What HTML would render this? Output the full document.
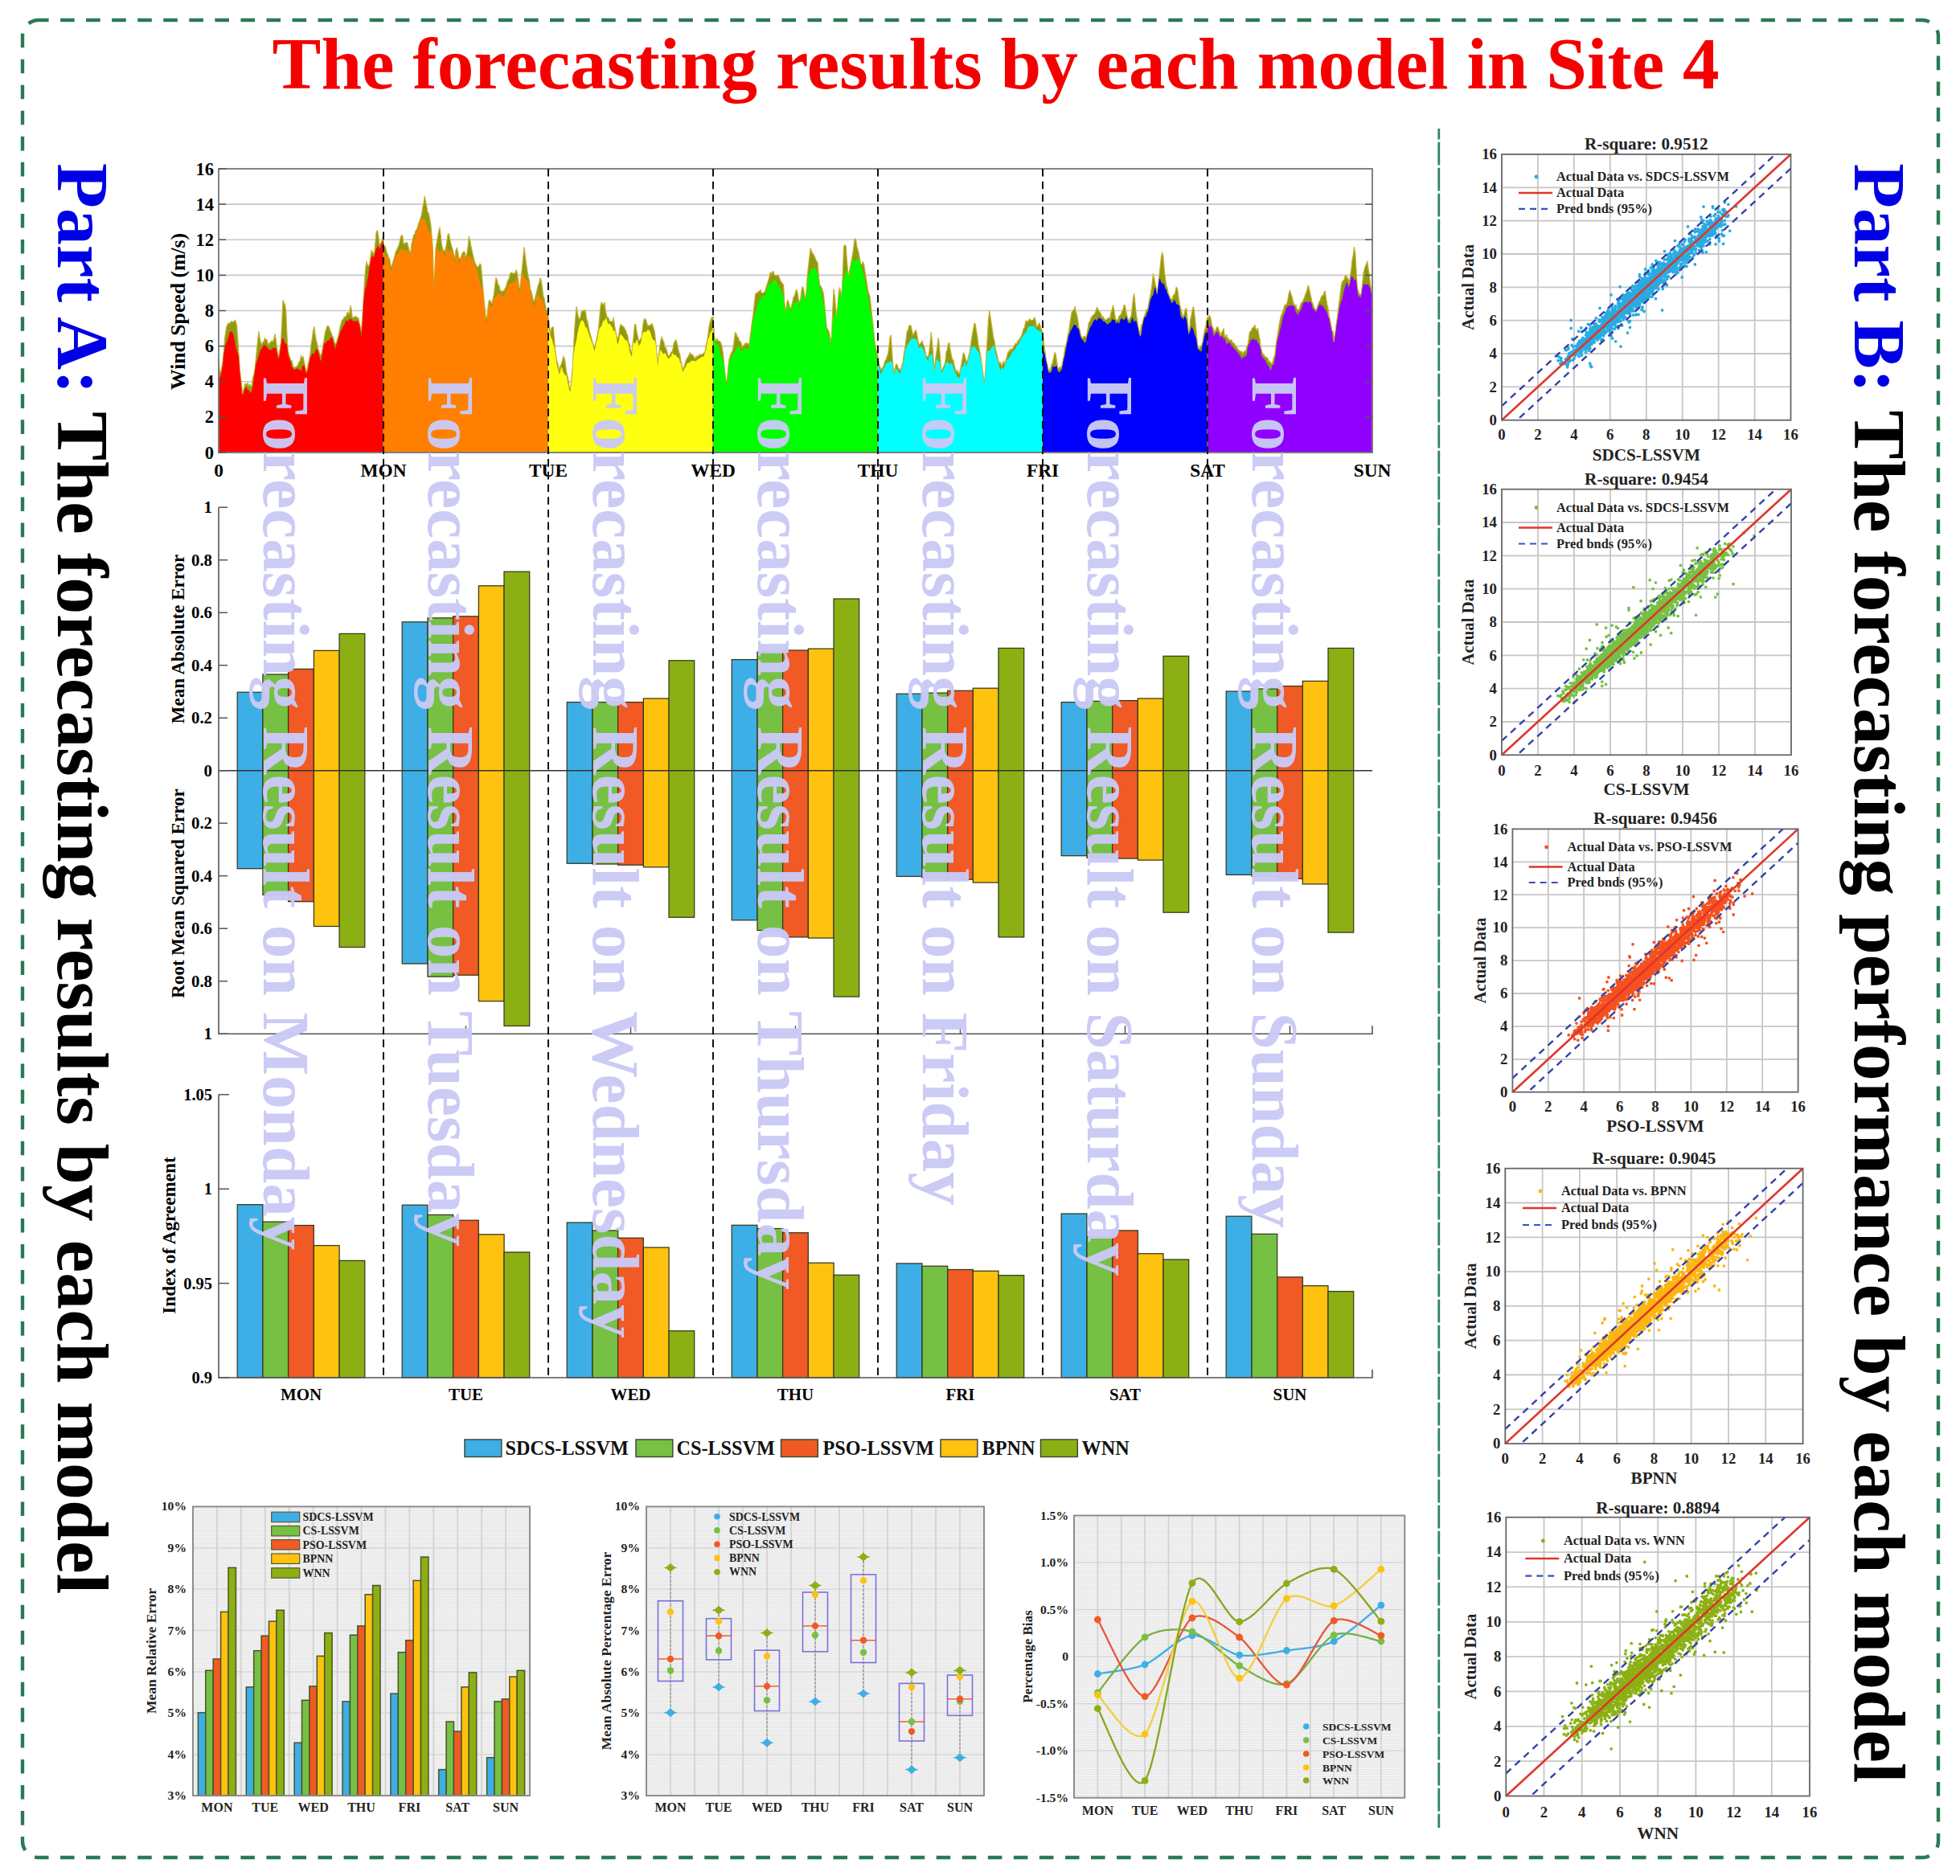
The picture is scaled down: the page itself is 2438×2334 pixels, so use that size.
<!DOCTYPE html>
<html><head><meta charset="utf-8"><title>The forecasting results by each model in Site 4</title>
<style>html,body{margin:0;padding:0;background:#fff}svg{display:block}text{font-family:"Liberation Serif",serif}</style></head>
<body><svg width="2438" height="2334" viewBox="0 0 2438 2334">
<rect width="2438" height="2334" fill="#fff"/>
<rect x="28" y="25" width="2383" height="2286" rx="20" ry="20" fill="none" stroke="#297b55" stroke-width="4.4" stroke-dasharray="17.6 14.45" stroke-dashoffset="5"/>
<line x1="1789.8" y1="160" x2="1789.8" y2="2274" stroke="#2f8560" stroke-width="2.8" stroke-dasharray="28.8 3.2" stroke-dashoffset="15.2"/>
<text x="1238.6" y="110.0" font-size="91.2" font-weight="bold" text-anchor="middle" fill="#f50000" >The forecasting results by each model in Site 4</text>
<text transform="translate(71.5,203) rotate(90)" font-size="91.7" font-weight="bold"><tspan fill="#0000e6">Part A:</tspan><tspan fill="#000"> The forecasting results by each model</tspan></text>
<text transform="translate(2307,203.3) rotate(90)" font-size="91.2" font-weight="bold"><tspan fill="#0000e6">Part B:</tspan><tspan fill="#000"> The forecasting performance by each model</tspan></text>
<rect x="272.0" y="210.0" width="1435.0" height="353.0" fill="#fff"/>
<line x1="272.0" y1="518.9" x2="1707.0" y2="518.9" stroke="#c8c8c8" stroke-width="1.6"/>
<line x1="272.0" y1="474.8" x2="1707.0" y2="474.8" stroke="#c8c8c8" stroke-width="1.6"/>
<line x1="272.0" y1="430.6" x2="1707.0" y2="430.6" stroke="#c8c8c8" stroke-width="1.6"/>
<line x1="272.0" y1="386.5" x2="1707.0" y2="386.5" stroke="#c8c8c8" stroke-width="1.6"/>
<line x1="272.0" y1="342.4" x2="1707.0" y2="342.4" stroke="#c8c8c8" stroke-width="1.6"/>
<line x1="272.0" y1="298.2" x2="1707.0" y2="298.2" stroke="#c8c8c8" stroke-width="1.6"/>
<line x1="272.0" y1="254.1" x2="1707.0" y2="254.1" stroke="#c8c8c8" stroke-width="1.6"/>
<path d="M272.0,563.0L272.0,446.7L273.2,463.3L274.5,462.5L275.8,456.6L277.0,451.4L278.2,438.3L279.5,421.5L280.8,412.3L282.0,405.9L283.2,403.4L284.5,401.5L285.8,402.9L287.0,400.7L288.2,399.6L289.5,400.7L290.8,400.3L292.0,398.1L293.2,400.1L294.5,404.2L295.8,422.2L297.0,440.7L298.2,458.3L299.5,471.4L300.8,481.1L302.0,489.8L303.2,484.5L304.5,478.3L305.8,477.1L307.0,478.9L308.2,476.2L309.5,480.7L310.8,478.3L312.0,481.2L313.2,479.7L314.5,469.8L315.8,465.4L317.0,458.9L318.2,447.5L319.5,434.6L320.8,422.0L322.0,412.4L323.2,420.8L324.5,426.7L325.8,428.6L327.0,425.3L328.2,424.8L329.5,420.7L330.8,422.2L332.0,423.0L333.2,427.2L334.5,428.9L335.8,425.8L337.0,425.6L338.2,423.9L339.5,425.6L340.8,421.3L342.0,415.6L343.2,422.7L344.5,432.5L345.8,441.1L347.0,442.8L348.2,433.4L349.5,425.1L350.8,400.1L352.0,373.7L353.2,376.9L354.5,378.6L355.8,388.5L357.0,417.9L358.2,435.6L359.5,440.8L360.8,445.4L362.0,448.4L363.2,448.9L364.5,455.2L365.8,457.6L367.0,456.9L368.2,456.4L369.5,455.8L370.8,453.5L372.0,450.1L373.2,449.6L374.5,442.0L375.8,445.5L377.0,443.4L378.2,449.2L379.5,455.8L380.8,462.2L382.0,460.3L383.2,452.7L384.5,447.6L385.8,441.4L387.0,428.6L388.2,422.3L389.5,411.9L390.8,406.4L392.0,416.0L393.2,422.7L394.5,427.7L395.8,434.3L397.0,437.5L398.2,441.3L399.5,442.2L400.8,436.5L402.0,427.7L403.2,421.6L404.5,413.3L405.8,409.6L407.0,405.5L408.2,405.7L409.5,407.2L410.8,411.7L412.0,414.0L413.2,417.5L414.5,419.5L415.8,424.9L417.0,427.7L418.2,427.0L419.5,422.5L420.8,418.1L422.0,412.1L423.2,406.2L424.5,401.3L425.8,397.5L427.0,397.5L428.2,394.2L429.5,394.5L430.8,392.7L432.0,388.8L433.2,388.8L434.5,391.7L435.8,380.5L437.0,384.1L438.2,394.7L439.5,395.6L440.8,394.6L442.0,393.4L443.2,393.8L444.5,396.0L445.8,395.2L447.0,401.0L448.2,407.3L449.5,411.2L450.8,395.9L452.0,375.1L453.2,353.2L454.5,336.6L455.8,325.3L457.0,329.3L458.2,331.4L459.5,328.9L460.8,320.0L462.0,311.7L463.2,312.9L464.5,316.0L465.8,313.4L467.0,301.3L468.2,287.7L469.5,286.7L470.8,294.7L472.0,304.8L473.2,303.1L474.5,301.1L475.8,296.7L477.0,292.9L477.0,563.0Z" fill="#8e9a12" stroke="#c9b030" stroke-width="1.2" stroke-linejoin="round"/>
<path d="M272.0,563.0L272.0,449.1L273.2,470.0L274.5,468.1L275.8,462.3L277.0,454.4L278.2,441.3L279.5,434.0L280.8,428.2L282.0,424.9L283.2,421.7L284.5,418.3L285.8,413.1L287.0,412.1L288.2,412.8L289.5,414.1L290.8,418.1L292.0,424.7L293.2,430.7L294.5,436.3L295.8,439.2L297.0,444.2L298.2,461.5L299.5,473.6L300.8,488.2L302.0,492.1L303.2,487.4L304.5,483.2L305.8,482.3L307.0,482.4L308.2,485.8L309.5,484.7L310.8,488.6L312.0,488.6L313.2,485.9L314.5,480.2L315.8,470.4L317.0,462.2L318.2,453.3L319.5,449.7L320.8,445.8L322.0,442.6L323.2,437.6L324.5,435.2L325.8,432.9L327.0,431.5L328.2,428.7L329.5,429.5L330.8,430.1L332.0,432.1L333.2,433.3L334.5,434.6L335.8,435.8L337.0,434.8L338.2,435.2L339.5,432.6L340.8,433.1L342.0,433.3L343.2,432.2L344.5,438.6L345.8,445.9L347.0,445.4L348.2,437.9L349.5,429.5L350.8,421.1L352.0,421.2L353.2,423.2L354.5,426.7L355.8,428.5L357.0,428.1L358.2,441.2L359.5,444.6L360.8,448.5L362.0,452.1L363.2,457.1L364.5,458.0L365.8,460.4L367.0,459.8L368.2,459.1L369.5,458.5L370.8,458.8L372.0,459.9L373.2,459.5L374.5,462.2L375.8,456.0L377.0,455.0L378.2,453.8L379.5,458.6L380.8,464.7L382.0,463.6L383.2,458.4L384.5,451.3L385.8,444.8L387.0,442.7L388.2,439.7L389.5,439.6L390.8,440.6L392.0,436.6L393.2,434.6L394.5,434.1L395.8,437.4L397.0,442.6L398.2,447.4L399.5,449.2L400.8,440.4L402.0,433.9L403.2,426.7L404.5,427.5L405.8,425.4L407.0,423.6L408.2,423.9L409.5,423.3L410.8,420.7L412.0,419.9L413.2,419.7L414.5,425.8L415.8,429.4L417.0,434.9L418.2,429.7L419.5,425.4L420.8,421.1L422.0,417.1L423.2,413.1L424.5,410.6L425.8,409.0L427.0,405.1L428.2,404.2L429.5,400.4L430.8,398.5L432.0,399.0L433.2,400.0L434.5,396.0L435.8,397.5L437.0,396.9L438.2,398.5L439.5,399.8L440.8,399.2L442.0,400.1L443.2,399.6L444.5,399.1L445.8,400.7L447.0,403.2L448.2,410.1L449.5,418.8L450.8,400.5L452.0,378.1L453.2,365.4L454.5,359.3L455.8,354.7L457.0,348.5L458.2,342.4L459.5,332.7L460.8,325.9L462.0,320.6L463.2,318.0L464.5,320.0L465.8,318.9L467.0,311.3L468.2,308.9L469.5,307.0L470.8,306.0L472.0,310.0L473.2,307.9L474.5,303.4L475.8,300.6L477.0,299.0L477.0,563.0Z" fill="#ff0000"/>
<path d="M477.0,563.0L477.0,305.3L478.2,306.7L479.5,306.8L480.8,313.2L482.0,316.0L483.2,320.3L484.5,322.2L485.8,329.2L487.0,332.6L488.2,328.2L489.5,323.1L490.8,319.0L492.0,313.9L493.2,311.8L494.5,308.7L495.8,306.1L497.0,301.6L498.2,295.8L499.5,292.4L500.8,293.6L502.0,304.5L503.2,302.7L504.5,302.4L505.8,301.3L507.0,303.4L508.2,307.8L509.5,312.7L510.8,315.2L512.0,303.6L513.2,298.9L514.5,292.8L515.8,291.6L517.0,287.1L518.2,285.9L519.5,282.2L520.8,277.8L522.0,274.6L523.2,271.5L524.5,266.4L525.8,258.0L527.0,252.6L528.2,244.1L529.5,250.5L530.8,257.0L532.0,263.8L533.2,265.2L534.5,271.9L535.8,279.4L537.0,292.8L538.2,307.2L539.5,356.2L540.8,337.6L542.0,309.2L543.2,302.2L544.5,294.3L545.8,287.4L547.0,282.9L548.2,292.6L549.5,305.0L550.8,309.4L552.0,312.5L553.2,312.3L554.5,308.5L555.8,300.7L557.0,292.2L558.2,290.6L559.5,296.6L560.8,302.7L562.0,307.0L563.2,310.6L564.5,317.1L565.8,321.9L567.0,311.8L568.2,308.1L569.5,313.3L570.8,321.3L572.0,322.2L573.2,320.0L574.5,316.6L575.8,314.0L577.0,313.0L578.2,314.0L579.5,321.5L580.8,315.5L582.0,307.4L583.2,294.2L584.5,298.4L585.8,305.7L587.0,311.2L588.2,316.9L589.5,322.1L590.8,327.0L592.0,329.6L593.2,331.8L594.5,332.6L595.8,330.6L597.0,328.1L598.2,329.7L599.5,343.1L600.8,358.9L602.0,373.4L603.2,384.4L604.5,396.9L605.8,394.0L607.0,382.4L608.2,374.2L609.5,373.5L610.8,375.8L612.0,378.1L613.2,371.7L614.5,365.7L615.8,353.5L617.0,345.4L618.2,348.2L619.5,353.7L620.8,355.2L622.0,361.2L623.2,361.2L624.5,363.5L625.8,361.7L627.0,361.9L628.2,358.9L629.5,356.9L630.8,351.4L632.0,348.4L633.2,346.8L634.5,340.8L635.8,338.9L637.0,339.6L638.2,340.6L639.5,339.7L640.8,340.5L642.0,335.7L643.2,339.1L644.5,347.4L645.8,358.7L647.0,357.4L648.2,345.0L649.5,333.2L650.8,320.1L652.0,307.5L653.2,317.3L654.5,327.6L655.8,336.3L657.0,343.9L658.2,348.1L659.5,359.2L660.8,362.4L662.0,367.5L663.2,373.5L664.5,374.9L665.8,369.6L667.0,365.2L668.2,359.6L669.5,354.6L670.8,351.4L672.0,345.6L673.2,348.9L674.5,357.7L675.8,368.3L677.0,371.3L678.2,379.4L679.5,385.2L680.8,386.8L682.0,393.7L682.0,563.0Z" fill="#8e9a12" stroke="#c9b030" stroke-width="1.2" stroke-linejoin="round"/>
<path d="M477.0,563.0L477.0,313.6L478.2,316.4L479.5,319.8L480.8,318.7L482.0,320.8L483.2,324.2L484.5,329.3L485.8,332.4L487.0,337.8L488.2,332.4L489.5,327.4L490.8,321.8L492.0,318.8L493.2,316.7L494.5,316.0L495.8,314.5L497.0,312.0L498.2,310.4L499.5,309.0L500.8,312.0L502.0,308.2L503.2,312.9L504.5,312.1L505.8,311.8L507.0,309.2L508.2,312.2L509.5,315.9L510.8,317.4L512.0,312.9L513.2,303.3L514.5,299.0L515.8,295.1L517.0,293.1L518.2,288.1L519.5,285.6L520.8,282.4L522.0,278.2L523.2,274.2L524.5,272.7L525.8,272.9L527.0,271.7L528.2,273.9L529.5,274.2L530.8,279.6L532.0,283.5L533.2,287.6L534.5,287.6L535.8,290.4L537.0,297.6L538.2,311.6L539.5,362.2L540.8,347.3L542.0,315.8L543.2,307.6L544.5,310.4L545.8,311.5L547.0,315.1L548.2,313.9L549.5,308.0L550.8,312.9L552.0,316.5L553.2,321.2L554.5,312.0L555.8,308.3L557.0,311.8L558.2,313.0L559.5,312.0L560.8,311.1L562.0,311.8L563.2,317.8L564.5,324.6L565.8,326.8L567.0,315.4L568.2,316.6L569.5,319.9L570.8,327.1L572.0,326.2L573.2,322.1L574.5,318.8L575.8,317.9L577.0,315.8L578.2,317.0L579.5,324.5L580.8,324.8L582.0,317.0L583.2,318.8L584.5,319.2L585.8,320.1L587.0,322.1L588.2,323.2L589.5,328.5L590.8,332.1L592.0,333.4L593.2,335.0L594.5,339.9L595.8,346.2L597.0,351.6L598.2,354.8L599.5,359.4L600.8,363.0L602.0,376.5L603.2,390.0L604.5,402.6L605.8,396.8L607.0,388.0L608.2,377.9L609.5,380.6L610.8,381.1L612.0,381.6L613.2,379.7L614.5,370.0L615.8,370.1L617.0,367.9L618.2,367.1L619.5,365.2L620.8,366.0L622.0,364.6L623.2,366.8L624.5,367.2L625.8,370.7L627.0,367.4L628.2,364.3L629.5,360.3L630.8,358.8L632.0,355.9L633.2,352.8L634.5,352.7L635.8,352.0L637.0,351.8L638.2,351.4L639.5,351.7L640.8,348.1L642.0,347.7L643.2,343.0L644.5,354.3L645.8,364.8L647.0,362.5L648.2,349.1L649.5,340.6L650.8,341.9L652.0,344.1L653.2,346.3L654.5,347.7L655.8,349.2L657.0,350.1L658.2,357.3L659.5,362.3L660.8,369.7L662.0,374.5L663.2,378.8L664.5,383.3L665.8,376.3L667.0,368.7L668.2,365.8L669.5,367.5L670.8,368.7L672.0,371.7L673.2,371.3L674.5,373.0L675.8,373.8L677.0,382.2L678.2,384.5L679.5,388.4L680.8,395.4L682.0,398.5L682.0,563.0Z" fill="#ff8000"/>
<path d="M682.0,563.0L682.0,395.2L683.2,404.0L684.5,415.5L685.8,408.3L687.0,407.1L688.2,406.7L689.5,422.4L690.8,437.2L692.0,446.4L693.2,450.9L694.5,455.5L695.8,461.3L697.0,455.8L698.2,453.2L699.5,449.1L700.8,443.3L702.0,445.5L703.2,451.8L704.5,462.3L705.8,467.8L707.0,473.2L708.2,482.3L709.5,483.7L710.8,473.1L712.0,460.0L713.2,440.3L714.5,411.3L715.8,395.8L717.0,381.3L718.2,388.5L719.5,394.8L720.8,397.2L722.0,394.1L723.2,388.5L724.5,386.9L725.8,386.0L727.0,387.2L728.2,385.7L729.5,396.0L730.8,399.9L732.0,405.8L733.2,412.5L734.5,417.0L735.8,421.3L737.0,425.9L738.2,429.3L739.5,431.3L740.8,428.2L742.0,422.5L743.2,416.7L744.5,408.8L745.8,394.5L747.0,381.2L748.2,376.1L749.5,377.8L750.8,379.8L752.0,376.3L753.2,386.2L754.5,392.5L755.8,395.5L757.0,395.5L758.2,399.6L759.5,399.6L760.8,400.2L762.0,400.3L763.2,395.1L764.5,405.1L765.8,412.3L767.0,418.3L768.2,421.2L769.5,418.8L770.8,408.0L772.0,403.7L773.2,404.2L774.5,406.1L775.8,406.4L777.0,408.8L778.2,410.7L779.5,414.7L780.8,417.7L782.0,426.5L783.2,427.8L784.5,437.0L785.8,438.3L787.0,429.1L788.2,417.0L789.5,403.2L790.8,403.8L792.0,412.4L793.2,417.8L794.5,423.8L795.8,423.5L797.0,421.4L798.2,419.1L799.5,406.9L800.8,398.2L802.0,396.5L803.2,397.5L804.5,401.4L805.8,405.9L807.0,404.8L808.2,405.0L809.5,404.2L810.8,402.4L812.0,405.3L813.2,408.9L814.5,414.2L815.8,426.8L817.0,439.5L818.2,451.6L819.5,442.5L820.8,430.0L822.0,423.3L823.2,418.8L824.5,423.2L825.8,425.6L827.0,432.1L828.2,432.2L829.5,436.1L830.8,441.8L832.0,443.0L833.2,441.9L834.5,438.2L835.8,438.3L837.0,433.9L838.2,427.0L839.5,424.6L840.8,422.7L842.0,427.0L843.2,432.0L844.5,438.1L845.8,441.2L847.0,449.8L848.2,454.5L849.5,459.3L850.8,456.9L852.0,452.7L853.2,448.4L854.5,446.1L855.8,444.1L857.0,441.7L858.2,438.7L859.5,440.9L860.8,441.7L862.0,441.3L863.2,444.5L864.5,446.6L865.8,443.1L867.0,444.9L868.2,442.1L869.5,443.1L870.8,440.4L872.0,441.5L873.2,441.0L874.5,439.3L875.8,440.4L877.0,437.4L878.2,429.8L879.5,424.9L880.8,416.3L882.0,406.3L883.2,401.0L884.5,397.2L885.8,394.1L887.0,394.0L887.0,563.0Z" fill="#8e9a12" stroke="#c9b030" stroke-width="1.2" stroke-linejoin="round"/>
<path d="M682.0,563.0L682.0,407.0L683.2,411.4L684.5,417.5L685.8,420.6L687.0,422.9L688.2,428.7L689.5,432.0L690.8,442.1L692.0,450.7L693.2,456.1L694.5,461.4L695.8,465.5L697.0,461.7L698.2,455.9L699.5,459.3L700.8,463.3L702.0,465.1L703.2,467.3L704.5,466.4L705.8,473.8L707.0,480.7L708.2,484.9L709.5,487.4L710.8,476.4L712.0,467.2L713.2,445.9L714.5,434.3L715.8,428.1L717.0,423.5L718.2,415.8L719.5,409.2L720.8,404.7L722.0,400.2L723.2,399.4L724.5,397.9L725.8,399.9L727.0,402.8L728.2,407.5L729.5,406.8L730.8,410.8L732.0,414.1L733.2,418.3L734.5,421.6L735.8,424.9L737.0,428.0L738.2,432.1L739.5,437.0L740.8,430.7L742.0,426.2L743.2,421.8L744.5,413.7L745.8,408.3L747.0,407.0L748.2,405.7L749.5,401.8L750.8,398.1L752.0,399.4L753.2,395.8L754.5,396.6L755.8,401.8L757.0,403.5L758.2,402.3L759.5,404.0L760.8,406.4L762.0,407.7L763.2,412.5L764.5,410.4L765.8,414.9L767.0,420.9L768.2,429.2L769.5,425.2L770.8,418.6L772.0,415.1L773.2,417.0L774.5,418.3L775.8,420.6L777.0,421.9L778.2,423.5L779.5,423.2L780.8,426.1L782.0,428.7L783.2,437.4L784.5,440.5L785.8,444.0L787.0,431.3L788.2,425.6L789.5,427.6L790.8,425.9L792.0,422.8L793.2,423.3L794.5,430.8L795.8,428.2L797.0,426.9L798.2,421.3L799.5,414.4L800.8,413.3L802.0,412.6L803.2,413.4L804.5,411.9L805.8,410.2L807.0,410.8L808.2,411.7L809.5,414.7L810.8,419.6L812.0,422.2L813.2,423.4L814.5,423.1L815.8,429.7L817.0,444.9L818.2,454.9L819.5,445.4L820.8,438.3L822.0,434.4L823.2,438.1L824.5,439.3L825.8,440.9L827.0,438.6L828.2,440.6L829.5,443.6L830.8,445.2L832.0,446.8L833.2,444.3L834.5,443.8L835.8,440.5L837.0,438.8L838.2,441.7L839.5,441.3L840.8,442.0L842.0,443.9L843.2,445.1L844.5,445.5L845.8,450.4L847.0,452.8L848.2,458.1L849.5,463.2L850.8,459.8L852.0,457.7L853.2,455.7L854.5,452.2L855.8,451.8L857.0,451.4L858.2,451.0L859.5,448.9L860.8,448.5L862.0,449.1L863.2,449.0L864.5,448.7L865.8,449.9L867.0,447.1L868.2,447.7L869.5,445.5L870.8,446.1L872.0,444.3L873.2,443.8L874.5,444.2L875.8,442.5L877.0,439.8L878.2,435.3L879.5,428.8L880.8,421.7L882.0,419.8L883.2,414.8L884.5,412.9L885.8,410.5L887.0,406.1L887.0,563.0Z" fill="#ffff10"/>
<path d="M887.0,563.0L887.0,396.4L888.2,412.9L889.5,423.9L890.8,423.9L892.0,421.0L893.2,423.9L894.5,424.6L895.8,424.6L897.0,427.8L898.2,431.4L899.5,440.5L900.8,453.8L902.0,465.2L903.2,475.7L904.5,471.5L905.8,457.1L907.0,446.9L908.2,443.4L909.5,439.2L910.8,437.6L912.0,432.4L913.2,423.9L914.5,413.5L915.8,415.2L917.0,419.0L918.2,419.5L919.5,424.4L920.8,424.4L922.0,427.1L923.2,432.3L924.5,430.0L925.8,428.9L927.0,427.3L928.2,426.6L929.5,428.0L930.8,427.0L932.0,429.3L933.2,418.8L934.5,408.8L935.8,398.6L937.0,390.1L938.2,378.9L939.5,366.6L940.8,364.3L942.0,364.6L943.2,362.6L944.5,362.8L945.8,360.2L947.0,363.7L948.2,364.8L949.5,364.4L950.8,363.7L952.0,360.7L953.2,356.7L954.5,353.0L955.8,348.6L957.0,344.3L958.2,338.7L959.5,340.9L960.8,338.6L962.0,337.4L963.2,342.2L964.5,342.7L965.8,342.5L967.0,342.7L968.2,342.5L969.5,345.8L970.8,349.7L972.0,350.4L973.2,353.1L974.5,354.0L975.8,376.0L977.0,387.1L978.2,382.1L979.5,373.0L980.8,375.3L982.0,380.4L983.2,384.5L984.5,381.1L985.8,375.5L987.0,370.0L988.2,368.2L989.5,363.4L990.8,360.0L992.0,364.2L993.2,371.6L994.5,376.8L995.8,371.8L997.0,361.4L998.2,356.3L999.5,359.0L1000.8,367.9L1002.0,371.2L1003.2,360.5L1004.5,340.4L1005.8,328.8L1007.0,318.4L1008.2,308.9L1009.5,312.8L1010.8,315.1L1012.0,316.7L1013.2,319.0L1014.5,322.5L1015.8,325.0L1017.0,326.6L1018.2,341.3L1019.5,354.4L1020.8,355.8L1022.0,358.3L1023.2,361.1L1024.5,366.4L1025.8,379.8L1027.0,394.2L1028.2,406.4L1029.5,409.7L1030.8,411.9L1032.0,415.8L1033.2,425.9L1034.5,417.9L1035.8,384.3L1037.0,359.8L1038.2,367.3L1039.5,382.4L1040.8,394.7L1042.0,380.8L1043.2,364.5L1044.5,357.8L1045.8,363.7L1047.0,368.7L1048.2,344.4L1049.5,306.7L1050.8,304.9L1052.0,305.0L1053.2,320.7L1054.5,336.6L1055.8,343.2L1057.0,335.3L1058.2,329.5L1059.5,321.6L1060.8,315.2L1062.0,305.8L1063.2,296.9L1064.5,297.8L1065.8,306.7L1067.0,310.5L1068.2,315.0L1069.5,322.4L1070.8,329.0L1072.0,329.0L1073.2,325.6L1074.5,328.2L1075.8,336.2L1077.0,344.7L1078.2,351.2L1079.5,360.3L1080.8,365.4L1082.0,368.6L1083.2,378.9L1084.5,391.6L1085.8,403.3L1087.0,414.0L1088.2,426.2L1089.5,433.4L1090.8,439.2L1092.0,442.8L1092.0,563.0Z" fill="#8e9a12" stroke="#c9b030" stroke-width="1.2" stroke-linejoin="round"/>
<path d="M887.0,563.0L887.0,412.5L888.2,416.4L889.5,427.0L890.8,427.0L892.0,429.0L893.2,428.1L894.5,433.9L895.8,440.2L897.0,443.4L898.2,445.4L899.5,448.3L900.8,457.6L902.0,468.4L903.2,479.7L904.5,475.0L905.8,463.9L907.0,449.7L908.2,446.3L909.5,445.5L910.8,442.4L912.0,440.3L913.2,438.0L914.5,437.4L915.8,433.8L917.0,431.7L918.2,432.3L919.5,430.2L920.8,433.4L922.0,436.9L923.2,435.5L924.5,435.0L925.8,433.7L927.0,432.7L928.2,433.6L929.5,433.6L930.8,435.5L932.0,431.4L933.2,423.1L934.5,414.6L935.8,404.8L937.0,396.7L938.2,392.9L939.5,389.8L940.8,385.4L942.0,379.7L943.2,376.5L944.5,373.4L945.8,372.5L947.0,369.5L948.2,368.4L949.5,367.6L950.8,367.1L952.0,367.8L953.2,362.1L954.5,356.2L955.8,354.4L957.0,353.6L958.2,355.1L959.5,351.1L960.8,350.5L962.0,351.1L963.2,348.0L964.5,348.6L965.8,349.9L967.0,352.3L968.2,356.0L969.5,357.5L970.8,358.8L972.0,362.5L973.2,364.8L974.5,369.8L975.8,380.6L977.0,392.2L978.2,384.3L979.5,379.4L980.8,378.2L982.0,383.1L983.2,388.8L984.5,384.3L985.8,379.8L987.0,378.1L988.2,375.9L989.5,376.0L990.8,375.4L992.0,373.6L993.2,375.0L994.5,382.8L995.8,374.0L997.0,367.2L998.2,363.4L999.5,368.4L1000.8,370.6L1002.0,376.8L1003.2,365.7L1004.5,345.8L1005.8,341.6L1007.0,338.8L1008.2,337.2L1009.5,334.8L1010.8,334.0L1012.0,333.6L1013.2,333.5L1014.5,334.1L1015.8,336.7L1017.0,341.4L1018.2,346.9L1019.5,357.7L1020.8,359.6L1022.0,365.2L1023.2,372.4L1024.5,380.1L1025.8,385.0L1027.0,396.5L1028.2,412.1L1029.5,412.9L1030.8,414.2L1032.0,419.0L1033.2,431.1L1034.5,422.0L1035.8,398.9L1037.0,393.5L1038.2,390.4L1039.5,386.5L1040.8,398.9L1042.0,383.2L1043.2,369.1L1044.5,362.2L1045.8,366.6L1047.0,371.6L1048.2,350.5L1049.5,348.1L1050.8,342.5L1052.0,339.4L1053.2,335.0L1054.5,339.9L1055.8,345.2L1057.0,340.2L1058.2,333.6L1059.5,328.6L1060.8,321.3L1062.0,322.9L1063.2,324.6L1064.5,326.1L1065.8,321.4L1067.0,321.4L1068.2,323.0L1069.5,324.7L1070.8,331.5L1072.0,331.9L1073.2,338.4L1074.5,342.1L1075.8,347.8L1077.0,353.9L1078.2,361.8L1079.5,367.2L1080.8,375.1L1082.0,384.6L1083.2,389.6L1084.5,397.2L1085.8,407.1L1087.0,420.9L1088.2,429.7L1089.5,435.9L1090.8,443.2L1092.0,452.0L1092.0,563.0Z" fill="#00ff00"/>
<path d="M1092.0,563.0L1092.0,445.3L1093.2,450.9L1094.5,456.1L1095.8,459.5L1097.0,458.7L1098.2,456.8L1099.5,454.7L1100.8,448.8L1102.0,448.0L1103.2,443.7L1104.5,440.9L1105.8,431.5L1107.0,420.3L1108.2,416.9L1109.5,437.3L1110.8,455.3L1112.0,464.3L1113.2,458.2L1114.5,454.0L1115.8,452.8L1117.0,457.7L1118.2,458.7L1119.5,460.5L1120.8,457.9L1122.0,454.1L1123.2,450.0L1124.5,439.0L1125.8,431.9L1127.0,422.2L1128.2,412.3L1129.5,410.9L1130.8,405.2L1132.0,404.7L1133.2,405.4L1134.5,412.2L1135.8,417.2L1137.0,414.6L1138.2,411.9L1139.5,410.6L1140.8,417.3L1142.0,424.6L1143.2,429.5L1144.5,427.6L1145.8,426.5L1147.0,423.9L1148.2,428.0L1149.5,430.7L1150.8,436.9L1152.0,442.8L1153.2,443.8L1154.5,444.3L1155.8,437.6L1157.0,426.6L1158.2,413.3L1159.5,426.6L1160.8,441.6L1162.0,463.2L1163.2,450.9L1164.5,440.4L1165.8,431.9L1167.0,420.6L1168.2,427.6L1169.5,444.4L1170.8,461.3L1172.0,459.9L1173.2,457.0L1174.5,454.8L1175.8,450.1L1177.0,437.9L1178.2,435.2L1179.5,427.1L1180.8,426.6L1182.0,434.5L1183.2,441.0L1184.5,446.9L1185.8,447.9L1187.0,454.0L1188.2,458.7L1189.5,463.1L1190.8,460.2L1192.0,464.2L1193.2,464.7L1194.5,459.8L1195.8,454.0L1197.0,446.3L1198.2,438.8L1199.5,440.2L1200.8,445.3L1202.0,450.1L1203.2,449.1L1204.5,444.6L1205.8,438.9L1207.0,432.7L1208.2,424.0L1209.5,415.6L1210.8,408.9L1212.0,401.9L1213.2,403.3L1214.5,411.9L1215.8,419.4L1217.0,429.3L1218.2,434.5L1219.5,441.1L1220.8,450.6L1222.0,458.6L1223.2,467.8L1224.5,476.6L1225.8,460.4L1227.0,438.5L1228.2,420.3L1229.5,397.2L1230.8,386.6L1232.0,394.8L1233.2,402.8L1234.5,411.4L1235.8,420.6L1237.0,424.1L1238.2,434.5L1239.5,438.1L1240.8,444.2L1242.0,449.1L1243.2,451.8L1244.5,450.7L1245.8,455.1L1247.0,453.3L1248.2,449.2L1249.5,453.0L1250.8,448.7L1252.0,445.6L1253.2,440.3L1254.5,436.5L1255.8,438.0L1257.0,433.6L1258.2,434.9L1259.5,434.2L1260.8,431.0L1262.0,429.6L1263.2,427.0L1264.5,428.3L1265.8,424.8L1267.0,423.5L1268.2,421.6L1269.5,419.5L1270.8,417.3L1272.0,413.0L1273.2,409.0L1274.5,407.1L1275.8,400.1L1277.0,398.9L1278.2,400.9L1279.5,398.7L1280.8,396.8L1282.0,398.2L1283.2,398.5L1284.5,398.4L1285.8,397.0L1287.0,394.8L1288.2,399.2L1289.5,407.0L1290.8,405.1L1292.0,402.8L1293.2,401.9L1294.5,407.7L1295.8,410.3L1297.0,415.4L1297.0,563.0Z" fill="#8e9a12" stroke="#c9b030" stroke-width="1.2" stroke-linejoin="round"/>
<path d="M1092.0,563.0L1092.0,454.7L1093.2,455.4L1094.5,461.0L1095.8,466.5L1097.0,462.8L1098.2,459.8L1099.5,457.1L1100.8,457.0L1102.0,452.4L1103.2,451.4L1104.5,451.1L1105.8,450.0L1107.0,450.0L1108.2,449.6L1109.5,449.8L1110.8,461.6L1112.0,466.6L1113.2,462.5L1114.5,456.9L1115.8,459.9L1117.0,460.7L1118.2,464.3L1119.5,464.7L1120.8,460.1L1122.0,456.3L1123.2,452.8L1124.5,447.3L1125.8,436.3L1127.0,433.4L1128.2,430.8L1129.5,427.3L1130.8,427.0L1132.0,423.6L1133.2,422.6L1134.5,420.4L1135.8,422.1L1137.0,421.5L1138.2,421.5L1139.5,421.9L1140.8,424.1L1142.0,430.1L1143.2,433.2L1144.5,431.4L1145.8,431.1L1147.0,433.1L1148.2,433.6L1149.5,437.5L1150.8,441.6L1152.0,444.8L1153.2,447.0L1154.5,449.5L1155.8,444.1L1157.0,441.1L1158.2,440.7L1159.5,440.9L1160.8,453.5L1162.0,466.1L1163.2,457.7L1164.5,448.2L1165.8,446.3L1167.0,448.8L1168.2,450.3L1169.5,450.2L1170.8,463.9L1172.0,462.6L1173.2,460.4L1174.5,457.7L1175.8,453.8L1177.0,451.4L1178.2,449.7L1179.5,451.1L1180.8,453.4L1182.0,452.0L1183.2,451.9L1184.5,452.3L1185.8,457.0L1187.0,460.1L1188.2,464.3L1189.5,465.6L1190.8,469.9L1192.0,469.1L1193.2,470.9L1194.5,463.5L1195.8,456.7L1197.0,456.4L1198.2,455.4L1199.5,451.5L1200.8,449.6L1202.0,456.2L1203.2,452.2L1204.5,446.8L1205.8,442.4L1207.0,437.2L1208.2,432.6L1209.5,432.6L1210.8,431.4L1212.0,430.5L1213.2,432.7L1214.5,433.9L1215.8,436.8L1217.0,437.3L1218.2,439.9L1219.5,446.6L1220.8,452.7L1222.0,462.0L1223.2,470.4L1224.5,479.1L1225.8,464.7L1227.0,446.1L1228.2,435.4L1229.5,437.1L1230.8,436.5L1232.0,435.0L1233.2,433.3L1234.5,431.0L1235.8,429.4L1237.0,433.9L1238.2,439.1L1239.5,444.2L1240.8,447.6L1242.0,451.7L1243.2,457.6L1244.5,461.2L1245.8,457.2L1247.0,457.6L1248.2,459.8L1249.5,455.7L1250.8,452.3L1252.0,448.1L1253.2,447.4L1254.5,446.6L1255.8,442.9L1257.0,443.3L1258.2,439.4L1259.5,437.0L1260.8,437.0L1262.0,435.1L1263.2,434.2L1264.5,430.3L1265.8,430.0L1267.0,428.1L1268.2,425.5L1269.5,422.8L1270.8,420.1L1272.0,418.7L1273.2,416.5L1274.5,413.7L1275.8,414.9L1277.0,412.1L1278.2,407.6L1279.5,406.7L1280.8,406.0L1282.0,405.5L1283.2,406.1L1284.5,406.1L1285.8,404.6L1287.0,406.8L1288.2,408.2L1289.5,409.9L1290.8,411.3L1292.0,411.3L1293.2,412.0L1294.5,411.4L1295.8,415.0L1297.0,417.6L1297.0,563.0Z" fill="#00ffff"/>
<path d="M1297.0,563.0L1297.0,415.2L1298.2,424.2L1299.5,434.5L1300.8,443.6L1302.0,450.2L1303.2,454.8L1304.5,461.3L1305.8,460.9L1307.0,457.1L1308.2,453.4L1309.5,450.5L1310.8,444.2L1312.0,438.4L1313.2,440.7L1314.5,449.7L1315.8,457.4L1317.0,459.1L1318.2,456.6L1319.5,457.8L1320.8,454.9L1322.0,449.2L1323.2,443.9L1324.5,433.8L1325.8,430.0L1327.0,424.4L1328.2,416.7L1329.5,412.0L1330.8,402.8L1332.0,395.2L1333.2,388.4L1334.5,386.6L1335.8,385.6L1337.0,381.3L1338.2,387.7L1339.5,391.5L1340.8,398.4L1342.0,407.4L1343.2,410.9L1344.5,417.0L1345.8,420.1L1347.0,420.4L1348.2,418.3L1349.5,418.1L1350.8,420.1L1352.0,415.1L1353.2,408.3L1354.5,400.9L1355.8,399.8L1357.0,395.7L1358.2,393.7L1359.5,392.1L1360.8,391.3L1362.0,389.5L1363.2,386.8L1364.5,382.0L1365.8,384.9L1367.0,386.8L1368.2,388.5L1369.5,390.5L1370.8,394.2L1372.0,393.9L1373.2,395.9L1374.5,397.9L1375.8,398.1L1377.0,397.1L1378.2,395.3L1379.5,396.1L1380.8,395.3L1382.0,387.9L1383.2,385.3L1384.5,379.9L1385.8,385.3L1387.0,394.0L1388.2,397.8L1389.5,398.8L1390.8,397.1L1392.0,393.0L1393.2,392.6L1394.5,390.3L1395.8,387.6L1397.0,384.6L1398.2,379.1L1399.5,380.5L1400.8,388.0L1402.0,392.8L1403.2,397.7L1404.5,398.5L1405.8,395.2L1407.0,393.3L1408.2,383.7L1409.5,371.2L1410.8,365.4L1412.0,378.8L1413.2,389.5L1414.5,398.4L1415.8,406.7L1417.0,411.6L1418.2,416.8L1419.5,404.4L1420.8,403.0L1422.0,397.3L1423.2,393.7L1424.5,390.6L1425.8,385.4L1427.0,385.8L1428.2,382.0L1429.5,373.5L1430.8,368.5L1432.0,360.9L1433.2,352.5L1434.5,340.6L1435.8,346.3L1437.0,353.4L1438.2,358.7L1439.5,365.0L1440.8,352.8L1442.0,341.6L1443.2,331.3L1444.5,318.8L1445.8,313.8L1447.0,320.6L1448.2,335.5L1449.5,346.5L1450.8,355.4L1452.0,358.2L1453.2,364.4L1454.5,367.4L1455.8,371.0L1457.0,372.9L1458.2,371.8L1459.5,367.0L1460.8,366.7L1462.0,362.9L1463.2,357.0L1464.5,359.4L1465.8,368.0L1467.0,376.8L1468.2,381.3L1469.5,386.3L1470.8,392.7L1472.0,394.0L1473.2,389.4L1474.5,384.2L1475.8,383.6L1477.0,395.9L1478.2,411.9L1479.5,411.5L1480.8,396.8L1482.0,392.4L1483.2,385.1L1484.5,381.4L1485.8,390.3L1487.0,401.3L1488.2,414.2L1489.5,429.2L1490.8,433.3L1492.0,433.1L1493.2,431.4L1494.5,429.9L1495.8,426.1L1497.0,417.6L1498.2,411.5L1499.5,407.3L1500.8,399.0L1502.0,394.4L1502.0,563.0Z" fill="#8e9a12" stroke="#c9b030" stroke-width="1.2" stroke-linejoin="round"/>
<path d="M1297.0,563.0L1297.0,433.0L1298.2,437.0L1299.5,440.0L1300.8,447.9L1302.0,452.8L1303.2,459.2L1304.5,464.1L1305.8,463.5L1307.0,463.4L1308.2,462.0L1309.5,455.4L1310.8,456.3L1312.0,456.4L1313.2,456.0L1314.5,455.0L1315.8,462.5L1317.0,462.5L1318.2,463.2L1319.5,461.3L1320.8,459.6L1322.0,453.0L1323.2,446.0L1324.5,442.6L1325.8,434.6L1327.0,427.8L1328.2,422.7L1329.5,416.9L1330.8,414.0L1332.0,410.9L1333.2,409.2L1334.5,406.6L1335.8,404.1L1337.0,404.6L1338.2,404.1L1339.5,407.3L1340.8,408.6L1342.0,409.8L1343.2,415.8L1344.5,420.0L1345.8,422.4L1347.0,423.0L1348.2,425.4L1349.5,426.4L1350.8,425.6L1352.0,419.5L1353.2,414.7L1354.5,411.8L1355.8,407.4L1357.0,406.3L1358.2,403.7L1359.5,400.9L1360.8,398.4L1362.0,397.4L1363.2,397.5L1364.5,399.5L1365.8,396.4L1367.0,395.3L1368.2,396.1L1369.5,396.9L1370.8,397.5L1372.0,399.8L1373.2,400.1L1374.5,400.4L1375.8,401.9L1377.0,403.4L1378.2,403.6L1379.5,402.0L1380.8,401.4L1382.0,400.4L1383.2,397.5L1384.5,397.2L1385.8,398.3L1387.0,398.2L1388.2,402.9L1389.5,401.0L1390.8,401.2L1392.0,403.1L1393.2,399.1L1394.5,396.1L1395.8,396.8L1397.0,397.0L1398.2,398.6L1399.5,396.9L1400.8,393.4L1402.0,396.7L1403.2,401.8L1404.5,401.6L1405.8,402.5L1407.0,400.1L1408.2,394.4L1409.5,397.2L1410.8,401.1L1412.0,399.4L1413.2,398.8L1414.5,403.9L1415.8,409.1L1417.0,415.6L1418.2,418.9L1419.5,417.1L1420.8,407.4L1422.0,400.7L1423.2,396.1L1424.5,394.0L1425.8,393.5L1427.0,388.9L1428.2,386.8L1429.5,380.0L1430.8,373.8L1432.0,370.9L1433.2,368.1L1434.5,367.3L1435.8,360.1L1437.0,356.7L1438.2,363.7L1439.5,367.3L1440.8,356.0L1442.0,346.7L1443.2,347.4L1444.5,352.3L1445.8,351.7L1447.0,353.5L1448.2,353.9L1449.5,359.2L1450.8,359.9L1452.0,365.1L1453.2,367.2L1454.5,370.4L1455.8,373.2L1457.0,377.2L1458.2,376.4L1459.5,375.6L1460.8,372.8L1462.0,374.9L1463.2,378.5L1464.5,378.5L1465.8,379.6L1467.0,380.3L1468.2,391.9L1469.5,395.4L1470.8,395.1L1472.0,397.9L1473.2,393.0L1474.5,394.9L1475.8,397.2L1477.0,404.7L1478.2,416.1L1479.5,414.7L1480.8,410.8L1482.0,406.3L1483.2,408.3L1484.5,410.5L1485.8,415.9L1487.0,418.4L1488.2,422.1L1489.5,431.8L1490.8,435.6L1492.0,435.8L1493.2,437.0L1494.5,437.2L1495.8,429.1L1497.0,424.4L1498.2,418.1L1499.5,414.2L1500.8,413.0L1502.0,409.3L1502.0,563.0Z" fill="#0000ff"/>
<path d="M1502.0,563.0L1502.0,394.6L1503.2,394.8L1504.5,392.6L1505.8,395.2L1507.0,402.3L1508.2,406.9L1509.5,409.0L1510.8,413.3L1512.0,410.9L1513.2,407.7L1514.5,406.5L1515.8,409.7L1517.0,412.3L1518.2,416.9L1519.5,413.9L1520.8,411.4L1522.0,408.8L1523.2,417.0L1524.5,419.7L1525.8,416.1L1527.0,422.0L1528.2,421.0L1529.5,423.8L1530.8,423.3L1532.0,422.9L1533.2,426.3L1534.5,426.8L1535.8,427.9L1537.0,430.8L1538.2,431.2L1539.5,433.9L1540.8,435.5L1542.0,436.7L1543.2,437.9L1544.5,436.8L1545.8,441.2L1547.0,438.1L1548.2,436.6L1549.5,437.4L1550.8,430.8L1552.0,429.7L1553.2,421.8L1554.5,412.5L1555.8,412.5L1557.0,409.6L1558.2,407.4L1559.5,407.6L1560.8,404.2L1562.0,408.4L1563.2,411.1L1564.5,408.4L1565.8,416.2L1567.0,421.9L1568.2,431.9L1569.5,436.7L1570.8,440.5L1572.0,441.0L1573.2,443.6L1574.5,443.9L1575.8,444.7L1577.0,445.8L1578.2,450.2L1579.5,449.2L1580.8,451.7L1582.0,452.6L1583.2,450.0L1584.5,444.2L1585.8,442.1L1587.0,429.5L1588.2,421.7L1589.5,414.6L1590.8,405.6L1592.0,399.3L1593.2,393.7L1594.5,390.8L1595.8,387.5L1597.0,382.8L1598.2,379.3L1599.5,379.4L1600.8,377.3L1602.0,372.5L1603.2,364.9L1604.5,361.1L1605.8,365.6L1607.0,369.0L1608.2,374.2L1609.5,378.5L1610.8,380.5L1612.0,378.8L1613.2,384.9L1614.5,385.1L1615.8,385.3L1617.0,381.6L1618.2,377.4L1619.5,376.3L1620.8,374.0L1622.0,371.6L1623.2,367.9L1624.5,364.3L1625.8,361.2L1627.0,355.0L1628.2,357.8L1629.5,364.4L1630.8,369.6L1632.0,375.9L1633.2,378.1L1634.5,382.2L1635.8,384.3L1637.0,386.1L1638.2,382.9L1639.5,379.3L1640.8,375.6L1642.0,373.9L1643.2,369.9L1644.5,367.7L1645.8,367.8L1647.0,363.6L1648.2,362.0L1649.5,370.9L1650.8,378.9L1652.0,383.5L1653.2,393.3L1654.5,397.9L1655.8,405.0L1657.0,412.3L1658.2,411.9L1659.5,423.6L1660.8,415.0L1662.0,404.0L1663.2,397.3L1664.5,385.0L1665.8,375.7L1667.0,367.1L1668.2,356.2L1669.5,350.5L1670.8,349.2L1672.0,347.8L1673.2,343.4L1674.5,342.3L1675.8,346.4L1677.0,346.1L1678.2,353.5L1679.5,343.3L1680.8,334.9L1682.0,323.6L1683.2,317.5L1684.5,307.4L1685.8,315.7L1687.0,335.6L1688.2,357.8L1689.5,361.6L1690.8,365.7L1692.0,365.8L1693.2,366.6L1694.5,354.7L1695.8,340.7L1697.0,335.7L1698.2,331.8L1699.5,328.5L1700.8,324.9L1702.0,334.4L1703.2,341.0L1704.5,353.6L1705.8,359.3L1707.0,368.2L1707.0,563.0Z" fill="#8e9a12" stroke="#c9b030" stroke-width="1.2" stroke-linejoin="round"/>
<path d="M1502.0,563.0L1502.0,402.0L1503.2,403.5L1504.5,406.6L1505.8,406.3L1507.0,405.8L1508.2,410.9L1509.5,418.1L1510.8,416.9L1512.0,414.4L1513.2,412.7L1514.5,413.1L1515.8,415.0L1517.0,418.2L1518.2,419.4L1519.5,418.0L1520.8,418.7L1522.0,422.2L1523.2,420.3L1524.5,424.9L1525.8,429.4L1527.0,425.8L1528.2,427.2L1529.5,425.9L1530.8,428.1L1532.0,430.7L1533.2,430.8L1534.5,433.0L1535.8,434.7L1537.0,435.0L1538.2,437.3L1539.5,438.2L1540.8,439.9L1542.0,441.9L1543.2,443.9L1544.5,447.6L1545.8,444.2L1547.0,444.8L1548.2,444.1L1549.5,441.8L1550.8,443.0L1552.0,431.9L1553.2,427.6L1554.5,427.4L1555.8,422.9L1557.0,422.5L1558.2,422.2L1559.5,420.7L1560.8,424.1L1562.0,422.5L1563.2,422.7L1564.5,427.2L1565.8,426.9L1567.0,430.7L1568.2,434.3L1569.5,443.7L1570.8,444.4L1572.0,446.6L1573.2,447.3L1574.5,449.7L1575.8,452.1L1577.0,454.7L1578.2,454.9L1579.5,459.2L1580.8,460.8L1582.0,456.3L1583.2,453.9L1584.5,453.8L1585.8,446.5L1587.0,438.4L1588.2,426.9L1589.5,420.9L1590.8,417.0L1592.0,411.1L1593.2,407.1L1594.5,401.1L1595.8,395.3L1597.0,391.8L1598.2,389.1L1599.5,384.5L1600.8,382.2L1602.0,380.8L1603.2,381.2L1604.5,379.9L1605.8,379.8L1607.0,380.5L1608.2,380.0L1609.5,380.7L1610.8,383.5L1612.0,389.1L1613.2,388.9L1614.5,393.1L1615.8,388.7L1617.0,387.0L1618.2,385.8L1619.5,381.8L1620.8,378.1L1622.0,375.8L1623.2,375.7L1624.5,375.5L1625.8,375.2L1627.0,377.5L1628.2,375.1L1629.5,375.1L1630.8,376.2L1632.0,380.2L1633.2,384.7L1634.5,385.0L1635.8,386.7L1637.0,388.3L1638.2,385.3L1639.5,382.5L1640.8,379.7L1642.0,378.2L1643.2,379.9L1644.5,380.8L1645.8,380.3L1647.0,383.1L1648.2,385.1L1649.5,386.7L1650.8,389.4L1652.0,394.3L1653.2,396.0L1654.5,403.5L1655.8,409.1L1657.0,414.6L1658.2,425.7L1659.5,426.0L1660.8,417.2L1662.0,410.0L1663.2,399.8L1664.5,392.6L1665.8,384.6L1667.0,379.3L1668.2,375.4L1669.5,372.2L1670.8,366.4L1672.0,360.5L1673.2,356.7L1674.5,352.5L1675.8,351.3L1677.0,356.9L1678.2,356.9L1679.5,350.2L1680.8,342.7L1682.0,344.5L1683.2,345.6L1684.5,349.6L1685.8,347.6L1687.0,347.9L1688.2,360.5L1689.5,369.1L1690.8,368.3L1692.0,370.4L1693.2,369.1L1694.5,359.1L1695.8,353.7L1697.0,353.4L1698.2,354.2L1699.5,354.1L1700.8,354.2L1702.0,353.6L1703.2,356.8L1704.5,359.5L1705.8,366.2L1707.0,370.5L1707.0,563.0Z" fill="#9000ff"/>
<rect x="272.0" y="210.0" width="1435.0" height="353.0" fill="none" stroke="#777" stroke-width="1.8"/>
<line x1="272.0" y1="563.0" x2="281.0" y2="563.0" stroke="#555" stroke-width="1.5"/>
<text x="266.0" y="570.5" font-size="22.5" font-weight="bold" text-anchor="end" fill="#000" >0</text>
<line x1="272.0" y1="518.9" x2="281.0" y2="518.9" stroke="#555" stroke-width="1.5"/>
<line x1="1707.0" y1="518.9" x2="1698.0" y2="518.9" stroke="#555" stroke-width="1.5"/>
<text x="266.0" y="526.4" font-size="22.5" font-weight="bold" text-anchor="end" fill="#000" >2</text>
<line x1="272.0" y1="474.8" x2="281.0" y2="474.8" stroke="#555" stroke-width="1.5"/>
<line x1="1707.0" y1="474.8" x2="1698.0" y2="474.8" stroke="#555" stroke-width="1.5"/>
<text x="266.0" y="482.2" font-size="22.5" font-weight="bold" text-anchor="end" fill="#000" >4</text>
<line x1="272.0" y1="430.6" x2="281.0" y2="430.6" stroke="#555" stroke-width="1.5"/>
<line x1="1707.0" y1="430.6" x2="1698.0" y2="430.6" stroke="#555" stroke-width="1.5"/>
<text x="266.0" y="438.1" font-size="22.5" font-weight="bold" text-anchor="end" fill="#000" >6</text>
<line x1="272.0" y1="386.5" x2="281.0" y2="386.5" stroke="#555" stroke-width="1.5"/>
<line x1="1707.0" y1="386.5" x2="1698.0" y2="386.5" stroke="#555" stroke-width="1.5"/>
<text x="266.0" y="394.0" font-size="22.5" font-weight="bold" text-anchor="end" fill="#000" >8</text>
<line x1="272.0" y1="342.4" x2="281.0" y2="342.4" stroke="#555" stroke-width="1.5"/>
<line x1="1707.0" y1="342.4" x2="1698.0" y2="342.4" stroke="#555" stroke-width="1.5"/>
<text x="266.0" y="349.9" font-size="22.5" font-weight="bold" text-anchor="end" fill="#000" >10</text>
<line x1="272.0" y1="298.2" x2="281.0" y2="298.2" stroke="#555" stroke-width="1.5"/>
<line x1="1707.0" y1="298.2" x2="1698.0" y2="298.2" stroke="#555" stroke-width="1.5"/>
<text x="266.0" y="305.8" font-size="22.5" font-weight="bold" text-anchor="end" fill="#000" >12</text>
<line x1="272.0" y1="254.1" x2="281.0" y2="254.1" stroke="#555" stroke-width="1.5"/>
<line x1="1707.0" y1="254.1" x2="1698.0" y2="254.1" stroke="#555" stroke-width="1.5"/>
<text x="266.0" y="261.6" font-size="22.5" font-weight="bold" text-anchor="end" fill="#000" >14</text>
<line x1="272.0" y1="210.0" x2="281.0" y2="210.0" stroke="#555" stroke-width="1.5"/>
<text x="266.0" y="217.5" font-size="22.5" font-weight="bold" text-anchor="end" fill="#000" >16</text>
<text x="0" y="0" transform="translate(229.5,387.5) rotate(-90)" font-size="25.7" font-weight="bold" text-anchor="middle" fill="#000" >Wind Speed (m/s)</text>
<text x="272.0" y="592.5" font-size="23.3" font-weight="bold" text-anchor="middle" fill="#000" >0</text>
<text x="477.0" y="592.5" font-size="23.3" font-weight="bold" text-anchor="middle" fill="#000" >MON</text>
<text x="682.0" y="592.5" font-size="23.3" font-weight="bold" text-anchor="middle" fill="#000" >TUE</text>
<text x="887.0" y="592.5" font-size="23.3" font-weight="bold" text-anchor="middle" fill="#000" >WED</text>
<text x="1092.0" y="592.5" font-size="23.3" font-weight="bold" text-anchor="middle" fill="#000" >THU</text>
<text x="1297.0" y="592.5" font-size="23.3" font-weight="bold" text-anchor="middle" fill="#000" >FRI</text>
<text x="1502.0" y="592.5" font-size="23.3" font-weight="bold" text-anchor="middle" fill="#000" >SAT</text>
<text x="1707.0" y="592.5" font-size="23.3" font-weight="bold" text-anchor="middle" fill="#000" >SUN</text>
<rect x="295.2" y="861.2" width="31.7" height="219.5" fill="#3daee6" stroke="#33381c" stroke-width="1.25"/>
<rect x="326.9" y="839.0" width="31.7" height="274.3" fill="#76c043" stroke="#33381c" stroke-width="1.25"/>
<rect x="358.6" y="832.4" width="31.7" height="289.3" fill="#f15a24" stroke="#33381c" stroke-width="1.25"/>
<rect x="390.4" y="809.4" width="31.7" height="343.1" fill="#ffc20e" stroke="#33381c" stroke-width="1.25"/>
<rect x="422.1" y="788.4" width="31.7" height="390.1" fill="#8cb014" stroke="#33381c" stroke-width="1.25"/>
<rect x="500.2" y="773.8" width="31.7" height="425.2" fill="#3daee6" stroke="#33381c" stroke-width="1.25"/>
<rect x="532.0" y="768.8" width="31.7" height="446.3" fill="#76c043" stroke="#33381c" stroke-width="1.25"/>
<rect x="563.6" y="766.8" width="31.7" height="446.4" fill="#f15a24" stroke="#33381c" stroke-width="1.25"/>
<rect x="595.4" y="728.8" width="31.7" height="516.8" fill="#ffc20e" stroke="#33381c" stroke-width="1.25"/>
<rect x="627.0" y="711.2" width="31.7" height="565.2" fill="#8cb014" stroke="#33381c" stroke-width="1.25"/>
<rect x="705.2" y="873.6" width="31.7" height="200.7" fill="#3daee6" stroke="#33381c" stroke-width="1.25"/>
<rect x="737.0" y="873.6" width="31.7" height="201.4" fill="#76c043" stroke="#33381c" stroke-width="1.25"/>
<rect x="768.6" y="873.6" width="31.7" height="202.6" fill="#f15a24" stroke="#33381c" stroke-width="1.25"/>
<rect x="800.4" y="869.0" width="31.7" height="209.8" fill="#ffc20e" stroke="#33381c" stroke-width="1.25"/>
<rect x="832.0" y="821.8" width="31.7" height="319.5" fill="#8cb014" stroke="#33381c" stroke-width="1.25"/>
<rect x="910.2" y="820.6" width="31.7" height="324.2" fill="#3daee6" stroke="#33381c" stroke-width="1.25"/>
<rect x="942.0" y="811.3" width="31.7" height="346.2" fill="#76c043" stroke="#33381c" stroke-width="1.25"/>
<rect x="973.6" y="809.0" width="31.7" height="356.9" fill="#f15a24" stroke="#33381c" stroke-width="1.25"/>
<rect x="1005.4" y="807.1" width="31.7" height="359.9" fill="#ffc20e" stroke="#33381c" stroke-width="1.25"/>
<rect x="1037.0" y="745.0" width="31.7" height="495.0" fill="#8cb014" stroke="#33381c" stroke-width="1.25"/>
<rect x="1115.2" y="863.2" width="31.7" height="227.2" fill="#3daee6" stroke="#33381c" stroke-width="1.25"/>
<rect x="1147.0" y="862.1" width="31.7" height="230.1" fill="#76c043" stroke="#33381c" stroke-width="1.25"/>
<rect x="1178.7" y="859.3" width="31.7" height="234.9" fill="#f15a24" stroke="#33381c" stroke-width="1.25"/>
<rect x="1210.3" y="856.2" width="31.7" height="241.8" fill="#ffc20e" stroke="#33381c" stroke-width="1.25"/>
<rect x="1242.0" y="806.4" width="31.7" height="359.5" fill="#8cb014" stroke="#33381c" stroke-width="1.25"/>
<rect x="1320.2" y="873.6" width="31.7" height="191.1" fill="#3daee6" stroke="#33381c" stroke-width="1.25"/>
<rect x="1352.0" y="872.4" width="31.7" height="194.9" fill="#76c043" stroke="#33381c" stroke-width="1.25"/>
<rect x="1383.7" y="871.6" width="31.7" height="196.5" fill="#f15a24" stroke="#33381c" stroke-width="1.25"/>
<rect x="1415.3" y="869.0" width="31.7" height="201.1" fill="#ffc20e" stroke="#33381c" stroke-width="1.25"/>
<rect x="1447.0" y="816.3" width="31.7" height="318.9" fill="#8cb014" stroke="#33381c" stroke-width="1.25"/>
<rect x="1525.2" y="860.1" width="31.7" height="228.3" fill="#3daee6" stroke="#33381c" stroke-width="1.25"/>
<rect x="1557.0" y="857.0" width="31.7" height="233.3" fill="#76c043" stroke="#33381c" stroke-width="1.25"/>
<rect x="1588.7" y="853.6" width="31.7" height="239.7" fill="#f15a24" stroke="#33381c" stroke-width="1.25"/>
<rect x="1620.3" y="847.4" width="31.7" height="252.5" fill="#ffc20e" stroke="#33381c" stroke-width="1.25"/>
<rect x="1652.0" y="806.4" width="31.7" height="353.7" fill="#8cb014" stroke="#33381c" stroke-width="1.25"/>
<line x1="272.0" y1="958.7" x2="1707.0" y2="958.7" stroke="#333" stroke-width="1.4"/>
<path d="M272.0,631.2V1286.2H1707.0v-10" fill="none" stroke="#555" stroke-width="1.6"/>
<line x1="272.0" y1="631.2" x2="283.0" y2="631.2" stroke="#555" stroke-width="1.5"/>
<text x="264.0" y="638.2" font-size="20.8" font-weight="bold" text-anchor="end" fill="#000" >1</text>
<line x1="272.0" y1="696.7" x2="283.0" y2="696.7" stroke="#555" stroke-width="1.5"/>
<text x="264.0" y="703.7" font-size="20.8" font-weight="bold" text-anchor="end" fill="#000" >0.8</text>
<line x1="272.0" y1="762.2" x2="283.0" y2="762.2" stroke="#555" stroke-width="1.5"/>
<text x="264.0" y="769.2" font-size="20.8" font-weight="bold" text-anchor="end" fill="#000" >0.6</text>
<line x1="272.0" y1="827.7" x2="283.0" y2="827.7" stroke="#555" stroke-width="1.5"/>
<text x="264.0" y="834.7" font-size="20.8" font-weight="bold" text-anchor="end" fill="#000" >0.4</text>
<line x1="272.0" y1="893.2" x2="283.0" y2="893.2" stroke="#555" stroke-width="1.5"/>
<text x="264.0" y="900.2" font-size="20.8" font-weight="bold" text-anchor="end" fill="#000" >0.2</text>
<line x1="272.0" y1="958.7" x2="283.0" y2="958.7" stroke="#555" stroke-width="1.5"/>
<text x="264.0" y="965.7" font-size="20.8" font-weight="bold" text-anchor="end" fill="#000" >0</text>
<line x1="272.0" y1="1024.2" x2="283.0" y2="1024.2" stroke="#555" stroke-width="1.5"/>
<text x="264.0" y="1031.2" font-size="20.8" font-weight="bold" text-anchor="end" fill="#000" >0.2</text>
<line x1="272.0" y1="1089.7" x2="283.0" y2="1089.7" stroke="#555" stroke-width="1.5"/>
<text x="264.0" y="1096.7" font-size="20.8" font-weight="bold" text-anchor="end" fill="#000" >0.4</text>
<line x1="272.0" y1="1155.2" x2="283.0" y2="1155.2" stroke="#555" stroke-width="1.5"/>
<text x="264.0" y="1162.2" font-size="20.8" font-weight="bold" text-anchor="end" fill="#000" >0.6</text>
<line x1="272.0" y1="1220.7" x2="283.0" y2="1220.7" stroke="#555" stroke-width="1.5"/>
<text x="264.0" y="1227.7" font-size="20.8" font-weight="bold" text-anchor="end" fill="#000" >0.8</text>
<line x1="272.0" y1="1286.2" x2="283.0" y2="1286.2" stroke="#555" stroke-width="1.5"/>
<text x="264.0" y="1293.2" font-size="20.8" font-weight="bold" text-anchor="end" fill="#000" >1</text>
<line x1="374.5" y1="1286.2" x2="374.5" y2="1276.2" stroke="#555" stroke-width="1.5"/>
<line x1="579.5" y1="1286.2" x2="579.5" y2="1276.2" stroke="#555" stroke-width="1.5"/>
<line x1="784.5" y1="1286.2" x2="784.5" y2="1276.2" stroke="#555" stroke-width="1.5"/>
<line x1="989.5" y1="1286.2" x2="989.5" y2="1276.2" stroke="#555" stroke-width="1.5"/>
<line x1="1194.5" y1="1286.2" x2="1194.5" y2="1276.2" stroke="#555" stroke-width="1.5"/>
<line x1="1399.5" y1="1286.2" x2="1399.5" y2="1276.2" stroke="#555" stroke-width="1.5"/>
<line x1="1604.5" y1="1286.2" x2="1604.5" y2="1276.2" stroke="#555" stroke-width="1.5"/>
<text x="0" y="0" transform="translate(228.5,795.0) rotate(-90)" font-size="23" font-weight="bold" text-anchor="middle" fill="#000" >Mean Absolute Error</text>
<text x="0" y="0" transform="translate(228.5,1111.5) rotate(-90)" font-size="23" font-weight="bold" text-anchor="middle" fill="#000" >Root Mean Squared Error</text>
<rect x="295.2" y="1498.7" width="31.7" height="215.3" fill="#3daee6" stroke="#33381c" stroke-width="1.25"/>
<rect x="326.9" y="1520.1" width="31.7" height="193.9" fill="#76c043" stroke="#33381c" stroke-width="1.25"/>
<rect x="358.6" y="1524.5" width="31.7" height="189.5" fill="#f15a24" stroke="#33381c" stroke-width="1.25"/>
<rect x="390.4" y="1549.6" width="31.7" height="164.4" fill="#ffc20e" stroke="#33381c" stroke-width="1.25"/>
<rect x="422.1" y="1568.4" width="31.7" height="145.6" fill="#8cb014" stroke="#33381c" stroke-width="1.25"/>
<rect x="500.2" y="1499.2" width="31.7" height="214.8" fill="#3daee6" stroke="#33381c" stroke-width="1.25"/>
<rect x="532.0" y="1511.4" width="31.7" height="202.6" fill="#76c043" stroke="#33381c" stroke-width="1.25"/>
<rect x="563.6" y="1518.2" width="31.7" height="195.8" fill="#f15a24" stroke="#33381c" stroke-width="1.25"/>
<rect x="595.4" y="1535.8" width="31.7" height="178.2" fill="#ffc20e" stroke="#33381c" stroke-width="1.25"/>
<rect x="627.0" y="1557.9" width="31.7" height="156.1" fill="#8cb014" stroke="#33381c" stroke-width="1.25"/>
<rect x="705.2" y="1521.0" width="31.7" height="193.0" fill="#3daee6" stroke="#33381c" stroke-width="1.25"/>
<rect x="737.0" y="1530.9" width="31.7" height="183.1" fill="#76c043" stroke="#33381c" stroke-width="1.25"/>
<rect x="768.6" y="1540.2" width="31.7" height="173.8" fill="#f15a24" stroke="#33381c" stroke-width="1.25"/>
<rect x="800.4" y="1552.0" width="31.7" height="162.0" fill="#ffc20e" stroke="#33381c" stroke-width="1.25"/>
<rect x="832.0" y="1655.8" width="31.7" height="58.2" fill="#8cb014" stroke="#33381c" stroke-width="1.25"/>
<rect x="910.2" y="1524.3" width="31.7" height="189.7" fill="#3daee6" stroke="#33381c" stroke-width="1.25"/>
<rect x="942.0" y="1528.5" width="31.7" height="185.5" fill="#76c043" stroke="#33381c" stroke-width="1.25"/>
<rect x="973.6" y="1533.7" width="31.7" height="180.3" fill="#f15a24" stroke="#33381c" stroke-width="1.25"/>
<rect x="1005.4" y="1571.2" width="31.7" height="142.8" fill="#ffc20e" stroke="#33381c" stroke-width="1.25"/>
<rect x="1037.0" y="1586.3" width="31.7" height="127.7" fill="#8cb014" stroke="#33381c" stroke-width="1.25"/>
<rect x="1115.2" y="1571.9" width="31.7" height="142.1" fill="#3daee6" stroke="#33381c" stroke-width="1.25"/>
<rect x="1147.0" y="1575.2" width="31.7" height="138.8" fill="#76c043" stroke="#33381c" stroke-width="1.25"/>
<rect x="1178.7" y="1579.5" width="31.7" height="134.5" fill="#f15a24" stroke="#33381c" stroke-width="1.25"/>
<rect x="1210.3" y="1581.3" width="31.7" height="132.7" fill="#ffc20e" stroke="#33381c" stroke-width="1.25"/>
<rect x="1242.0" y="1586.7" width="31.7" height="127.3" fill="#8cb014" stroke="#33381c" stroke-width="1.25"/>
<rect x="1320.2" y="1510.0" width="31.7" height="204.0" fill="#3daee6" stroke="#33381c" stroke-width="1.25"/>
<rect x="1352.0" y="1538.6" width="31.7" height="175.4" fill="#76c043" stroke="#33381c" stroke-width="1.25"/>
<rect x="1383.7" y="1530.9" width="31.7" height="183.1" fill="#f15a24" stroke="#33381c" stroke-width="1.25"/>
<rect x="1415.3" y="1559.7" width="31.7" height="154.3" fill="#ffc20e" stroke="#33381c" stroke-width="1.25"/>
<rect x="1447.0" y="1567.0" width="31.7" height="147.0" fill="#8cb014" stroke="#33381c" stroke-width="1.25"/>
<rect x="1525.2" y="1513.2" width="31.7" height="200.8" fill="#3daee6" stroke="#33381c" stroke-width="1.25"/>
<rect x="1557.0" y="1535.3" width="31.7" height="178.7" fill="#76c043" stroke="#33381c" stroke-width="1.25"/>
<rect x="1588.7" y="1588.9" width="31.7" height="125.1" fill="#f15a24" stroke="#33381c" stroke-width="1.25"/>
<rect x="1620.3" y="1599.7" width="31.7" height="114.3" fill="#ffc20e" stroke="#33381c" stroke-width="1.25"/>
<rect x="1652.0" y="1606.7" width="31.7" height="107.3" fill="#8cb014" stroke="#33381c" stroke-width="1.25"/>
<path d="M272.0,1361.8V1714.0H1707.0v-10" fill="none" stroke="#555" stroke-width="1.6"/>
<line x1="272.0" y1="1714.0" x2="285.0" y2="1714.0" stroke="#555" stroke-width="1.5"/>
<text x="264.0" y="1721.0" font-size="20.5" font-weight="bold" text-anchor="end" fill="#000" >0.9</text>
<line x1="272.0" y1="1596.6" x2="285.0" y2="1596.6" stroke="#555" stroke-width="1.5"/>
<text x="264.0" y="1603.6" font-size="20.5" font-weight="bold" text-anchor="end" fill="#000" >0.95</text>
<line x1="272.0" y1="1479.2" x2="285.0" y2="1479.2" stroke="#555" stroke-width="1.5"/>
<text x="264.0" y="1486.2" font-size="20.5" font-weight="bold" text-anchor="end" fill="#000" >1</text>
<line x1="272.0" y1="1361.8" x2="285.0" y2="1361.8" stroke="#555" stroke-width="1.5"/>
<text x="264.0" y="1368.8" font-size="20.5" font-weight="bold" text-anchor="end" fill="#000" >1.05</text>
<text x="374.5" y="1741.5" font-size="20.9" font-weight="bold" text-anchor="middle" fill="#000" >MON</text>
<text x="579.5" y="1741.5" font-size="20.9" font-weight="bold" text-anchor="middle" fill="#000" >TUE</text>
<text x="784.5" y="1741.5" font-size="20.9" font-weight="bold" text-anchor="middle" fill="#000" >WED</text>
<text x="989.5" y="1741.5" font-size="20.9" font-weight="bold" text-anchor="middle" fill="#000" >THU</text>
<text x="1194.5" y="1741.5" font-size="20.9" font-weight="bold" text-anchor="middle" fill="#000" >FRI</text>
<text x="1399.5" y="1741.5" font-size="20.9" font-weight="bold" text-anchor="middle" fill="#000" >SAT</text>
<text x="1604.5" y="1741.5" font-size="20.9" font-weight="bold" text-anchor="middle" fill="#000" >SUN</text>
<text x="0" y="0" transform="translate(218.4,1537.0) rotate(-90)" font-size="23.2" font-weight="bold" text-anchor="middle" fill="#000" >Index of Agreement</text>
<line x1="477.0" y1="210.0" x2="477.0" y2="1714.0" stroke="#111" stroke-width="2" stroke-dasharray="9.6 6.1"/>
<line x1="682.0" y1="210.0" x2="682.0" y2="1714.0" stroke="#111" stroke-width="2" stroke-dasharray="9.6 6.1"/>
<line x1="887.0" y1="210.0" x2="887.0" y2="1714.0" stroke="#111" stroke-width="2" stroke-dasharray="9.6 6.1"/>
<line x1="1092.0" y1="210.0" x2="1092.0" y2="1714.0" stroke="#111" stroke-width="2" stroke-dasharray="9.6 6.1"/>
<line x1="1297.0" y1="210.0" x2="1297.0" y2="1714.0" stroke="#111" stroke-width="2" stroke-dasharray="9.6 6.1"/>
<line x1="1502.0" y1="210.0" x2="1502.0" y2="1714.0" stroke="#111" stroke-width="2" stroke-dasharray="9.6 6.1"/>
<rect x="578" y="1791" width="45.8" height="21.5" fill="#3daee6" stroke="#3c4a3c" stroke-width="1.5"/>
<text x="628.5" y="1809.8" font-size="24.2" font-weight="bold" text-anchor="start" fill="#111" >SDCS-LSSVM</text>
<rect x="791" y="1791" width="45.8" height="21.5" fill="#76c043" stroke="#3c4a3c" stroke-width="1.5"/>
<text x="841.5" y="1809.8" font-size="24.2" font-weight="bold" text-anchor="start" fill="#111" >CS-LSSVM</text>
<rect x="971.5" y="1791" width="45.8" height="21.5" fill="#f15a24" stroke="#3c4a3c" stroke-width="1.5"/>
<text x="1023.5" y="1809.8" font-size="24.2" font-weight="bold" text-anchor="start" fill="#111" >PSO-LSSVM</text>
<rect x="1170" y="1791" width="45.8" height="21.5" fill="#ffc20e" stroke="#3c4a3c" stroke-width="1.5"/>
<text x="1221.5" y="1809.8" font-size="24.2" font-weight="bold" text-anchor="start" fill="#111" >BPNN</text>
<rect x="1294.5" y="1791" width="45.8" height="21.5" fill="#8cb014" stroke="#3c4a3c" stroke-width="1.5"/>
<text x="1345.5" y="1809.8" font-size="24.2" font-weight="bold" text-anchor="start" fill="#111" >WNN</text>
<text transform="translate(328.4,468.5) rotate(90)" font-size="83.2" font-weight="bold" fill="#cacaf6" opacity="0.97">Forecasting Result on Monday</text>
<text transform="translate(533.4,468.5) rotate(90)" font-size="83.2" font-weight="bold" fill="#cacaf6" opacity="0.97">Forecasting Result on Tuesday</text>
<text transform="translate(738.4,468.5) rotate(90)" font-size="83.2" font-weight="bold" fill="#cacaf6" opacity="0.97">Forecasting Result on Wednesday</text>
<text transform="translate(943.4,468.5) rotate(90)" font-size="83.2" font-weight="bold" fill="#cacaf6" opacity="0.97">Forecasting Result on Thursday</text>
<text transform="translate(1148.4,468.5) rotate(90)" font-size="83.2" font-weight="bold" fill="#cacaf6" opacity="0.97">Forecasting Result on Friday</text>
<text transform="translate(1353.4,468.5) rotate(90)" font-size="83.2" font-weight="bold" fill="#cacaf6" opacity="0.97">Forecasting Result on Saturday</text>
<text transform="translate(1558.4,468.5) rotate(90)" font-size="83.2" font-weight="bold" fill="#cacaf6" opacity="0.97">Forecasting Result on Sunday</text>
<rect x="240.0" y="1874.4" width="419.0" height="359.6" fill="#f3f3f3"/>
<path d="M240.0,1876.97H659.0M240.0,1879.54H659.0M240.0,1882.11H659.0M240.0,1884.67H659.0M240.0,1887.24H659.0M240.0,1889.81H659.0M240.0,1892.38H659.0M240.0,1894.95H659.0M240.0,1897.52H659.0M240.0,1900.09H659.0M240.0,1902.65H659.0M240.0,1905.22H659.0M240.0,1907.79H659.0M240.0,1910.36H659.0M240.0,1912.93H659.0M240.0,1915.50H659.0M240.0,1918.07H659.0M240.0,1920.63H659.0M240.0,1923.20H659.0M240.0,1925.77H659.0M240.0,1928.34H659.0M240.0,1930.91H659.0M240.0,1933.48H659.0M240.0,1936.05H659.0M240.0,1938.61H659.0M240.0,1941.18H659.0M240.0,1943.75H659.0M240.0,1946.32H659.0M240.0,1948.89H659.0M240.0,1951.46H659.0M240.0,1954.03H659.0M240.0,1956.59H659.0M240.0,1959.16H659.0M240.0,1961.73H659.0M240.0,1964.30H659.0M240.0,1966.87H659.0M240.0,1969.44H659.0M240.0,1972.01H659.0M240.0,1974.57H659.0M240.0,1977.14H659.0M240.0,1979.71H659.0M240.0,1982.28H659.0M240.0,1984.85H659.0M240.0,1987.42H659.0M240.0,1989.99H659.0M240.0,1992.55H659.0M240.0,1995.12H659.0M240.0,1997.69H659.0M240.0,2000.26H659.0M240.0,2002.83H659.0M240.0,2005.40H659.0M240.0,2007.97H659.0M240.0,2010.53H659.0M240.0,2013.10H659.0M240.0,2015.67H659.0M240.0,2018.24H659.0M240.0,2020.81H659.0M240.0,2023.38H659.0M240.0,2025.95H659.0M240.0,2028.51H659.0M240.0,2031.08H659.0M240.0,2033.65H659.0M240.0,2036.22H659.0M240.0,2038.79H659.0M240.0,2041.36H659.0M240.0,2043.93H659.0M240.0,2046.49H659.0M240.0,2049.06H659.0M240.0,2051.63H659.0M240.0,2054.20H659.0M240.0,2056.77H659.0M240.0,2059.34H659.0M240.0,2061.91H659.0M240.0,2064.47H659.0M240.0,2067.04H659.0M240.0,2069.61H659.0M240.0,2072.18H659.0M240.0,2074.75H659.0M240.0,2077.32H659.0M240.0,2079.89H659.0M240.0,2082.45H659.0M240.0,2085.02H659.0M240.0,2087.59H659.0M240.0,2090.16H659.0M240.0,2092.73H659.0M240.0,2095.30H659.0M240.0,2097.87H659.0M240.0,2100.43H659.0M240.0,2103.00H659.0M240.0,2105.57H659.0M240.0,2108.14H659.0M240.0,2110.71H659.0M240.0,2113.28H659.0M240.0,2115.85H659.0M240.0,2118.41H659.0M240.0,2120.98H659.0M240.0,2123.55H659.0M240.0,2126.12H659.0M240.0,2128.69H659.0M240.0,2131.26H659.0M240.0,2133.83H659.0M240.0,2136.39H659.0M240.0,2138.96H659.0M240.0,2141.53H659.0M240.0,2144.10H659.0M240.0,2146.67H659.0M240.0,2149.24H659.0M240.0,2151.81H659.0M240.0,2154.37H659.0M240.0,2156.94H659.0M240.0,2159.51H659.0M240.0,2162.08H659.0M240.0,2164.65H659.0M240.0,2167.22H659.0M240.0,2169.79H659.0M240.0,2172.35H659.0M240.0,2174.92H659.0M240.0,2177.49H659.0M240.0,2180.06H659.0M240.0,2182.63H659.0M240.0,2185.20H659.0M240.0,2187.77H659.0M240.0,2190.33H659.0M240.0,2192.90H659.0M240.0,2195.47H659.0M240.0,2198.04H659.0M240.0,2200.61H659.0M240.0,2203.18H659.0M240.0,2205.75H659.0M240.0,2208.31H659.0M240.0,2210.88H659.0M240.0,2213.45H659.0M240.0,2216.02H659.0M240.0,2218.59H659.0M240.0,2221.16H659.0M240.0,2223.73H659.0M240.0,2226.29H659.0M240.0,2228.86H659.0M240.0,2231.43H659.0" stroke="#e7e7e7" stroke-width="1.3"/>
<path d="M254.96,1874.4V2234.0M269.93,1874.4V2234.0M284.89,1874.4V2234.0M299.86,1874.4V2234.0M314.82,1874.4V2234.0M329.79,1874.4V2234.0M344.75,1874.4V2234.0M359.71,1874.4V2234.0M374.68,1874.4V2234.0M389.64,1874.4V2234.0M404.61,1874.4V2234.0M419.57,1874.4V2234.0M434.54,1874.4V2234.0M449.50,1874.4V2234.0M464.46,1874.4V2234.0M479.43,1874.4V2234.0M494.39,1874.4V2234.0M509.36,1874.4V2234.0M524.32,1874.4V2234.0M539.29,1874.4V2234.0M554.25,1874.4V2234.0M569.21,1874.4V2234.0M584.18,1874.4V2234.0M599.14,1874.4V2234.0M614.11,1874.4V2234.0M629.07,1874.4V2234.0M644.04,1874.4V2234.0" stroke="#ececec" stroke-width="1"/>
<path d="M240.0,1925.77H659.0M240.0,1977.14H659.0M240.0,2028.51H659.0M240.0,2079.89H659.0M240.0,2131.26H659.0M240.0,2182.63H659.0" stroke="#d6d6d6" stroke-width="1.5"/>
<path d="M269.93,1874.4V2234.0M299.86,1874.4V2234.0M329.79,1874.4V2234.0M359.71,1874.4V2234.0M389.64,1874.4V2234.0M419.57,1874.4V2234.0M449.50,1874.4V2234.0M479.43,1874.4V2234.0M509.36,1874.4V2234.0M539.29,1874.4V2234.0M569.21,1874.4V2234.0M599.14,1874.4V2234.0M629.07,1874.4V2234.0" stroke="#d0d0d0" stroke-width="1.6"/>
<rect x="246.4" y="2130.7" width="9.4" height="103.3" fill="#3daee6" stroke="#4a5428" stroke-width="1.5"/>
<rect x="255.8" y="2078.3" width="9.4" height="155.7" fill="#76c043" stroke="#4a5428" stroke-width="1.5"/>
<rect x="265.2" y="2064.0" width="9.4" height="170.0" fill="#f15a24" stroke="#4a5428" stroke-width="1.5"/>
<rect x="274.6" y="2005.4" width="9.4" height="228.6" fill="#ffc20e" stroke="#4a5428" stroke-width="1.5"/>
<rect x="284.0" y="1950.4" width="9.4" height="283.6" fill="#8cb014" stroke="#4a5428" stroke-width="1.5"/>
<text x="269.9" y="2254.0" font-size="16" font-weight="bold" text-anchor="middle" fill="#222" >MON</text>
<rect x="306.3" y="2098.9" width="9.4" height="135.1" fill="#3daee6" stroke="#4a5428" stroke-width="1.5"/>
<rect x="315.7" y="2053.7" width="9.4" height="180.3" fill="#76c043" stroke="#4a5428" stroke-width="1.5"/>
<rect x="325.1" y="2035.2" width="9.4" height="198.8" fill="#f15a24" stroke="#4a5428" stroke-width="1.5"/>
<rect x="334.5" y="2017.2" width="9.4" height="216.8" fill="#ffc20e" stroke="#4a5428" stroke-width="1.5"/>
<rect x="343.9" y="2003.3" width="9.4" height="230.7" fill="#8cb014" stroke="#4a5428" stroke-width="1.5"/>
<text x="329.8" y="2254.0" font-size="16" font-weight="bold" text-anchor="middle" fill="#222" >TUE</text>
<rect x="366.1" y="2168.2" width="9.4" height="65.8" fill="#3daee6" stroke="#4a5428" stroke-width="1.5"/>
<rect x="375.5" y="2115.3" width="9.4" height="118.7" fill="#76c043" stroke="#4a5428" stroke-width="1.5"/>
<rect x="384.9" y="2097.9" width="9.4" height="136.1" fill="#f15a24" stroke="#4a5428" stroke-width="1.5"/>
<rect x="394.3" y="2060.4" width="9.4" height="173.6" fill="#ffc20e" stroke="#4a5428" stroke-width="1.5"/>
<rect x="403.7" y="2031.6" width="9.4" height="202.4" fill="#8cb014" stroke="#4a5428" stroke-width="1.5"/>
<text x="389.6" y="2254.0" font-size="16" font-weight="bold" text-anchor="middle" fill="#222" >WED</text>
<rect x="426.0" y="2116.9" width="9.4" height="117.1" fill="#3daee6" stroke="#4a5428" stroke-width="1.5"/>
<rect x="435.4" y="2034.2" width="9.4" height="199.8" fill="#76c043" stroke="#4a5428" stroke-width="1.5"/>
<rect x="444.8" y="2022.9" width="9.4" height="211.1" fill="#f15a24" stroke="#4a5428" stroke-width="1.5"/>
<rect x="454.2" y="1983.8" width="9.4" height="250.2" fill="#ffc20e" stroke="#4a5428" stroke-width="1.5"/>
<rect x="463.6" y="1972.5" width="9.4" height="261.5" fill="#8cb014" stroke="#4a5428" stroke-width="1.5"/>
<text x="449.5" y="2254.0" font-size="16" font-weight="bold" text-anchor="middle" fill="#222" >THU</text>
<rect x="485.9" y="2107.1" width="9.4" height="126.9" fill="#3daee6" stroke="#4a5428" stroke-width="1.5"/>
<rect x="495.3" y="2055.7" width="9.4" height="178.3" fill="#76c043" stroke="#4a5428" stroke-width="1.5"/>
<rect x="504.7" y="2040.8" width="9.4" height="193.2" fill="#f15a24" stroke="#4a5428" stroke-width="1.5"/>
<rect x="514.1" y="1966.4" width="9.4" height="267.6" fill="#ffc20e" stroke="#4a5428" stroke-width="1.5"/>
<rect x="523.5" y="1937.1" width="9.4" height="296.9" fill="#8cb014" stroke="#4a5428" stroke-width="1.5"/>
<text x="509.4" y="2254.0" font-size="16" font-weight="bold" text-anchor="middle" fill="#222" >FRI</text>
<rect x="545.7" y="2201.6" width="9.4" height="32.4" fill="#3daee6" stroke="#4a5428" stroke-width="1.5"/>
<rect x="555.1" y="2142.0" width="9.4" height="92.0" fill="#76c043" stroke="#4a5428" stroke-width="1.5"/>
<rect x="564.5" y="2154.1" width="9.4" height="79.9" fill="#f15a24" stroke="#4a5428" stroke-width="1.5"/>
<rect x="573.9" y="2098.9" width="9.4" height="135.1" fill="#ffc20e" stroke="#4a5428" stroke-width="1.5"/>
<rect x="583.3" y="2080.9" width="9.4" height="153.1" fill="#8cb014" stroke="#4a5428" stroke-width="1.5"/>
<text x="569.2" y="2254.0" font-size="16" font-weight="bold" text-anchor="middle" fill="#222" >SAT</text>
<rect x="605.6" y="2186.7" width="9.4" height="47.3" fill="#3daee6" stroke="#4a5428" stroke-width="1.5"/>
<rect x="615.0" y="2116.9" width="9.4" height="117.1" fill="#76c043" stroke="#4a5428" stroke-width="1.5"/>
<rect x="624.4" y="2113.8" width="9.4" height="120.2" fill="#f15a24" stroke="#4a5428" stroke-width="1.5"/>
<rect x="633.8" y="2086.1" width="9.4" height="147.9" fill="#ffc20e" stroke="#4a5428" stroke-width="1.5"/>
<rect x="643.2" y="2078.3" width="9.4" height="155.7" fill="#8cb014" stroke="#4a5428" stroke-width="1.5"/>
<text x="629.1" y="2254.0" font-size="16" font-weight="bold" text-anchor="middle" fill="#222" >SUN</text>
<rect x="240.0" y="1874.4" width="419.0" height="359.6" fill="none" stroke="#888" stroke-width="1.9"/>
<text x="232.0" y="2239.0" font-size="15.6" font-weight="bold" text-anchor="end" fill="#222" >3%</text>
<text x="232.0" y="2187.6" font-size="15.6" font-weight="bold" text-anchor="end" fill="#222" >4%</text>
<text x="232.0" y="2136.3" font-size="15.6" font-weight="bold" text-anchor="end" fill="#222" >5%</text>
<text x="232.0" y="2084.9" font-size="15.6" font-weight="bold" text-anchor="end" fill="#222" >6%</text>
<text x="232.0" y="2033.5" font-size="15.6" font-weight="bold" text-anchor="end" fill="#222" >7%</text>
<text x="232.0" y="1982.1" font-size="15.6" font-weight="bold" text-anchor="end" fill="#222" >8%</text>
<text x="232.0" y="1930.8" font-size="15.6" font-weight="bold" text-anchor="end" fill="#222" >9%</text>
<text x="232.0" y="1879.4" font-size="15.6" font-weight="bold" text-anchor="end" fill="#222" >10%</text>
<text x="0" y="0" transform="translate(194.0,2054.0) rotate(-90)" font-size="17.5" font-weight="bold" text-anchor="middle" fill="#222" >Mean Relative Error</text>
<rect x="337.7" y="1881.2" width="35" height="12.4" fill="#3daee6" stroke="#5a5a30" stroke-width="1.2"/>
<text x="376.5" y="1892.1" font-size="13.9" font-weight="bold" text-anchor="start" fill="#222" >SDCS-LSSVM</text>
<rect x="337.7" y="1898.5" width="35" height="12.4" fill="#76c043" stroke="#5a5a30" stroke-width="1.2"/>
<text x="376.5" y="1909.4" font-size="13.9" font-weight="bold" text-anchor="start" fill="#222" >CS-LSSVM</text>
<rect x="337.7" y="1915.6" width="35" height="12.4" fill="#f15a24" stroke="#5a5a30" stroke-width="1.2"/>
<text x="376.5" y="1926.5" font-size="13.9" font-weight="bold" text-anchor="start" fill="#222" >PSO-LSSVM</text>
<rect x="337.7" y="1933.0" width="35" height="12.4" fill="#ffc20e" stroke="#5a5a30" stroke-width="1.2"/>
<text x="376.5" y="1943.9" font-size="13.9" font-weight="bold" text-anchor="start" fill="#222" >BPNN</text>
<rect x="337.7" y="1950.8" width="35" height="12.4" fill="#8cb014" stroke="#5a5a30" stroke-width="1.2"/>
<text x="376.5" y="1961.7" font-size="13.9" font-weight="bold" text-anchor="start" fill="#222" >WNN</text>
<rect x="804.0" y="1874.4" width="420.0" height="359.6" fill="#f3f3f3"/>
<path d="M804.0,1876.97H1224.0M804.0,1879.54H1224.0M804.0,1882.11H1224.0M804.0,1884.67H1224.0M804.0,1887.24H1224.0M804.0,1889.81H1224.0M804.0,1892.38H1224.0M804.0,1894.95H1224.0M804.0,1897.52H1224.0M804.0,1900.09H1224.0M804.0,1902.65H1224.0M804.0,1905.22H1224.0M804.0,1907.79H1224.0M804.0,1910.36H1224.0M804.0,1912.93H1224.0M804.0,1915.50H1224.0M804.0,1918.07H1224.0M804.0,1920.63H1224.0M804.0,1923.20H1224.0M804.0,1925.77H1224.0M804.0,1928.34H1224.0M804.0,1930.91H1224.0M804.0,1933.48H1224.0M804.0,1936.05H1224.0M804.0,1938.61H1224.0M804.0,1941.18H1224.0M804.0,1943.75H1224.0M804.0,1946.32H1224.0M804.0,1948.89H1224.0M804.0,1951.46H1224.0M804.0,1954.03H1224.0M804.0,1956.59H1224.0M804.0,1959.16H1224.0M804.0,1961.73H1224.0M804.0,1964.30H1224.0M804.0,1966.87H1224.0M804.0,1969.44H1224.0M804.0,1972.01H1224.0M804.0,1974.57H1224.0M804.0,1977.14H1224.0M804.0,1979.71H1224.0M804.0,1982.28H1224.0M804.0,1984.85H1224.0M804.0,1987.42H1224.0M804.0,1989.99H1224.0M804.0,1992.55H1224.0M804.0,1995.12H1224.0M804.0,1997.69H1224.0M804.0,2000.26H1224.0M804.0,2002.83H1224.0M804.0,2005.40H1224.0M804.0,2007.97H1224.0M804.0,2010.53H1224.0M804.0,2013.10H1224.0M804.0,2015.67H1224.0M804.0,2018.24H1224.0M804.0,2020.81H1224.0M804.0,2023.38H1224.0M804.0,2025.95H1224.0M804.0,2028.51H1224.0M804.0,2031.08H1224.0M804.0,2033.65H1224.0M804.0,2036.22H1224.0M804.0,2038.79H1224.0M804.0,2041.36H1224.0M804.0,2043.93H1224.0M804.0,2046.49H1224.0M804.0,2049.06H1224.0M804.0,2051.63H1224.0M804.0,2054.20H1224.0M804.0,2056.77H1224.0M804.0,2059.34H1224.0M804.0,2061.91H1224.0M804.0,2064.47H1224.0M804.0,2067.04H1224.0M804.0,2069.61H1224.0M804.0,2072.18H1224.0M804.0,2074.75H1224.0M804.0,2077.32H1224.0M804.0,2079.89H1224.0M804.0,2082.45H1224.0M804.0,2085.02H1224.0M804.0,2087.59H1224.0M804.0,2090.16H1224.0M804.0,2092.73H1224.0M804.0,2095.30H1224.0M804.0,2097.87H1224.0M804.0,2100.43H1224.0M804.0,2103.00H1224.0M804.0,2105.57H1224.0M804.0,2108.14H1224.0M804.0,2110.71H1224.0M804.0,2113.28H1224.0M804.0,2115.85H1224.0M804.0,2118.41H1224.0M804.0,2120.98H1224.0M804.0,2123.55H1224.0M804.0,2126.12H1224.0M804.0,2128.69H1224.0M804.0,2131.26H1224.0M804.0,2133.83H1224.0M804.0,2136.39H1224.0M804.0,2138.96H1224.0M804.0,2141.53H1224.0M804.0,2144.10H1224.0M804.0,2146.67H1224.0M804.0,2149.24H1224.0M804.0,2151.81H1224.0M804.0,2154.37H1224.0M804.0,2156.94H1224.0M804.0,2159.51H1224.0M804.0,2162.08H1224.0M804.0,2164.65H1224.0M804.0,2167.22H1224.0M804.0,2169.79H1224.0M804.0,2172.35H1224.0M804.0,2174.92H1224.0M804.0,2177.49H1224.0M804.0,2180.06H1224.0M804.0,2182.63H1224.0M804.0,2185.20H1224.0M804.0,2187.77H1224.0M804.0,2190.33H1224.0M804.0,2192.90H1224.0M804.0,2195.47H1224.0M804.0,2198.04H1224.0M804.0,2200.61H1224.0M804.0,2203.18H1224.0M804.0,2205.75H1224.0M804.0,2208.31H1224.0M804.0,2210.88H1224.0M804.0,2213.45H1224.0M804.0,2216.02H1224.0M804.0,2218.59H1224.0M804.0,2221.16H1224.0M804.0,2223.73H1224.0M804.0,2226.29H1224.0M804.0,2228.86H1224.0M804.0,2231.43H1224.0" stroke="#e7e7e7" stroke-width="1.3"/>
<path d="M819.00,1874.4V2234.0M834.00,1874.4V2234.0M849.00,1874.4V2234.0M864.00,1874.4V2234.0M879.00,1874.4V2234.0M894.00,1874.4V2234.0M909.00,1874.4V2234.0M924.00,1874.4V2234.0M939.00,1874.4V2234.0M954.00,1874.4V2234.0M969.00,1874.4V2234.0M984.00,1874.4V2234.0M999.00,1874.4V2234.0M1014.00,1874.4V2234.0M1029.00,1874.4V2234.0M1044.00,1874.4V2234.0M1059.00,1874.4V2234.0M1074.00,1874.4V2234.0M1089.00,1874.4V2234.0M1104.00,1874.4V2234.0M1119.00,1874.4V2234.0M1134.00,1874.4V2234.0M1149.00,1874.4V2234.0M1164.00,1874.4V2234.0M1179.00,1874.4V2234.0M1194.00,1874.4V2234.0M1209.00,1874.4V2234.0" stroke="#ececec" stroke-width="1"/>
<path d="M804.0,1925.77H1224.0M804.0,1977.14H1224.0M804.0,2028.51H1224.0M804.0,2079.89H1224.0M804.0,2131.26H1224.0M804.0,2182.63H1224.0" stroke="#d6d6d6" stroke-width="1.5"/>
<path d="M834.00,1874.4V2234.0M864.00,1874.4V2234.0M894.00,1874.4V2234.0M924.00,1874.4V2234.0M954.00,1874.4V2234.0M984.00,1874.4V2234.0M1014.00,1874.4V2234.0M1044.00,1874.4V2234.0M1074.00,1874.4V2234.0M1104.00,1874.4V2234.0M1134.00,1874.4V2234.0M1164.00,1874.4V2234.0M1194.00,1874.4V2234.0" stroke="#d0d0d0" stroke-width="1.6"/>
<line x1="834.0" y1="1950.4" x2="834.0" y2="2130.7" stroke="#888" stroke-width="1.2" stroke-dasharray="3 2"/>
<rect x="818.5" y="1991.7" width="31" height="99.8" fill="none" stroke="#7b6fe0" stroke-width="1.6"/>
<line x1="818.5" y1="2064.0" x2="849.5" y2="2064.0" stroke="#e8604a" stroke-width="1.5"/>
<path d="M825.5,2130.7L831.6,2128.5L834.0,2124.7L836.4,2128.5L842.5,2130.7L836.4,2132.9L834.0,2136.7L831.6,2132.9Z" fill="#3daee6"/>
<circle cx="834.0" cy="2130.7" r="4.2" fill="#3daee6"/>
<circle cx="834.0" cy="2078.3" r="4.2" fill="#76c043"/>
<circle cx="834.0" cy="2064.0" r="4.2" fill="#f15a24"/>
<circle cx="834.0" cy="2005.4" r="4.2" fill="#ffc20e"/>
<path d="M825.5,1950.4L831.6,1948.2L834.0,1944.4L836.4,1948.2L842.5,1950.4L836.4,1952.6L834.0,1956.4L831.6,1952.6Z" fill="#8cb014"/>
<circle cx="834.0" cy="1950.4" r="4.2" fill="#8cb014"/>
<text x="834.0" y="2254.0" font-size="16" font-weight="bold" text-anchor="middle" fill="#222" >MON</text>
<line x1="894.0" y1="2003.3" x2="894.0" y2="2098.9" stroke="#888" stroke-width="1.2" stroke-dasharray="3 2"/>
<rect x="878.5" y="2013.7" width="31" height="51.2" fill="none" stroke="#7b6fe0" stroke-width="1.6"/>
<line x1="878.5" y1="2035.2" x2="909.5" y2="2035.2" stroke="#e8604a" stroke-width="1.5"/>
<path d="M885.5,2098.9L891.6,2096.7L894.0,2092.9L896.4,2096.7L902.5,2098.9L896.4,2101.1L894.0,2104.9L891.6,2101.1Z" fill="#3daee6"/>
<circle cx="894.0" cy="2098.9" r="4.2" fill="#3daee6"/>
<circle cx="894.0" cy="2053.7" r="4.2" fill="#76c043"/>
<circle cx="894.0" cy="2035.2" r="4.2" fill="#f15a24"/>
<circle cx="894.0" cy="2017.2" r="4.2" fill="#ffc20e"/>
<path d="M885.5,2003.3L891.6,2001.1L894.0,1997.3L896.4,2001.1L902.5,2003.3L896.4,2005.5L894.0,2009.3L891.6,2005.5Z" fill="#8cb014"/>
<circle cx="894.0" cy="2003.3" r="4.2" fill="#8cb014"/>
<text x="894.0" y="2254.0" font-size="16" font-weight="bold" text-anchor="middle" fill="#222" >TUE</text>
<line x1="954.0" y1="2031.6" x2="954.0" y2="2168.2" stroke="#888" stroke-width="1.2" stroke-dasharray="3 2"/>
<rect x="938.5" y="2053.2" width="31" height="75.4" fill="none" stroke="#7b6fe0" stroke-width="1.6"/>
<line x1="938.5" y1="2097.9" x2="969.5" y2="2097.9" stroke="#e8604a" stroke-width="1.5"/>
<path d="M945.5,2168.2L951.6,2166.0L954.0,2162.2L956.4,2166.0L962.5,2168.2L956.4,2170.4L954.0,2174.2L951.6,2170.4Z" fill="#3daee6"/>
<circle cx="954.0" cy="2168.2" r="4.2" fill="#3daee6"/>
<circle cx="954.0" cy="2115.3" r="4.2" fill="#76c043"/>
<circle cx="954.0" cy="2097.9" r="4.2" fill="#f15a24"/>
<circle cx="954.0" cy="2060.4" r="4.2" fill="#ffc20e"/>
<path d="M945.5,2031.6L951.6,2029.4L954.0,2025.6L956.4,2029.4L962.5,2031.6L956.4,2033.8L954.0,2037.6L951.6,2033.8Z" fill="#8cb014"/>
<circle cx="954.0" cy="2031.6" r="4.2" fill="#8cb014"/>
<text x="954.0" y="2254.0" font-size="16" font-weight="bold" text-anchor="middle" fill="#222" >WED</text>
<line x1="1014.0" y1="1972.5" x2="1014.0" y2="2116.9" stroke="#888" stroke-width="1.2" stroke-dasharray="3 2"/>
<rect x="998.5" y="1981.0" width="31" height="73.8" fill="none" stroke="#7b6fe0" stroke-width="1.6"/>
<line x1="998.5" y1="2022.9" x2="1029.5" y2="2022.9" stroke="#e8604a" stroke-width="1.5"/>
<path d="M1005.5,2116.9L1011.6,2114.7L1014.0,2110.9L1016.4,2114.7L1022.5,2116.9L1016.4,2119.1L1014.0,2122.9L1011.6,2119.1Z" fill="#3daee6"/>
<circle cx="1014.0" cy="2116.9" r="4.2" fill="#3daee6"/>
<circle cx="1014.0" cy="2034.2" r="4.2" fill="#76c043"/>
<circle cx="1014.0" cy="2022.9" r="4.2" fill="#f15a24"/>
<circle cx="1014.0" cy="1983.8" r="4.2" fill="#ffc20e"/>
<path d="M1005.5,1972.5L1011.6,1970.3L1014.0,1966.5L1016.4,1970.3L1022.5,1972.5L1016.4,1974.7L1014.0,1978.5L1011.6,1974.7Z" fill="#8cb014"/>
<circle cx="1014.0" cy="1972.5" r="4.2" fill="#8cb014"/>
<text x="1014.0" y="2254.0" font-size="16" font-weight="bold" text-anchor="middle" fill="#222" >THU</text>
<line x1="1074.0" y1="1937.1" x2="1074.0" y2="2107.1" stroke="#888" stroke-width="1.2" stroke-dasharray="3 2"/>
<rect x="1058.5" y="1959.0" width="31" height="109.5" fill="none" stroke="#7b6fe0" stroke-width="1.6"/>
<line x1="1058.5" y1="2040.8" x2="1089.5" y2="2040.8" stroke="#e8604a" stroke-width="1.5"/>
<path d="M1065.5,2107.1L1071.6,2104.9L1074.0,2101.1L1076.4,2104.9L1082.5,2107.1L1076.4,2109.3L1074.0,2113.1L1071.6,2109.3Z" fill="#3daee6"/>
<circle cx="1074.0" cy="2107.1" r="4.2" fill="#3daee6"/>
<circle cx="1074.0" cy="2055.7" r="4.2" fill="#76c043"/>
<circle cx="1074.0" cy="2040.8" r="4.2" fill="#f15a24"/>
<circle cx="1074.0" cy="1966.4" r="4.2" fill="#ffc20e"/>
<path d="M1065.5,1937.1L1071.6,1934.9L1074.0,1931.1L1076.4,1934.9L1082.5,1937.1L1076.4,1939.3L1074.0,1943.1L1071.6,1939.3Z" fill="#8cb014"/>
<circle cx="1074.0" cy="1937.1" r="4.2" fill="#8cb014"/>
<text x="1074.0" y="2254.0" font-size="16" font-weight="bold" text-anchor="middle" fill="#222" >FRI</text>
<line x1="1134.0" y1="2080.9" x2="1134.0" y2="2201.6" stroke="#888" stroke-width="1.2" stroke-dasharray="3 2"/>
<rect x="1118.5" y="2094.4" width="31" height="71.6" fill="none" stroke="#7b6fe0" stroke-width="1.6"/>
<line x1="1118.5" y1="2142.0" x2="1149.5" y2="2142.0" stroke="#e8604a" stroke-width="1.5"/>
<path d="M1125.5,2201.6L1131.6,2199.4L1134.0,2195.6L1136.4,2199.4L1142.5,2201.6L1136.4,2203.8L1134.0,2207.6L1131.6,2203.8Z" fill="#3daee6"/>
<circle cx="1134.0" cy="2201.6" r="4.2" fill="#3daee6"/>
<circle cx="1134.0" cy="2142.0" r="4.2" fill="#76c043"/>
<circle cx="1134.0" cy="2154.1" r="4.2" fill="#f15a24"/>
<circle cx="1134.0" cy="2098.9" r="4.2" fill="#ffc20e"/>
<path d="M1125.5,2080.9L1131.6,2078.7L1134.0,2074.9L1136.4,2078.7L1142.5,2080.9L1136.4,2083.1L1134.0,2086.9L1131.6,2083.1Z" fill="#8cb014"/>
<circle cx="1134.0" cy="2080.9" r="4.2" fill="#8cb014"/>
<text x="1134.0" y="2254.0" font-size="16" font-weight="bold" text-anchor="middle" fill="#222" >SAT</text>
<line x1="1194.0" y1="2078.3" x2="1194.0" y2="2186.7" stroke="#888" stroke-width="1.2" stroke-dasharray="3 2"/>
<rect x="1178.5" y="2084.1" width="31" height="50.2" fill="none" stroke="#7b6fe0" stroke-width="1.6"/>
<line x1="1178.5" y1="2113.8" x2="1209.5" y2="2113.8" stroke="#e8604a" stroke-width="1.5"/>
<path d="M1185.5,2186.7L1191.6,2184.5L1194.0,2180.7L1196.4,2184.5L1202.5,2186.7L1196.4,2188.9L1194.0,2192.7L1191.6,2188.9Z" fill="#3daee6"/>
<circle cx="1194.0" cy="2186.7" r="4.2" fill="#3daee6"/>
<circle cx="1194.0" cy="2116.9" r="4.2" fill="#76c043"/>
<circle cx="1194.0" cy="2113.8" r="4.2" fill="#f15a24"/>
<circle cx="1194.0" cy="2086.1" r="4.2" fill="#ffc20e"/>
<path d="M1185.5,2078.3L1191.6,2076.1L1194.0,2072.3L1196.4,2076.1L1202.5,2078.3L1196.4,2080.5L1194.0,2084.3L1191.6,2080.5Z" fill="#8cb014"/>
<circle cx="1194.0" cy="2078.3" r="4.2" fill="#8cb014"/>
<text x="1194.0" y="2254.0" font-size="16" font-weight="bold" text-anchor="middle" fill="#222" >SUN</text>
<rect x="804.0" y="1874.4" width="420.0" height="359.6" fill="none" stroke="#888" stroke-width="1.9"/>
<text x="796.0" y="2239.0" font-size="15.6" font-weight="bold" text-anchor="end" fill="#222" >3%</text>
<text x="796.0" y="2187.6" font-size="15.6" font-weight="bold" text-anchor="end" fill="#222" >4%</text>
<text x="796.0" y="2136.3" font-size="15.6" font-weight="bold" text-anchor="end" fill="#222" >5%</text>
<text x="796.0" y="2084.9" font-size="15.6" font-weight="bold" text-anchor="end" fill="#222" >6%</text>
<text x="796.0" y="2033.5" font-size="15.6" font-weight="bold" text-anchor="end" fill="#222" >7%</text>
<text x="796.0" y="1982.1" font-size="15.6" font-weight="bold" text-anchor="end" fill="#222" >8%</text>
<text x="796.0" y="1930.8" font-size="15.6" font-weight="bold" text-anchor="end" fill="#222" >9%</text>
<text x="796.0" y="1879.4" font-size="15.6" font-weight="bold" text-anchor="end" fill="#222" >10%</text>
<text x="0" y="0" transform="translate(760.0,2054.0) rotate(-90)" font-size="17.5" font-weight="bold" text-anchor="middle" fill="#222" >Mean Absolute Percentage Error</text>
<circle cx="892" cy="1886.8" r="3.8" fill="#3daee6"/>
<text x="907.0" y="1891.5" font-size="13.9" font-weight="bold" text-anchor="start" fill="#222" >SDCS-LSSVM</text>
<circle cx="892" cy="1903.9" r="3.8" fill="#76c043"/>
<text x="907.0" y="1908.6" font-size="13.9" font-weight="bold" text-anchor="start" fill="#222" >CS-LSSVM</text>
<circle cx="892" cy="1921.3" r="3.8" fill="#f15a24"/>
<text x="907.0" y="1926.0" font-size="13.9" font-weight="bold" text-anchor="start" fill="#222" >PSO-LSSVM</text>
<circle cx="892" cy="1938.4" r="3.8" fill="#ffc20e"/>
<text x="907.0" y="1943.1" font-size="13.9" font-weight="bold" text-anchor="start" fill="#222" >BPNN</text>
<circle cx="892" cy="1955.7" r="3.8" fill="#8cb014"/>
<text x="907.0" y="1960.4" font-size="13.9" font-weight="bold" text-anchor="start" fill="#222" >WNN</text>
<rect x="1336.0" y="1885.5" width="411.3" height="351.2" fill="#f3f3f3"/>
<path d="M1336.0,1888.43H1747.3M1336.0,1891.35H1747.3M1336.0,1894.28H1747.3M1336.0,1897.21H1747.3M1336.0,1900.13H1747.3M1336.0,1903.06H1747.3M1336.0,1905.99H1747.3M1336.0,1908.91H1747.3M1336.0,1911.84H1747.3M1336.0,1914.77H1747.3M1336.0,1917.69H1747.3M1336.0,1920.62H1747.3M1336.0,1923.55H1747.3M1336.0,1926.47H1747.3M1336.0,1929.40H1747.3M1336.0,1932.33H1747.3M1336.0,1935.25H1747.3M1336.0,1938.18H1747.3M1336.0,1941.11H1747.3M1336.0,1944.03H1747.3M1336.0,1946.96H1747.3M1336.0,1949.89H1747.3M1336.0,1952.81H1747.3M1336.0,1955.74H1747.3M1336.0,1958.67H1747.3M1336.0,1961.59H1747.3M1336.0,1964.52H1747.3M1336.0,1967.45H1747.3M1336.0,1970.37H1747.3M1336.0,1973.30H1747.3M1336.0,1976.23H1747.3M1336.0,1979.15H1747.3M1336.0,1982.08H1747.3M1336.0,1985.01H1747.3M1336.0,1987.93H1747.3M1336.0,1990.86H1747.3M1336.0,1993.79H1747.3M1336.0,1996.71H1747.3M1336.0,1999.64H1747.3M1336.0,2002.57H1747.3M1336.0,2005.49H1747.3M1336.0,2008.42H1747.3M1336.0,2011.35H1747.3M1336.0,2014.27H1747.3M1336.0,2017.20H1747.3M1336.0,2020.13H1747.3M1336.0,2023.05H1747.3M1336.0,2025.98H1747.3M1336.0,2028.91H1747.3M1336.0,2031.83H1747.3M1336.0,2034.76H1747.3M1336.0,2037.69H1747.3M1336.0,2040.61H1747.3M1336.0,2043.54H1747.3M1336.0,2046.47H1747.3M1336.0,2049.39H1747.3M1336.0,2052.32H1747.3M1336.0,2055.25H1747.3M1336.0,2058.17H1747.3M1336.0,2061.10H1747.3M1336.0,2064.03H1747.3M1336.0,2066.95H1747.3M1336.0,2069.88H1747.3M1336.0,2072.81H1747.3M1336.0,2075.73H1747.3M1336.0,2078.66H1747.3M1336.0,2081.59H1747.3M1336.0,2084.51H1747.3M1336.0,2087.44H1747.3M1336.0,2090.37H1747.3M1336.0,2093.29H1747.3M1336.0,2096.22H1747.3M1336.0,2099.15H1747.3M1336.0,2102.07H1747.3M1336.0,2105.00H1747.3M1336.0,2107.93H1747.3M1336.0,2110.85H1747.3M1336.0,2113.78H1747.3M1336.0,2116.71H1747.3M1336.0,2119.63H1747.3M1336.0,2122.56H1747.3M1336.0,2125.49H1747.3M1336.0,2128.41H1747.3M1336.0,2131.34H1747.3M1336.0,2134.27H1747.3M1336.0,2137.19H1747.3M1336.0,2140.12H1747.3M1336.0,2143.05H1747.3M1336.0,2145.97H1747.3M1336.0,2148.90H1747.3M1336.0,2151.83H1747.3M1336.0,2154.75H1747.3M1336.0,2157.68H1747.3M1336.0,2160.61H1747.3M1336.0,2163.53H1747.3M1336.0,2166.46H1747.3M1336.0,2169.39H1747.3M1336.0,2172.31H1747.3M1336.0,2175.24H1747.3M1336.0,2178.17H1747.3M1336.0,2181.09H1747.3M1336.0,2184.02H1747.3M1336.0,2186.95H1747.3M1336.0,2189.87H1747.3M1336.0,2192.80H1747.3M1336.0,2195.73H1747.3M1336.0,2198.65H1747.3M1336.0,2201.58H1747.3M1336.0,2204.51H1747.3M1336.0,2207.43H1747.3M1336.0,2210.36H1747.3M1336.0,2213.29H1747.3M1336.0,2216.21H1747.3M1336.0,2219.14H1747.3M1336.0,2222.07H1747.3M1336.0,2224.99H1747.3M1336.0,2227.92H1747.3M1336.0,2230.85H1747.3M1336.0,2233.77H1747.3" stroke="#e7e7e7" stroke-width="1.3"/>
<path d="M1350.69,1885.5V2236.7M1365.38,1885.5V2236.7M1380.07,1885.5V2236.7M1394.76,1885.5V2236.7M1409.45,1885.5V2236.7M1424.14,1885.5V2236.7M1438.83,1885.5V2236.7M1453.51,1885.5V2236.7M1468.20,1885.5V2236.7M1482.89,1885.5V2236.7M1497.58,1885.5V2236.7M1512.27,1885.5V2236.7M1526.96,1885.5V2236.7M1541.65,1885.5V2236.7M1556.34,1885.5V2236.7M1571.03,1885.5V2236.7M1585.72,1885.5V2236.7M1600.41,1885.5V2236.7M1615.10,1885.5V2236.7M1629.79,1885.5V2236.7M1644.47,1885.5V2236.7M1659.16,1885.5V2236.7M1673.85,1885.5V2236.7M1688.54,1885.5V2236.7M1703.23,1885.5V2236.7M1717.92,1885.5V2236.7M1732.61,1885.5V2236.7" stroke="#ececec" stroke-width="1"/>
<path d="M1336.0,1944.03H1747.3M1336.0,2002.57H1747.3M1336.0,2061.10H1747.3M1336.0,2119.63H1747.3M1336.0,2178.17H1747.3" stroke="#d6d6d6" stroke-width="1.5"/>
<path d="M1365.38,1885.5V2236.7M1394.76,1885.5V2236.7M1424.14,1885.5V2236.7M1453.51,1885.5V2236.7M1482.89,1885.5V2236.7M1512.27,1885.5V2236.7M1541.65,1885.5V2236.7M1571.03,1885.5V2236.7M1600.41,1885.5V2236.7M1629.79,1885.5V2236.7M1659.16,1885.5V2236.7M1688.54,1885.5V2236.7M1717.92,1885.5V2236.7" stroke="#d0d0d0" stroke-width="1.6"/>
<path d="M1365.4,2082.5L1367.2,2082.2L1369.6,2081.9L1372.4,2081.4L1375.7,2081.0L1379.3,2080.5L1383.3,2079.9L1387.4,2079.3L1391.7,2078.6L1396.1,2077.9L1400.5,2077.1L1404.9,2076.3L1409.2,2075.3L1413.4,2074.3L1417.3,2073.3L1420.9,2072.2L1424.1,2071.0L1427.3,2069.5L1430.7,2067.6L1434.2,2065.3L1437.9,2062.7L1441.7,2060.0L1445.6,2057.0L1449.5,2054.0L1453.5,2051.0L1457.5,2048.0L1461.4,2045.2L1465.3,2042.6L1469.1,2040.2L1472.8,2038.2L1476.4,2036.5L1479.7,2035.4L1482.9,2034.8L1486.1,2034.8L1489.4,2035.2L1493.0,2036.2L1496.7,2037.5L1500.5,2039.2L1504.4,2041.1L1508.3,2043.2L1512.3,2045.4L1516.2,2047.6L1520.2,2049.8L1524.1,2052.0L1527.9,2054.0L1531.6,2055.8L1535.1,2057.3L1538.5,2058.4L1541.7,2059.1L1544.8,2059.5L1548.2,2059.7L1551.7,2059.8L1555.4,2059.7L1559.2,2059.5L1563.1,2059.1L1567.1,2058.7L1571.0,2058.2L1575.0,2057.6L1578.9,2057.0L1582.8,2056.4L1586.6,2055.8L1590.3,2055.1L1593.9,2054.5L1597.2,2054.0L1600.4,2053.5L1603.6,2053.1L1606.9,2052.7L1610.5,2052.2L1614.2,2051.8L1618.0,2051.4L1621.9,2050.9L1625.8,2050.4L1629.8,2049.8L1633.8,2049.2L1637.7,2048.5L1641.6,2047.7L1645.4,2046.8L1649.1,2045.8L1652.6,2044.7L1656.0,2043.4L1659.2,2042.0L1662.4,2040.3L1666.0,2038.1L1669.9,2035.5L1674.1,2032.6L1678.4,2029.4L1682.8,2026.0L1687.2,2022.5L1691.6,2019.0L1695.9,2015.4L1700.0,2012.0L1704.0,2008.7L1707.6,2005.6L1710.9,2002.9L1713.7,2000.5L1716.1,1998.5L1717.9,1997.1" fill="none" stroke="#3daee6" stroke-width="2.3"/>
<path d="M1365.4,2106.0L1367.2,2103.7L1369.6,2100.7L1372.4,2096.9L1375.7,2092.6L1379.3,2087.8L1383.3,2082.7L1387.4,2077.3L1391.7,2071.8L1396.1,2066.3L1400.5,2060.9L1404.9,2055.7L1409.2,2050.9L1413.4,2046.5L1417.3,2042.6L1420.9,2039.4L1424.1,2037.0L1427.3,2035.1L1430.7,2033.5L1434.2,2032.0L1437.9,2030.8L1441.7,2029.7L1445.6,2028.9L1449.5,2028.2L1453.5,2027.8L1457.5,2027.5L1461.4,2027.3L1465.3,2027.4L1469.1,2027.6L1472.8,2028.0L1476.4,2028.5L1479.7,2029.2L1482.9,2030.1L1486.1,2031.3L1489.4,2033.0L1493.0,2035.0L1496.7,2037.5L1500.5,2040.3L1504.4,2043.2L1508.3,2046.4L1512.3,2049.7L1516.2,2053.0L1520.2,2056.3L1524.1,2059.6L1527.9,2062.6L1531.6,2065.5L1535.1,2068.2L1538.5,2070.5L1541.7,2072.4L1544.8,2074.2L1548.2,2076.1L1551.7,2078.2L1555.4,2080.4L1559.2,2082.7L1563.1,2084.9L1567.1,2087.0L1571.0,2089.0L1575.0,2090.9L1578.9,2092.5L1582.8,2093.9L1586.6,2094.9L1590.3,2095.6L1593.9,2095.9L1597.2,2095.7L1600.4,2094.9L1603.6,2093.5L1606.9,2091.1L1610.5,2088.0L1614.2,2084.3L1618.0,2080.0L1621.9,2075.4L1625.8,2070.5L1629.8,2065.4L1633.8,2060.3L1637.7,2055.3L1641.6,2050.6L1645.4,2046.1L1649.1,2042.2L1652.6,2038.8L1656.0,2036.1L1659.2,2034.3L1662.4,2033.2L1666.0,2032.5L1669.9,2032.2L1674.1,2032.3L1678.4,2032.6L1682.8,2033.2L1687.2,2034.1L1691.6,2035.0L1695.9,2036.1L1700.0,2037.2L1704.0,2038.3L1707.6,2039.3L1710.9,2040.3L1713.7,2041.1L1716.1,2041.7L1717.9,2042.0" fill="none" stroke="#76b043" stroke-width="2.3"/>
<path d="M1365.4,2015.0L1367.2,2018.3L1369.6,2022.9L1372.4,2028.8L1375.7,2035.6L1379.3,2043.1L1383.3,2051.2L1387.4,2059.5L1391.7,2067.9L1396.1,2076.1L1400.5,2084.0L1404.9,2091.3L1409.2,2097.7L1413.4,2103.1L1417.3,2107.2L1420.9,2109.8L1424.1,2110.6L1427.3,2109.6L1430.7,2106.8L1434.2,2102.4L1437.9,2096.7L1441.7,2089.9L1445.6,2082.3L1449.5,2074.1L1453.5,2065.6L1457.5,2056.9L1461.4,2048.3L1465.3,2040.1L1469.1,2032.5L1472.8,2025.8L1476.4,2020.1L1479.7,2015.8L1482.9,2013.0L1486.1,2011.5L1489.4,2010.6L1493.0,2010.4L1496.7,2010.8L1500.5,2011.7L1504.4,2013.1L1508.3,2014.8L1512.3,2016.8L1516.2,2019.1L1520.2,2021.6L1524.1,2024.3L1527.9,2026.9L1531.6,2029.6L1535.1,2032.2L1538.5,2034.7L1541.7,2037.0L1544.8,2039.6L1548.2,2043.0L1551.7,2047.0L1555.4,2051.5L1559.2,2056.4L1563.1,2061.5L1567.1,2066.8L1571.0,2072.0L1575.0,2077.0L1578.9,2081.7L1582.8,2086.0L1586.6,2089.7L1590.3,2092.7L1593.9,2094.9L1597.2,2096.1L1600.4,2096.1L1603.6,2094.8L1606.9,2092.2L1610.5,2088.4L1614.2,2083.7L1618.0,2078.1L1621.9,2071.9L1625.8,2065.3L1629.8,2058.4L1633.8,2051.4L1637.7,2044.6L1641.6,2038.1L1645.4,2032.0L1649.1,2026.7L1652.6,2022.2L1656.0,2018.7L1659.2,2016.4L1662.4,2015.2L1666.0,2014.6L1669.9,2014.7L1674.1,2015.3L1678.4,2016.4L1682.8,2017.8L1687.2,2019.5L1691.6,2021.4L1695.9,2023.5L1700.0,2025.6L1704.0,2027.7L1707.6,2029.6L1710.9,2031.4L1713.7,2032.9L1716.1,2034.1L1717.9,2034.8" fill="none" stroke="#e8553a" stroke-width="2.3"/>
<path d="M1365.4,2108.6L1367.2,2110.5L1369.6,2113.4L1372.4,2117.1L1375.7,2121.4L1379.3,2126.2L1383.3,2131.3L1387.4,2136.5L1391.7,2141.7L1396.1,2146.5L1400.5,2150.9L1404.9,2154.7L1409.2,2157.6L1413.4,2159.5L1417.3,2160.3L1420.9,2159.6L1424.1,2157.5L1427.3,2153.1L1430.7,2146.1L1434.2,2137.1L1437.9,2126.2L1441.7,2114.0L1445.6,2100.7L1449.5,2086.7L1453.5,2072.5L1457.5,2058.3L1461.4,2044.6L1465.3,2031.7L1469.1,2020.0L1472.8,2009.8L1476.4,2001.6L1479.7,1995.7L1482.9,1992.4L1486.1,1991.9L1489.4,1993.8L1493.0,1997.7L1496.7,2003.3L1500.5,2010.4L1504.4,2018.6L1508.3,2027.5L1512.3,2036.8L1516.2,2046.2L1520.2,2055.5L1524.1,2064.1L1527.9,2072.0L1531.6,2078.6L1535.1,2083.7L1538.5,2086.9L1541.7,2088.0L1544.8,2087.0L1548.2,2084.1L1551.7,2079.8L1555.4,2074.1L1559.2,2067.3L1563.1,2059.7L1567.1,2051.5L1571.0,2042.9L1575.0,2034.2L1578.9,2025.6L1582.8,2017.2L1586.6,2009.5L1590.3,2002.5L1593.9,1996.6L1597.2,1991.9L1600.4,1988.8L1603.6,1986.9L1606.9,1985.8L1610.5,1985.4L1614.2,1985.6L1618.0,1986.3L1621.9,1987.4L1625.8,1988.9L1629.8,1990.5L1633.8,1992.2L1637.7,1993.8L1641.6,1995.4L1645.4,1996.7L1649.1,1997.8L1652.6,1998.3L1656.0,1998.4L1659.2,1997.8L1662.4,1996.5L1666.0,1994.6L1669.9,1992.3L1674.1,1989.4L1678.4,1986.3L1682.8,1982.9L1687.2,1979.2L1691.6,1975.5L1695.9,1971.8L1700.0,1968.2L1704.0,1964.7L1707.6,1961.4L1710.9,1958.5L1713.7,1955.9L1716.1,1953.9L1717.9,1952.4" fill="none" stroke="#f2cf3a" stroke-width="2.3"/>
<path d="M1365.4,2125.7L1367.2,2129.0L1369.6,2134.1L1372.4,2140.5L1375.7,2148.1L1379.3,2156.4L1383.3,2165.3L1387.4,2174.4L1391.7,2183.4L1396.1,2192.0L1400.5,2199.8L1404.9,2206.7L1409.2,2212.3L1413.4,2216.3L1417.3,2218.3L1420.9,2218.1L1424.1,2215.4L1427.3,2209.4L1430.7,2199.8L1434.2,2187.0L1437.9,2171.7L1441.7,2154.3L1445.6,2135.4L1449.5,2115.3L1453.5,2094.7L1457.5,2074.0L1461.4,2053.8L1465.3,2034.5L1469.1,2016.6L1472.8,2000.7L1476.4,1987.2L1479.7,1976.7L1482.9,1969.7L1486.1,1965.7L1489.4,1963.9L1493.0,1963.9L1496.7,1965.6L1500.5,1968.6L1504.4,1972.8L1508.3,1977.8L1512.3,1983.4L1516.2,1989.3L1520.2,1995.2L1524.1,2001.0L1527.9,2006.3L1531.6,2010.9L1535.1,2014.5L1538.5,2016.8L1541.7,2017.7L1544.8,2017.3L1548.2,2016.0L1551.7,2014.1L1555.4,2011.5L1559.2,2008.5L1563.1,2005.0L1567.1,2001.3L1571.0,1997.3L1575.0,1993.2L1578.9,1989.1L1582.8,1985.1L1586.6,1981.3L1590.3,1977.8L1593.9,1974.7L1597.2,1972.1L1600.4,1970.0L1603.6,1968.3L1606.9,1966.4L1610.5,1964.5L1614.2,1962.5L1618.0,1960.6L1621.9,1958.7L1625.8,1957.0L1629.8,1955.3L1633.8,1953.9L1637.7,1952.7L1641.6,1951.7L1645.4,1951.1L1649.1,1950.8L1652.6,1950.9L1656.0,1951.4L1659.2,1952.4L1662.4,1954.1L1666.0,1956.7L1669.9,1960.0L1674.1,1964.0L1678.4,1968.5L1682.8,1973.4L1687.2,1978.6L1691.6,1983.9L1695.9,1989.2L1700.0,1994.5L1704.0,1999.5L1707.6,2004.2L1710.9,2008.4L1713.7,2012.1L1716.1,2015.1L1717.9,2017.2" fill="none" stroke="#86a620" stroke-width="2.3"/>
<circle cx="1365.4" cy="2082.5" r="4.4" fill="#3daee6"/>
<circle cx="1424.1" cy="2071.0" r="4.4" fill="#3daee6"/>
<circle cx="1482.9" cy="2034.8" r="4.4" fill="#3daee6"/>
<circle cx="1541.7" cy="2059.1" r="4.4" fill="#3daee6"/>
<circle cx="1600.4" cy="2053.5" r="4.4" fill="#3daee6"/>
<circle cx="1659.2" cy="2042.0" r="4.4" fill="#3daee6"/>
<circle cx="1717.9" cy="1997.1" r="4.4" fill="#3daee6"/>
<circle cx="1365.4" cy="2106.0" r="4.4" fill="#76c043"/>
<circle cx="1424.1" cy="2037.0" r="4.4" fill="#76c043"/>
<circle cx="1482.9" cy="2030.1" r="4.4" fill="#76c043"/>
<circle cx="1541.7" cy="2072.4" r="4.4" fill="#76c043"/>
<circle cx="1600.4" cy="2094.9" r="4.4" fill="#76c043"/>
<circle cx="1659.2" cy="2034.3" r="4.4" fill="#76c043"/>
<circle cx="1717.9" cy="2042.0" r="4.4" fill="#76c043"/>
<circle cx="1365.4" cy="2015.0" r="4.4" fill="#f15a24"/>
<circle cx="1424.1" cy="2110.6" r="4.4" fill="#f15a24"/>
<circle cx="1482.9" cy="2013.0" r="4.4" fill="#f15a24"/>
<circle cx="1541.7" cy="2037.0" r="4.4" fill="#f15a24"/>
<circle cx="1600.4" cy="2096.1" r="4.4" fill="#f15a24"/>
<circle cx="1659.2" cy="2016.4" r="4.4" fill="#f15a24"/>
<circle cx="1717.9" cy="2034.8" r="4.4" fill="#f15a24"/>
<circle cx="1365.4" cy="2108.6" r="4.4" fill="#ffc20e"/>
<circle cx="1424.1" cy="2157.5" r="4.4" fill="#ffc20e"/>
<circle cx="1482.9" cy="1992.4" r="4.4" fill="#ffc20e"/>
<circle cx="1541.7" cy="2088.0" r="4.4" fill="#ffc20e"/>
<circle cx="1600.4" cy="1988.8" r="4.4" fill="#ffc20e"/>
<circle cx="1659.2" cy="1997.8" r="4.4" fill="#ffc20e"/>
<circle cx="1717.9" cy="1952.4" r="4.4" fill="#ffc20e"/>
<circle cx="1365.4" cy="2125.7" r="4.4" fill="#8cb014"/>
<circle cx="1424.1" cy="2215.4" r="4.4" fill="#8cb014"/>
<circle cx="1482.9" cy="1969.7" r="4.4" fill="#8cb014"/>
<circle cx="1541.7" cy="2017.7" r="4.4" fill="#8cb014"/>
<circle cx="1600.4" cy="1970.0" r="4.4" fill="#8cb014"/>
<circle cx="1659.2" cy="1952.4" r="4.4" fill="#8cb014"/>
<circle cx="1717.9" cy="2017.2" r="4.4" fill="#8cb014"/>
<text x="1365.4" y="2258.0" font-size="16" font-weight="bold" text-anchor="middle" fill="#222" >MON</text>
<text x="1424.1" y="2258.0" font-size="16" font-weight="bold" text-anchor="middle" fill="#222" >TUE</text>
<text x="1482.9" y="2258.0" font-size="16" font-weight="bold" text-anchor="middle" fill="#222" >WED</text>
<text x="1541.7" y="2258.0" font-size="16" font-weight="bold" text-anchor="middle" fill="#222" >THU</text>
<text x="1600.4" y="2258.0" font-size="16" font-weight="bold" text-anchor="middle" fill="#222" >FRI</text>
<text x="1659.2" y="2258.0" font-size="16" font-weight="bold" text-anchor="middle" fill="#222" >SAT</text>
<text x="1717.9" y="2258.0" font-size="16" font-weight="bold" text-anchor="middle" fill="#222" >SUN</text>
<rect x="1336.0" y="1885.5" width="411.3" height="351.2" fill="none" stroke="#888" stroke-width="1.9"/>
<text x="1329.0" y="2241.7" font-size="15.6" font-weight="bold" text-anchor="end" fill="#222" >-1.5%</text>
<text x="1329.0" y="2183.2" font-size="15.6" font-weight="bold" text-anchor="end" fill="#222" >-1.0%</text>
<text x="1329.0" y="2124.6" font-size="15.6" font-weight="bold" text-anchor="end" fill="#222" >-0.5%</text>
<text x="1329.0" y="2066.1" font-size="15.6" font-weight="bold" text-anchor="end" fill="#222" >0</text>
<text x="1329.0" y="2007.6" font-size="15.6" font-weight="bold" text-anchor="end" fill="#222" >0.5%</text>
<text x="1329.0" y="1949.0" font-size="15.6" font-weight="bold" text-anchor="end" fill="#222" >1.0%</text>
<text x="1329.0" y="1890.5" font-size="15.6" font-weight="bold" text-anchor="end" fill="#222" >1.5%</text>
<text x="0" y="0" transform="translate(1284.0,2061.0) rotate(-90)" font-size="17" font-weight="bold" text-anchor="middle" fill="#222" >Percentage Bias</text>
<circle cx="1624.7" cy="2148" r="3.8" fill="#3daee6"/>
<text x="1645.0" y="2152.6" font-size="13.5" font-weight="bold" text-anchor="start" fill="#222" >SDCS-LSSVM</text>
<circle cx="1624.7" cy="2165" r="3.8" fill="#76c043"/>
<text x="1645.0" y="2169.6" font-size="13.5" font-weight="bold" text-anchor="start" fill="#222" >CS-LSSVM</text>
<circle cx="1624.7" cy="2182" r="3.8" fill="#f15a24"/>
<text x="1645.0" y="2186.6" font-size="13.5" font-weight="bold" text-anchor="start" fill="#222" >PSO-LSSVM</text>
<circle cx="1624.7" cy="2199" r="3.8" fill="#ffc20e"/>
<text x="1645.0" y="2203.6" font-size="13.5" font-weight="bold" text-anchor="start" fill="#222" >BPNN</text>
<circle cx="1624.7" cy="2215" r="3.8" fill="#8cb014"/>
<text x="1645.0" y="2219.6" font-size="13.5" font-weight="bold" text-anchor="start" fill="#222" >WNN</text>
<rect x="1868" y="192" width="359.5" height="330.7" fill="#fff"/>
<path d="M1912.9,192V522.7M1868,481.4H2227.5M1957.9,192V522.7M1868,440.0H2227.5M2002.8,192V522.7M1868,398.7H2227.5M2047.8,192V522.7M1868,357.4H2227.5M2092.7,192V522.7M1868,316.0H2227.5M2137.6,192V522.7M1868,274.7H2227.5M2182.6,192V522.7M1868,233.3H2227.5" stroke="#c6c6c6" stroke-width="1.8"/>
<clipPath id="cp0"><rect x="1868" y="192" width="359.5" height="330.7"/></clipPath>
<path d="M2043.0,381.9h0M2001.5,401.5h0M1997.7,404.4h0M2012.7,386.7h0M2103.0,303.3h0M2150.0,268.0h0M2027.9,379.4h0M1968.8,426.0h0M2017.2,386.3h0M2042.6,364.7h0M1996.9,414.4h0M1973.7,422.2h0M2055.0,369.2h0M2006.1,392.1h0M1978.1,412.6h0M2052.1,363.0h0M2009.5,395.8h0M2001.0,398.5h0M2123.8,286.8h0M2003.6,396.8h0M2015.7,388.4h0M2011.1,397.3h0M1973.5,427.9h0M2080.0,323.2h0M2055.8,338.2h0M2012.2,394.6h0M2065.8,341.3h0M2030.2,366.1h0M1979.0,422.8h0M2001.5,397.6h0M2080.8,338.6h0M2015.6,387.1h0M2007.0,393.9h0M2072.9,337.5h0M2030.1,382.6h0M2138.3,270.6h0M2008.0,392.9h0M2073.5,354.9h0M2000.5,408.2h0M2123.6,285.6h0M1986.4,414.8h0M2028.4,377.2h0M2149.0,269.4h0M2008.0,388.0h0M2003.0,396.2h0M2080.7,310.6h0M2130.2,277.8h0M2024.2,381.6h0M2133.6,266.7h0M2059.8,324.5h0M2005.2,392.6h0M2071.7,341.3h0M2049.7,352.0h0M2050.7,366.6h0M2036.0,351.3h0M1991.2,406.9h0M2108.0,294.3h0M2040.2,355.2h0M2003.9,402.1h0M1994.6,407.8h0M1971.1,429.9h0M2035.2,365.0h0M2039.0,366.2h0M2010.8,387.7h0M2038.4,363.9h0M2067.1,336.2h0M2004.5,407.5h0M2061.5,329.0h0M2027.9,375.3h0M1974.0,423.8h0M2112.2,285.0h0M2119.3,286.3h0M1997.2,404.7h0M1977.6,412.8h0M1993.4,398.5h0M2086.8,320.3h0M2069.1,329.9h0M2019.6,378.9h0M2049.1,354.9h0M2008.1,391.5h0M2123.5,291.3h0M2006.1,398.0h0M1989.6,420.2h0M1982.4,424.1h0M2059.5,371.7h0M2035.1,391.1h0M2051.1,358.4h0M2054.0,346.9h0M2140.1,279.2h0M2033.8,371.3h0M2013.3,385.4h0M2055.2,353.3h0M2037.4,377.6h0M2061.7,328.1h0M2014.4,381.2h0M2074.9,321.3h0M2124.3,293.0h0M2022.2,379.6h0M2014.9,386.8h0M1994.1,423.7h0M2012.4,390.1h0M2029.0,369.8h0M2122.3,283.1h0M2118.8,291.7h0M2006.1,391.5h0M2006.6,394.6h0M2027.6,390.0h0M2005.2,386.2h0M2058.9,352.1h0M1990.4,415.8h0M2118.1,314.0h0M2009.4,394.0h0M1995.5,410.9h0M2020.9,389.6h0M2037.9,369.9h0M2012.6,393.8h0M2029.5,371.0h0M1976.6,422.8h0M1977.5,430.6h0M2025.1,375.5h0M2058.6,355.3h0M1999.8,397.2h0M2018.4,387.6h0M2013.5,386.1h0M2041.3,360.2h0M2111.1,296.7h0M2047.1,368.5h0M2049.9,356.6h0M2008.8,399.9h0M2003.1,402.4h0M2049.2,339.0h0M1989.5,398.2h0M2065.6,347.4h0M1977.9,404.6h0M2007.3,391.5h0M2088.6,319.9h0M1950.0,444.6h0M1937.7,443.1h0M2134.4,271.8h0M2019.0,386.5h0M2111.9,297.5h0M2049.4,369.3h0M2055.5,364.1h0M1976.2,432.1h0M2020.0,379.6h0M1991.0,414.3h0M2030.3,372.1h0M2057.7,356.6h0M2019.8,386.7h0M2026.7,390.5h0M2021.3,384.9h0M2026.9,379.2h0M2101.0,300.1h0M1978.8,420.0h0M2002.7,414.5h0M1962.8,427.2h0M2011.0,397.5h0M2119.0,257.2h0M1984.9,402.7h0M2097.1,312.0h0M2108.6,284.9h0M2030.9,379.4h0M2112.4,286.8h0M1999.1,401.5h0M2041.6,358.3h0M2011.7,399.4h0M2041.4,366.7h0M2025.9,399.6h0M2082.3,320.3h0M2009.8,390.8h0M1981.7,415.2h0M1982.2,421.4h0M1993.4,399.2h0M2028.2,374.8h0M1970.6,424.3h0M2057.6,348.7h0M2111.8,300.5h0M2028.4,378.7h0M2003.9,401.0h0M1990.0,383.4h0M2117.1,311.2h0M2011.4,400.3h0M1986.1,409.9h0M2029.7,379.2h0M2014.0,399.9h0M2063.3,348.7h0M1950.9,432.6h0M2118.1,281.6h0M2056.6,353.6h0M1977.7,452.2h0M2035.1,373.8h0M1989.6,407.4h0M2049.2,355.9h0M2062.3,332.7h0M1947.7,435.7h0M2127.1,284.3h0M2041.0,368.5h0M2118.3,294.0h0M1964.3,427.7h0M2046.3,358.8h0M1978.2,408.3h0M2121.3,295.8h0M2000.2,391.3h0M2003.6,390.4h0M2091.0,323.8h0M1970.8,426.1h0M2044.5,361.9h0M2031.7,378.5h0M1985.6,421.6h0M1999.7,390.6h0M2024.6,367.2h0M2005.0,399.7h0M2090.3,309.6h0M2043.4,363.0h0M2139.8,279.3h0M1997.7,405.9h0M1970.2,423.7h0M1991.1,417.4h0M2028.3,386.3h0M2033.0,374.9h0M2082.8,327.5h0M2004.9,401.9h0M1981.0,416.5h0M2095.6,313.2h0M2067.1,340.3h0M2016.8,379.8h0M2010.4,392.6h0M2076.3,329.4h0M1990.9,409.6h0M2019.1,382.3h0M2085.6,321.5h0M2135.2,273.2h0M2105.4,314.9h0M2101.3,319.2h0M2032.9,360.6h0M1981.1,422.9h0M2013.7,398.8h0M1956.7,431.6h0M2100.9,315.3h0M2058.0,354.6h0M1987.1,407.6h0M1979.9,415.1h0M2068.0,330.9h0M2020.4,384.6h0M1978.2,427.8h0M2113.6,303.0h0M2041.3,365.9h0M2145.9,279.1h0M2071.6,331.1h0M2067.6,334.8h0M2075.6,330.6h0M2109.4,314.2h0M2092.5,323.0h0M2008.5,400.8h0M2016.3,389.7h0M2079.4,325.5h0M1965.7,431.3h0M2025.2,375.2h0M2048.2,356.5h0M2068.3,359.5h0M2006.5,388.5h0M2123.7,291.9h0M2106.7,302.1h0M2015.0,387.5h0M2033.2,374.0h0M2026.3,400.9h0M2000.1,403.5h0M1971.5,423.6h0M2049.3,356.5h0M2016.3,388.6h0M2068.3,331.4h0M1981.0,412.7h0M1999.0,407.2h0M2013.9,387.4h0M2009.3,394.9h0M1982.5,411.9h0M2043.7,363.8h0M2042.1,385.4h0M2039.1,381.1h0M1965.1,429.4h0M2016.5,391.7h0M2076.1,337.7h0M1964.2,424.9h0M2021.7,370.7h0M1950.7,450.9h0M2014.8,397.5h0M1989.7,408.6h0M2128.4,279.0h0M2106.6,309.5h0M2023.9,378.0h0M1968.9,428.2h0M2120.1,294.4h0M2123.6,288.7h0M2009.2,386.2h0M2022.1,367.3h0M2050.7,356.6h0M2060.1,349.1h0M2008.9,404.8h0M2081.4,331.1h0M1974.8,432.3h0M2035.0,367.9h0M2009.4,391.4h0M1973.7,414.0h0M2055.2,333.8h0M2081.9,323.4h0M1977.4,431.1h0M2041.3,372.0h0M2130.4,256.8h0M2064.3,335.6h0M2069.7,342.6h0M1997.5,400.7h0M2069.5,344.0h0M2016.3,382.3h0M2037.0,379.0h0M2038.2,365.0h0M2072.0,338.9h0M1993.3,407.8h0M2012.2,388.3h0M2081.8,325.8h0M1988.0,409.5h0M2000.2,401.4h0M2027.4,378.1h0M1991.4,405.8h0M2042.5,369.0h0M2147.1,269.6h0M2005.7,398.9h0M1960.8,435.6h0M2000.0,407.3h0M2066.9,329.6h0M2004.4,392.1h0M2041.9,354.7h0M2084.1,325.5h0M2113.1,292.6h0M2004.4,392.1h0M2067.5,328.2h0M2092.3,316.4h0M2033.4,362.1h0M2128.5,275.2h0M1966.3,433.8h0M2007.6,397.2h0M1973.0,422.8h0M1967.6,422.8h0M2025.5,376.4h0M2006.8,391.9h0M2030.2,375.3h0M1982.3,420.5h0M2007.7,398.6h0M2112.1,297.3h0M2012.7,392.8h0M2039.1,359.6h0M2033.1,369.4h0M2075.9,323.9h0M2051.3,363.2h0M2066.1,347.3h0M2008.4,394.0h0M2011.0,396.5h0M1975.9,416.9h0M2123.6,285.5h0M2121.2,285.6h0M2070.5,336.5h0M2067.5,342.5h0M2008.6,387.6h0M2121.5,284.9h0M2069.2,327.2h0M2074.6,328.6h0M2002.1,392.7h0M2066.4,345.3h0M2039.4,367.8h0M1971.0,428.1h0M2021.7,375.2h0M2078.9,322.7h0M2141.8,276.1h0M1970.1,423.2h0M2041.5,362.2h0M2116.1,297.1h0M2022.7,375.6h0M2007.6,390.0h0M1953.9,440.3h0M2037.5,371.2h0M2048.5,355.1h0M1999.8,406.2h0M2066.6,338.1h0M2055.7,349.4h0M2039.1,379.1h0M2074.0,317.6h0M2027.8,368.4h0M2082.3,336.0h0M2085.6,329.7h0M2102.0,301.7h0M2070.0,327.8h0M1986.1,416.5h0M2074.8,331.5h0M2051.0,362.8h0M2120.0,291.3h0M2142.7,261.2h0M2044.1,366.5h0M2010.2,392.0h0M2019.3,383.0h0M2054.2,352.6h0M2070.7,338.3h0M2083.5,299.6h0M2052.8,345.2h0M2049.1,349.8h0M1963.5,412.2h0M2003.0,394.8h0M2034.6,371.8h0M1998.4,399.7h0M1978.5,414.5h0M2014.9,372.3h0M2064.1,344.7h0M2075.8,325.8h0M2125.7,276.2h0M2026.7,372.6h0M2106.5,294.8h0M2008.3,400.1h0M2072.0,333.7h0M2089.3,311.9h0M2076.8,320.2h0M2041.6,367.4h0M1999.5,387.2h0M2046.5,351.6h0M2001.6,388.7h0M2019.1,373.2h0M2112.6,287.9h0M1990.2,408.2h0M1995.9,399.5h0M1990.3,409.2h0M2118.8,294.6h0M2093.8,323.3h0M2015.0,387.7h0M2025.6,378.5h0M2001.3,406.7h0M2087.4,317.6h0M2015.8,392.9h0M2086.4,315.8h0M2141.0,275.9h0M2028.4,373.9h0M2109.1,297.8h0M2056.2,364.5h0M2029.8,375.1h0M2130.7,258.3h0M2049.1,346.5h0M2042.2,371.3h0M2057.8,356.9h0M1999.5,405.9h0M2020.1,386.9h0M2116.1,295.5h0M2024.7,376.5h0M2077.5,327.4h0M2054.8,345.1h0M1983.3,425.9h0M2085.3,333.3h0M2048.4,355.5h0M1993.9,408.8h0M2058.0,351.5h0M2018.1,382.8h0M2038.3,359.9h0M2004.7,401.6h0M2109.6,298.9h0M2009.7,424.8h0M2067.6,385.9h0M2060.9,353.6h0M2045.4,358.7h0M2130.8,291.0h0M2007.8,384.2h0M2044.0,365.6h0M2022.9,388.7h0M2044.2,354.7h0M2031.6,387.0h0M2040.9,374.7h0M2072.0,336.6h0M2066.1,345.0h0M2024.8,383.8h0M1975.4,423.1h0M1989.5,400.0h0M1997.2,398.0h0M2051.1,341.9h0M1969.8,425.5h0M2126.0,290.3h0M2009.5,391.1h0M2068.4,339.6h0M2016.5,384.7h0M2062.6,341.6h0M1983.6,416.3h0M2036.5,374.5h0M1961.6,432.4h0M2093.0,312.9h0M2034.0,368.9h0M2055.8,354.3h0M2058.9,345.6h0M2070.7,334.3h0M2129.9,279.3h0M2049.0,372.3h0M2001.3,400.0h0M2117.2,275.1h0M2099.5,282.0h0M2066.7,350.4h0M2041.2,359.1h0M2035.2,366.8h0M2050.0,349.8h0M2006.3,397.3h0M2017.0,381.2h0M2004.0,366.9h0M2047.0,355.4h0M2043.8,352.0h0M1995.5,405.7h0M2027.5,375.1h0M2005.3,397.0h0M2047.5,363.2h0M2070.7,349.2h0M2023.8,365.3h0M2089.2,322.1h0M2142.2,266.5h0M2095.2,321.8h0M1963.2,434.7h0M1956.3,438.3h0M1949.7,456.8h0M2072.1,344.0h0M2001.7,405.6h0M1973.7,416.4h0M2016.3,380.3h0M1999.8,405.7h0M1978.9,419.6h0M2089.9,332.5h0M2046.6,367.3h0M1944.9,452.6h0M1997.4,389.6h0M2071.6,344.0h0M2004.5,392.6h0M2090.3,328.6h0M1990.8,405.4h0M2095.9,327.0h0M1948.5,435.6h0M2012.6,386.2h0M2124.7,278.1h0M2037.9,354.8h0M2050.6,356.6h0M1988.4,411.8h0M2040.2,360.5h0M2098.1,313.1h0M2006.1,395.2h0M2023.0,375.1h0M1984.8,413.7h0M2045.4,359.4h0M2039.6,374.1h0M2028.1,382.4h0M2066.3,334.1h0M2048.9,365.9h0M2007.5,397.3h0M2049.0,362.2h0M2034.1,364.3h0M1986.8,405.3h0M2126.1,279.8h0M2056.4,358.2h0M2027.2,374.7h0M2073.8,339.4h0M2010.6,386.9h0M2046.5,374.9h0M2098.2,317.0h0M2021.8,382.6h0M2010.1,396.0h0M2050.6,356.9h0M2002.3,396.5h0M2092.5,321.9h0M2084.7,329.1h0M2026.0,376.2h0M2015.6,393.8h0M2069.3,352.5h0M2012.9,398.0h0M2096.2,319.0h0M2007.9,387.9h0M2063.1,359.8h0M2020.1,378.2h0M1980.6,417.0h0M2031.6,374.5h0M1999.7,396.6h0M2117.5,277.0h0M2006.9,396.4h0M2049.5,361.4h0M2073.8,347.1h0M2074.0,336.5h0M2060.8,340.2h0M2018.0,389.8h0M1996.1,412.9h0M2018.2,380.2h0M1989.1,397.8h0M2061.8,329.4h0M2057.3,347.2h0M2010.2,387.7h0M2110.6,305.6h0M2070.5,322.9h0M2098.6,318.5h0M2082.1,316.7h0M1994.1,400.6h0M2151.7,287.3h0M2071.3,330.5h0M2106.9,295.6h0M1991.1,414.3h0M2041.5,371.0h0M2013.2,396.6h0M2118.0,298.0h0M1981.9,415.8h0M2006.4,391.6h0M2015.1,390.0h0M2003.6,403.6h0M2005.8,400.0h0M2029.0,378.4h0M2015.9,392.2h0M2120.1,287.5h0M2115.1,293.9h0M2031.4,391.9h0M2105.6,295.6h0M2068.4,343.7h0M2009.3,380.7h0M1966.2,423.9h0M2012.8,377.7h0M2035.2,380.1h0M1979.7,418.1h0M2045.0,362.1h0M2039.2,351.0h0M1990.2,410.3h0M2110.8,305.0h0M2019.0,382.4h0M2038.0,391.5h0M2094.0,304.3h0M1985.5,408.5h0M1968.9,433.0h0M2130.8,286.7h0M2059.0,356.7h0M2141.6,291.1h0M2058.1,357.5h0M2074.3,316.7h0M1975.2,422.4h0M2099.2,321.0h0M2043.1,352.5h0M2035.4,360.2h0M2003.2,403.8h0M2064.8,345.1h0M1990.3,410.2h0M2100.4,305.6h0M2004.0,403.1h0M2024.7,383.9h0M2043.9,376.1h0M2131.2,284.4h0M1976.7,413.3h0M1990.1,414.5h0M2009.7,382.8h0M1989.8,399.2h0M2086.9,305.9h0M2038.6,365.6h0M2037.8,368.0h0M1999.0,411.4h0M1995.7,411.4h0M2094.4,324.4h0M1981.6,407.4h0M2087.3,324.4h0M2064.7,336.2h0M2061.8,353.2h0M2057.5,354.4h0M2030.8,379.2h0M2085.7,323.4h0M2040.4,368.9h0M2020.0,390.9h0M1999.6,405.4h0M2084.9,324.4h0M1980.2,416.8h0M1980.6,412.5h0M2016.1,386.3h0M2065.2,346.9h0M1973.2,422.9h0M2140.0,274.7h0M2067.1,329.6h0M2002.9,409.3h0M2113.8,290.6h0M2020.8,381.6h0M2057.2,350.0h0M2040.4,363.6h0M2013.0,395.1h0M2026.6,371.6h0M2065.2,351.7h0M1995.3,414.6h0M2113.4,311.4h0M2028.2,383.1h0M2008.4,386.9h0M1945.7,452.4h0M2024.9,378.9h0M2075.9,338.6h0M2091.2,309.3h0M2103.9,299.5h0M2083.5,319.7h0M1947.9,446.6h0M2128.4,290.0h0M2029.4,379.7h0M2000.2,402.1h0M1968.1,430.9h0M2074.4,334.3h0M2141.4,275.0h0M2022.6,382.6h0M2118.6,299.8h0M1973.6,421.6h0M2045.8,368.8h0M2063.6,330.5h0M2099.3,308.8h0M2020.0,379.6h0M1974.5,416.3h0M2143.6,303.4h0M2015.1,389.1h0M2105.5,320.4h0M2033.6,380.0h0M2058.3,349.8h0M2102.8,306.8h0M2039.6,366.3h0M2004.9,394.4h0M2013.1,387.5h0M2064.2,333.9h0M2009.7,397.2h0M2027.3,386.6h0M2027.6,375.7h0M2040.1,354.0h0M2074.2,327.8h0M2019.4,381.0h0M2027.5,378.5h0M2025.6,373.6h0M2099.0,323.7h0M2021.6,381.9h0M2020.4,380.5h0M2033.7,379.0h0M2044.8,354.7h0M2132.2,280.9h0M2103.1,308.5h0M2012.4,390.7h0M2016.8,383.6h0M1991.7,410.6h0M2000.8,393.2h0M2015.8,399.5h0M2053.8,354.2h0M2018.4,366.9h0M2069.8,347.8h0M2063.3,332.7h0M2114.8,294.1h0M1981.5,424.0h0M2009.9,406.0h0M2091.9,321.8h0M2055.1,350.9h0M2028.3,378.2h0M1943.0,450.2h0M2045.1,360.1h0M2060.4,336.3h0M2115.9,285.8h0M1969.3,424.0h0M2087.1,316.6h0M2042.1,358.5h0M2114.1,294.6h0M1976.9,430.8h0M2052.5,340.3h0M1999.7,404.5h0M2040.0,375.0h0M1973.9,430.6h0M1960.4,437.7h0M2017.1,378.5h0M2008.2,403.3h0M2008.2,396.9h0M1957.8,435.5h0M2031.7,368.6h0M2030.3,371.3h0M2002.5,398.1h0M2037.1,375.0h0M2083.7,312.7h0M2095.8,320.9h0M2014.9,385.7h0M2094.2,310.2h0M2094.4,321.5h0M2142.0,267.0h0M1981.9,412.6h0M2031.9,372.0h0M2051.5,340.9h0M2023.4,385.1h0M1989.5,415.0h0M2029.1,384.0h0M2077.9,330.0h0M1994.4,409.4h0M1994.0,405.0h0M2060.3,343.5h0M2055.1,328.9h0M2011.6,394.1h0M2035.6,382.2h0M2005.4,395.9h0M2126.7,282.5h0M2014.0,392.4h0M1956.3,448.0h0M2014.3,379.6h0M2012.3,394.3h0M2127.4,274.0h0M2039.2,362.9h0M2086.5,318.5h0M2014.2,394.5h0M2039.4,341.6h0M2028.5,383.0h0M2018.6,373.3h0M1986.4,411.5h0M1990.0,418.6h0M2064.6,352.0h0M2133.4,275.2h0M2114.0,297.9h0M2079.0,336.7h0M1984.7,412.2h0M2038.2,360.3h0M2061.1,352.0h0M2002.2,396.5h0M1986.1,404.6h0M2022.7,389.5h0M2052.1,369.3h0M2002.4,393.1h0M2050.6,361.3h0M2084.0,320.9h0M2009.2,402.2h0M1976.3,430.7h0M2131.5,291.2h0M1990.3,405.8h0M2073.9,334.7h0M1986.8,419.6h0M2087.2,319.2h0M2008.0,391.9h0M2048.5,349.5h0M2040.9,369.3h0M2053.5,348.2h0M2012.3,395.4h0M2028.2,371.5h0M2009.3,389.9h0M2023.5,383.0h0M2083.0,326.0h0M2121.8,291.8h0M2026.2,377.2h0M1982.4,402.7h0M2033.3,378.1h0M2027.9,377.8h0M1955.2,429.4h0M1956.7,437.5h0M1950.6,434.5h0M2019.9,377.3h0M2022.5,379.6h0M1964.8,436.0h0M2034.2,391.8h0M2043.0,349.8h0M2120.4,287.1h0M2050.3,355.7h0M2057.3,357.9h0M2140.7,281.8h0M2140.6,271.4h0M2000.5,390.1h0M2085.9,316.6h0M2085.9,336.4h0M2122.4,291.7h0M1989.6,411.4h0M2136.5,273.8h0M2031.8,365.5h0M2001.4,407.6h0M2083.2,313.1h0M2030.4,370.2h0M2003.6,390.5h0M2027.5,377.3h0M2093.9,314.1h0M2014.6,379.0h0M2081.7,325.2h0M2056.1,347.3h0M2084.3,331.4h0M2029.1,357.8h0M2009.8,396.6h0M2060.8,349.7h0M2123.1,290.2h0M1980.5,407.9h0M1994.6,417.7h0M2029.6,360.7h0M2108.5,295.7h0M1969.2,424.0h0M1951.3,447.9h0M2060.2,338.7h0M2052.8,351.2h0M1964.0,443.4h0M2119.9,282.2h0M1987.2,412.9h0M1964.5,432.1h0M2038.8,358.4h0M2025.3,387.8h0M2056.9,353.7h0M2099.4,307.4h0M2023.4,385.2h0M2051.0,359.8h0M2017.6,389.1h0M2003.8,399.5h0M2031.4,372.0h0M2036.2,367.5h0M2134.2,283.8h0M2030.9,379.2h0M2044.5,354.9h0M1967.7,437.0h0M1989.2,410.6h0M2054.2,345.5h0M2116.9,293.9h0M2016.8,382.9h0M2034.7,366.0h0M2137.4,269.9h0M1960.1,437.8h0M1979.4,418.0h0M2076.2,320.4h0M2118.4,290.8h0M2019.5,389.0h0M2025.7,372.9h0M2055.6,352.2h0M2042.5,347.6h0M2067.9,343.2h0M2023.1,377.1h0M2023.0,388.1h0M2083.9,325.3h0M2033.9,381.8h0M2004.8,407.5h0M2028.2,368.8h0M1985.4,395.7h0M2081.4,330.6h0M1993.2,404.6h0M2090.3,319.6h0M2044.1,359.1h0M2053.5,332.9h0M2005.7,394.7h0M1967.2,428.0h0M2057.0,354.7h0M2137.9,278.4h0M1983.8,407.6h0M2021.5,387.5h0M2000.2,393.7h0M1999.6,397.7h0M2030.9,355.7h0M2137.4,268.6h0M2009.1,393.8h0M2046.8,354.3h0M1939.8,444.3h0M2022.6,385.8h0M2052.2,354.2h0M2009.1,385.8h0M2121.5,280.9h0M2039.4,370.5h0M2007.9,395.3h0M2144.6,260.5h0M2027.1,384.2h0M2027.7,376.2h0M2062.6,344.4h0M2068.5,342.3h0M1993.2,415.1h0M1992.9,404.6h0M2118.6,294.7h0M2020.9,388.7h0M2046.5,339.8h0M2100.7,311.4h0M2057.7,343.1h0M2049.0,356.9h0M2088.3,322.1h0M1970.6,434.6h0M2064.2,340.3h0M2120.2,285.3h0M2024.9,376.4h0M2095.4,300.6h0M2056.9,350.3h0M2117.1,288.7h0M1993.4,407.1h0M2067.4,339.0h0M2077.6,322.1h0M2065.7,333.7h0M2008.3,409.2h0M2125.4,288.1h0M2041.4,369.9h0M2075.6,344.2h0M2049.9,361.5h0M2092.2,320.7h0M2095.9,321.2h0M2078.2,329.5h0M2032.2,367.0h0M1972.0,421.6h0M2077.3,314.6h0M2113.6,299.0h0M2019.0,381.0h0M1998.8,397.8h0M2002.8,401.2h0M2096.3,298.2h0M2118.0,292.2h0M2002.5,399.6h0M2088.7,316.5h0M2104.1,296.8h0M2016.2,381.4h0M1987.3,408.5h0M2113.8,306.6h0M2113.4,300.9h0M2131.5,278.2h0M2137.0,263.8h0M2084.0,324.1h0M1983.1,412.9h0M1985.9,409.2h0M2031.7,370.2h0M1991.8,423.4h0M2000.8,383.9h0M2069.3,338.1h0M1985.0,407.4h0M2038.4,378.6h0M2052.2,365.8h0M2019.5,386.4h0M1972.6,438.3h0M2061.4,335.9h0M1992.5,422.1h0M2052.6,348.5h0M2001.3,405.2h0M2115.8,294.0h0M2045.8,353.6h0M2034.6,371.0h0M1984.7,416.0h0M2022.9,374.0h0M2043.7,370.4h0M2084.4,331.3h0M2012.7,388.9h0M1995.8,407.1h0M2029.1,380.1h0M2017.5,382.9h0M1997.2,392.3h0M2119.1,305.9h0M2055.6,356.7h0M2056.5,345.4h0M2077.2,337.3h0M2020.0,379.7h0M1981.7,414.4h0M2008.7,391.9h0M2004.3,392.9h0M2001.3,398.1h0M2051.0,353.6h0M1950.7,448.3h0M2088.7,324.2h0M2018.8,386.6h0M2085.3,329.7h0M2060.6,357.9h0M2004.2,404.2h0M2118.6,295.3h0M2058.8,342.4h0M2121.2,283.7h0M2077.3,322.2h0M2072.9,322.9h0M1992.8,407.1h0M1993.7,410.4h0M1997.1,392.7h0M1979.6,423.9h0M2045.1,367.4h0M2034.8,367.4h0M2080.6,334.7h0M1998.2,399.0h0M2136.9,259.7h0M2052.6,349.4h0M2000.9,390.8h0M2037.1,368.1h0M2079.9,332.4h0M2045.0,354.3h0M2093.5,313.8h0M1966.6,432.2h0M2002.2,397.0h0M1967.0,432.5h0M1987.5,414.4h0M2136.0,277.6h0M2054.8,351.2h0M1992.0,408.4h0M2013.9,386.2h0M2068.5,332.3h0M2053.9,355.2h0M2039.0,368.8h0M2136.1,282.0h0M2029.3,378.6h0M2061.1,344.6h0M2128.1,290.8h0M1966.7,407.9h0M2002.4,408.8h0M2067.3,341.2h0M2092.2,320.1h0M2125.0,290.5h0M2025.0,371.8h0M2028.6,383.7h0M2015.2,385.7h0M2040.2,360.0h0M2034.7,367.3h0M1999.8,394.1h0M2038.5,366.8h0M2050.7,351.4h0M2015.1,395.1h0M2093.3,318.9h0M2043.6,361.5h0M2029.7,373.7h0M2056.6,346.7h0M2111.5,302.9h0M1995.7,405.0h0M2027.0,381.3h0M2101.6,305.4h0M2087.7,314.1h0M2003.8,406.1h0M2125.7,286.9h0M2017.6,378.4h0M2043.6,363.2h0M2014.1,388.1h0M2044.9,349.3h0M2064.5,326.4h0M2135.8,283.3h0M2098.0,331.4h0M2124.9,275.6h0M2016.0,386.7h0M1954.4,438.1h0M2121.1,281.6h0M2057.8,351.8h0M2015.9,388.6h0M2081.6,324.2h0M2022.1,384.7h0M2085.8,329.2h0M2112.1,296.0h0M2101.7,311.1h0M2129.9,284.6h0M1973.2,408.2h0M2023.5,377.9h0M2084.8,326.2h0M2095.5,312.5h0M2071.3,349.7h0M1965.8,434.6h0M1984.5,412.0h0M2033.1,376.5h0M2048.4,356.9h0M2118.6,304.6h0M2062.6,343.5h0M2053.1,358.2h0M2030.4,366.1h0M2122.2,300.6h0M2121.9,287.7h0M2054.3,345.2h0M2075.4,335.3h0M1994.9,410.3h0M2022.8,380.6h0M2019.6,385.5h0M2041.1,369.0h0M2050.0,340.6h0M2081.8,332.7h0M1982.0,421.2h0M1979.7,426.3h0M1972.6,416.9h0M2126.8,286.4h0M2060.6,344.0h0M1979.4,424.6h0M1960.6,437.2h0M1958.0,445.8h0M2007.9,397.8h0M1998.7,402.0h0M1987.7,410.9h0M2108.4,288.8h0M1982.6,407.7h0M2051.1,358.4h0M2003.9,408.3h0M2109.5,309.4h0M1993.1,409.7h0M2033.9,368.9h0M2037.7,367.2h0M2009.0,393.0h0M1987.8,416.1h0M2132.2,268.6h0M2039.3,363.8h0M2049.7,370.8h0M2045.1,387.5h0M2084.0,313.8h0M2127.0,285.0h0M1981.7,411.1h0M2029.3,374.9h0M2017.2,381.4h0M2010.6,398.6h0M2121.1,293.2h0M2049.5,365.2h0M2128.4,278.0h0M2030.1,370.6h0M2084.7,337.4h0M2062.2,333.1h0M1958.3,437.5h0M2106.1,307.7h0M2003.3,400.3h0M2029.3,382.0h0M2000.1,410.9h0M2104.8,294.8h0M2039.9,369.5h0M1988.3,407.6h0M1977.4,414.0h0M1972.5,422.3h0M2129.6,280.9h0M2093.3,314.9h0M2003.3,401.3h0M1990.6,407.7h0M2121.7,298.6h0M2126.8,303.9h0M1995.2,409.4h0M1985.0,415.2h0M2108.9,310.6h0M2011.3,388.7h0M1993.1,400.6h0M2113.5,304.9h0M2004.2,399.2h0M2159.5,256.9h0M2023.6,379.4h0M2000.7,407.1h0M2065.1,327.2h0M2077.6,315.9h0M2109.4,296.7h0M2001.1,400.0h0M2062.5,343.0h0M2063.0,338.9h0M2038.6,381.6h0M2111.9,295.3h0M2034.9,372.2h0M2011.1,389.0h0M2038.6,362.7h0M2052.5,350.5h0M2072.7,334.6h0M2052.0,361.0h0M1990.7,418.6h0M2039.2,375.4h0M2045.8,358.7h0M2109.9,287.8h0M2008.5,392.4h0M2139.3,281.6h0M2065.5,341.4h0M2034.9,376.3h0M2000.2,406.8h0M2036.3,357.2h0M1993.3,404.1h0M2078.0,321.5h0M2071.8,343.0h0M2013.9,387.7h0M2114.6,305.0h0M2044.5,354.1h0M2001.4,389.2h0M2017.0,388.1h0M2133.9,279.6h0M1965.1,430.9h0M2121.1,284.5h0M1966.9,438.2h0M2088.9,315.7h0M1975.7,427.9h0M2029.2,368.7h0M2099.7,317.7h0M2061.2,348.8h0M2060.1,339.3h0M2033.0,373.4h0M2013.8,374.0h0M2041.1,372.5h0M1992.9,405.1h0M2042.4,367.2h0M2134.0,303.8h0M2014.4,396.9h0M2117.8,314.2h0M2023.3,381.9h0M2005.7,392.9h0M2046.3,366.1h0M2043.3,364.6h0M2087.5,326.1h0M2051.1,346.2h0M2082.2,338.1h0M2132.2,279.5h0M1979.9,412.0h0M2089.3,311.4h0M1974.7,419.3h0M2119.4,294.3h0M2021.3,382.9h0M1987.8,406.7h0M2004.6,412.6h0M2018.6,384.8h0M2057.9,341.1h0M2012.3,391.6h0M2102.4,289.6h0M2065.8,343.4h0M2006.8,384.7h0M1984.9,419.3h0M1995.5,399.3h0M2128.0,284.7h0M2013.8,386.4h0M2042.2,346.3h0M2005.3,394.8h0M1968.9,422.1h0M2027.3,380.8h0M2012.2,398.2h0M2132.0,278.6h0M2049.1,353.3h0M1954.2,398.5h0M2106.1,294.8h0M2000.6,389.3h0M2010.3,394.6h0M1980.3,425.6h0M2101.2,310.4h0M2066.9,344.5h0M2023.5,378.6h0M2036.4,366.6h0M2113.2,300.5h0M2064.6,339.2h0M2054.6,356.1h0M2095.5,330.7h0M2069.9,330.4h0M2118.7,274.3h0M2019.9,379.1h0M1997.8,400.1h0M2031.9,372.8h0M2025.9,369.0h0M2027.4,374.3h0M2115.8,288.9h0M2118.3,287.9h0M2026.1,380.4h0M2029.7,368.0h0M2015.6,387.2h0M1960.8,439.1h0M2020.0,381.1h0M1993.6,422.1h0M2028.6,386.4h0M2000.9,408.9h0M2098.8,306.3h0M2029.7,384.0h0M2025.6,372.7h0M2129.4,285.8h0M2126.9,276.9h0M2121.9,293.9h0M2057.6,354.4h0M1989.3,411.1h0M2016.5,392.2h0M2065.5,336.7h0M1965.2,423.8h0M1975.8,431.3h0M1954.4,438.8h0M1992.9,402.7h0M1976.7,423.9h0M2033.3,373.3h0M2120.0,294.5h0M2053.7,363.7h0M2079.7,329.3h0M2101.0,297.9h0M2083.9,329.1h0M1978.4,424.7h0M2082.4,328.7h0M2008.3,396.5h0M2003.8,391.0h0M2011.7,372.3h0M1995.7,399.3h0M2069.5,342.1h0M1985.7,409.9h0M1996.9,402.0h0M2075.4,328.9h0M2081.8,309.9h0M2046.5,363.8h0M2102.7,302.2h0M2080.4,330.8h0M2043.7,369.4h0M2139.3,263.9h0M2004.7,391.0h0M1974.6,429.9h0M2035.9,364.9h0M2039.8,361.9h0M1992.4,400.2h0M2054.0,352.9h0M2099.3,310.1h0M1981.6,422.0h0M1976.2,436.2h0M2127.5,282.3h0M2062.8,342.3h0M2067.8,344.1h0M1970.2,432.3h0M2065.2,337.8h0M2018.0,387.4h0M2025.8,389.8h0M2026.9,365.6h0M2028.6,378.9h0M1966.8,438.2h0M2051.2,360.7h0M2040.5,359.7h0M2124.1,286.7h0M1950.5,443.7h0M2017.1,380.3h0M2033.3,371.2h0M2014.5,389.4h0M2089.8,311.2h0M2023.0,372.5h0M2071.7,334.2h0M2036.0,366.7h0M2046.0,354.8h0M1999.6,405.3h0M2038.6,358.1h0M1981.2,415.5h0M2128.1,286.8h0M2035.4,369.8h0M2021.3,384.4h0M2085.1,325.7h0M2077.0,321.5h0M2013.3,389.6h0M2126.8,297.6h0M2079.9,330.3h0M2057.8,349.3h0M2104.9,302.0h0M2070.0,342.0h0M2102.8,314.8h0M1959.2,442.4h0M2018.5,384.2h0M2033.4,373.1h0M1964.6,438.9h0M2010.8,395.3h0M2005.1,390.1h0M2004.2,399.7h0M1979.4,422.5h0M2046.6,359.1h0M2029.9,379.0h0M1986.7,411.5h0M2094.1,318.2h0M2141.3,272.3h0M2049.7,356.2h0M2060.3,341.1h0M2061.4,343.5h0M1983.9,413.0h0M2059.4,358.5h0M2010.9,388.3h0M2013.1,388.7h0M2023.0,386.0h0M2035.9,373.9h0M2114.2,301.7h0M2118.9,301.9h0M2005.3,391.3h0M1952.8,448.2h0M2006.5,390.3h0M1948.9,454.0h0M1976.0,417.5h0M2027.2,373.5h0M2135.4,283.7h0M2005.4,395.1h0M2002.3,399.4h0M2019.1,385.0h0M2047.8,366.8h0M2027.5,407.3h0M2133.6,289.4h0M2071.6,328.9h0M2019.9,377.5h0M2022.9,386.6h0M2061.0,350.5h0M2014.2,381.1h0M1972.6,426.1h0M1958.1,446.0h0M2145.3,251.8h0M2018.7,375.9h0M2101.1,297.1h0M2017.5,382.1h0M2081.9,333.5h0M1998.7,400.0h0M2061.1,343.1h0M2113.7,301.8h0M2057.5,338.2h0M2045.3,359.2h0M2115.8,270.2h0M2075.1,343.9h0M2128.0,269.2h0M2039.3,366.0h0M2092.5,304.0h0M2032.3,378.6h0M2022.1,383.2h0M2019.8,378.3h0M2012.8,405.6h0M2004.3,398.0h0M2081.6,326.3h0M2020.8,382.6h0M2042.0,362.5h0M2102.4,323.2h0M2010.2,390.8h0M2047.9,349.0h0M1984.4,414.4h0M1993.2,399.8h0M2003.5,389.7h0M2039.8,378.1h0M1988.8,419.6h0M2019.9,369.8h0M1960.6,439.7h0M1964.6,426.7h0M2077.3,327.8h0M1977.8,433.8h0M2013.6,380.0h0M2125.9,288.3h0M1977.8,422.4h0M2032.0,362.4h0M1999.5,408.5h0M2037.8,366.3h0M2135.1,294.7h0M2037.4,369.3h0M2122.6,285.4h0M2096.9,312.7h0M2103.8,309.5h0M1997.0,405.6h0M2051.9,351.5h0M2117.0,290.8h0M2050.2,350.3h0M2082.6,321.9h0M1998.6,412.4h0M1940.9,452.4h0M2070.5,312.6h0M1961.2,434.1h0M2022.2,382.1h0M2070.5,336.0h0M2124.6,299.8h0M2070.2,331.7h0M1993.3,400.2h0M1941.4,448.2h0M2127.3,293.6h0M2011.3,387.2h0M2071.0,335.4h0M2022.5,379.0h0M1938.1,448.7h0M2017.6,387.9h0M2050.8,352.9h0M2046.3,368.5h0M2054.2,346.7h0M2038.9,356.1h0M2066.7,329.9h0M2116.9,306.6h0M1984.8,406.9h0M2064.7,347.0h0M2040.2,353.2h0M2056.6,346.1h0M2062.4,346.9h0M2010.5,394.0h0M1977.5,431.6h0M2006.0,393.0h0M2013.2,398.4h0M2000.6,401.2h0M2013.1,379.4h0M2000.9,397.4h0M2003.0,408.3h0M2002.0,411.4h0M1964.0,443.0h0M1951.7,441.2h0M2037.4,371.6h0M2048.2,364.5h0M1951.9,439.6h0M2103.4,302.9h0M2032.3,357.1h0M2116.8,273.6h0M2013.2,380.9h0M1967.4,442.0h0M2076.6,333.2h0M2044.5,356.6h0M2085.9,339.1h0M2045.9,351.3h0M2084.2,319.1h0M1975.5,403.4h0M2000.1,396.3h0M2025.7,385.7h0M1992.7,408.0h0M2037.3,375.4h0M2006.8,403.0h0M2090.7,318.9h0M2056.9,346.9h0M2004.3,395.0h0M2109.2,299.9h0M2077.0,330.8h0M2014.9,385.6h0M1966.7,432.3h0M2020.6,372.5h0M2016.5,378.4h0M1986.4,419.6h0M2143.5,266.9h0M1997.3,404.3h0M2004.5,399.2h0M1961.0,435.8h0M2040.6,364.5h0M2017.3,371.6h0M2071.3,344.4h0M2013.2,387.4h0M2085.6,322.8h0M1974.2,426.3h0M2036.5,361.9h0M2019.0,382.7h0M1960.1,430.5h0M1979.3,418.9h0M2016.4,382.7h0M2056.7,349.2h0M1988.2,407.4h0M2062.1,341.8h0M2116.6,293.4h0M2149.9,254.3h0M2030.5,374.4h0M2069.7,352.1h0M2015.1,391.9h0M2026.0,377.3h0M2039.4,353.5h0M2062.7,354.3h0M2037.4,365.2h0M2087.9,333.9h0M2104.9,300.3h0M1984.5,411.4h0M2092.5,310.6h0M2111.5,298.2h0M2001.5,404.4h0M2040.3,371.9h0M2092.1,319.1h0M2054.0,348.0h0M2142.4,286.7h0M1995.9,407.9h0M2060.0,346.0h0M1972.1,435.0h0M2097.1,308.9h0M2044.5,375.9h0M2054.4,353.5h0M1981.0,412.4h0M2057.3,331.5h0M2144.4,279.4h0M2099.1,326.8h0M2015.0,389.5h0M1985.7,414.2h0M2015.5,386.7h0M1985.1,410.9h0M1974.3,425.3h0M2010.7,399.1h0M2121.7,289.1h0M2054.4,347.3h0M2012.9,398.1h0M2051.5,354.4h0M2104.3,312.3h0M1985.2,415.2h0M2015.1,392.1h0M2021.4,368.2h0M2072.2,335.1h0M2034.5,361.1h0M2047.5,350.4h0M2116.6,298.0h0M2020.7,381.9h0M2013.0,375.9h0M2035.1,362.4h0M2049.0,361.2h0M2026.5,371.2h0M1990.8,398.4h0M2062.0,341.0h0M1976.9,419.6h0M2026.0,382.3h0M2004.9,408.9h0M2089.4,318.7h0M2112.1,293.9h0M2081.9,328.2h0M2052.8,351.1h0M1975.3,423.3h0M2046.1,344.5h0M2131.3,289.1h0M2035.3,378.4h0M1984.5,411.3h0M2040.0,366.1h0M2055.9,365.6h0M1985.3,419.5h0M2085.9,321.2h0M2015.1,389.9h0M2086.3,316.2h0M2063.9,343.4h0M1992.3,411.4h0M1998.4,404.0h0M2029.5,367.9h0M2029.2,380.0h0M2118.9,301.3h0M2060.1,345.5h0M2081.1,324.1h0M1977.8,424.0h0M2097.6,323.2h0M2007.6,393.6h0M2086.0,319.6h0M2023.3,373.3h0M2116.0,302.9h0M1982.4,423.5h0M2023.5,373.8h0M1991.5,409.2h0M1980.4,418.9h0M2059.0,337.9h0M2057.5,352.3h0M2143.6,266.5h0M1988.2,416.7h0M2066.4,343.1h0M2138.3,279.8h0M2107.4,309.1h0M2061.3,345.3h0M2041.2,361.3h0M1946.8,451.6h0M1997.7,394.8h0M1979.6,425.3h0M1972.2,428.4h0M1977.8,420.4h0M2023.9,383.7h0M2082.0,315.0h0M2043.7,373.2h0M2103.8,292.6h0M2053.3,352.1h0M2075.9,323.9h0M2029.0,377.9h0M2015.5,393.6h0M2106.6,300.8h0M2082.2,328.2h0M1982.5,417.0h0M1942.0,445.7h0M2099.2,306.1h0M2084.3,322.7h0M2025.0,389.6h0M2016.8,379.4h0M2061.8,351.8h0M1996.9,397.1h0M2022.1,381.9h0M2011.1,395.5h0M2088.8,303.7h0M2051.1,348.7h0M2121.8,286.4h0M2042.5,364.1h0M2032.7,363.0h0M2078.5,329.9h0M2057.3,334.8h0M2009.7,389.7h0M1953.8,442.8h0M1993.2,394.7h0M2002.8,410.5h0M2094.9,307.9h0M2084.6,341.2h0M2055.4,353.5h0M2005.2,380.1h0M2109.3,301.7h0M2031.8,379.6h0M2015.4,379.1h0M1990.6,406.3h0M1964.2,433.8h0M2018.1,389.5h0M2125.1,289.8h0M1975.7,422.4h0M1993.4,411.8h0M2019.4,378.5h0M2003.1,402.1h0M2069.7,334.9h0M2138.2,272.2h0M2043.4,361.3h0M2078.5,331.8h0M2043.0,368.5h0M2127.0,280.2h0M1950.2,453.7h0M1987.4,410.7h0M2138.3,300.0h0M2060.0,354.2h0M2122.0,280.8h0M2134.4,273.2h0M2053.6,350.7h0M2034.4,374.2h0M2010.8,390.2h0M2116.3,308.1h0M1976.3,427.1h0M2049.1,362.0h0M2021.2,369.6h0M2056.4,349.8h0M2038.6,366.6h0M2086.3,320.3h0M2084.9,326.4h0M2119.9,297.0h0M1973.0,431.2h0M2073.2,337.0h0M2018.5,382.8h0M2055.8,352.5h0M2031.4,373.7h0M2048.9,358.3h0M2074.9,318.0h0M2019.1,392.5h0M1955.9,421.7h0M2106.2,307.9h0M1978.6,455.5h0M1960.3,439.2h0M2121.0,289.0h0M2001.4,400.6h0M2091.5,330.9h0M2114.7,304.1h0M2007.5,393.8h0M2025.3,364.3h0M1962.7,429.0h0M2038.9,370.6h0M2072.2,333.9h0M2055.2,341.0h0M2040.5,355.6h0M2033.4,360.3h0M2002.0,401.3h0M2122.0,288.4h0M1993.2,396.4h0M2069.9,337.8h0M2079.6,320.3h0M2092.3,328.0h0M2105.6,310.8h0M2119.2,290.5h0M2145.1,274.5h0M1979.7,456.5h0M2087.1,339.2h0M2011.7,389.1h0M2000.4,391.2h0M2030.1,364.7h0M1996.1,403.9h0M2014.7,389.2h0M2048.1,353.9h0M2047.4,354.4h0M2007.2,398.1h0M2082.3,323.7h0M2031.5,374.3h0M2037.1,362.5h0M2062.9,326.1h0M2121.6,285.5h0M1995.0,398.8h0M2030.0,373.9h0M2030.0,373.7h0M1985.2,417.8h0M2027.2,367.0h0M2021.3,395.3h0M2026.6,364.1h0M1993.2,406.4h0M2040.7,355.4h0M2012.4,390.4h0M2075.2,330.5h0M1998.0,406.4h0M2077.7,323.6h0M1966.2,428.5h0M2053.4,359.4h0M2004.7,405.6h0M2032.0,362.9h0M2020.1,386.9h0M1976.7,432.4h0M2019.4,391.8h0M2041.3,368.1h0M2007.9,389.4h0M1975.8,435.3h0M1951.8,443.0h0M2015.9,384.2h0M2142.9,267.3h0M2045.5,361.2h0M1995.1,398.9h0M2039.6,344.3h0M2067.3,349.8h0M2113.2,303.2h0M1982.2,416.6h0M2024.4,380.5h0M1971.4,427.6h0M2045.0,360.9h0M1994.3,410.7h0M2007.8,393.5h0M1989.7,415.2h0M2107.5,306.1h0M2013.2,382.4h0M2041.0,361.4h0M2003.1,392.3h0M2030.0,370.6h0M2073.0,339.7h0M2130.8,284.6h0M1966.2,437.4h0M2120.6,301.3h0M2001.7,402.0h0M2036.1,384.2h0M2030.9,366.7h0M1975.2,424.9h0M2045.8,354.0h0M2107.8,287.4h0M2017.9,382.0h0M1968.5,429.7h0M2041.2,371.6h0M2034.5,355.8h0M2135.8,279.6h0M1997.5,390.1h0M2065.6,337.9h0M1974.4,426.7h0M2016.0,431.2h0M2113.0,304.5h0M2135.2,292.9h0M2018.0,386.1h0M2122.4,313.7h0M1994.1,406.0h0M1986.9,423.1h0M2015.5,388.3h0M2144.6,264.0h0M2014.5,377.4h0M2115.2,293.1h0M1973.1,420.8h0M2086.2,323.2h0M2015.6,384.7h0M2021.1,373.0h0M2021.0,374.7h0M2027.5,399.7h0M2013.1,400.4h0M2043.7,359.0h0M2081.3,321.0h0M2110.0,299.2h0M2054.1,358.5h0M1981.8,417.7h0M2023.3,381.7h0M1971.1,427.4h0M2036.2,367.9h0M2120.5,279.7h0M2002.3,398.1h0M2051.5,360.2h0M1977.5,429.6h0M2084.9,326.2h0M1979.8,413.9h0M2094.3,310.4h0M2018.9,377.1h0M2073.4,317.3h0M2092.2,345.0h0M2074.0,331.2h0M2006.5,393.8h0M2000.1,397.6h0M2064.1,349.0h0M2015.2,356.8h0M2023.1,386.7h0M1954.2,408.4h0M2042.0,369.5h0M2033.2,375.1h0M2028.9,366.0h0M2019.1,397.7h0M2115.2,305.8h0M2022.1,367.2h0M1989.2,406.2h0M1963.8,426.6h0M2024.3,369.4h0M2014.3,393.1h0M2065.1,348.3h0M2090.3,329.1h0M2077.9,325.1h0M1978.7,424.4h0M2079.1,317.0h0M2003.4,396.9h0M2024.5,414.1h0M2065.8,344.3h0M2040.7,355.0h0M1972.7,416.9h0M2048.8,350.9h0M2020.4,379.5h0M1978.9,425.7h0M2075.3,326.4h0M2003.3,390.2h0M2147.7,263.8h0M2045.8,366.3h0M2126.8,280.4h0M2142.5,293.1h0M1957.9,436.6h0M1977.9,409.8h0M2061.6,356.6h0M2070.1,339.3h0M2061.0,326.2h0M2024.9,386.1h0M2081.6,327.4h0M1988.0,421.3h0M1993.8,409.9h0M2022.5,377.5h0M2086.2,316.0h0M2095.5,309.7h0M2120.2,278.8h0M2040.6,357.0h0M2122.6,279.6h0M1996.0,393.9h0M2009.5,400.6h0M2055.7,344.1h0M1994.2,406.9h0M1973.6,420.9h0M2124.1,293.8h0M2039.8,374.3h0M2016.9,383.6h0M2035.8,366.4h0M2048.9,354.3h0M2096.8,307.6h0M1983.2,419.0h0M2018.0,377.1h0M2061.9,346.0h0M2081.7,326.0h0M2118.2,283.6h0M1975.4,414.5h0M2066.0,350.8h0M2090.9,311.4h0M2036.3,374.8h0M2046.7,371.6h0M2117.7,297.1h0M2118.6,284.1h0M1982.8,421.7h0M2039.8,370.7h0M2033.2,366.0h0M2051.1,349.0h0M1967.5,412.7h0M2070.2,339.1h0M2089.7,317.5h0M2000.1,398.2h0M2004.2,391.2h0M2038.0,379.5h0M2082.7,324.2h0M2126.1,277.4h0M2101.8,319.6h0M2017.9,386.1h0M2000.0,386.6h0M2011.3,406.5h0M2019.7,394.8h0M2020.6,380.2h0M2071.9,333.8h0M2045.0,355.9h0M2016.9,393.8h0M2044.2,357.5h0M2132.3,277.3h0M2089.8,307.3h0M2014.5,379.0h0M2070.9,336.3h0M2012.9,387.1h0M2044.4,368.8h0M1974.5,420.5h0M1974.9,422.8h0M2106.7,310.6h0M2036.5,366.0h0M1947.5,446.9h0M2000.9,389.1h0M2080.0,333.7h0M2041.4,365.0h0M1990.2,412.3h0M2039.9,372.1h0M2030.0,372.4h0M2124.7,289.3h0M2019.3,367.0h0M1989.1,411.0h0M2113.7,298.6h0M1964.0,431.7h0M1994.7,415.4h0M2113.5,293.8h0M2068.6,335.8h0M1950.5,449.1h0M2065.0,335.8h0M1972.5,427.7h0M2014.7,384.6h0M2095.3,312.9h0M2024.4,375.7h0M2108.4,329.0h0M2000.7,402.6h0M2000.9,393.2h0M2107.2,317.5h0M2046.4,357.9h0M2025.3,386.4h0M2005.4,382.6h0M2021.1,381.5h0M2027.1,382.1h0M2005.6,421.1h0M2016.4,383.4h0M1961.1,440.5h0M2009.5,400.9h0M2021.7,394.7h0M2060.4,340.1h0M2042.8,358.0h0M1963.9,434.7h0M2117.0,291.5h0M2054.6,361.2h0M2123.3,294.2h0M2048.2,349.8h0M2144.7,267.4h0M2047.2,351.8h0M2014.8,392.5h0M2044.7,350.2h0M2063.4,342.2h0M2138.1,296.4h0M2009.9,390.7h0M2079.9,323.7h0M2029.6,374.6h0M2010.3,393.9h0M2115.1,299.7h0M2056.5,360.8h0M2091.7,314.5h0M1982.3,417.1h0M1969.3,428.6h0M2012.8,398.2h0M2053.9,353.4h0M1980.5,414.9h0M2116.4,300.6h0M1996.3,397.3h0M2018.1,394.7h0M2008.0,400.5h0M2091.6,315.8h0M1995.4,400.7h0M1983.0,406.1h0M1975.6,424.9h0M2082.4,330.3h0M2144.4,293.2h0M1995.0,405.9h0M2036.4,357.8h0M2014.1,387.0h0M2020.7,386.3h0M1952.6,449.3h0M1972.9,427.8h0M2130.1,292.9h0M1981.4,416.4h0M2052.2,354.2h0M2036.5,360.7h0M2042.7,384.5h0M1968.7,420.3h0M2007.3,390.2h0M2008.9,399.9h0M1969.9,422.4h0M1985.5,409.9h0M1950.9,445.3h0M1991.6,404.7h0M2033.9,369.5h0M2038.3,371.1h0M2143.6,279.6h0M1971.7,429.4h0M1978.0,419.8h0M2095.3,316.8h0M2031.1,370.4h0M2020.6,378.5h0M1982.3,416.9h0M2074.2,337.4h0M1995.6,414.8h0M2134.3,283.9h0M2017.7,390.2h0M2038.1,366.0h0M2008.2,393.8h0M2077.0,334.8h0M2127.1,279.7h0M2077.8,320.0h0M2036.9,355.7h0M2004.2,418.0h0M2035.5,370.3h0M2029.1,373.4h0M2041.0,350.2h0M2069.8,335.2h0M1989.4,410.7h0M2058.7,341.8h0M2092.0,311.4h0M2039.6,373.1h0M2012.9,385.8h0M2023.0,385.5h0M2036.8,356.3h0M2065.4,349.9h0M2134.2,275.6h0M2082.9,333.3h0M2036.2,368.0h0M2112.4,293.7h0M1995.7,403.9h0M1965.0,434.4h0M2103.0,307.0h0M2064.2,348.7h0M2084.6,331.1h0M2090.6,331.5h0M1965.5,435.5h0M2027.7,383.4h0M2115.2,295.2h0M2017.7,404.9h0M2042.1,354.4h0M2000.0,398.5h0M1971.9,411.0h0M2094.2,323.0h0M2133.7,285.8h0M2029.6,371.7h0M1966.0,427.1h0M2050.8,336.5h0M2048.6,356.9h0M2007.7,393.2h0M2047.4,361.5h0M2031.4,385.5h0M2019.6,391.6h0M2045.1,347.0h0M2022.1,374.2h0M1955.9,421.9h0M2050.4,338.2h0M1980.1,428.0h0M1995.0,402.8h0M2013.8,394.9h0M2055.3,336.5h0M2037.2,362.3h0M2073.8,334.4h0M2053.4,344.5h0M2123.2,275.4h0M2145.6,262.3h0M2058.3,348.9h0M1993.2,404.4h0M2013.0,408.4h0M2080.4,325.0h0M2071.2,337.8h0M2137.4,268.8h0M1972.6,431.9h0M2012.3,395.7h0M2065.9,342.9h0M1976.3,426.1h0M2013.0,373.9h0M2129.6,278.3h0M2070.0,344.0h0M2046.5,335.0h0M2022.3,382.2h0M2110.8,300.6h0" stroke="#29abe2" stroke-width="3.8" stroke-linecap="round" fill="none"/>
<g clip-path="url(#cp0)"><line x1="1868" y1="505.1" x2="2227.5" y2="174.4" stroke="#3243a8" stroke-width="2.4" stroke-dasharray="8.5 6.5"/><line x1="1868" y1="540.3" x2="2227.5" y2="209.6" stroke="#3243a8" stroke-width="2.4" stroke-dasharray="8.5 6.5"/></g>
<line x1="1868" y1="522.7" x2="2227.5" y2="192" stroke="#e0352b" stroke-width="2.6"/>
<rect x="1868" y="192" width="359.5" height="330.7" fill="none" stroke="#666" stroke-width="1.8"/>
<text x="1862.0" y="529.0" font-size="18.8" font-weight="bold" text-anchor="end" fill="#222" >0</text>
<text x="1868.0" y="547.2" font-size="18.8" font-weight="bold" text-anchor="middle" fill="#222" >0</text>
<text x="1862.0" y="487.7" font-size="18.8" font-weight="bold" text-anchor="end" fill="#222" >2</text>
<text x="1912.9" y="547.2" font-size="18.8" font-weight="bold" text-anchor="middle" fill="#222" >2</text>
<text x="1862.0" y="446.3" font-size="18.8" font-weight="bold" text-anchor="end" fill="#222" >4</text>
<text x="1957.9" y="547.2" font-size="18.8" font-weight="bold" text-anchor="middle" fill="#222" >4</text>
<text x="1862.0" y="405.0" font-size="18.8" font-weight="bold" text-anchor="end" fill="#222" >6</text>
<text x="2002.8" y="547.2" font-size="18.8" font-weight="bold" text-anchor="middle" fill="#222" >6</text>
<text x="1862.0" y="363.7" font-size="18.8" font-weight="bold" text-anchor="end" fill="#222" >8</text>
<text x="2047.8" y="547.2" font-size="18.8" font-weight="bold" text-anchor="middle" fill="#222" >8</text>
<text x="1862.0" y="322.3" font-size="18.8" font-weight="bold" text-anchor="end" fill="#222" >10</text>
<text x="2092.7" y="547.2" font-size="18.8" font-weight="bold" text-anchor="middle" fill="#222" >10</text>
<text x="1862.0" y="281.0" font-size="18.8" font-weight="bold" text-anchor="end" fill="#222" >12</text>
<text x="2137.6" y="547.2" font-size="18.8" font-weight="bold" text-anchor="middle" fill="#222" >12</text>
<text x="1862.0" y="239.6" font-size="18.8" font-weight="bold" text-anchor="end" fill="#222" >14</text>
<text x="2182.6" y="547.2" font-size="18.8" font-weight="bold" text-anchor="middle" fill="#222" >14</text>
<text x="1862.0" y="198.3" font-size="18.8" font-weight="bold" text-anchor="end" fill="#222" >16</text>
<text x="2227.5" y="547.2" font-size="18.8" font-weight="bold" text-anchor="middle" fill="#222" >16</text>
<text x="2047.8" y="186.0" font-size="21.2" font-weight="bold" text-anchor="middle" fill="#222" >R-square: 0.9512</text>
<text x="2047.8" y="573.0" font-size="21.2" font-weight="bold" text-anchor="middle" fill="#222" >SDCS-LSSVM</text>
<text x="0" y="0" transform="translate(1833.0,357.4) rotate(-90)" font-size="20.8" font-weight="bold" text-anchor="middle" fill="#222" >Actual Data</text>
<circle cx="1911" cy="220" r="2.4" fill="#29abe2"/>
<line x1="1889" y1="240" x2="1931" y2="240" stroke="#e0352b" stroke-width="2.6"/>
<line x1="1889" y1="259.8" x2="1931" y2="259.8" stroke="#3a4fbf" stroke-width="2.2" stroke-dasharray="8 6"/>
<text x="1936.0" y="225.0" font-size="16.4" font-weight="bold" text-anchor="start" fill="#222" >Actual Data vs. SDCS-LSSVM</text>
<text x="1936.0" y="245.0" font-size="16.4" font-weight="bold" text-anchor="start" fill="#222" >Actual Data</text>
<text x="1936.0" y="264.8" font-size="16.4" font-weight="bold" text-anchor="start" fill="#222" >Pred bnds (95%)</text>
<rect x="1868" y="608.7" width="360.0" height="330.6" fill="#fff"/>
<path d="M1913.0,608.7V939.3M1868,898.0H2228M1958.0,608.7V939.3M1868,856.6H2228M2003.0,608.7V939.3M1868,815.3H2228M2048.0,608.7V939.3M1868,774.0H2228M2093.0,608.7V939.3M1868,732.7H2228M2138.0,608.7V939.3M1868,691.4H2228M2183.0,608.7V939.3M1868,650.0H2228" stroke="#c6c6c6" stroke-width="1.8"/>
<clipPath id="cp1"><rect x="1868" y="608.7" width="360.0" height="330.6"/></clipPath>
<path d="M2088.9,728.8h0M2102.0,733.2h0M2018.3,801.8h0M2116.9,710.0h0M2115.6,690.8h0M2128.1,700.3h0M2079.2,731.9h0M1997.4,812.6h0M1948.6,871.4h0M2040.0,772.5h0M2002.6,827.3h0M2000.2,820.0h0M2114.1,702.6h0M1998.7,815.5h0M1994.0,820.4h0M2070.2,752.4h0M2132.2,700.4h0M1975.2,834.1h0M2108.0,717.6h0M1988.2,829.8h0M2107.1,713.8h0M2118.1,717.1h0M1986.8,822.4h0M1991.0,807.8h0M2029.7,791.6h0M1992.5,805.2h0M1996.5,823.0h0M2128.4,711.3h0M2028.5,797.3h0M2107.9,722.5h0M2064.3,770.6h0M2106.6,712.4h0M2076.3,722.3h0M2050.9,761.9h0M1980.7,840.8h0M1993.0,827.2h0M1986.6,828.2h0M2115.3,711.2h0M1976.2,837.5h0M2118.6,707.2h0M2008.0,808.3h0M1988.0,820.1h0M1988.8,826.5h0M2057.4,766.4h0M2087.2,766.5h0M2034.7,788.8h0M2018.7,811.2h0M2007.0,826.7h0M1981.0,832.6h0M2131.3,701.9h0M2003.5,824.5h0M2021.9,798.5h0M1983.6,835.7h0M2135.5,692.4h0M1956.6,850.0h0M2046.5,788.7h0M2112.4,726.9h0M2064.5,742.0h0M2109.8,717.1h0M2027.3,775.7h0M2038.3,782.7h0M1984.5,814.1h0M2041.6,784.2h0M2115.8,698.7h0M2136.5,689.7h0M1979.1,834.7h0M2136.4,739.1h0M2011.3,797.8h0M2057.9,772.4h0M1956.4,854.0h0M1960.5,855.3h0M2008.7,803.7h0M2057.7,754.5h0M1992.0,831.0h0M1937.8,865.6h0M1962.4,843.3h0M2062.3,753.0h0M2097.2,719.8h0M1979.5,836.4h0M2047.6,773.1h0M2139.6,703.0h0M2016.0,799.1h0M2033.3,796.4h0M2091.3,733.8h0M2020.3,797.9h0M2002.7,828.2h0M2077.2,740.8h0M1994.0,829.1h0M2058.6,763.4h0M2056.0,778.5h0M1987.0,830.1h0M2041.2,774.1h0M2035.1,786.0h0M1981.7,833.5h0M2037.6,792.5h0M2064.2,762.0h0M2045.7,767.6h0M2046.1,773.7h0M2126.7,683.4h0M2033.6,792.0h0M2018.9,795.8h0M2027.5,796.3h0M2130.9,704.1h0M2042.1,787.8h0M1963.8,846.6h0M2001.1,815.0h0M2092.8,750.4h0M1977.2,849.1h0M2035.0,778.8h0M2034.4,786.7h0M1973.7,847.4h0M1981.8,837.4h0M2009.8,804.8h0M1960.4,849.5h0M2028.7,801.0h0M2013.6,811.2h0M2099.6,716.4h0M2021.2,805.8h0M1993.7,826.5h0M1998.1,820.0h0M2016.5,792.5h0M2020.0,823.1h0M2114.2,703.7h0M1958.2,853.1h0M1990.9,819.7h0M2065.6,756.1h0M1978.2,834.5h0M2073.1,745.6h0M2002.6,815.1h0M2045.0,788.5h0M2057.5,754.8h0M2000.6,820.9h0M2023.4,797.2h0M1978.8,842.5h0M2011.4,815.2h0M1994.4,825.5h0M1994.6,809.6h0M2019.1,799.9h0M2000.8,818.8h0M2116.7,701.1h0M1950.4,862.8h0M2027.4,793.9h0M2121.6,713.6h0M2053.2,770.7h0M2035.2,783.4h0M2074.1,762.4h0M2042.9,775.3h0M2044.2,776.6h0M2112.3,723.7h0M2114.6,714.7h0M2017.3,803.6h0M2021.8,792.2h0M2049.1,775.0h0M2101.6,711.6h0M1980.2,828.0h0M2077.3,737.0h0M2046.4,771.9h0M1989.4,823.5h0M1973.4,843.2h0M2040.1,774.0h0M2133.8,685.7h0M2020.6,808.9h0M2051.4,776.8h0M2061.0,753.9h0M2131.3,683.8h0M2129.4,700.5h0M2002.9,805.2h0M2141.9,687.6h0M2009.2,811.7h0M2094.4,735.2h0M2027.3,799.7h0M2049.5,779.4h0M2141.3,695.9h0M1978.6,832.0h0M1953.4,862.5h0M1992.8,853.4h0M1975.8,838.9h0M2021.6,791.8h0M2019.4,801.2h0M2084.0,757.4h0M1958.3,855.0h0M2106.6,719.9h0M1998.6,816.3h0M2103.4,732.2h0M2051.8,768.4h0M1997.3,809.0h0M1946.0,870.7h0M1940.1,866.2h0M2072.3,746.2h0M2048.1,770.3h0M2068.8,743.2h0M2110.5,711.0h0M1955.1,853.5h0M2144.6,696.5h0M1968.4,837.6h0M1980.8,837.3h0M2041.9,779.0h0M2069.6,743.3h0M2042.4,784.7h0M2022.1,800.0h0M2048.5,766.6h0M2013.2,812.6h0M2118.6,707.8h0M2039.8,793.6h0M2101.1,718.6h0M2017.8,791.5h0M2109.6,765.3h0M2013.5,801.7h0M2018.2,799.5h0M2006.1,820.5h0M1969.8,837.4h0M2027.7,787.5h0M2005.8,810.5h0M2007.6,811.8h0M2100.6,732.3h0M2066.2,765.2h0M2022.8,786.9h0M1969.8,855.8h0M2124.4,698.1h0M2086.0,743.1h0M2001.9,822.5h0M2044.2,773.3h0M2045.6,778.5h0M2092.8,739.8h0M1991.5,825.4h0M2056.8,771.1h0M2075.9,758.6h0M1975.0,847.3h0M2011.7,814.2h0M2049.7,766.4h0M2027.0,788.4h0M1973.8,845.6h0M2012.3,792.0h0M2009.3,805.8h0M1996.2,830.0h0M1964.4,832.2h0M2048.8,772.0h0M2062.3,766.8h0M2083.4,734.4h0M2055.4,757.7h0M2122.8,700.5h0M2031.8,781.7h0M2039.2,780.2h0M2068.3,749.0h0M2051.7,765.8h0M2015.3,812.1h0M2109.3,713.1h0M2061.2,774.5h0M2061.9,758.8h0M2107.4,715.3h0M1992.8,848.2h0M2028.2,792.7h0M1999.2,814.1h0M2045.9,772.9h0M2011.3,800.5h0M2021.6,812.7h0M2003.1,806.7h0M2007.1,799.0h0M1944.6,872.7h0M2024.8,800.4h0M2042.6,779.4h0M2055.5,760.3h0M1975.0,835.4h0M2003.9,818.3h0M2114.0,721.7h0M2061.8,749.8h0M2011.6,817.7h0M2006.5,801.4h0M2000.3,817.7h0M1944.6,862.5h0M2104.3,730.5h0M2001.7,824.6h0M2059.4,765.9h0M2076.2,743.3h0M2072.9,749.5h0M1997.9,828.9h0M2032.5,792.4h0M2023.8,795.6h0M2073.5,744.4h0M1980.2,833.8h0M2138.1,710.8h0M1952.1,855.2h0M2009.0,809.8h0M2086.6,741.3h0M2042.1,772.6h0M2033.3,802.2h0M1969.7,820.8h0M2030.8,800.2h0M2007.4,817.4h0M2080.6,747.8h0M2105.6,727.7h0M2023.7,789.7h0M2071.5,731.7h0M2031.4,785.4h0M2045.6,780.7h0M2029.7,788.5h0M1979.7,836.2h0M2064.4,747.2h0M2013.0,805.8h0M2064.9,772.8h0M1990.0,817.1h0M2034.0,798.4h0M2000.0,809.3h0M2013.7,814.2h0M2054.1,752.6h0M1980.4,835.8h0M2053.9,768.9h0M2058.2,764.9h0M2093.7,733.4h0M2012.4,797.2h0M2094.5,727.5h0M2057.1,766.6h0M2042.1,763.6h0M2044.3,776.3h0M1967.7,848.3h0M1966.4,854.4h0M2112.9,711.4h0M2025.0,798.3h0M2075.6,732.8h0M2042.4,774.1h0M2008.2,806.8h0M2128.2,695.8h0M2006.4,817.7h0M2102.2,728.2h0M2066.9,748.4h0M2039.4,778.4h0M2076.8,751.6h0M1960.9,854.9h0M2078.8,738.8h0M1997.0,821.3h0M1977.8,841.0h0M2025.1,795.4h0M2121.2,711.0h0M1980.2,835.2h0M2071.1,761.3h0M1951.9,864.8h0M1974.5,821.0h0M1998.3,816.9h0M2049.8,769.0h0M2079.2,754.9h0M2096.5,729.7h0M2141.0,683.3h0M1995.3,819.4h0M2052.8,783.9h0M2023.6,788.3h0M2041.9,780.1h0M2044.3,765.9h0M2036.3,789.1h0M2100.6,733.3h0M2116.8,719.4h0M2011.2,808.0h0M2076.3,753.9h0M1977.5,839.4h0M2122.0,723.1h0M2102.6,728.6h0M1996.3,817.6h0M2029.8,788.3h0M2116.1,716.8h0M1994.0,820.5h0M1962.2,848.3h0M2051.1,773.4h0M2068.6,759.7h0M2015.0,798.1h0M2081.1,753.4h0M2132.3,703.3h0M2114.6,710.7h0M2138.9,679.0h0M2095.7,722.2h0M2022.5,801.2h0M2045.6,770.6h0M2001.1,824.8h0M2096.5,737.3h0M1997.6,824.5h0M1968.6,848.8h0M2027.3,791.1h0M2086.8,739.5h0M2063.8,755.3h0M2002.7,811.1h0M2064.2,765.9h0M2089.1,728.3h0M2057.9,766.1h0M2039.0,781.9h0M2013.4,812.5h0M2084.8,735.2h0M2134.7,687.2h0M2052.1,765.6h0M1966.3,846.3h0M2026.1,796.9h0M2019.5,783.8h0M2043.2,771.0h0M2085.2,732.5h0M2007.9,815.4h0M2018.6,798.0h0M2056.1,761.0h0M2046.1,782.3h0M2031.0,786.1h0M2024.7,799.2h0M2118.4,689.5h0M2087.5,744.4h0M2006.3,817.6h0M2069.4,759.2h0M2079.2,742.9h0M2013.2,804.2h0M2003.7,820.1h0M2007.4,810.4h0M1961.1,849.2h0M2105.9,710.4h0M1982.9,829.3h0M2094.6,709.2h0M2068.1,753.9h0M2022.1,792.9h0M2021.1,806.7h0M2093.6,732.1h0M2011.5,799.8h0M2100.6,748.6h0M2124.2,697.8h0M2015.4,804.5h0M1976.9,836.5h0M1958.5,855.1h0M2011.2,807.0h0M1994.7,821.5h0M2122.5,705.4h0M2072.3,748.7h0M2007.8,816.3h0M2075.9,749.0h0M2076.1,745.6h0M2097.6,724.4h0M2119.3,716.2h0M1993.0,814.8h0M2153.8,685.4h0M2038.1,768.4h0M2091.5,726.3h0M2042.7,780.0h0M2130.6,702.4h0M2028.0,784.4h0M2018.3,797.7h0M2091.3,735.5h0M2130.5,699.2h0M1989.4,829.4h0M1990.3,831.7h0M2062.6,751.3h0M2025.2,804.7h0M2093.4,734.1h0M2008.4,812.2h0M2122.7,707.7h0M1964.9,858.5h0M2031.7,787.1h0M2122.6,705.2h0M2046.4,776.5h0M2097.9,717.6h0M2072.9,746.4h0M2116.8,706.9h0M1970.8,836.1h0M2005.0,813.1h0M2074.3,747.8h0M2012.4,804.8h0M2114.4,707.9h0M2057.2,774.2h0M1997.9,815.7h0M2048.8,778.9h0M2064.8,760.4h0M2036.5,778.7h0M1992.0,827.8h0M2047.6,768.3h0M2121.8,687.5h0M2111.5,710.9h0M2018.9,798.7h0M1994.2,818.6h0M2045.5,770.4h0M2018.8,791.8h0M1973.5,847.4h0M1991.6,822.9h0M2087.3,728.5h0M2021.4,797.3h0M2020.1,791.6h0M2062.8,765.5h0M2004.0,812.2h0M1980.7,836.3h0M2117.1,702.0h0M1984.1,813.2h0M2113.9,713.2h0M2080.1,742.6h0M2065.6,790.3h0M2045.0,789.1h0M1995.6,816.6h0M2028.0,790.5h0M2026.0,787.7h0M2099.8,737.3h0M2145.7,676.3h0M2105.0,697.6h0M2040.9,784.0h0M2097.7,728.9h0M2053.3,748.0h0M2008.2,811.7h0M1986.6,829.2h0M2006.0,811.7h0M2032.7,790.6h0M2046.0,792.2h0M2086.0,753.7h0M2026.2,800.3h0M2011.9,804.1h0M1986.1,828.2h0M2065.1,770.0h0M2053.0,764.0h0M2080.7,755.5h0M1995.5,826.5h0M2146.0,689.0h0M2067.5,767.9h0M2004.9,813.7h0M2136.4,697.1h0M2024.5,793.6h0M1967.3,836.9h0M2000.9,805.5h0M2091.6,739.8h0M2007.2,808.4h0M2053.4,784.3h0M2031.1,783.9h0M1994.4,826.4h0M2024.9,792.8h0M2114.9,703.9h0M2101.6,735.1h0M2133.0,704.3h0M2049.6,785.9h0M2015.0,795.8h0M2052.1,772.3h0M2071.6,760.3h0M2010.2,816.8h0M2011.3,815.4h0M2141.9,688.4h0M2033.5,793.5h0M2109.8,730.0h0M2024.7,792.1h0M2033.1,782.6h0M1958.7,856.8h0M2091.7,730.2h0M2008.7,801.9h0M2013.5,800.8h0M2034.7,768.7h0M2047.5,777.2h0M2029.9,779.9h0M2087.3,744.9h0M2000.1,821.1h0M1998.6,817.7h0M2015.3,806.8h0M1993.5,824.0h0M2039.6,786.0h0M2108.2,740.0h0M2043.7,778.5h0M2058.5,775.1h0M2073.6,742.6h0M2012.5,781.6h0M2092.7,740.0h0M1976.2,831.5h0M1947.9,869.8h0M2064.5,748.0h0M2112.3,699.9h0M1993.6,815.6h0M2058.7,768.1h0M1984.1,832.8h0M2026.4,774.7h0M2038.5,767.5h0M2101.1,716.5h0M2054.4,769.9h0M2019.1,807.6h0M2082.5,746.1h0M2074.2,765.7h0M1994.6,824.8h0M1987.1,837.9h0M2064.7,757.6h0M2113.3,705.1h0M2015.7,802.9h0M2143.5,702.8h0M2018.9,796.1h0M2088.5,735.7h0M2087.6,734.5h0M2097.9,719.9h0M2045.7,774.6h0M2125.5,702.0h0M2015.7,800.1h0M1973.0,856.6h0M2075.2,781.0h0M2072.5,770.3h0M2141.4,691.9h0M2120.5,704.5h0M2033.8,800.9h0M2052.1,782.2h0M2025.4,796.1h0M2030.8,789.3h0M2035.2,778.1h0M2097.8,723.7h0M2014.2,822.7h0M1999.7,818.1h0M2064.2,760.8h0M2065.1,753.1h0M2155.9,679.9h0M2034.6,780.2h0M2036.0,815.7h0M2044.7,781.0h0M2015.4,807.4h0M2130.9,705.3h0M2030.7,787.5h0M2000.6,812.2h0M2072.1,748.1h0M2006.8,801.8h0M2082.3,765.5h0M1987.6,826.5h0M1967.8,850.9h0M2058.7,765.5h0M2081.1,732.9h0M2068.9,740.4h0M2024.9,806.3h0M1990.4,830.2h0M2066.6,772.5h0M1987.9,823.3h0M2009.6,811.3h0M2090.4,703.4h0M2022.4,792.3h0M2037.7,782.2h0M1973.2,807.2h0M1984.3,831.7h0M2008.0,814.0h0M2095.4,738.0h0M2031.8,802.0h0M2122.4,714.7h0M2033.6,781.1h0M2057.6,768.3h0M2080.0,756.4h0M2030.6,792.3h0M2039.7,785.1h0M2102.0,724.3h0M2048.3,775.9h0M2011.3,819.1h0M2062.8,763.9h0M2048.6,763.7h0M2027.2,782.4h0M2072.3,753.9h0M2010.5,815.2h0M2106.9,705.8h0M2028.7,796.1h0M2102.2,713.1h0M2130.8,712.3h0M2034.7,792.8h0M2058.3,759.4h0M1984.0,836.8h0M2045.7,784.2h0M2038.1,776.5h0M2106.6,718.3h0M2036.7,783.5h0M1987.0,827.1h0M1977.0,844.6h0M2107.9,732.0h0M2048.7,776.8h0M2054.5,759.1h0M2108.2,696.8h0M2043.7,768.8h0M1950.7,870.6h0M2022.0,803.0h0M2000.1,818.4h0M2040.6,783.5h0M2121.9,700.6h0M2045.1,780.2h0M2045.8,785.0h0M2036.8,790.7h0M2075.3,747.2h0M1985.9,833.9h0M2039.3,785.5h0M2035.9,787.3h0M2055.1,779.4h0M2087.1,732.9h0M2023.9,797.4h0M2062.8,764.7h0M2138.2,719.6h0M2032.0,798.7h0M2010.7,811.9h0M1990.1,829.6h0M2008.1,817.5h0M2010.1,809.1h0M1947.5,867.8h0M1984.4,836.3h0M2018.2,804.5h0M2043.1,784.5h0M1991.6,818.6h0M2047.7,778.5h0M2054.7,779.4h0M2030.5,785.1h0M2069.2,759.9h0M1947.2,858.6h0M2061.6,757.6h0M2070.9,759.0h0M2092.9,728.4h0M2029.9,789.6h0M2076.5,747.3h0M2024.9,783.9h0M2015.8,811.6h0M2078.4,742.4h0M2097.2,722.6h0M1985.8,821.9h0M2022.4,784.0h0M1987.0,822.8h0M1986.0,831.9h0M2081.2,743.7h0M2060.8,744.3h0M2038.1,778.1h0M2020.1,811.9h0M2043.5,776.6h0M2104.3,708.4h0M2024.3,798.4h0M2099.4,721.3h0M2024.6,799.9h0M2021.2,803.5h0M2041.6,776.1h0M2112.3,716.1h0M2074.2,750.5h0M1972.3,847.7h0M1973.9,829.4h0M1977.6,826.8h0M2117.6,689.3h0M2072.0,755.7h0M2122.8,712.2h0M2118.6,701.4h0M2018.1,801.6h0M2024.5,789.7h0M1994.9,833.6h0M2078.5,739.7h0M1957.9,860.8h0M2012.3,809.5h0M2076.0,748.1h0M2073.1,753.8h0M2085.5,741.6h0M1992.9,826.0h0M1948.6,857.5h0M2043.0,782.5h0M2048.0,772.0h0M2086.4,749.9h0M2018.8,795.4h0M2075.2,745.2h0M2021.5,806.1h0M1990.9,828.4h0M2098.0,725.2h0M2108.9,701.3h0M2039.4,777.0h0M2009.3,806.3h0M1990.6,831.7h0M2108.7,722.8h0M2007.6,811.8h0M2074.4,738.5h0M2018.2,806.1h0M2036.6,789.4h0M1982.3,837.6h0M2062.1,769.0h0M2142.8,706.1h0M2002.8,815.7h0M1984.2,834.9h0M2001.0,819.7h0M1959.7,850.2h0M1961.8,843.4h0M2051.8,766.0h0M1996.2,824.7h0M2116.1,719.5h0M2002.4,815.9h0M2129.7,707.7h0M2095.4,729.8h0M2013.1,815.0h0M2040.9,777.4h0M2034.1,795.7h0M2077.6,764.9h0M2035.4,777.6h0M2046.8,788.9h0M2095.7,739.6h0M2111.6,708.5h0M1993.0,799.4h0M2110.1,739.2h0M2049.8,771.4h0M2045.8,772.2h0M2027.2,794.1h0M2006.5,808.4h0M1994.9,817.6h0M1991.4,830.7h0M1986.2,839.5h0M2069.8,751.1h0M1988.6,829.6h0M2054.5,760.7h0M2136.6,704.1h0M2121.7,698.1h0M2044.6,785.8h0M2026.6,786.3h0M1973.5,839.8h0M1977.1,840.5h0M1983.2,838.8h0M2000.0,825.7h0M2010.0,799.6h0M2013.2,804.4h0M1996.1,815.0h0M1983.9,831.6h0M1976.0,835.2h0M1986.6,836.5h0M2081.4,737.3h0M2070.2,751.9h0M2080.4,744.8h0M1995.8,831.1h0M2142.3,686.6h0M2102.8,717.1h0M2104.8,716.9h0M2030.2,788.1h0M1985.7,834.1h0M2082.3,740.0h0M2089.7,746.5h0M2009.1,815.6h0M2027.6,789.2h0M2035.4,784.9h0M2072.3,769.8h0M2021.9,801.0h0M2115.5,700.3h0M1958.4,857.0h0M1977.1,846.0h0M2022.8,794.4h0M2007.8,815.6h0M2038.6,786.6h0M2151.1,676.6h0M2050.5,771.0h0M1995.1,813.6h0M2126.8,702.1h0M2010.7,821.4h0M2094.4,724.2h0M1979.6,843.2h0M2041.3,779.5h0M2012.0,808.9h0M2069.2,749.9h0M1950.7,854.9h0M2043.9,772.7h0M2006.5,816.7h0M1974.3,833.5h0M2064.4,741.1h0M1979.9,842.0h0M2007.8,802.9h0M2014.4,807.7h0M2061.3,767.6h0M2014.4,802.6h0M2063.0,763.8h0M2134.3,687.0h0M2039.4,780.0h0M2032.2,780.2h0M1985.1,827.9h0M1980.0,834.2h0M2105.5,715.3h0M2034.2,785.8h0M2004.3,803.6h0M2009.8,802.0h0M2045.1,768.6h0M2070.3,757.3h0M2007.5,811.9h0M2130.7,695.9h0M2041.3,792.9h0M2140.4,707.1h0M2124.1,711.3h0M2109.2,716.8h0M2069.8,758.0h0M2053.0,773.5h0M2100.0,722.2h0M2024.1,794.1h0M2078.9,721.1h0M2008.6,813.1h0M2053.3,767.9h0M2021.7,802.1h0M2124.8,692.3h0M2043.9,789.0h0M1988.1,828.3h0M2046.0,777.0h0M2013.8,817.2h0M2005.8,811.0h0M2052.0,766.4h0M2071.3,752.4h0M2044.8,781.4h0M2077.5,741.6h0M2006.5,810.3h0M1998.7,826.3h0M1995.1,835.9h0M2020.3,798.7h0M1977.2,837.1h0M2116.8,709.9h0M2027.2,795.3h0M2050.0,755.7h0M2040.6,783.6h0M2095.4,724.9h0M2031.7,788.0h0M1978.0,830.2h0M2038.6,780.7h0M2077.4,743.5h0M2133.6,705.4h0M2026.4,797.6h0M2099.7,723.6h0M1974.9,844.8h0M2001.6,814.9h0M1988.5,820.0h0M1992.3,827.1h0M1978.1,821.8h0M1991.1,826.0h0M2092.9,737.4h0M2131.7,701.3h0M2084.6,749.2h0M2125.9,699.1h0M2027.3,799.7h0M1991.8,817.9h0M2014.9,817.4h0M2064.5,761.3h0M2113.1,729.3h0M2143.2,690.7h0M2084.8,737.7h0M2071.7,746.8h0M2044.8,777.8h0M2130.6,697.0h0M2102.4,737.1h0M2020.5,800.6h0M2065.0,746.8h0M2130.6,703.1h0M1995.8,809.4h0M1983.8,830.3h0M2046.1,787.1h0M2087.0,741.3h0M2006.1,801.9h0M1983.5,834.1h0M2049.4,782.9h0M1948.4,864.7h0M1977.4,796.4h0M2029.4,802.1h0M2062.1,759.9h0M2012.0,816.7h0M2001.1,810.5h0M2129.8,689.9h0M2028.9,787.9h0M2135.3,691.9h0M1963.1,857.0h0M2102.6,728.8h0M2020.7,789.7h0M2057.8,758.6h0M1991.1,820.4h0M2007.0,815.3h0M1965.6,853.9h0M2007.9,819.3h0M2061.4,754.6h0M2067.7,759.8h0M2118.7,704.4h0M2070.2,759.9h0M1971.9,845.9h0M2030.0,802.2h0M2062.4,779.1h0M2007.5,804.2h0M1998.1,792.2h0M2123.2,713.9h0M2054.9,766.5h0M2038.3,787.8h0M1992.2,814.5h0M2046.8,773.1h0M2067.8,758.8h0M2040.0,789.6h0M2002.2,806.5h0M2055.3,768.8h0M2013.8,807.1h0M2033.2,799.6h0M2099.4,735.9h0M2030.3,789.9h0M2105.7,720.9h0M2044.3,768.6h0M2104.7,725.9h0M2120.8,701.1h0M2058.7,766.0h0M2022.5,805.3h0M2137.9,699.9h0M2042.6,775.8h0M2075.0,754.5h0M2094.7,724.3h0M2079.0,753.2h0M2032.9,784.1h0M2021.8,806.8h0M2033.5,783.2h0M1997.9,820.2h0M1996.0,824.3h0M2005.0,815.8h0M1999.9,814.2h0M2015.4,809.6h0M2032.9,819.1h0M1972.9,836.2h0M2035.5,797.2h0M2044.4,775.7h0M2100.1,724.8h0M2076.9,743.0h0M1980.4,844.9h0M2096.0,731.3h0M2065.7,760.9h0M2030.0,800.6h0M2118.6,707.1h0M2002.2,808.0h0M1958.6,853.7h0M1994.2,826.5h0M2067.7,760.2h0M2013.9,809.7h0M2096.7,744.3h0M2002.4,809.2h0M2041.7,780.5h0M2106.4,709.0h0M1948.0,869.7h0M1970.8,846.6h0M1985.3,823.8h0M2068.6,739.3h0M2081.8,738.0h0M1994.0,828.8h0M2074.3,751.3h0M2028.5,799.8h0M2047.9,772.6h0M2049.7,773.2h0M2010.3,821.8h0M1971.9,847.2h0M2099.5,729.0h0M2013.6,810.1h0M1995.2,826.8h0M2150.6,682.3h0M2012.0,806.9h0M2068.1,768.5h0M1998.2,811.9h0M1986.6,830.0h0M2143.6,686.8h0M1961.1,844.9h0M1982.0,831.9h0M2027.8,789.5h0M2117.8,707.5h0M2116.6,723.4h0M2012.7,802.8h0M2035.4,783.4h0M2086.7,742.9h0M2003.1,797.8h0M2002.9,815.2h0M2045.2,759.8h0M1953.9,858.4h0M2019.5,787.5h0M2067.2,759.3h0M1969.0,852.0h0M1997.8,824.6h0M2093.8,737.0h0M1981.3,837.3h0M2021.7,803.6h0M2066.1,742.5h0M2003.5,813.3h0M2072.3,767.1h0M2114.1,713.8h0M2074.1,750.9h0M2068.8,746.2h0M2116.2,707.1h0M2012.9,796.4h0M2012.7,804.2h0M2036.5,783.7h0M2001.5,822.5h0M2068.5,751.9h0M2083.2,748.7h0M2024.4,799.4h0M2128.5,712.1h0M2050.1,771.0h0M2094.5,728.3h0M2065.8,750.6h0M1963.5,842.6h0M2014.7,807.5h0M2034.0,789.4h0M2084.2,741.9h0M2003.7,814.9h0M1981.6,837.5h0M2008.9,811.8h0M2087.9,733.3h0M1989.7,832.0h0M1978.2,834.5h0M2009.8,812.1h0M2041.8,781.5h0M2002.9,820.5h0M2016.0,803.0h0M2132.4,690.9h0M2073.8,751.2h0M2067.4,761.7h0M2015.1,811.8h0M1942.4,868.6h0M2038.9,772.8h0M2055.5,755.3h0M2009.8,807.9h0M2022.9,795.9h0M1993.6,804.0h0M2131.0,719.1h0M1978.0,831.8h0M2094.5,728.2h0M1947.8,853.7h0M1968.4,853.6h0M2027.0,796.7h0M2085.8,733.7h0M1989.7,817.7h0M2123.4,718.7h0M2097.4,727.8h0M1989.7,822.5h0M2080.3,756.0h0M2182.0,666.4h0M2007.6,803.2h0M1972.9,846.0h0M2074.4,747.3h0M2039.0,791.2h0M2025.7,786.5h0M2070.3,745.9h0M2077.7,743.6h0M2142.9,692.5h0M2145.0,683.4h0M2075.1,754.7h0M2021.6,798.3h0M2056.0,732.6h0M1999.5,814.9h0M2004.2,816.0h0M2023.9,798.8h0M2059.8,768.7h0M2079.1,761.1h0M2002.5,818.0h0M2017.3,798.4h0M2142.8,694.9h0M2077.2,752.6h0M2013.5,801.5h0M2121.8,730.3h0M2115.4,717.7h0M2049.2,775.4h0M2123.6,701.5h0M1988.7,824.0h0M2044.7,774.1h0M2008.5,806.2h0M2121.2,697.3h0M1999.6,819.2h0M1952.2,873.6h0M1971.4,846.7h0M2063.0,742.1h0M2067.5,746.9h0M2003.0,809.7h0M2129.9,708.1h0M2005.8,823.7h0M2123.5,689.9h0M2090.7,739.6h0M2134.3,703.5h0M2043.9,774.6h0M2009.2,798.9h0M1961.8,847.6h0M2019.5,790.3h0M2094.1,747.0h0M2089.1,721.9h0M1964.9,847.4h0M2015.1,802.5h0M1992.2,816.8h0M2014.0,813.5h0M2006.4,815.5h0M2034.5,784.1h0M2088.3,732.6h0M2031.9,788.2h0M1966.8,846.3h0M1985.9,834.3h0M2003.3,813.7h0M1987.6,830.1h0M1979.7,833.6h0M2037.6,782.7h0M2057.4,777.8h0M1985.1,829.5h0M2134.3,691.0h0M2062.6,764.3h0M2003.8,805.6h0M2100.3,724.1h0M2040.4,781.9h0M2086.7,735.6h0M2017.1,802.6h0M2016.8,809.8h0M2053.1,769.6h0M2056.6,759.6h0M2017.5,799.0h0M2051.4,776.1h0M2010.4,780.0h0M2044.5,778.5h0M2120.3,716.7h0M2133.9,695.5h0M2028.0,802.3h0M1996.0,822.5h0M1988.3,826.8h0M1977.2,841.4h0M2018.3,801.5h0M2085.2,745.6h0M2113.5,731.3h0M2019.3,810.0h0M2080.8,733.5h0M2125.2,700.6h0M1978.4,833.1h0M1968.5,848.8h0M1973.5,835.2h0M2053.2,802.0h0M2026.5,802.3h0M1969.0,845.8h0M2001.3,811.6h0M2025.3,786.7h0M2036.7,796.2h0M2007.5,811.1h0M1986.2,776.9h0M2029.0,790.6h0M2131.8,693.0h0M2064.9,758.9h0M2098.1,726.1h0M2002.2,815.2h0M2123.8,704.6h0M2007.3,797.8h0M2126.5,707.4h0M2036.8,799.2h0M2014.0,810.7h0M2052.2,721.7h0M1960.4,864.4h0M2078.6,738.3h0M1994.2,807.4h0M2095.9,731.4h0M2072.6,748.9h0M2013.3,801.9h0M1991.4,831.7h0M2029.0,782.7h0M1966.2,856.9h0M2011.0,813.0h0M2071.3,760.5h0M2156.0,726.7h0M2133.7,742.8h0M2114.1,706.3h0M2022.0,814.0h0M1989.0,835.4h0M2015.8,801.1h0M1950.5,865.8h0M2124.0,705.8h0M2020.6,810.0h0M2016.1,801.4h0M2069.2,749.3h0M2001.8,809.8h0M2052.4,763.3h0M1988.6,828.5h0M2030.7,793.1h0M1944.6,868.5h0M2017.0,804.6h0M2052.3,753.8h0M2034.4,790.3h0M1996.9,821.9h0M2014.5,791.4h0M2027.4,797.3h0M2037.8,789.1h0M2116.7,711.2h0M2117.1,708.9h0M1980.1,838.9h0M2068.3,757.9h0M2111.9,723.8h0M2033.9,787.1h0M2015.1,811.9h0M1946.1,871.8h0M2118.7,704.8h0M2047.8,775.8h0M1991.7,826.6h0M2106.0,715.1h0M2043.4,774.7h0M2119.7,700.9h0M1999.2,817.7h0M2079.1,744.8h0M1943.9,860.1h0M1957.2,860.0h0M1996.4,814.7h0M2005.5,805.0h0M2064.4,751.3h0M2146.8,690.2h0M2015.9,819.4h0M2068.0,761.4h0M2028.4,803.9h0M2029.5,781.8h0M2122.0,712.9h0M2050.5,772.5h0M2131.2,689.2h0M1962.5,852.7h0M2039.5,781.8h0M1997.1,818.2h0M1994.3,822.6h0M2013.2,800.6h0M2038.8,790.8h0M2041.8,780.5h0M2007.9,813.6h0M2027.2,799.1h0M2018.9,797.4h0M2015.7,800.6h0M2053.9,760.4h0M1995.5,816.5h0M2005.7,819.6h0M2003.9,815.6h0M2105.1,728.6h0M2115.3,702.5h0M2111.2,681.8h0M2057.7,761.3h0M2008.9,813.1h0M2059.8,764.2h0M2010.5,814.3h0M2023.3,801.3h0M2041.1,747.7h0M2053.6,777.9h0M2120.1,711.7h0M1989.7,832.7h0M1975.5,831.0h0M2035.0,789.6h0M2017.8,798.7h0M2089.1,730.5h0M2008.3,811.4h0M2025.9,787.2h0M2067.3,760.1h0M2029.7,798.2h0M2120.8,711.4h0M2035.6,781.5h0M1995.7,832.1h0M2062.5,759.0h0M2011.8,812.9h0M1993.9,825.2h0M2059.5,785.7h0M2028.4,787.5h0M1971.5,843.4h0M2107.1,728.1h0M2026.0,759.1h0M2062.1,752.1h0M2089.8,743.0h0M2069.0,747.3h0M1993.1,820.4h0M2090.5,734.8h0M2070.0,766.5h0M2001.2,811.5h0M2009.8,799.5h0M2071.3,747.9h0M1964.3,841.7h0M2005.5,811.8h0M1975.8,842.6h0M1995.5,808.4h0M2032.9,793.5h0M2081.6,762.4h0M1969.7,840.3h0M2058.1,766.9h0M2038.1,791.8h0M2110.0,700.7h0M1978.7,836.4h0M2081.7,746.2h0M2103.7,736.7h0M2098.7,721.9h0M2005.2,778.1h0M2144.7,691.7h0M2051.3,772.6h0M2028.7,787.7h0M2006.1,806.2h0M2001.6,819.3h0M1999.6,815.1h0M2117.2,707.7h0M1997.9,809.2h0M2020.3,799.6h0M2068.5,748.6h0M1968.4,857.7h0M1990.8,824.4h0M2011.1,813.5h0M1973.5,838.1h0M2045.9,777.5h0M1952.1,869.6h0M2105.5,724.0h0M2065.4,755.6h0M2007.5,803.6h0M2120.3,704.2h0M1994.6,824.6h0M1994.7,822.3h0M2060.0,772.3h0M2087.5,720.9h0M2072.5,750.9h0M2132.3,699.8h0M2018.9,797.0h0M1969.2,846.3h0M2115.8,714.6h0M2018.7,812.9h0M2008.5,798.9h0M2013.9,805.4h0M1994.9,820.4h0M1997.5,816.0h0M1950.3,862.6h0M2122.4,707.9h0M1997.8,818.7h0M2031.8,730.7h0M2076.1,744.4h0M2035.0,782.3h0M1965.3,843.9h0M2045.8,781.2h0M1999.3,823.9h0M2080.8,748.3h0M2116.9,705.2h0M2117.6,722.9h0M2101.1,718.5h0M2117.7,712.8h0M2004.1,816.8h0M2031.5,811.3h0M2030.9,792.3h0M1983.2,823.5h0M2002.4,803.9h0M1956.1,853.3h0M2047.4,775.2h0M2014.7,807.6h0M2052.0,767.2h0M1970.9,835.6h0M2007.5,815.4h0M2094.8,727.6h0M2000.9,823.2h0M1966.8,849.1h0M1998.0,820.8h0M2041.4,771.2h0M2067.9,756.3h0M2090.0,732.8h0M2059.5,762.0h0M1973.9,845.1h0M2037.4,784.7h0M2064.3,760.7h0M1999.5,817.6h0M2075.0,759.9h0M2046.1,782.5h0M1997.4,809.5h0M2020.3,802.8h0M2092.7,735.5h0M2041.4,812.0h0M1999.6,805.8h0M2130.7,690.5h0M2002.5,813.6h0M2027.9,801.3h0M2043.8,788.0h0M2064.0,758.9h0M2068.8,758.9h0M1987.2,824.0h0M2050.2,774.1h0M2082.8,745.2h0M2022.5,804.6h0M2012.8,807.5h0M2045.5,771.0h0M1957.8,874.2h0M1981.6,836.9h0M2071.2,742.8h0M2025.1,795.0h0M2042.7,778.2h0M2038.1,783.1h0M2101.2,740.2h0M1957.8,855.6h0M2002.3,816.0h0M2019.7,806.2h0M2063.2,770.4h0M1967.1,851.8h0M2139.0,691.6h0M2017.1,795.7h0M2090.2,727.6h0M1995.6,825.1h0M2097.5,736.4h0M2047.2,779.6h0M2062.6,758.2h0M2155.1,688.7h0M1981.7,831.1h0M2126.3,705.3h0M2073.4,742.7h0M2016.0,792.3h0M2086.7,733.8h0M2036.3,771.7h0M2000.0,814.0h0M2058.3,767.7h0M2007.6,801.9h0M1954.4,863.4h0M1975.2,849.3h0M2032.3,769.0h0M2045.6,766.7h0M2022.8,792.6h0M2092.3,723.1h0M2128.4,693.4h0M2018.0,800.1h0M1988.7,823.8h0M2049.8,784.5h0M2002.2,814.6h0M2022.2,805.2h0M2001.6,812.5h0M1961.3,861.1h0M2070.7,745.4h0M2016.1,799.9h0M2048.6,769.5h0M1986.6,831.5h0M2021.9,807.3h0M2055.5,747.1h0M2029.9,789.1h0M1993.9,830.3h0M1956.9,842.1h0M2120.4,717.9h0M1987.4,830.9h0M2015.1,796.9h0M2031.3,787.2h0M1984.1,825.8h0M2051.8,775.1h0M2004.5,824.6h0M2024.5,800.7h0M2095.2,713.0h0M1990.8,821.3h0M1991.6,828.7h0M2115.4,719.3h0M2052.8,774.1h0M1966.4,849.1h0M2119.4,713.2h0M2071.7,750.1h0M2010.2,798.4h0M2098.2,716.7h0M2070.6,770.5h0M1995.4,833.5h0M1983.2,832.3h0M1986.2,814.8h0M1981.2,832.2h0M1963.2,852.6h0M2043.9,785.4h0M2131.6,699.3h0M2042.4,771.2h0M2020.8,800.8h0M2034.2,770.1h0M2035.4,775.8h0M2035.4,783.5h0M1958.9,853.3h0M2139.3,715.8h0M2023.6,792.5h0M2064.4,753.3h0M2019.0,796.8h0M2023.8,797.1h0M1993.9,824.0h0M2040.6,780.1h0M2110.5,721.0h0M2013.0,804.1h0M2007.2,814.2h0M2071.2,744.0h0M2035.4,767.7h0M2134.1,685.4h0M2063.7,759.1h0M2050.6,775.8h0M2023.0,801.6h0M2078.7,787.7h0M1978.0,825.6h0M2003.7,826.2h0M2041.5,762.3h0M2026.1,797.3h0M2022.6,794.5h0M2033.5,774.4h0M1989.2,835.6h0M1991.7,821.5h0M2064.1,758.7h0M2023.5,790.7h0M1995.6,824.3h0M2093.8,723.6h0M2065.9,766.3h0M2074.4,762.4h0M2100.8,731.0h0M2070.2,746.4h0M1980.6,829.5h0M2060.9,764.2h0M1990.5,817.7h0M1981.3,835.9h0M2019.9,793.2h0M1967.0,845.4h0M2015.5,825.6h0M2115.3,742.8h0M2090.6,729.8h0M2060.7,767.5h0M2031.1,789.6h0M2064.1,765.5h0M1995.7,823.6h0M2000.3,821.9h0M2029.0,786.3h0M2043.8,775.0h0M2168.9,663.2h0M1952.6,867.1h0M2046.5,773.1h0M2073.4,752.8h0M2118.8,719.3h0M2083.9,736.7h0M2015.1,819.1h0M2053.1,778.4h0M1985.1,825.3h0M1971.5,841.1h0M2033.5,795.7h0M1981.0,832.2h0M2056.0,769.5h0M1988.0,828.8h0M2020.3,809.5h0M2116.9,722.9h0M2093.2,734.1h0M2056.1,774.5h0M2073.8,759.5h0M1985.5,832.8h0M2045.7,784.5h0M2067.8,738.6h0M2073.4,736.9h0M2061.0,754.7h0M2091.6,730.5h0M2053.0,763.1h0M1991.1,819.6h0M2012.2,802.7h0M2036.9,786.6h0M2029.9,787.9h0M2026.0,756.4h0M2071.9,737.5h0M2126.3,699.0h0M2098.0,715.0h0M2035.8,790.2h0M2040.3,782.6h0M2003.4,822.3h0M1980.4,832.5h0M2034.8,773.4h0M2062.3,765.1h0M2005.7,797.9h0M2046.6,784.3h0M2056.1,766.0h0M2118.5,690.3h0M1990.3,833.5h0M2006.8,823.1h0M2058.5,758.1h0M1978.5,843.9h0M2112.2,736.6h0M2042.1,782.1h0M2021.6,805.0h0M2127.6,703.2h0M2010.6,807.0h0M1960.3,859.0h0M1973.2,849.5h0M2004.0,815.6h0M2002.2,821.8h0M2021.7,800.1h0M2047.5,769.5h0M1952.9,858.0h0M2021.0,811.6h0M2016.2,794.5h0M2032.8,783.4h0M2057.3,767.4h0M2107.0,720.3h0M2024.7,787.2h0M2131.7,701.2h0M2116.8,714.2h0M2057.7,771.4h0M2091.0,738.8h0M2029.8,798.8h0M1976.1,846.3h0M2119.3,717.3h0M2015.6,804.4h0M2115.2,709.4h0M2034.4,787.9h0M2023.0,789.4h0M2055.2,772.6h0M2030.9,798.9h0M2046.8,766.2h0M1979.1,840.3h0M2049.6,780.4h0M2006.2,811.7h0M2036.6,794.6h0M2074.3,755.2h0M2002.6,819.5h0M1958.8,857.1h0M2138.1,701.4h0M2045.2,763.1h0M2112.1,720.0h0M2137.7,699.1h0M1955.0,864.5h0M2028.8,794.1h0M2103.8,736.4h0M1959.3,851.4h0M2074.6,743.8h0M1971.4,844.5h0M2118.3,713.1h0M2149.5,690.4h0M1995.1,823.7h0M2119.0,723.1h0M2040.8,789.8h0M1968.7,850.8h0M1999.2,812.1h0M1994.7,815.3h0M2089.3,740.4h0M2018.6,799.2h0M2056.3,769.2h0M2053.6,777.0h0M2009.8,803.6h0M2025.5,783.3h0M2051.1,776.5h0M2107.4,732.0h0M2020.5,794.7h0M2058.7,759.0h0M2119.2,707.2h0M1980.2,842.2h0M2016.2,788.7h0M2012.9,805.8h0M2003.6,810.0h0M2011.1,793.7h0M2006.9,804.4h0M2010.6,812.1h0M2057.1,768.6h0M2094.5,743.4h0M2103.3,723.7h0M2012.5,811.7h0M2033.5,777.5h0M1982.6,834.7h0M1994.4,824.3h0M2107.9,716.6h0M2003.8,809.0h0M2079.9,749.5h0M2074.6,740.2h0M2147.2,687.8h0M2026.5,792.3h0M2041.5,784.4h0M2002.7,807.9h0M2016.7,796.6h0M1994.9,823.5h0M1991.3,826.8h0M2005.2,812.1h0M2045.1,779.5h0M2006.8,796.6h0M2107.8,713.4h0M2026.4,791.0h0M1988.6,824.1h0M2075.0,738.2h0M2099.7,716.2h0M2021.4,792.3h0M1960.8,850.6h0M2126.8,707.2h0M1995.4,807.1h0M2034.3,785.2h0M1985.4,836.6h0M2019.4,813.3h0M2058.6,755.4h0M2028.6,797.8h0M2123.0,714.2h0M2042.1,792.0h0M2004.1,821.1h0M2079.5,749.0h0M2029.8,789.5h0M2074.0,744.9h0M2110.4,709.1h0M2051.0,763.0h0M2033.7,800.7h0M2102.8,726.5h0M2047.1,770.4h0M2025.5,806.6h0M2017.3,804.2h0M2091.7,729.7h0M2009.7,808.6h0M2003.4,812.5h0M1984.6,837.2h0M2002.1,814.4h0M2094.9,749.9h0M2017.3,810.7h0M2068.5,765.7h0M2119.1,708.4h0M2075.3,743.1h0M2037.6,782.6h0M2067.4,760.3h0M2095.5,731.4h0M2039.0,783.8h0M2031.1,793.2h0M2039.5,784.0h0M1989.4,829.6h0M1960.2,850.3h0M2037.5,789.7h0M2053.3,759.0h0M2076.3,749.5h0M1984.4,834.2h0M1975.8,843.3h0M2047.7,762.2h0M1985.0,814.3h0M2035.2,787.3h0M2098.3,723.0h0M1996.3,820.9h0M2130.7,709.3h0M2004.4,824.2h0M2040.9,774.3h0M2034.0,782.2h0M2015.9,812.2h0M1961.1,839.8h0M2017.7,803.4h0M2003.5,814.1h0M2005.1,812.2h0M1997.3,822.3h0M2024.0,801.9h0M2052.0,759.5h0M2009.2,806.5h0M1968.0,844.0h0M2010.3,817.3h0M1994.1,832.5h0M2051.7,775.1h0M1999.6,820.6h0M1996.4,815.4h0M2106.8,711.4h0M2127.2,700.0h0M2152.5,683.8h0M2060.1,764.3h0M2114.2,712.3h0M2038.2,786.8h0M2040.1,770.7h0M2072.2,747.0h0M2091.5,735.6h0M2039.0,776.9h0M2049.7,771.2h0M2031.2,785.6h0M2027.1,792.7h0M2045.7,769.8h0M2001.4,813.9h0M2024.7,809.3h0M2117.0,722.1h0M1993.2,814.6h0M2087.6,726.4h0M2135.2,704.4h0M2011.7,799.7h0M2054.3,774.2h0M2016.0,802.4h0M2126.8,702.5h0M2060.2,764.3h0M2064.2,741.9h0M1999.7,830.5h0M2090.2,736.5h0M2048.5,773.3h0M2002.0,820.0h0M2031.4,784.2h0M1992.7,819.4h0M1996.9,817.1h0M2002.9,810.6h0M2023.7,792.6h0M2139.3,682.6h0M2137.4,689.4h0M1994.4,819.6h0M2040.7,780.8h0M2036.8,772.4h0M1978.2,831.8h0M1964.9,856.7h0M2118.3,726.8h0M2004.0,815.3h0M2039.9,785.5h0M2041.6,778.1h0M1995.1,812.6h0M1982.1,840.2h0M2044.8,773.3h0M2033.7,790.4h0M1956.7,856.5h0M2058.2,759.0h0M2108.6,716.0h0M1997.9,811.3h0M2001.2,790.3h0M2018.8,818.9h0M2004.5,809.8h0M2122.1,713.9h0M2003.3,819.1h0M2084.1,747.3h0M2017.5,801.7h0M2024.7,794.1h0M2073.5,743.8h0M2070.8,760.7h0M1953.3,849.8h0M2075.1,757.0h0M2132.8,682.7h0M2006.7,805.0h0M2103.9,724.8h0M1995.6,828.7h0M2017.7,796.9h0M2071.6,759.8h0M2057.9,766.3h0M2044.7,781.1h0M2078.0,752.1h0M1977.2,828.0h0M2069.2,756.2h0M2035.5,774.1h0M1966.4,844.4h0M2003.0,806.8h0M2044.0,782.2h0M2027.1,797.7h0M2036.9,778.4h0M2123.4,710.2h0M2043.3,786.4h0M2073.3,747.1h0M2038.2,767.1h0M1997.1,827.0h0M2063.8,752.1h0M2059.5,724.8h0M1987.0,806.6h0M2019.0,820.1h0M2103.9,720.0h0M2130.0,695.3h0M2061.8,762.2h0M2031.8,789.3h0M2082.1,737.2h0M2125.2,702.2h0M1963.6,847.5h0M1997.6,781.1h0M2085.5,734.9h0M2119.8,708.1h0M2087.6,732.2h0M2029.4,801.2h0M2009.4,800.6h0M2045.4,783.0h0M2001.6,816.4h0M2035.1,783.0h0M2007.6,821.9h0M2132.1,686.0h0M2080.1,749.4h0M2003.8,810.1h0M2097.5,713.7h0M1995.2,810.9h0M1976.1,841.5h0M2009.4,811.0h0M2019.4,793.6h0M2052.2,767.3h0M2120.9,704.1h0M1946.4,868.8h0M2027.6,797.2h0M2036.0,797.8h0M1986.2,841.8h0M2051.2,776.0h0M2021.9,801.6h0M1970.3,839.7h0M2068.3,758.8h0M2143.9,688.0h0M2063.2,761.5h0M2046.3,775.3h0M2109.4,719.9h0M2028.7,797.0h0M2018.4,800.5h0M2136.0,689.7h0M2007.7,816.5h0M2022.7,798.2h0M2129.6,695.4h0M2103.4,703.3h0M2059.6,760.3h0M2009.5,816.1h0M2055.3,762.4h0M2115.0,712.8h0M2013.6,799.3h0M2005.6,816.4h0M2092.2,745.9h0M1966.9,841.2h0M2012.0,807.6h0M2120.3,696.4h0M2042.5,786.3h0M2009.1,806.9h0M2119.8,703.5h0M2121.1,710.2h0M2016.3,795.2h0M2008.9,800.7h0M1990.9,809.0h0M2055.1,764.2h0M2089.0,742.6h0M2084.6,741.0h0M2049.2,776.5h0M2050.5,768.2h0M1997.9,822.9h0M1989.7,817.2h0M2001.8,823.0h0M2083.7,740.5h0M2119.9,718.3h0M2105.7,717.2h0M1976.9,836.6h0M2064.2,743.8h0M2034.1,791.8h0M2055.2,765.7h0M2138.4,683.8h0M2073.7,764.2h0M1993.0,823.0h0M2005.1,802.6h0M2026.6,788.0h0M2044.2,778.2h0M2057.7,770.9h0M2014.9,805.4h0M2082.7,737.6h0M2027.0,800.3h0M2059.7,761.3h0M2069.7,760.5h0M2063.2,765.4h0M2105.3,711.5h0M1986.3,819.3h0M2066.3,760.1h0M2009.4,816.9h0M2004.0,815.8h0M2064.8,768.0h0M1993.7,825.6h0M2118.1,720.3h0M2100.1,733.8h0M2012.5,812.5h0M2021.7,792.3h0M2018.2,807.1h0M2012.2,803.5h0M2026.8,795.2h0M2078.5,744.3h0M1964.7,849.2h0M2039.5,788.0h0M2047.6,782.5h0M2037.6,781.6h0M2043.1,778.4h0M2087.7,737.9h0M2078.4,743.9h0M2062.2,756.7h0M2101.3,728.4h0M2084.0,745.9h0M2055.3,765.0h0M2049.1,765.7h0M2014.4,799.7h0M2024.6,796.6h0M2019.5,803.3h0M2048.6,777.9h0M2014.4,804.8h0M1994.3,818.5h0M2111.2,714.5h0M2030.9,790.9h0M2038.1,768.2h0M2063.2,775.2h0M2117.1,713.0h0M1957.6,866.0h0M1985.6,836.1h0M2092.6,743.3h0M2069.5,755.7h0M2019.6,804.5h0M2011.3,806.2h0M1995.7,826.8h0M2150.1,680.2h0M2071.0,749.2h0M2081.9,732.5h0M1977.1,829.4h0M1994.2,829.6h0M2046.8,777.7h0M2009.4,821.8h0M1949.9,864.3h0M2111.2,720.1h0M1978.3,836.5h0M2008.8,808.5h0M2142.3,701.8h0M2039.4,780.8h0M2016.7,792.9h0M2053.4,767.0h0M1991.5,828.4h0M2047.0,774.6h0M1993.7,824.1h0M2075.6,754.0h0M2024.0,800.9h0M1992.4,816.2h0M1991.8,834.3h0M2013.6,795.6h0M2021.9,794.7h0M2132.7,683.9h0M2100.5,715.0h0M2110.3,723.2h0M2003.0,817.7h0M1979.3,830.7h0M2019.3,815.2h0M2119.3,712.6h0M2024.2,805.1h0M2032.1,777.9h0M2061.6,762.0h0M2077.6,752.6h0M2005.8,811.1h0M1989.9,832.0h0M1975.8,840.3h0M2071.3,749.8h0M2130.5,692.6h0M1941.7,865.0h0M2080.5,741.8h0M1983.4,835.7h0M2082.1,737.4h0M2079.5,757.9h0M2130.3,700.1h0M2038.6,780.7h0M1984.4,843.1h0M2015.9,802.1h0M2012.1,796.2h0M2029.5,785.8h0M2013.6,813.7h0M2040.1,771.6h0M1958.4,857.1h0M2015.2,803.8h0M2117.2,719.6h0M2053.3,781.5h0M2027.7,800.0h0M2013.3,789.6h0M2040.3,774.0h0M2105.0,705.5h0M1952.6,856.4h0M2130.7,711.2h0M1998.7,829.3h0M2133.8,706.6h0M2045.5,782.5h0M2001.4,828.0h0M2049.5,778.8h0M2087.2,736.5h0M1982.3,828.8h0M2057.9,762.1h0M2094.7,720.2h0M2129.0,703.6h0M2038.7,778.3h0M1997.5,851.4h0M2045.1,757.5h0M2123.1,697.7h0M2100.7,715.1h0M2001.7,803.3h0M1974.2,841.3h0M2020.5,824.4h0M2020.6,796.2h0M1995.7,820.6h0M2118.1,713.3h0M2068.9,760.3h0M2006.0,811.5h0M2052.0,771.4h0M2053.5,772.0h0M2087.4,740.0h0M2063.2,758.4h0M2072.7,753.3h0M2046.5,782.1h0M2093.3,712.3h0M2129.7,706.5h0M2088.9,735.1h0M2029.9,794.7h0M2004.0,815.6h0M2008.9,802.4h0M2102.1,729.0h0M2048.5,780.1h0M2128.8,690.5h0M1968.9,846.2h0M2117.2,706.1h0M2001.2,815.3h0M1997.7,821.6h0M1961.2,846.9h0M2131.7,692.9h0M2028.3,798.4h0M2094.3,724.1h0M1987.0,837.2h0M2045.4,774.9h0M2114.7,713.7h0M1983.6,831.6h0M1981.9,841.2h0M2026.9,792.3h0M2076.6,749.8h0M2125.0,705.2h0M2079.8,754.0h0M2018.3,801.9h0M2057.5,745.7h0M2065.6,760.4h0M2076.9,741.6h0M1989.7,823.1h0M1994.2,833.6h0M1991.9,817.8h0M2100.7,725.6h0M2005.3,805.8h0M2086.3,752.2h0M2093.0,739.9h0M2055.1,766.9h0M2040.2,768.3h0M1989.1,821.2h0M2005.1,798.4h0M2018.5,795.8h0M2092.4,726.4h0M2047.5,787.1h0M2072.2,745.0h0M2056.2,762.2h0M2070.2,752.5h0M2009.9,805.2h0M1993.2,817.8h0M2047.9,764.9h0M2106.7,714.2h0M2100.7,732.4h0M2029.7,793.7h0M2149.2,678.0h0M2055.0,770.0h0M2051.0,769.9h0M2096.1,726.7h0M2057.0,754.5h0M2062.4,762.9h0M2133.0,707.7h0M2023.1,798.7h0M2029.0,787.8h0M2079.1,745.0h0M2039.3,770.3h0M2001.5,817.0h0M1957.6,857.1h0M2117.7,702.0h0M1975.1,849.5h0M2058.5,767.9h0M1985.3,831.4h0M2047.0,760.9h0M2002.0,826.7h0M2080.1,739.3h0M2083.1,743.7h0M2134.0,695.5h0M2061.0,767.2h0M2003.6,824.1h0M2021.6,801.9h0M2054.1,767.4h0M2138.8,679.2h0M2071.8,763.0h0M2088.6,738.6h0M2000.1,823.8h0M2050.6,776.8h0M2057.5,754.7h0M1973.8,834.6h0M2027.7,787.1h0M2049.8,777.2h0M2132.8,694.7h0M2015.8,798.8h0M1962.5,851.8h0" stroke="#76c043" stroke-width="3.8" stroke-linecap="round" fill="none"/>
<g clip-path="url(#cp1)"><line x1="1868" y1="921.7" x2="2228" y2="591.1" stroke="#3243a8" stroke-width="2.4" stroke-dasharray="8.5 6.5"/><line x1="1868" y1="956.9" x2="2228" y2="626.3" stroke="#3243a8" stroke-width="2.4" stroke-dasharray="8.5 6.5"/></g>
<line x1="1868" y1="939.3" x2="2228" y2="608.7" stroke="#e0352b" stroke-width="2.6"/>
<rect x="1868" y="608.7" width="360.0" height="330.6" fill="none" stroke="#666" stroke-width="1.8"/>
<text x="1862.0" y="945.6" font-size="18.8" font-weight="bold" text-anchor="end" fill="#222" >0</text>
<text x="1868.0" y="964.7" font-size="18.8" font-weight="bold" text-anchor="middle" fill="#222" >0</text>
<text x="1862.0" y="904.3" font-size="18.8" font-weight="bold" text-anchor="end" fill="#222" >2</text>
<text x="1913.0" y="964.7" font-size="18.8" font-weight="bold" text-anchor="middle" fill="#222" >2</text>
<text x="1862.0" y="862.9" font-size="18.8" font-weight="bold" text-anchor="end" fill="#222" >4</text>
<text x="1958.0" y="964.7" font-size="18.8" font-weight="bold" text-anchor="middle" fill="#222" >4</text>
<text x="1862.0" y="821.6" font-size="18.8" font-weight="bold" text-anchor="end" fill="#222" >6</text>
<text x="2003.0" y="964.7" font-size="18.8" font-weight="bold" text-anchor="middle" fill="#222" >6</text>
<text x="1862.0" y="780.3" font-size="18.8" font-weight="bold" text-anchor="end" fill="#222" >8</text>
<text x="2048.0" y="964.7" font-size="18.8" font-weight="bold" text-anchor="middle" fill="#222" >8</text>
<text x="1862.0" y="739.0" font-size="18.8" font-weight="bold" text-anchor="end" fill="#222" >10</text>
<text x="2093.0" y="964.7" font-size="18.8" font-weight="bold" text-anchor="middle" fill="#222" >10</text>
<text x="1862.0" y="697.6" font-size="18.8" font-weight="bold" text-anchor="end" fill="#222" >12</text>
<text x="2138.0" y="964.7" font-size="18.8" font-weight="bold" text-anchor="middle" fill="#222" >12</text>
<text x="1862.0" y="656.3" font-size="18.8" font-weight="bold" text-anchor="end" fill="#222" >14</text>
<text x="2183.0" y="964.7" font-size="18.8" font-weight="bold" text-anchor="middle" fill="#222" >14</text>
<text x="1862.0" y="615.0" font-size="18.8" font-weight="bold" text-anchor="end" fill="#222" >16</text>
<text x="2228.0" y="964.7" font-size="18.8" font-weight="bold" text-anchor="middle" fill="#222" >16</text>
<text x="2048.0" y="602.5" font-size="21.2" font-weight="bold" text-anchor="middle" fill="#222" >R-square: 0.9454</text>
<text x="2048.0" y="989.0" font-size="21.2" font-weight="bold" text-anchor="middle" fill="#222" >CS-LSSVM</text>
<text x="0" y="0" transform="translate(1833.0,774.0) rotate(-90)" font-size="20.8" font-weight="bold" text-anchor="middle" fill="#222" >Actual Data</text>
<circle cx="1911" cy="631.5" r="2.4" fill="#76c043"/>
<line x1="1889" y1="656.5" x2="1931" y2="656.5" stroke="#e0352b" stroke-width="2.6"/>
<line x1="1889" y1="676.5" x2="1931" y2="676.5" stroke="#3a4fbf" stroke-width="2.2" stroke-dasharray="8 6"/>
<text x="1936.0" y="636.5" font-size="16.4" font-weight="bold" text-anchor="start" fill="#222" >Actual Data vs. SDCS-LSSVM</text>
<text x="1936.0" y="661.5" font-size="16.4" font-weight="bold" text-anchor="start" fill="#222" >Actual Data</text>
<text x="1936.0" y="681.5" font-size="16.4" font-weight="bold" text-anchor="start" fill="#222" >Pred bnds (95%)</text>
<rect x="1881.4" y="1031.4" width="355.2" height="327.3" fill="#fff"/>
<path d="M1925.8,1031.4V1358.7M1881.4,1317.8H2236.6M1970.2,1031.4V1358.7M1881.4,1276.9H2236.6M2014.6,1031.4V1358.7M1881.4,1236.0H2236.6M2059.0,1031.4V1358.7M1881.4,1195.1H2236.6M2103.4,1031.4V1358.7M1881.4,1154.1H2236.6M2147.8,1031.4V1358.7M1881.4,1113.2H2236.6M2192.2,1031.4V1358.7M1881.4,1072.3H2236.6" stroke="#c6c6c6" stroke-width="1.8"/>
<clipPath id="cp2"><rect x="1881.4" y="1031.4" width="355.2" height="327.3"/></clipPath>
<path d="M2125.7,1124.2h0M1971.6,1283.6h0M2013.0,1234.4h0M2033.0,1215.6h0M2062.8,1199.8h0M2103.0,1147.1h0M2141.1,1128.2h0M2112.7,1151.8h0M2032.3,1224.9h0M2041.1,1214.4h0M1986.1,1262.6h0M2035.0,1224.2h0M2033.6,1226.6h0M2018.2,1236.2h0M2033.3,1217.6h0M2084.0,1168.7h0M2020.9,1227.5h0M2033.7,1217.5h0M2055.1,1206.7h0M2035.4,1216.6h0M2030.6,1244.4h0M2098.1,1140.9h0M2017.2,1236.9h0M2058.7,1183.2h0M2141.4,1126.4h0M2053.2,1200.4h0M2138.4,1140.3h0M2030.3,1218.4h0M2052.6,1207.3h0M2039.5,1209.9h0M2105.0,1164.0h0M2063.7,1202.7h0M2032.7,1213.6h0M2080.5,1167.2h0M2023.3,1227.9h0M2029.6,1219.3h0M2056.9,1199.9h0M2092.4,1173.9h0M1979.9,1266.8h0M2052.0,1207.9h0M2046.6,1205.6h0M2000.9,1251.4h0M2152.6,1120.3h0M2098.5,1156.3h0M2058.2,1188.5h0M2134.6,1127.2h0M2059.8,1185.8h0M2010.2,1241.0h0M2035.7,1219.5h0M2115.9,1136.6h0M2030.4,1232.3h0M2023.1,1249.2h0M2050.3,1203.2h0M2042.1,1201.4h0M2057.4,1223.8h0M2011.6,1247.1h0M1986.8,1258.4h0M2097.7,1158.1h0M2035.9,1220.7h0M2011.9,1249.2h0M2113.8,1141.7h0M2127.4,1146.0h0M2078.9,1170.6h0M2036.7,1221.3h0M2053.3,1208.2h0M2106.8,1157.8h0M2038.6,1215.3h0M2045.5,1209.6h0M2000.9,1216.0h0M2029.3,1228.8h0M1994.6,1259.2h0M2001.6,1238.6h0M2073.1,1191.0h0M2084.5,1160.1h0M2050.4,1205.3h0M2018.0,1224.0h0M2054.8,1182.2h0M2046.8,1199.7h0M2053.4,1193.9h0M2107.3,1153.8h0M2042.9,1210.4h0M2002.2,1253.0h0M2043.4,1217.9h0M1991.9,1256.2h0M1994.6,1253.3h0M2011.5,1239.8h0M1972.2,1256.9h0M2024.6,1234.2h0M2116.9,1122.8h0M2115.0,1153.0h0M2085.8,1179.3h0M2023.4,1226.2h0M1994.0,1254.0h0M2036.9,1220.4h0M2071.9,1180.0h0M2139.8,1124.5h0M2053.2,1190.2h0M2048.8,1205.3h0M1981.0,1275.8h0M1998.6,1251.4h0M2082.1,1175.5h0M1975.4,1255.8h0M1977.6,1265.2h0M2099.1,1155.6h0M2063.2,1191.3h0M2042.8,1228.2h0M2017.0,1233.8h0M1989.7,1265.0h0M2064.8,1194.5h0M2163.9,1101.0h0M2023.9,1224.1h0M2133.4,1142.0h0M2091.0,1157.4h0M2113.6,1151.6h0M2103.5,1155.4h0M2061.3,1184.8h0M2062.6,1187.2h0M2114.8,1150.0h0M2041.0,1227.4h0M2003.4,1248.0h0M2025.0,1224.3h0M2043.7,1215.3h0M2140.4,1118.0h0M2009.3,1242.9h0M2026.2,1229.7h0M2044.4,1209.8h0M2149.4,1119.1h0M1964.8,1264.6h0M1993.1,1259.6h0M2100.5,1130.5h0M1990.1,1262.3h0M1981.9,1269.9h0M2008.5,1241.8h0M2114.6,1137.3h0M1995.7,1239.6h0M2042.3,1218.0h0M1989.8,1270.8h0M2047.7,1203.2h0M2051.4,1196.9h0M2032.6,1213.7h0M2082.3,1166.1h0M1968.2,1287.3h0M2096.2,1156.4h0M2086.9,1169.6h0M2152.1,1107.8h0M2022.2,1227.3h0M2056.8,1209.8h0M1981.9,1273.5h0M1966.2,1284.8h0M2026.1,1212.9h0M2133.9,1130.3h0M2066.7,1193.9h0M2031.2,1228.9h0M1991.5,1252.4h0M2066.8,1183.7h0M2040.8,1215.1h0M2053.0,1207.3h0M2108.4,1151.5h0M2068.5,1183.6h0M2136.2,1122.3h0M2031.7,1224.9h0M2093.6,1158.2h0M2018.1,1226.8h0M2074.8,1180.0h0M1967.7,1278.0h0M2076.6,1177.9h0M2044.1,1208.9h0M2116.7,1165.5h0M2025.3,1225.7h0M2147.0,1119.3h0M2035.8,1214.4h0M2121.1,1136.2h0M1976.6,1271.5h0M2025.1,1229.0h0M2050.4,1203.5h0M2135.1,1132.6h0M2042.3,1221.9h0M2077.2,1173.3h0M2020.5,1242.3h0M2018.1,1229.3h0M2043.8,1224.4h0M2013.3,1250.7h0M2012.6,1242.9h0M2112.9,1140.1h0M1969.9,1260.5h0M2129.8,1129.9h0M2031.1,1174.8h0M1994.9,1254.4h0M1990.1,1259.4h0M1979.3,1276.5h0M2137.8,1125.2h0M2105.0,1154.9h0M2030.3,1218.0h0M2063.3,1194.5h0M2092.1,1158.8h0M2146.2,1117.5h0M2126.6,1140.7h0M1975.1,1276.0h0M2095.0,1162.5h0M2027.8,1215.5h0M2012.3,1237.6h0M1978.8,1259.7h0M2016.9,1221.8h0M2004.4,1251.7h0M2092.4,1154.7h0M2078.4,1162.8h0M2033.4,1213.2h0M2016.2,1232.9h0M2038.0,1221.1h0M2004.3,1253.9h0M2074.3,1187.7h0M2015.1,1242.6h0M2112.8,1134.5h0M2080.5,1177.1h0M2106.6,1151.6h0M1964.6,1241.9h0M2041.9,1215.2h0M2065.4,1186.3h0M2022.3,1230.5h0M2123.9,1123.8h0M2142.8,1120.4h0M1994.0,1262.6h0M2082.5,1184.8h0M2011.1,1248.9h0M2043.6,1216.8h0M2013.2,1230.9h0M2067.4,1185.0h0M2120.6,1141.2h0M2080.5,1178.0h0M2029.1,1214.7h0M2156.2,1125.4h0M2064.6,1199.2h0M2038.3,1230.3h0M2029.3,1221.3h0M2046.5,1215.7h0M2144.2,1106.9h0M1997.1,1250.8h0M2144.4,1121.6h0M2077.1,1185.7h0M2071.4,1178.4h0M2000.9,1246.2h0M2128.7,1127.4h0M2048.0,1211.0h0M2034.9,1223.2h0M2046.3,1201.4h0M2046.9,1216.3h0M2005.3,1238.9h0M2091.0,1160.1h0M2031.7,1228.4h0M2117.7,1150.3h0M2131.9,1139.2h0M1994.6,1255.3h0M2032.0,1220.6h0M2023.5,1219.1h0M2154.7,1104.8h0M2134.6,1133.7h0M2103.4,1149.7h0M1993.6,1247.1h0M2009.2,1245.3h0M2034.0,1231.3h0M2067.8,1192.8h0M2077.7,1189.6h0M2132.6,1130.9h0M2099.0,1149.8h0M1987.2,1273.0h0M1993.3,1252.5h0M2120.5,1130.5h0M2061.7,1209.8h0M2075.3,1183.5h0M2069.8,1189.6h0M2075.4,1181.9h0M2008.0,1252.3h0M2003.4,1245.3h0M2136.0,1129.2h0M2048.0,1210.6h0M2054.6,1198.9h0M2025.6,1214.3h0M2014.7,1243.4h0M2019.3,1232.9h0M2114.3,1138.3h0M2018.4,1232.6h0M2002.0,1255.0h0M2036.3,1213.9h0M2091.8,1160.9h0M2147.0,1112.5h0M2024.4,1223.2h0M2049.0,1192.9h0M2113.0,1140.0h0M1984.9,1268.9h0M2022.8,1229.2h0M2093.8,1162.8h0M2047.9,1204.1h0M2068.4,1184.2h0M2151.7,1113.7h0M2030.8,1216.2h0M2039.8,1216.6h0M2002.6,1252.6h0M2110.4,1143.9h0M2058.8,1186.3h0M2003.3,1252.4h0M2029.7,1214.9h0M2091.3,1179.0h0M2060.0,1191.9h0M2026.9,1224.4h0M2006.5,1226.8h0M2057.8,1197.8h0M2114.1,1141.6h0M2104.0,1154.6h0M2052.0,1194.9h0M2127.2,1130.2h0M1989.7,1263.9h0M2113.3,1141.7h0M2094.0,1157.9h0M2001.7,1244.9h0M2000.3,1248.3h0M2123.9,1134.8h0M2065.0,1183.1h0M2003.0,1242.8h0M2077.0,1182.1h0M2018.6,1233.8h0M1988.0,1256.8h0M2120.4,1167.1h0M2130.3,1117.1h0M2083.5,1154.6h0M2037.8,1209.5h0M2092.8,1173.3h0M2136.4,1131.3h0M2061.6,1192.8h0M2041.1,1216.8h0M2103.1,1161.0h0M2054.5,1193.9h0M2011.7,1236.2h0M2072.2,1191.9h0M2065.4,1192.8h0M2104.2,1157.8h0M1988.4,1263.2h0M2044.7,1210.7h0M2026.5,1232.0h0M2032.0,1231.1h0M2090.4,1162.6h0M2114.1,1146.5h0M2113.1,1176.3h0M1996.1,1255.9h0M1994.2,1230.9h0M2011.0,1248.2h0M2128.1,1120.3h0M1997.2,1239.2h0M2046.4,1212.3h0M2049.0,1216.4h0M2018.3,1225.3h0M2003.7,1249.8h0M2066.6,1194.7h0M2120.1,1141.5h0M2026.7,1236.3h0M2014.3,1221.8h0M2143.7,1159.3h0M2067.2,1189.7h0M2043.6,1216.0h0M2098.2,1153.0h0M1990.6,1255.5h0M2015.5,1244.1h0M2019.0,1230.4h0M2131.1,1130.8h0M1960.9,1273.1h0M2008.8,1240.9h0M2064.9,1190.0h0M2044.2,1214.7h0M2014.4,1234.4h0M2068.2,1185.9h0M2026.6,1235.2h0M2071.2,1192.7h0M2122.0,1129.1h0M1965.3,1284.6h0M2077.7,1171.6h0M2018.9,1231.0h0M2037.6,1222.9h0M2094.0,1152.3h0M2165.0,1094.5h0M2077.1,1188.6h0M2024.3,1229.0h0M2006.6,1248.2h0M2042.6,1218.2h0M1996.1,1254.1h0M2112.8,1145.4h0M2038.3,1207.9h0M2061.5,1184.2h0M2133.4,1128.5h0M2067.5,1191.9h0M2096.4,1166.0h0M2018.8,1230.8h0M2108.6,1152.9h0M2118.1,1126.9h0M2053.9,1203.8h0M1957.2,1287.7h0M2049.9,1210.5h0M2142.7,1120.1h0M2055.7,1192.3h0M1999.8,1242.9h0M2002.0,1251.3h0M2023.2,1220.0h0M2010.4,1239.0h0M2043.4,1201.2h0M2012.3,1242.8h0M2053.7,1223.6h0M1957.9,1285.1h0M2099.9,1155.9h0M2000.7,1246.7h0M2000.8,1239.3h0M2055.8,1195.9h0M2136.4,1125.5h0M2061.1,1205.1h0M1994.7,1243.9h0M2026.0,1232.0h0M2132.9,1126.1h0M2074.6,1190.9h0M2069.9,1179.7h0M2052.5,1196.8h0M2139.6,1125.9h0M2025.1,1226.9h0M2012.9,1242.7h0M2038.9,1210.0h0M2008.4,1242.0h0M2004.2,1246.1h0M2149.0,1115.0h0M2096.1,1166.0h0M2107.8,1145.2h0M1963.3,1278.1h0M2076.5,1178.4h0M2022.7,1231.6h0M1958.7,1292.7h0M2096.2,1158.0h0M2049.8,1217.1h0M2113.4,1153.6h0M2038.5,1215.3h0M2025.6,1215.6h0M2096.4,1164.4h0M2006.8,1246.0h0M2058.0,1198.6h0M2026.2,1227.3h0M2146.6,1119.7h0M2072.3,1216.1h0M2132.8,1125.4h0M1970.9,1277.6h0M2011.8,1235.9h0M2032.5,1226.3h0M2067.7,1193.2h0M2025.4,1239.6h0M2045.0,1197.6h0M2149.8,1109.4h0M2054.0,1205.8h0M2058.7,1206.4h0M1992.1,1263.5h0M2034.3,1219.8h0M2031.7,1224.8h0M2062.1,1205.2h0M1979.5,1264.7h0M2091.3,1175.5h0M2023.4,1219.0h0M2013.1,1241.3h0M2046.9,1208.5h0M2008.0,1239.5h0M2112.4,1140.4h0M2085.5,1168.6h0M2020.8,1235.2h0M2057.1,1194.6h0M2142.6,1129.9h0M2010.2,1244.1h0M1966.0,1286.5h0M2032.9,1209.1h0M1951.3,1287.7h0M2033.6,1214.4h0M2083.6,1177.2h0M2130.8,1124.4h0M2013.2,1243.0h0M1998.2,1262.0h0M2016.0,1233.9h0M2021.5,1220.9h0M2150.5,1108.4h0M2048.3,1203.7h0M2080.4,1168.9h0M2048.1,1199.4h0M2032.5,1206.1h0M2079.8,1157.4h0M2032.6,1218.6h0M2069.4,1183.6h0M2068.0,1182.7h0M2102.6,1161.4h0M2017.2,1229.5h0M2105.5,1139.9h0M2155.0,1116.1h0M2098.3,1173.0h0M2020.7,1235.3h0M2067.5,1171.6h0M2119.1,1156.2h0M2128.5,1136.1h0M2039.8,1218.6h0M2122.9,1151.2h0M1971.9,1276.6h0M2024.2,1228.1h0M1977.6,1268.3h0M1986.7,1269.9h0M2009.0,1231.9h0M2000.0,1246.2h0M2046.3,1211.9h0M2061.0,1191.8h0M2088.3,1173.1h0M2042.5,1214.9h0M2123.8,1136.9h0M1997.1,1257.4h0M2137.8,1122.4h0M1995.0,1263.1h0M2098.5,1148.2h0M2057.5,1208.0h0M2090.6,1169.5h0M2026.7,1225.4h0M2039.8,1244.1h0M2085.0,1169.3h0M2050.5,1207.4h0M2117.1,1146.9h0M2038.9,1233.8h0M2051.0,1205.4h0M2128.0,1117.3h0M2052.6,1194.1h0M2104.8,1165.4h0M2088.7,1165.4h0M2143.5,1127.8h0M2014.4,1227.6h0M2021.2,1238.5h0M2072.1,1182.5h0M2066.2,1172.0h0M1961.8,1283.5h0M2015.6,1241.9h0M2027.3,1191.0h0M2035.1,1206.7h0M1984.4,1271.4h0M2095.4,1176.8h0M2112.4,1165.0h0M2046.7,1199.6h0M2044.9,1205.8h0M2021.1,1235.3h0M2011.1,1238.0h0M2022.1,1228.9h0M2072.0,1180.9h0M2003.8,1253.1h0M2064.7,1175.7h0M2013.8,1232.1h0M2011.1,1240.1h0M1983.7,1264.6h0M2017.7,1228.3h0M2023.9,1233.6h0M2098.9,1155.0h0M2079.2,1219.7h0M2118.7,1129.1h0M2084.3,1164.9h0M2019.8,1230.4h0M2065.6,1191.5h0M1998.9,1250.3h0M2064.1,1195.6h0M2069.4,1174.9h0M2016.6,1230.5h0M2001.5,1244.4h0M2011.1,1234.4h0M2074.8,1153.0h0M2068.2,1183.5h0M2035.0,1216.1h0M2070.4,1180.8h0M2062.8,1197.0h0M2002.3,1247.7h0M2042.4,1205.9h0M2081.8,1167.2h0M2018.0,1237.7h0M2034.9,1218.5h0M1967.2,1275.2h0M2083.2,1170.9h0M2068.9,1184.6h0M2034.1,1209.3h0M2029.1,1230.4h0M2002.8,1245.8h0M2041.2,1215.2h0M2106.7,1150.7h0M1967.7,1284.3h0M2038.1,1214.2h0M2009.9,1241.1h0M2034.4,1212.6h0M2020.9,1234.3h0M2022.2,1224.2h0M2122.0,1140.2h0M2086.9,1170.2h0M1977.0,1276.1h0M2012.1,1235.2h0M2064.2,1178.8h0M2052.2,1208.7h0M2022.0,1228.5h0M1996.1,1259.5h0M2080.0,1178.5h0M2015.7,1235.7h0M2029.7,1216.1h0M2136.7,1125.7h0M2024.7,1224.5h0M2074.3,1190.3h0M1985.4,1262.1h0M2039.1,1211.9h0M2106.3,1167.0h0M2074.0,1174.2h0M2011.6,1231.7h0M1999.4,1262.5h0M2048.7,1216.5h0M2033.7,1210.1h0M2120.8,1137.2h0M2023.3,1232.1h0M2077.5,1189.2h0M2103.4,1156.4h0M2083.3,1172.5h0M2072.1,1185.2h0M2106.4,1150.6h0M2069.2,1190.7h0M2081.0,1158.5h0M2067.6,1176.4h0M2128.5,1119.4h0M2018.7,1233.5h0M2041.8,1199.1h0M2142.1,1121.5h0M2088.1,1174.6h0M2139.6,1113.6h0M2083.1,1166.9h0M2058.8,1189.5h0M2000.3,1248.2h0M2028.7,1222.6h0M2075.5,1189.4h0M2046.7,1205.3h0M2040.3,1222.3h0M2014.8,1235.9h0M1992.0,1259.0h0M2029.5,1215.9h0M2032.3,1218.9h0M2040.1,1225.2h0M1979.3,1278.9h0M2129.5,1129.4h0M2000.6,1257.4h0M1991.0,1265.3h0M2044.8,1212.1h0M2027.0,1222.1h0M2044.4,1207.1h0M2017.1,1232.4h0M2016.2,1230.8h0M2095.9,1163.9h0M1987.2,1258.8h0M2058.3,1185.8h0M2084.4,1157.8h0M2043.4,1212.3h0M2016.2,1223.7h0M1975.7,1259.2h0M2040.0,1222.3h0M2000.4,1246.2h0M2048.2,1210.8h0M1997.0,1252.4h0M1957.1,1289.2h0M2011.7,1227.9h0M2027.1,1229.1h0M1999.2,1263.0h0M2026.9,1226.0h0M2083.8,1165.9h0M2018.0,1239.9h0M2055.0,1196.7h0M2035.9,1222.8h0M2086.1,1179.6h0M2071.5,1187.0h0M1997.5,1254.3h0M2147.9,1116.9h0M2064.7,1191.6h0M1997.1,1250.7h0M2139.9,1142.4h0M2028.9,1215.2h0M2094.6,1132.7h0M2007.9,1243.5h0M2031.1,1235.4h0M2028.1,1232.8h0M2136.9,1131.7h0M2038.7,1208.8h0M2121.1,1131.8h0M1966.4,1278.7h0M2009.0,1242.5h0M1980.6,1269.7h0M2025.3,1208.6h0M2012.5,1235.9h0M1971.8,1274.9h0M2036.4,1210.0h0M2118.7,1147.5h0M2027.8,1222.2h0M2035.5,1205.4h0M2122.7,1173.3h0M2001.6,1247.4h0M2000.2,1239.1h0M2064.9,1192.9h0M2019.5,1228.5h0M2062.0,1180.2h0M2152.6,1122.1h0M2110.4,1154.0h0M2117.7,1143.6h0M2003.6,1252.4h0M1979.0,1255.0h0M2037.1,1208.7h0M2060.2,1199.8h0M1996.9,1248.7h0M1992.9,1256.9h0M2043.5,1200.3h0M2052.0,1193.1h0M2056.9,1200.8h0M2039.6,1218.3h0M2133.0,1121.4h0M2082.8,1158.0h0M2037.8,1238.9h0M2041.6,1208.0h0M2020.4,1236.4h0M2049.3,1204.7h0M1991.5,1256.1h0M2010.7,1234.8h0M2148.8,1106.4h0M2146.1,1116.2h0M2063.2,1198.4h0M2028.4,1227.0h0M2040.8,1206.3h0M2013.4,1230.7h0M2088.7,1178.0h0M2153.1,1115.1h0M2074.5,1177.9h0M2128.4,1127.6h0M2113.5,1141.3h0M2051.2,1197.6h0M2054.1,1185.8h0M2057.6,1191.9h0M2087.3,1166.8h0M1992.3,1264.7h0M2016.7,1239.7h0M2146.4,1113.2h0M2037.2,1222.6h0M2055.8,1184.3h0M2104.1,1136.1h0M2035.4,1211.9h0M2005.2,1244.6h0M2138.3,1131.6h0M2015.6,1242.0h0M2041.1,1215.0h0M2148.2,1117.1h0M1988.7,1254.4h0M2077.7,1183.6h0M2047.6,1190.9h0M2019.1,1244.7h0M2012.0,1223.6h0M2134.3,1126.3h0M2038.4,1209.9h0M2051.9,1204.2h0M2119.8,1130.0h0M2033.7,1207.8h0M2103.3,1155.8h0M2021.2,1234.7h0M2056.2,1186.4h0M2080.9,1176.3h0M2059.6,1179.4h0M2003.5,1244.5h0M2107.0,1140.5h0M2106.5,1115.6h0M2039.2,1210.6h0M2091.2,1163.9h0M2026.3,1226.7h0M2008.8,1238.3h0M2132.2,1108.5h0M2121.1,1142.3h0M2066.0,1183.7h0M2039.9,1212.2h0M1977.0,1265.7h0M2058.4,1194.5h0M2087.9,1184.4h0M2061.2,1192.4h0M2121.2,1125.9h0M2055.7,1191.8h0M2013.8,1232.4h0M2033.7,1214.2h0M2106.7,1152.1h0M2087.3,1168.7h0M1993.9,1257.1h0M2058.0,1196.9h0M2073.0,1180.8h0M1979.1,1260.2h0M2079.9,1160.0h0M2110.9,1138.5h0M1982.9,1253.9h0M1987.3,1250.6h0M2120.1,1136.9h0M2084.1,1174.3h0M2011.1,1241.5h0M2115.0,1145.8h0M2056.3,1211.1h0M2107.6,1148.8h0M2007.9,1238.8h0M2127.5,1132.2h0M2015.5,1242.6h0M2104.6,1161.4h0M2045.8,1197.6h0M2020.8,1222.6h0M1997.0,1252.3h0M2107.2,1149.5h0M2087.5,1177.2h0M2014.2,1230.0h0M1995.8,1258.1h0M2071.3,1196.9h0M2065.3,1187.1h0M2039.8,1210.0h0M2074.6,1187.0h0M2141.8,1124.8h0M2011.8,1247.9h0M2078.1,1178.0h0M2135.1,1129.7h0M2003.5,1246.6h0M2062.7,1209.9h0M2038.6,1211.0h0M2109.4,1147.2h0M2053.2,1208.3h0M2028.9,1219.8h0M2060.9,1204.2h0M2050.3,1196.7h0M2046.8,1187.1h0M2092.3,1195.5h0M2107.3,1149.1h0M2094.8,1163.8h0M2071.0,1197.8h0M2039.6,1209.4h0M2077.3,1182.3h0M2017.1,1225.2h0M2120.3,1126.4h0M2122.7,1128.5h0M2014.7,1238.2h0M2101.0,1140.3h0M2070.3,1188.6h0M1999.4,1266.5h0M2013.1,1237.0h0M1971.6,1266.3h0M2004.7,1237.0h0M2124.7,1143.6h0M2084.5,1171.0h0M2002.5,1245.2h0M2076.3,1163.2h0M2128.3,1128.3h0M2043.3,1204.3h0M2032.6,1217.1h0M1979.4,1267.9h0M1992.2,1267.5h0M2027.9,1214.1h0M2114.2,1157.3h0M2040.9,1205.0h0M2141.3,1130.5h0M2091.3,1178.9h0M2084.1,1178.9h0M2057.8,1199.0h0M2022.2,1218.1h0M2104.9,1148.9h0M2056.3,1203.4h0M2059.6,1193.8h0M2000.8,1243.2h0M2016.1,1237.5h0M2035.2,1221.3h0M2111.1,1137.8h0M2066.3,1176.1h0M1961.9,1281.1h0M2055.1,1201.9h0M2008.1,1239.0h0M2035.8,1212.2h0M2070.3,1193.3h0M1956.4,1287.7h0M2025.6,1228.3h0M2004.8,1243.4h0M1979.1,1257.4h0M1991.9,1256.8h0M2141.3,1120.9h0M2070.2,1183.2h0M2149.0,1108.4h0M2144.5,1123.7h0M2068.4,1199.5h0M2071.1,1191.2h0M2022.2,1228.1h0M2006.8,1242.1h0M1990.1,1262.5h0M2045.1,1214.2h0M2034.3,1217.9h0M1994.0,1254.2h0M1998.7,1249.2h0M2095.0,1168.8h0M2031.7,1220.8h0M2134.6,1122.8h0M2066.8,1177.7h0M2016.1,1225.9h0M2094.6,1173.8h0M2024.9,1227.0h0M2011.0,1247.6h0M2085.1,1191.1h0M1992.4,1263.0h0M2018.3,1233.2h0M2031.7,1227.4h0M2105.4,1167.9h0M1992.1,1256.1h0M2004.6,1250.4h0M2090.6,1162.8h0M2012.4,1224.9h0M1979.9,1272.8h0M2018.8,1232.6h0M2100.3,1163.4h0M2010.0,1242.3h0M2110.9,1140.0h0M2134.8,1125.0h0M2019.3,1235.1h0M2060.7,1195.2h0M1976.0,1273.3h0M2057.6,1198.4h0M2062.7,1202.1h0M2134.2,1137.8h0M2089.9,1170.7h0M2004.7,1231.3h0M1976.9,1267.2h0M2037.0,1231.1h0M2070.5,1181.4h0M2016.5,1227.0h0M2059.2,1190.9h0M2104.3,1163.2h0M2046.1,1215.5h0M2000.8,1242.4h0M1988.7,1259.0h0M2016.2,1232.9h0M2119.4,1141.0h0M2017.1,1228.9h0M2103.2,1160.8h0M1964.2,1280.3h0M2017.3,1215.8h0M2020.6,1224.1h0M2102.7,1147.7h0M2144.3,1115.5h0M2039.2,1208.3h0M2072.5,1180.5h0M2064.0,1205.0h0M1999.1,1256.0h0M2117.2,1146.8h0M2001.6,1252.0h0M1989.5,1265.6h0M2016.8,1244.5h0M2016.2,1237.2h0M2024.6,1216.1h0M2077.6,1181.8h0M1995.4,1251.1h0M2081.2,1181.9h0M2040.5,1201.6h0M1961.9,1285.8h0M1998.2,1246.8h0M2012.5,1239.0h0M2162.6,1103.8h0M2111.5,1158.2h0M2119.9,1138.3h0M2032.2,1216.2h0M2027.4,1217.9h0M2151.7,1124.0h0M2071.3,1189.2h0M2045.2,1202.9h0M2031.5,1230.4h0M2065.0,1187.1h0M2010.5,1241.8h0M2026.2,1216.2h0M2027.2,1218.7h0M2031.1,1228.0h0M2011.1,1242.6h0M2062.5,1185.4h0M2005.5,1230.8h0M2057.9,1192.0h0M2118.8,1150.5h0M2017.6,1233.5h0M1997.7,1252.5h0M2029.3,1228.1h0M2050.6,1211.4h0M1999.5,1253.2h0M2063.4,1186.6h0M2119.8,1135.4h0M2002.5,1242.9h0M2042.5,1214.7h0M2042.6,1222.0h0M2090.1,1165.4h0M2026.0,1221.0h0M2092.0,1156.6h0M2091.3,1172.0h0M2114.0,1156.7h0M2044.4,1212.8h0M2084.9,1182.2h0M2030.9,1216.7h0M2078.9,1188.2h0M2047.1,1203.1h0M2142.0,1115.6h0M1982.1,1263.2h0M2007.2,1248.0h0M2011.9,1240.9h0M2064.7,1194.1h0M1997.4,1256.4h0M1979.8,1259.2h0M2146.8,1102.6h0M1985.5,1265.9h0M2080.5,1187.5h0M2101.3,1168.2h0M2076.0,1182.7h0M2094.5,1156.7h0M2070.0,1187.0h0M1971.7,1269.9h0M2108.4,1143.8h0M2013.8,1253.1h0M2063.7,1179.1h0M2024.7,1232.2h0M2029.3,1226.9h0M1988.3,1258.5h0M2106.0,1150.3h0M2126.7,1153.4h0M2021.9,1224.1h0M2031.4,1230.4h0M2002.2,1256.5h0M2089.3,1165.7h0M2056.1,1187.7h0M2107.1,1156.9h0M2070.6,1174.3h0M2035.0,1215.5h0M1973.4,1265.9h0M2161.9,1099.0h0M2014.1,1244.7h0M2062.5,1200.5h0M2018.3,1231.6h0M2122.6,1139.0h0M1984.4,1266.1h0M2034.3,1221.9h0M2117.5,1141.6h0M1994.3,1260.3h0M2124.5,1148.0h0M2048.3,1195.8h0M2124.2,1134.1h0M2132.9,1119.6h0M2002.5,1255.2h0M2118.4,1155.8h0M2019.9,1224.9h0M2041.9,1218.0h0M1958.5,1282.5h0M2100.9,1150.0h0M2010.4,1234.7h0M2069.4,1184.4h0M2048.4,1202.4h0M2054.6,1197.4h0M2044.6,1211.1h0M2004.3,1249.5h0M2045.3,1208.3h0M2022.8,1243.7h0M2020.4,1228.9h0M2028.8,1218.9h0M2073.4,1179.9h0M2126.6,1130.0h0M2028.5,1229.2h0M2055.5,1194.6h0M2049.2,1197.8h0M2042.1,1222.9h0M2065.1,1195.6h0M2035.0,1215.6h0M2119.7,1129.5h0M2036.3,1214.4h0M2014.9,1242.6h0M2081.0,1171.0h0M2063.6,1184.8h0M2014.8,1240.0h0M2065.5,1186.1h0M2063.7,1193.4h0M2170.1,1115.0h0M2006.5,1249.9h0M2068.9,1186.8h0M2152.9,1115.5h0M2051.3,1210.0h0M2051.5,1195.0h0M2071.0,1181.0h0M2108.5,1146.2h0M2150.9,1107.7h0M2017.6,1263.0h0M2160.7,1086.6h0M2099.9,1162.8h0M2097.3,1158.9h0M2046.3,1205.2h0M1988.4,1252.3h0M1979.4,1267.5h0M2008.8,1234.6h0M2017.6,1228.6h0M1990.6,1263.1h0M2028.3,1225.3h0M2032.4,1227.8h0M2090.2,1162.1h0M2136.5,1136.1h0M2019.9,1219.2h0M2090.4,1162.4h0M2074.8,1180.2h0M2041.9,1206.7h0M1980.9,1267.8h0M1981.2,1272.9h0M2120.9,1145.5h0M2046.7,1217.0h0M1996.5,1250.2h0M1997.9,1254.2h0M2041.0,1210.9h0M2017.3,1228.4h0M2017.2,1255.8h0M2020.7,1223.6h0M2137.8,1125.2h0M2109.1,1153.4h0M2031.6,1221.0h0M2058.0,1191.1h0M2020.5,1227.8h0M2083.1,1175.7h0M2018.3,1232.4h0M2012.0,1230.9h0M2065.4,1193.8h0M2049.4,1210.9h0M2034.7,1219.0h0M2001.6,1257.7h0M2130.8,1127.2h0M2124.8,1129.3h0M2025.6,1217.3h0M2117.4,1149.5h0M2026.2,1223.3h0M1994.2,1244.6h0M2002.7,1251.9h0M2007.0,1244.9h0M2141.6,1123.4h0M1986.4,1260.6h0M2034.4,1217.4h0M2097.1,1160.7h0M2026.6,1218.5h0M2068.3,1202.7h0M2071.8,1173.6h0M2080.8,1170.6h0M2018.7,1235.5h0M2039.0,1208.8h0M2029.0,1221.6h0M2021.5,1240.5h0M2051.3,1200.7h0M2134.8,1131.4h0M2141.7,1120.6h0M1998.2,1258.4h0M2094.9,1172.0h0M2099.0,1161.3h0M1982.1,1264.9h0M2110.2,1144.1h0M2012.4,1232.0h0M2066.5,1190.6h0M2075.1,1182.0h0M2060.1,1182.1h0M2061.5,1186.7h0M2071.6,1188.1h0M2023.2,1235.3h0M2054.0,1189.7h0M2042.9,1200.0h0M2119.6,1147.8h0M2069.0,1189.7h0M2067.8,1172.5h0M2049.8,1206.7h0M2111.9,1146.8h0M2127.7,1128.8h0M2027.1,1227.3h0M2126.1,1138.6h0M2071.9,1181.8h0M2179.7,1111.9h0M2156.2,1138.0h0M2098.7,1167.5h0M2037.1,1227.5h0M2045.5,1210.4h0M2125.3,1150.6h0M2003.9,1253.0h0M2045.7,1200.4h0M2123.5,1137.5h0M2029.5,1219.2h0M2071.4,1185.8h0M2051.8,1198.7h0M2089.5,1169.0h0M2049.3,1218.9h0M2030.7,1209.5h0M2042.0,1205.2h0M2115.7,1141.4h0M1999.4,1247.3h0M2125.0,1132.1h0M2031.8,1232.3h0M2051.7,1196.2h0M2019.1,1235.4h0M2125.1,1131.6h0M2091.6,1170.3h0M2046.7,1206.1h0M2036.5,1229.6h0M2011.2,1222.1h0M1984.8,1263.4h0M2077.7,1177.2h0M2022.8,1226.2h0M2048.0,1214.8h0M2044.8,1209.2h0M2105.8,1146.0h0M2051.3,1213.5h0M2019.1,1229.6h0M2007.8,1243.1h0M2117.8,1145.6h0M1990.2,1251.0h0M2033.7,1219.6h0M1975.7,1262.0h0M2069.0,1189.2h0M2119.1,1129.7h0M1966.1,1276.8h0M2139.8,1118.3h0M2008.1,1244.1h0M2015.6,1219.2h0M2060.1,1185.8h0M2024.0,1229.1h0M1984.3,1245.9h0M2044.4,1201.4h0M2071.3,1182.6h0M1988.1,1257.5h0M2105.3,1155.6h0M2046.2,1208.1h0M2030.0,1210.0h0M2007.2,1249.8h0M2127.9,1138.6h0M2080.5,1180.4h0M1990.3,1263.1h0M2109.0,1163.4h0M2020.1,1226.9h0M1992.3,1250.7h0M2146.8,1122.3h0M2014.4,1226.7h0M1977.2,1269.5h0M2052.9,1201.4h0M2060.2,1199.9h0M2078.3,1178.9h0M2122.3,1133.7h0M2030.0,1223.9h0M2111.7,1140.4h0M2000.5,1244.6h0M2053.2,1193.3h0M2091.0,1163.0h0M2031.5,1212.4h0M2139.8,1117.6h0M2153.4,1106.5h0M2086.6,1174.0h0M1998.6,1261.3h0M2024.6,1223.1h0M2057.3,1193.8h0M2024.7,1224.5h0M2055.7,1208.2h0M1992.0,1257.7h0M2056.9,1198.5h0M2065.3,1191.0h0M2067.7,1189.4h0M2070.3,1206.0h0M2111.2,1150.8h0M2141.3,1131.8h0M2130.9,1139.2h0M2068.3,1184.8h0M2031.0,1232.8h0M2029.1,1226.3h0M2068.4,1189.9h0M2043.6,1217.3h0M2018.1,1232.5h0M2073.2,1189.9h0M2027.3,1223.6h0M1998.2,1244.1h0M2078.6,1184.3h0M1970.4,1269.8h0M2145.4,1116.6h0M2024.6,1231.7h0M2063.5,1194.1h0M2009.3,1240.9h0M2071.5,1174.2h0M2026.6,1220.8h0M2126.9,1141.7h0M2069.5,1189.5h0M2002.7,1243.5h0M2110.4,1138.8h0M2114.6,1134.3h0M2014.2,1236.6h0M2009.0,1243.6h0M2000.7,1247.9h0M1986.1,1260.7h0M2130.4,1121.0h0M1978.5,1272.4h0M2005.0,1240.6h0M2024.2,1231.8h0M2049.6,1199.3h0M1990.9,1268.4h0M2043.9,1206.4h0M2032.4,1221.2h0M2083.3,1178.8h0M2057.5,1191.8h0M2032.3,1229.1h0M2002.1,1242.4h0M2105.1,1144.6h0M2005.7,1239.9h0M2041.9,1213.7h0M1996.5,1261.0h0M2024.3,1230.0h0M2081.2,1184.1h0M1983.4,1260.4h0M2139.6,1111.8h0M2109.1,1159.5h0M1993.2,1257.5h0M2041.1,1223.5h0M2097.4,1158.1h0M1978.3,1267.9h0M2018.0,1227.8h0M1999.0,1247.5h0M2054.4,1211.6h0M1992.0,1258.6h0M2055.9,1200.2h0M2063.7,1188.3h0M2058.6,1194.6h0M2016.2,1230.4h0M2121.9,1129.7h0M2025.9,1234.7h0M1990.8,1244.9h0M2029.6,1208.8h0M2007.0,1248.2h0M2004.5,1242.5h0M1977.6,1274.5h0M2105.3,1154.6h0M1992.2,1255.7h0M2020.0,1224.5h0M2093.3,1150.1h0M2000.4,1282.2h0M2044.5,1212.6h0M2110.4,1130.5h0M2060.5,1201.4h0M2007.3,1242.5h0M2011.9,1238.4h0M2019.2,1226.2h0M2111.7,1148.2h0M2071.7,1178.3h0M2030.9,1224.3h0M2134.3,1134.4h0M2088.0,1174.9h0M2126.5,1123.1h0M2060.9,1198.5h0M2035.0,1219.7h0M1994.2,1257.7h0M2061.5,1178.7h0M2114.3,1134.1h0M2138.9,1123.3h0M2036.6,1212.3h0M2102.9,1170.2h0M2136.8,1124.7h0M2052.0,1206.2h0M1969.5,1268.2h0M2006.4,1249.5h0M2033.1,1221.8h0M2029.2,1221.9h0M2044.3,1207.7h0M2125.4,1128.4h0M2039.5,1212.0h0M2057.9,1197.5h0M2062.2,1192.9h0M2048.9,1197.2h0M1997.5,1252.3h0M2011.9,1239.2h0M2021.4,1221.2h0M2017.0,1241.5h0M2028.4,1229.3h0M2034.1,1213.6h0M1985.4,1270.1h0M2080.7,1181.0h0M1990.2,1243.0h0M2078.9,1171.0h0M2073.0,1186.3h0M2070.4,1176.3h0M2055.0,1192.5h0M2076.5,1178.9h0M2058.3,1191.9h0M2037.5,1208.6h0M1987.5,1259.4h0M2126.1,1120.4h0M2061.7,1207.0h0M2115.3,1140.0h0M2101.3,1154.1h0M2011.1,1239.4h0M2032.2,1214.5h0M1979.0,1275.0h0M1983.7,1258.4h0M2046.7,1211.4h0M2048.6,1218.1h0M2147.3,1117.6h0M2035.0,1222.1h0M2008.7,1255.8h0M2086.8,1173.2h0M2068.5,1196.2h0M2019.4,1229.2h0M2003.2,1241.6h0M2066.1,1191.4h0M2081.7,1174.7h0M2023.9,1232.2h0M1972.4,1271.1h0M2056.9,1189.2h0M2017.7,1228.5h0M2040.7,1204.6h0M2006.3,1238.0h0M2027.3,1227.7h0M2001.3,1240.4h0M2029.8,1214.7h0M2109.2,1149.8h0M2100.6,1164.5h0M1975.5,1264.4h0M2052.4,1203.4h0M2052.5,1205.2h0M2064.4,1203.7h0M2053.7,1205.1h0M1998.8,1259.4h0M2047.2,1210.8h0M2138.1,1128.3h0M2130.3,1124.4h0M2034.9,1217.4h0M1982.1,1257.4h0M2030.3,1219.6h0M2090.6,1175.6h0M2046.8,1196.8h0M1985.4,1266.9h0M2147.0,1112.1h0M2144.5,1113.7h0M2010.4,1240.4h0M2072.8,1175.1h0M2096.9,1154.5h0M1983.9,1258.1h0M1999.8,1246.2h0M2062.7,1191.5h0M2053.2,1191.8h0M2092.5,1157.0h0M2009.5,1253.1h0M2053.6,1189.1h0M2008.4,1250.8h0M2058.7,1198.7h0M2036.1,1215.6h0M2074.9,1174.0h0M2106.1,1144.7h0M2006.0,1253.6h0M2035.4,1220.5h0M2033.4,1203.0h0M1961.2,1286.1h0M2085.6,1144.6h0M1983.9,1264.3h0M2065.6,1193.4h0M2099.5,1171.3h0M2025.8,1220.5h0M2077.5,1171.6h0M2100.6,1174.2h0M2054.4,1204.7h0M2037.4,1209.2h0M2073.3,1192.4h0M2017.9,1229.2h0M2009.0,1246.3h0M2047.8,1208.5h0M1999.7,1247.2h0M2019.3,1231.0h0M1985.7,1268.4h0M1975.9,1280.9h0M2021.5,1222.5h0M2092.7,1156.5h0M2029.0,1215.2h0M2070.1,1193.8h0M2026.8,1189.8h0M2090.1,1168.3h0M2019.9,1234.7h0M2022.4,1226.3h0M2086.7,1166.8h0M2082.2,1182.0h0M2062.8,1196.9h0M2091.2,1169.6h0M2057.6,1201.9h0M2087.9,1180.0h0M1988.7,1262.4h0M1997.1,1248.6h0M2112.4,1154.3h0M2003.4,1247.4h0M2071.6,1183.3h0M2015.7,1234.6h0M2100.9,1158.6h0M2035.6,1215.9h0M2063.6,1185.3h0M1986.6,1259.0h0M2107.1,1142.2h0M2120.0,1132.0h0M1985.3,1252.9h0M2000.6,1248.7h0M2047.5,1203.3h0M2127.4,1113.8h0M2026.6,1221.7h0M2135.4,1127.7h0M2045.6,1202.7h0M2087.8,1176.8h0M2060.6,1203.0h0M2107.0,1194.4h0M2140.3,1128.4h0M2082.4,1185.4h0M2132.2,1133.6h0M2077.9,1170.7h0M2019.2,1226.9h0M2040.3,1206.6h0M2077.0,1194.4h0M2105.2,1143.4h0M2061.7,1185.4h0M1984.0,1254.8h0M2021.7,1221.9h0M2003.6,1246.2h0M1989.7,1258.5h0M2122.6,1130.6h0M2114.3,1146.9h0M2012.9,1221.3h0M2005.0,1230.9h0M2006.4,1233.4h0M2033.5,1215.6h0M2100.3,1165.3h0M2050.4,1197.4h0M1965.5,1282.3h0M2018.3,1236.0h0M2141.7,1125.8h0M2071.0,1194.0h0M2037.8,1236.9h0M2067.3,1183.2h0M2042.3,1213.9h0M2134.8,1148.6h0M2034.9,1227.8h0M2096.0,1161.2h0M2077.5,1193.5h0M2100.4,1156.7h0M2124.8,1128.5h0M1991.6,1257.5h0M2121.7,1134.9h0M2119.0,1149.8h0M2034.7,1222.2h0M2054.9,1210.1h0M2007.5,1239.7h0M2004.6,1251.3h0M2058.4,1203.9h0M2053.3,1193.4h0M2090.4,1156.0h0M2010.6,1236.2h0M2010.7,1230.7h0M1995.0,1230.7h0M2067.6,1182.4h0M2079.6,1168.3h0M2102.5,1155.7h0M2026.3,1233.3h0M2002.0,1239.2h0M2041.3,1210.5h0M2038.1,1211.1h0M2047.5,1208.7h0M1985.7,1263.6h0M2004.1,1248.1h0M2000.4,1277.0h0M2100.4,1142.2h0M2000.3,1232.3h0M2053.5,1198.9h0M2140.3,1123.5h0M2047.1,1192.3h0M2078.1,1180.2h0M1992.7,1255.9h0M2086.3,1181.2h0M2091.1,1154.4h0M2055.8,1197.1h0M2005.6,1239.3h0M2046.0,1210.3h0M2055.4,1193.1h0M2093.7,1175.8h0M2017.4,1239.7h0M1976.8,1270.7h0M2064.9,1190.0h0M2078.1,1164.1h0M2107.6,1133.7h0M2021.9,1230.8h0M2145.7,1122.9h0M2036.7,1216.5h0M2001.3,1247.1h0M2005.4,1240.5h0M2036.4,1211.2h0M2079.1,1173.4h0M2048.6,1226.3h0M1986.0,1272.1h0M2144.4,1112.6h0M2135.7,1128.6h0M2080.3,1172.9h0M2033.9,1228.6h0M2004.9,1247.4h0M1998.4,1242.3h0M1992.4,1250.2h0M2034.5,1223.8h0M2038.7,1203.7h0M2025.5,1223.5h0M2037.2,1212.0h0M2066.2,1200.5h0M2078.0,1174.7h0M2076.9,1169.3h0M2006.8,1234.3h0M2094.0,1162.5h0M2011.9,1222.5h0M2022.0,1229.0h0M2018.9,1233.1h0M2124.7,1146.0h0M2073.7,1181.3h0M2031.5,1222.6h0M2084.2,1162.7h0M2083.3,1183.0h0M2135.1,1142.7h0M2040.3,1208.1h0M2144.5,1128.9h0M2015.1,1233.4h0M1989.8,1262.6h0M2074.3,1183.7h0M2042.1,1208.9h0M2130.2,1120.7h0M2009.5,1249.4h0M2137.8,1134.4h0M2082.3,1172.9h0M2017.8,1227.0h0M2009.2,1252.1h0M2040.6,1206.8h0M2027.9,1229.8h0M1995.3,1248.9h0M2106.0,1136.3h0M2048.1,1202.2h0M2018.7,1230.6h0M2049.0,1217.3h0M2015.0,1237.4h0M2021.6,1233.0h0M2074.4,1174.5h0M1990.4,1255.2h0M2059.5,1187.6h0M2011.0,1236.3h0M2011.0,1232.1h0M1998.4,1255.9h0M2004.3,1244.7h0M2009.5,1229.1h0M2136.1,1124.5h0M2012.2,1245.1h0M2026.9,1215.4h0M2125.6,1129.3h0M2015.4,1227.7h0M2027.3,1240.9h0M1988.3,1250.5h0M2027.1,1216.7h0M2097.2,1155.1h0M2155.9,1091.7h0M2031.5,1236.4h0M1981.0,1257.0h0M2027.3,1224.0h0M2001.9,1251.2h0M2053.1,1214.5h0M2082.5,1186.1h0M2076.8,1178.4h0M1998.7,1244.7h0M2036.1,1199.8h0M2008.3,1244.7h0M2071.8,1182.6h0M2055.7,1197.9h0M1984.8,1257.9h0M2013.3,1238.9h0M2092.1,1167.9h0M2098.5,1153.3h0M2002.1,1252.7h0M2030.2,1220.0h0M2140.7,1109.3h0M2092.3,1172.9h0M2007.9,1237.8h0M2002.1,1236.9h0M2072.9,1172.9h0M2045.1,1196.7h0M2070.7,1191.9h0M2052.9,1187.6h0M2079.9,1184.0h0M1982.2,1260.0h0M1968.1,1291.4h0M1976.5,1269.1h0M2012.2,1240.1h0M2027.6,1234.6h0M2080.0,1176.4h0M2038.5,1224.8h0M2011.6,1234.3h0M2126.1,1121.0h0M2066.9,1186.6h0M2087.7,1166.8h0M2028.4,1210.4h0M2055.1,1200.2h0M2126.6,1131.7h0M2081.8,1177.1h0M2125.4,1142.1h0M1995.3,1258.6h0M1986.8,1257.6h0M1984.2,1266.6h0M2047.7,1206.1h0M2092.9,1174.3h0M2019.9,1233.4h0M2040.8,1219.8h0M2018.1,1231.7h0M2019.4,1234.7h0M2090.8,1165.9h0M1985.6,1263.3h0M2017.5,1232.7h0M2107.8,1154.9h0M2013.7,1244.9h0M2055.0,1205.2h0M2134.7,1121.2h0M2021.5,1223.8h0M1997.0,1258.8h0M2036.9,1197.6h0M2040.9,1212.8h0M2059.3,1204.9h0M2057.1,1190.5h0M1989.4,1261.1h0M2068.0,1185.1h0M2097.9,1155.6h0M2034.9,1204.9h0M2027.1,1224.1h0M2025.1,1225.8h0M2032.8,1224.7h0M2018.8,1235.4h0M2103.7,1137.9h0M2081.0,1180.5h0M2097.8,1165.7h0M2042.5,1214.5h0M2133.1,1095.4h0M2130.0,1127.5h0M2120.7,1143.7h0M2130.8,1133.4h0M2093.2,1153.9h0M2038.6,1211.9h0M2067.0,1188.0h0M2024.3,1230.7h0M2041.4,1207.1h0M1995.2,1254.3h0M2055.0,1190.6h0M2100.6,1154.7h0M1979.6,1253.1h0M2091.4,1168.0h0M2113.6,1136.4h0M2016.3,1232.2h0M1998.5,1246.0h0M2030.9,1222.6h0M2141.5,1118.5h0M2145.8,1112.2h0M2031.8,1215.7h0M2019.3,1233.7h0M2119.4,1137.5h0M2029.2,1232.3h0M2079.8,1179.0h0M2016.0,1236.1h0M2012.4,1240.3h0M2067.7,1178.0h0M1994.5,1262.5h0M1979.1,1270.7h0M1985.9,1255.0h0M2015.0,1227.7h0M2103.4,1158.7h0M2023.4,1236.0h0M2139.0,1110.8h0M2009.4,1249.5h0M2028.2,1219.0h0M2103.6,1162.7h0M2051.1,1200.0h0M2049.8,1208.5h0M1983.1,1263.5h0M2055.1,1196.5h0M2049.5,1197.4h0M2097.6,1167.6h0M2034.4,1208.2h0M2034.7,1198.9h0M2114.7,1144.5h0M1994.0,1257.5h0M2107.6,1158.1h0M1988.4,1256.2h0M2013.4,1227.6h0M1995.8,1250.2h0M2076.3,1216.8h0M2044.6,1223.8h0M2135.8,1134.1h0M2059.6,1187.7h0M2032.7,1205.0h0M1967.4,1281.0h0M2010.1,1236.8h0M2146.3,1118.2h0M2023.6,1225.6h0M2017.8,1234.8h0M2077.5,1186.1h0M2135.3,1111.9h0M2078.9,1174.5h0M2074.2,1182.5h0M2053.1,1206.6h0M2016.9,1229.2h0M1967.1,1271.1h0M2058.4,1199.8h0M2002.6,1242.9h0M2020.6,1226.0h0M2011.5,1238.0h0M2021.6,1223.5h0M2052.7,1216.0h0M2070.8,1178.0h0M2033.5,1217.8h0M2011.7,1234.3h0M2080.9,1176.7h0M2036.2,1220.1h0M2023.0,1213.6h0M2009.0,1238.4h0M2038.0,1216.0h0M2035.5,1220.8h0M2110.0,1152.5h0M2056.3,1189.2h0M1997.8,1252.7h0M2136.7,1129.8h0M2018.9,1227.6h0M2049.8,1212.6h0M2081.3,1171.5h0M1981.2,1257.1h0M2048.3,1207.8h0M2030.5,1224.2h0M2083.8,1153.6h0M2049.0,1205.5h0M2075.4,1186.1h0M2101.1,1157.9h0M2042.3,1203.3h0M2115.2,1140.2h0M2003.5,1237.3h0M2107.3,1150.7h0M2035.0,1212.1h0M1972.7,1280.9h0M1997.8,1254.7h0M2075.6,1176.9h0M2009.5,1237.0h0M2151.9,1130.2h0M2061.5,1185.3h0M2026.2,1201.6h0M2072.9,1177.4h0M2062.4,1199.8h0M2086.7,1164.0h0M2130.1,1124.4h0M2139.8,1121.5h0M2101.9,1156.9h0M1995.4,1255.6h0M2011.2,1240.1h0M2138.8,1114.9h0M2096.1,1168.0h0M1975.0,1255.2h0M2070.2,1169.3h0M2116.8,1149.2h0M2033.1,1224.9h0M1990.3,1255.7h0M2060.0,1207.7h0M2141.1,1121.9h0M2024.7,1235.4h0M2081.5,1189.1h0M2035.9,1205.8h0M2062.1,1194.4h0M2039.1,1217.7h0M2016.2,1240.2h0M2080.0,1194.2h0M2082.1,1165.6h0M2037.7,1211.5h0M2009.3,1233.7h0M2045.2,1213.6h0M2137.1,1121.7h0M2068.8,1186.5h0M2037.9,1207.4h0M2034.9,1216.0h0M2040.7,1220.6h0M2030.5,1228.1h0M2158.2,1108.4h0M1955.8,1288.8h0M2038.3,1207.3h0M2114.5,1148.7h0M2109.0,1151.2h0M2019.1,1223.1h0M1960.8,1281.6h0M1974.4,1254.7h0M2004.0,1237.9h0M2054.9,1185.7h0M2025.5,1228.3h0M2013.0,1229.6h0M2058.5,1180.1h0M2120.5,1134.5h0M2025.3,1233.4h0M2108.3,1145.8h0M2083.2,1168.8h0M1974.1,1267.0h0M2130.4,1130.6h0M2104.1,1155.2h0M2132.5,1129.2h0M2021.5,1227.4h0M1995.2,1244.6h0M2001.3,1246.9h0M2059.3,1198.3h0M2010.1,1240.9h0M2094.2,1161.2h0M1999.0,1264.3h0M2149.8,1111.1h0M2038.3,1227.3h0M2059.9,1184.4h0M2064.0,1200.6h0M2041.5,1214.3h0M1983.9,1264.9h0M2021.1,1231.7h0M2064.4,1194.2h0M2033.9,1221.8h0M2117.8,1132.7h0M2061.1,1197.7h0M2045.1,1218.5h0M2087.9,1164.1h0M2019.8,1230.0h0M1989.2,1250.7h0M2050.2,1205.9h0M2123.2,1128.6h0M1959.1,1284.9h0M2066.6,1176.6h0M2132.9,1116.2h0M2033.0,1215.2h0M2072.3,1185.1h0M2052.4,1187.7h0M1995.0,1256.9h0M2005.6,1246.2h0M2133.9,1124.3h0M1975.0,1276.9h0M1978.5,1263.9h0M2047.4,1205.1h0M2034.9,1220.3h0M2058.7,1188.4h0M2147.0,1117.7h0M2036.4,1208.8h0M2133.0,1121.1h0M1977.4,1262.8h0M2030.4,1224.5h0M2086.8,1172.4h0M2075.0,1171.3h0M2033.7,1240.0h0M2076.3,1171.6h0M2068.1,1185.8h0M2024.8,1218.1h0M2021.4,1234.5h0M2095.6,1158.5h0M2067.3,1191.0h0M2073.3,1177.9h0M2039.8,1206.4h0M2015.7,1214.0h0M2006.9,1230.2h0M2058.6,1202.9h0M2034.8,1220.9h0M2093.3,1142.1h0M2136.5,1123.3h0M2038.4,1221.1h0M2036.8,1216.5h0M2063.8,1171.7h0M1998.9,1221.7h0M1979.8,1281.7h0M2040.5,1220.0h0M2117.4,1127.8h0M1975.2,1267.7h0M2029.7,1226.5h0M2025.3,1216.3h0M2059.7,1199.6h0M2025.3,1242.4h0M2009.5,1238.2h0M2022.9,1213.4h0M2099.7,1148.1h0M1983.5,1254.6h0M2044.7,1222.1h0M2045.7,1217.1h0M2031.0,1218.6h0M2156.2,1123.3h0M2114.3,1148.8h0M2065.2,1191.8h0M2054.4,1192.0h0M2025.6,1233.4h0M1997.2,1254.2h0M1997.9,1259.2h0M2018.7,1232.3h0M2039.2,1205.1h0M2030.7,1215.1h0M1989.2,1248.4h0M2056.0,1185.3h0M1981.5,1267.1h0M2029.8,1217.9h0M2163.0,1108.2h0M2090.2,1155.7h0M1994.9,1250.7h0M2078.7,1173.3h0M2074.9,1177.1h0M2010.0,1242.7h0M2032.4,1216.8h0M2068.9,1168.4h0M1993.2,1264.5h0M1997.8,1251.8h0M1999.3,1241.1h0M2005.1,1254.4h0M2016.9,1237.9h0M2088.6,1165.8h0M2007.3,1266.6h0M2086.1,1171.5h0M1979.9,1262.6h0M2099.7,1146.0h0M2049.6,1199.4h0M2032.2,1219.5h0M2136.9,1121.7h0M2042.1,1200.7h0M2065.7,1180.4h0M2013.2,1234.9h0M2071.8,1186.7h0M2122.2,1139.4h0M2008.2,1250.4h0M2033.2,1211.4h0M2079.4,1184.6h0M2038.7,1207.1h0M2074.9,1179.9h0M2124.9,1132.3h0M2099.2,1149.5h0M2025.2,1232.0h0M2043.3,1213.6h0M2090.5,1157.2h0M2004.1,1238.5h0M2073.7,1188.4h0M2110.2,1146.0h0M2144.3,1121.0h0M2036.7,1225.8h0M2120.9,1134.1h0M2033.6,1224.8h0M1994.7,1253.6h0M2085.1,1172.1h0M2053.9,1184.8h0M2007.0,1238.3h0M2052.2,1211.6h0M1994.7,1252.3h0M2057.3,1200.8h0M2054.4,1203.9h0M2037.9,1223.4h0M1977.8,1273.3h0M2138.5,1147.2h0M1992.6,1250.2h0M2008.2,1234.6h0M2044.5,1213.9h0M2072.8,1182.9h0M2052.1,1193.7h0M1991.2,1257.0h0M2004.5,1248.7h0M2064.6,1185.9h0M2079.8,1194.2h0M2126.7,1142.3h0M2051.3,1212.4h0M2003.3,1246.7h0M2139.2,1130.7h0M1979.5,1255.3h0M2024.3,1219.1h0M1983.0,1256.3h0M2050.4,1207.4h0M2072.7,1184.3h0M2102.1,1152.4h0M2023.5,1236.2h0M2004.2,1238.7h0M2021.8,1228.0h0M2041.4,1207.8h0M2026.1,1217.6h0M2136.7,1137.0h0M1994.2,1261.4h0M1982.9,1258.7h0M2072.0,1185.5h0M1978.5,1270.4h0M2067.0,1191.4h0M2065.7,1191.9h0M2000.0,1244.1h0M2097.3,1173.4h0M2129.5,1127.1h0M2040.6,1215.2h0M2071.2,1173.1h0M2024.2,1222.1h0M2015.1,1232.9h0M1987.5,1267.7h0M2025.0,1233.1h0M2060.8,1201.2h0M2053.2,1195.1h0M2048.8,1202.1h0M1998.2,1242.6h0M1991.8,1262.5h0M2005.1,1244.3h0M2023.8,1221.8h0M2009.2,1232.2h0M2034.5,1215.0h0M2063.2,1177.7h0M2040.4,1209.5h0M2136.4,1127.2h0M2035.2,1228.0h0M2023.8,1229.5h0M2064.0,1193.2h0M2000.8,1254.0h0M2086.3,1162.4h0M1999.8,1247.9h0M1965.2,1278.8h0M2109.6,1188.3h0M2100.9,1163.3h0M2071.5,1185.8h0M1994.8,1250.7h0M1962.8,1294.2h0M2042.9,1216.9h0M2011.1,1219.4h0M2067.5,1191.8h0M2077.7,1165.6h0M2007.0,1237.2h0M2019.7,1222.5h0M2004.0,1251.0h0M1981.3,1259.1h0M2072.5,1179.1h0M2088.1,1164.3h0M1980.7,1257.6h0M2018.7,1232.7h0M2085.8,1174.3h0M2058.0,1204.0h0M2145.2,1108.0h0M2000.5,1245.3h0M2011.7,1229.6h0M2069.3,1180.5h0M2124.5,1140.3h0M2041.5,1209.7h0M2065.4,1182.6h0M2101.3,1149.0h0M2028.6,1217.3h0M2075.2,1183.1h0M2024.9,1234.2h0M2033.0,1255.6h0M2037.6,1228.3h0M2049.3,1201.7h0M2036.0,1211.8h0M1986.4,1270.9h0M2129.5,1135.4h0M2070.6,1179.7h0M2057.2,1198.2h0M2134.0,1133.0h0M2073.4,1190.0h0M2043.7,1210.6h0M2053.6,1199.7h0M2017.6,1224.6h0M2094.2,1166.8h0M2067.4,1183.0h0M2058.8,1192.0h0M2118.9,1128.3h0M2057.3,1172.3h0M2025.5,1226.6h0M2014.8,1233.6h0M2040.6,1217.0h0M2121.5,1134.2h0M2024.2,1236.6h0M1984.7,1268.3h0M2140.9,1155.3h0M2005.0,1236.7h0M2130.3,1123.5h0M1986.3,1261.2h0M2009.9,1233.8h0M2006.6,1255.0h0M2028.9,1220.1h0M1997.0,1251.4h0M1958.8,1283.0h0M2020.6,1220.6h0M2126.5,1122.8h0M2012.6,1227.3h0M1992.6,1241.4h0M2035.8,1214.3h0M2071.2,1176.5h0M2036.8,1224.9h0M2025.0,1235.5h0M2113.4,1155.3h0M2095.4,1155.7h0M2125.5,1117.6h0M2047.8,1197.8h0M2027.4,1228.9h0M2044.4,1211.6h0M2094.3,1153.3h0M2108.9,1146.2h0M2129.1,1120.9h0M1994.3,1242.3h0M2096.4,1158.6h0M2048.2,1202.6h0M2002.8,1265.6h0M2028.8,1234.3h0M2002.8,1255.4h0M2028.5,1218.4h0M2027.6,1219.0h0M1974.3,1272.0h0" stroke="#f4511e" stroke-width="3.8" stroke-linecap="round" fill="none"/>
<g clip-path="url(#cp2)"><line x1="1881.4" y1="1341.3" x2="2236.6" y2="1014.0" stroke="#3243a8" stroke-width="2.4" stroke-dasharray="8.5 6.5"/><line x1="1881.4" y1="1376.1" x2="2236.6" y2="1048.8" stroke="#3243a8" stroke-width="2.4" stroke-dasharray="8.5 6.5"/></g>
<line x1="1881.4" y1="1358.7" x2="2236.6" y2="1031.4" stroke="#e0352b" stroke-width="2.6"/>
<rect x="1881.4" y="1031.4" width="355.2" height="327.3" fill="none" stroke="#666" stroke-width="1.8"/>
<text x="1875.4" y="1365.0" font-size="18.8" font-weight="bold" text-anchor="end" fill="#222" >0</text>
<text x="1881.4" y="1383.2" font-size="18.8" font-weight="bold" text-anchor="middle" fill="#222" >0</text>
<text x="1875.4" y="1324.1" font-size="18.8" font-weight="bold" text-anchor="end" fill="#222" >2</text>
<text x="1925.8" y="1383.2" font-size="18.8" font-weight="bold" text-anchor="middle" fill="#222" >2</text>
<text x="1875.4" y="1283.2" font-size="18.8" font-weight="bold" text-anchor="end" fill="#222" >4</text>
<text x="1970.2" y="1383.2" font-size="18.8" font-weight="bold" text-anchor="middle" fill="#222" >4</text>
<text x="1875.4" y="1242.3" font-size="18.8" font-weight="bold" text-anchor="end" fill="#222" >6</text>
<text x="2014.6" y="1383.2" font-size="18.8" font-weight="bold" text-anchor="middle" fill="#222" >6</text>
<text x="1875.4" y="1201.4" font-size="18.8" font-weight="bold" text-anchor="end" fill="#222" >8</text>
<text x="2059.0" y="1383.2" font-size="18.8" font-weight="bold" text-anchor="middle" fill="#222" >8</text>
<text x="1875.4" y="1160.4" font-size="18.8" font-weight="bold" text-anchor="end" fill="#222" >10</text>
<text x="2103.4" y="1383.2" font-size="18.8" font-weight="bold" text-anchor="middle" fill="#222" >10</text>
<text x="1875.4" y="1119.5" font-size="18.8" font-weight="bold" text-anchor="end" fill="#222" >12</text>
<text x="2147.8" y="1383.2" font-size="18.8" font-weight="bold" text-anchor="middle" fill="#222" >12</text>
<text x="1875.4" y="1078.6" font-size="18.8" font-weight="bold" text-anchor="end" fill="#222" >14</text>
<text x="2192.2" y="1383.2" font-size="18.8" font-weight="bold" text-anchor="middle" fill="#222" >14</text>
<text x="1875.4" y="1037.7" font-size="18.8" font-weight="bold" text-anchor="end" fill="#222" >16</text>
<text x="2236.6" y="1383.2" font-size="18.8" font-weight="bold" text-anchor="middle" fill="#222" >16</text>
<text x="2059.0" y="1025.0" font-size="21.2" font-weight="bold" text-anchor="middle" fill="#222" >R-square: 0.9456</text>
<text x="2059.0" y="1408.0" font-size="21.2" font-weight="bold" text-anchor="middle" fill="#222" >PSO-LSSVM</text>
<text x="0" y="0" transform="translate(1848.0,1195.1) rotate(-90)" font-size="20.8" font-weight="bold" text-anchor="middle" fill="#222" >Actual Data</text>
<circle cx="1923.7" cy="1053.9" r="2.4" fill="#f4511e"/>
<line x1="1901.7" y1="1078.5" x2="1943.7" y2="1078.5" stroke="#e0352b" stroke-width="2.6"/>
<line x1="1901.7" y1="1098" x2="1943.7" y2="1098" stroke="#3a4fbf" stroke-width="2.2" stroke-dasharray="8 6"/>
<text x="1949.5" y="1058.9" font-size="16.4" font-weight="bold" text-anchor="start" fill="#222" >Actual Data vs. PSO-LSSVM</text>
<text x="1949.5" y="1083.5" font-size="16.4" font-weight="bold" text-anchor="start" fill="#222" >Actual Data</text>
<text x="1949.5" y="1103.0" font-size="16.4" font-weight="bold" text-anchor="start" fill="#222" >Pred bnds (95%)</text>
<rect x="1872.3" y="1453.7" width="370.3" height="342.4" fill="#fff"/>
<path d="M1918.6,1453.7V1796.1M1872.3,1753.3H2242.6M1964.9,1453.7V1796.1M1872.3,1710.5H2242.6M2011.2,1453.7V1796.1M1872.3,1667.7H2242.6M2057.4,1453.7V1796.1M1872.3,1624.9H2242.6M2103.7,1453.7V1796.1M1872.3,1582.1H2242.6M2150.0,1453.7V1796.1M1872.3,1539.3H2242.6M2196.3,1453.7V1796.1M1872.3,1496.5H2242.6" stroke="#c6c6c6" stroke-width="1.8"/>
<clipPath id="cp3"><rect x="1872.3" y="1453.7" width="370.3" height="342.4"/></clipPath>
<path d="M2015.4,1657.1h0M2002.5,1685.0h0M2042.0,1644.2h0M2029.4,1650.8h0M2086.7,1595.6h0M2059.0,1630.2h0M2127.0,1558.5h0M1979.7,1697.0h0M2021.6,1647.2h0M2107.5,1566.9h0M2027.9,1656.6h0M1993.2,1688.8h0M2000.5,1671.5h0M2109.5,1587.9h0M2057.6,1626.5h0M2032.8,1647.0h0M2092.4,1582.4h0M2066.4,1616.4h0M2044.2,1642.1h0M2082.1,1592.2h0M2035.5,1640.4h0M2021.6,1669.9h0M1987.1,1682.4h0M2076.2,1598.8h0M2086.1,1597.7h0M2054.3,1632.7h0M2099.5,1577.7h0M2058.1,1571.9h0M2101.8,1598.5h0M2094.3,1592.1h0M2142.9,1532.2h0M2071.8,1602.8h0M2059.0,1627.1h0M2015.3,1667.8h0M2134.3,1555.9h0M2030.5,1641.2h0M2038.4,1629.0h0M2055.0,1629.3h0M2065.3,1614.6h0M2076.7,1607.1h0M2001.1,1677.6h0M2077.5,1603.7h0M2016.9,1663.3h0M2024.3,1652.7h0M2029.8,1657.4h0M2037.3,1678.3h0M2064.0,1627.5h0M1992.5,1689.1h0M2032.8,1662.6h0M2082.8,1584.3h0M1999.5,1693.2h0M2049.0,1642.8h0M2085.5,1617.7h0M2013.0,1665.5h0M2157.4,1539.3h0M2045.4,1636.2h0M2001.7,1672.1h0M1973.2,1685.8h0M2006.8,1667.0h0M2046.6,1628.3h0M2027.5,1649.9h0M2007.6,1678.7h0M1999.4,1675.3h0M2066.3,1617.6h0M2068.2,1614.4h0M1964.7,1709.3h0M1997.3,1679.0h0M2072.0,1588.8h0M2054.6,1628.7h0M2071.2,1609.6h0M2094.6,1601.6h0M2040.0,1635.2h0M2056.6,1621.8h0M2060.1,1614.2h0M2011.1,1665.4h0M2039.1,1651.1h0M1994.8,1688.1h0M1985.5,1689.7h0M1992.4,1684.7h0M2022.2,1650.5h0M2177.4,1538.0h0M2045.6,1641.7h0M2058.3,1623.8h0M1991.7,1692.2h0M2005.2,1673.3h0M1986.5,1689.4h0M2043.9,1640.8h0M1997.5,1676.1h0M2032.6,1646.6h0M2024.4,1662.2h0M2067.6,1629.7h0M2028.3,1661.3h0M2035.8,1638.3h0M2036.8,1643.4h0M2118.5,1594.5h0M2059.3,1625.8h0M2022.4,1661.3h0M2033.9,1647.8h0M2076.2,1607.7h0M2076.3,1606.5h0M2002.7,1673.3h0M2008.6,1670.3h0M2129.7,1563.9h0M2081.7,1600.1h0M2035.6,1656.8h0M2007.6,1676.5h0M2070.0,1613.7h0M2015.4,1630.7h0M2033.9,1639.3h0M1987.7,1681.5h0M2038.7,1652.4h0M2011.0,1656.2h0M2002.3,1681.7h0M2110.7,1570.5h0M2022.3,1652.2h0M2104.9,1598.7h0M2015.9,1662.8h0M1962.3,1708.3h0M2014.7,1665.6h0M2131.8,1569.8h0M1996.9,1674.3h0M2071.3,1612.8h0M2039.2,1628.1h0M2052.6,1630.7h0M2019.5,1664.2h0M2025.3,1646.4h0M2079.0,1609.4h0M2045.6,1636.4h0M2074.6,1618.5h0M2050.0,1640.9h0M2133.6,1567.2h0M2062.8,1616.0h0M2038.8,1635.6h0M2063.2,1621.3h0M2025.4,1662.4h0M2046.6,1639.2h0M1974.5,1699.0h0M2003.6,1671.4h0M2131.6,1557.5h0M2135.6,1554.7h0M2041.3,1642.6h0M1987.2,1677.3h0M1982.1,1698.6h0M2118.3,1537.2h0M1955.9,1714.1h0M1995.8,1683.5h0M2092.2,1601.4h0M2013.7,1661.4h0M2049.1,1625.9h0M2035.4,1654.4h0M2084.1,1590.9h0M2004.9,1678.6h0M2078.9,1577.5h0M2036.8,1656.6h0M2008.4,1665.8h0M2083.8,1601.3h0M2145.6,1534.1h0M1992.1,1681.3h0M2120.8,1554.9h0M1973.5,1694.6h0M1989.3,1671.3h0M1989.3,1694.5h0M2047.9,1631.9h0M2055.7,1621.2h0M1963.3,1718.4h0M2049.3,1626.0h0M2116.8,1566.3h0M2047.8,1635.0h0M2032.3,1647.5h0M2124.8,1563.6h0M2045.1,1622.4h0M2004.3,1671.9h0M1975.0,1708.5h0M2017.3,1652.4h0M1975.3,1704.6h0M2106.9,1586.9h0M2073.9,1614.9h0M2042.6,1600.0h0M1978.9,1692.5h0M2060.2,1624.7h0M2021.9,1658.3h0M2115.0,1588.4h0M1977.9,1687.8h0M1998.0,1690.9h0M2042.8,1637.8h0M2007.5,1673.1h0M2068.4,1615.9h0M2167.0,1535.6h0M2069.1,1614.6h0M2080.1,1595.1h0M2088.1,1602.1h0M1987.7,1691.3h0M1974.5,1693.1h0M2020.6,1650.7h0M2070.1,1609.3h0M2032.5,1645.7h0M2091.7,1601.0h0M2154.7,1546.5h0M2047.4,1634.4h0M2014.9,1666.2h0M2047.7,1625.2h0M2004.6,1674.7h0M2144.7,1543.1h0M1994.7,1691.6h0M2039.4,1646.5h0M2033.0,1656.8h0M1977.2,1698.5h0M2080.9,1610.2h0M2066.9,1612.8h0M2047.3,1649.0h0M2078.8,1600.7h0M2052.3,1635.6h0M2074.3,1607.2h0M2137.6,1554.6h0M2149.7,1538.8h0M2017.2,1652.4h0M2142.0,1538.8h0M2119.1,1559.1h0M2042.6,1639.6h0M2058.3,1620.8h0M2073.7,1600.0h0M2048.5,1637.7h0M2099.7,1594.4h0M2077.1,1625.4h0M2017.6,1673.3h0M2144.9,1537.5h0M2061.6,1618.7h0M2127.4,1563.3h0M1994.0,1683.3h0M2019.4,1664.5h0M1952.8,1721.2h0M2006.2,1681.6h0M2114.8,1572.5h0M2060.0,1624.8h0M2057.8,1639.9h0M2148.3,1544.3h0M2017.3,1661.2h0M2142.0,1552.6h0M2026.9,1654.9h0M2045.8,1636.8h0M2106.5,1582.1h0M2127.5,1544.9h0M2143.2,1523.3h0M2110.1,1570.8h0M2056.5,1620.2h0M2044.9,1640.3h0M2048.1,1638.0h0M2082.1,1600.8h0M2073.8,1618.6h0M2119.3,1560.8h0M2029.1,1656.2h0M2014.9,1652.9h0M2065.1,1630.5h0M2046.2,1642.0h0M2054.7,1624.6h0M2064.7,1623.5h0M2031.6,1640.8h0M2059.8,1621.9h0M2071.2,1603.7h0M2071.0,1613.9h0M2088.1,1585.5h0M2037.6,1644.4h0M2156.8,1553.8h0M1987.9,1681.4h0M2040.2,1643.3h0M2108.7,1587.9h0M2098.4,1574.3h0M2020.3,1659.5h0M2141.0,1536.3h0M2078.3,1602.1h0M1960.8,1711.3h0M2019.2,1667.2h0M2154.2,1536.2h0M1960.8,1713.4h0M2019.7,1673.9h0M2069.7,1620.9h0M2036.3,1623.5h0M2059.9,1630.4h0M2121.0,1557.5h0M2067.5,1619.8h0M2096.8,1590.0h0M2060.4,1621.1h0M2034.6,1645.4h0M2034.2,1639.0h0M2017.7,1677.5h0M2016.7,1658.1h0M1996.0,1681.8h0M2068.4,1614.0h0M2112.8,1603.3h0M2057.1,1629.4h0M2128.3,1558.9h0M2004.4,1672.8h0M2031.3,1652.9h0M1987.1,1694.6h0M2009.3,1660.9h0M2002.5,1672.3h0M2006.5,1680.5h0M1995.7,1641.7h0M2063.8,1622.8h0M2073.8,1612.9h0M2072.0,1602.7h0M1970.6,1713.6h0M1994.4,1670.5h0M2022.9,1645.5h0M2146.8,1549.0h0M2066.6,1620.1h0M2106.7,1569.3h0M2095.5,1588.5h0M2053.7,1619.3h0M1976.5,1686.6h0M1981.8,1693.0h0M2021.6,1684.5h0M2038.4,1640.4h0M2108.3,1584.9h0M2046.4,1644.0h0M2144.8,1545.4h0M2010.5,1678.9h0M2029.4,1654.3h0M2033.2,1654.0h0M2009.9,1669.1h0M2137.9,1549.6h0M2102.0,1587.0h0M2041.5,1654.0h0M2059.6,1639.6h0M2075.0,1619.4h0M2006.1,1663.9h0M1974.2,1687.0h0M2048.3,1635.0h0M2148.1,1540.2h0M2134.0,1550.5h0M2136.6,1552.6h0M2067.9,1618.5h0M2071.9,1608.8h0M2063.5,1623.6h0M2106.0,1593.0h0M2007.4,1672.9h0M2040.0,1640.6h0M2031.7,1649.3h0M2009.1,1663.8h0M2054.9,1625.4h0M2034.8,1649.5h0M2102.2,1571.8h0M2053.2,1625.1h0M2062.6,1621.4h0M2050.8,1626.4h0M2000.0,1678.0h0M1991.9,1684.3h0M2121.7,1551.0h0M2076.9,1614.8h0M2073.9,1612.3h0M2018.9,1649.4h0M2043.8,1633.2h0M1962.5,1701.1h0M1990.7,1690.7h0M2118.1,1587.8h0M2017.0,1641.8h0M2144.4,1543.5h0M1979.0,1697.7h0M2115.7,1569.6h0M2093.0,1589.6h0M2037.6,1640.4h0M1988.1,1682.5h0M2007.0,1677.6h0M1995.2,1687.3h0M1990.8,1679.4h0M1978.0,1689.0h0M2022.9,1653.9h0M2066.5,1610.0h0M2064.4,1620.4h0M2087.6,1603.3h0M1961.5,1717.6h0M2029.4,1654.5h0M2009.6,1671.0h0M2118.8,1565.1h0M2063.5,1654.8h0M2042.2,1636.6h0M2046.9,1640.0h0M2081.4,1605.2h0M2046.7,1629.9h0M1978.4,1703.6h0M2023.2,1647.9h0M2077.3,1599.3h0M1999.4,1681.2h0M1995.4,1678.7h0M2037.5,1639.7h0M2090.7,1594.6h0M1965.6,1718.0h0M2025.9,1660.4h0M2009.1,1666.6h0M2026.1,1648.1h0M2084.8,1606.1h0M1999.2,1679.2h0M2062.4,1621.6h0M2049.6,1626.3h0M2039.4,1636.5h0M2059.4,1624.9h0M2065.5,1620.8h0M2125.8,1556.9h0M2000.8,1672.4h0M2138.3,1547.8h0M2024.6,1662.0h0M2105.5,1597.3h0M2056.9,1621.7h0M2040.1,1630.9h0M2045.3,1635.4h0M2065.4,1615.3h0M2026.9,1658.7h0M2018.9,1645.6h0M2032.2,1632.1h0M2079.1,1602.9h0M2039.3,1643.4h0M2075.2,1605.6h0M1968.6,1710.9h0M2091.5,1597.8h0M2142.3,1557.5h0M1981.8,1708.8h0M2051.4,1655.2h0M2053.7,1624.2h0M2084.2,1598.3h0M2046.1,1630.1h0M2130.8,1560.0h0M2090.7,1565.9h0M1978.4,1699.1h0M2050.3,1639.7h0M2065.7,1612.5h0M1957.8,1713.3h0M2004.4,1690.3h0M2010.3,1666.6h0M2076.1,1602.8h0M2018.4,1656.4h0M1994.2,1684.6h0M2133.2,1556.4h0M2141.9,1547.7h0M2061.9,1607.5h0M2062.4,1618.1h0M2013.0,1667.3h0M2041.4,1645.9h0M2009.0,1669.0h0M1991.6,1678.6h0M2032.4,1632.0h0M2040.6,1633.5h0M2091.2,1603.7h0M2119.2,1574.3h0M1998.7,1680.6h0M2090.0,1602.8h0M2088.1,1606.1h0M2014.2,1669.6h0M2033.2,1650.4h0M2103.4,1590.7h0M1965.4,1710.2h0M2073.6,1607.2h0M2064.0,1631.1h0M2007.8,1676.2h0M2058.8,1629.0h0M2051.8,1621.0h0M2145.1,1551.1h0M2001.4,1669.4h0M2142.4,1549.4h0M2093.3,1593.8h0M2010.9,1664.2h0M1983.1,1685.1h0M2109.8,1568.6h0M2002.4,1675.1h0M1995.4,1696.1h0M2049.7,1645.0h0M2057.4,1626.8h0M2046.5,1645.8h0M2098.2,1591.9h0M2082.2,1598.3h0M2018.7,1668.3h0M2020.1,1666.9h0M2056.0,1626.1h0M2086.4,1595.5h0M2021.5,1657.7h0M2088.0,1596.0h0M1992.3,1673.0h0M2051.1,1633.9h0M1995.0,1673.3h0M2043.1,1641.4h0M2034.4,1651.5h0M1959.4,1712.9h0M2044.4,1638.6h0M2066.2,1634.6h0M2093.5,1606.2h0M2062.5,1623.2h0M2019.3,1673.9h0M2024.5,1660.2h0M1963.5,1719.4h0M2020.8,1662.2h0M2038.8,1634.5h0M2011.8,1668.8h0M1969.7,1707.1h0M2038.9,1637.1h0M2136.8,1548.4h0M2022.7,1683.1h0M2032.4,1632.7h0M2068.6,1629.5h0M2038.9,1637.7h0M2127.8,1557.6h0M1977.3,1693.7h0M2163.2,1538.3h0M2086.5,1573.0h0M1976.0,1697.2h0M2126.4,1545.9h0M2040.5,1640.7h0M2053.5,1630.3h0M1988.5,1695.7h0M2083.8,1607.1h0M2016.7,1662.2h0M2046.7,1635.4h0M2144.6,1551.7h0M2042.2,1629.9h0M1952.0,1723.4h0M2013.5,1677.7h0M1975.1,1698.4h0M2058.2,1627.7h0M1983.0,1694.2h0M1954.2,1719.3h0M2022.3,1664.2h0M2023.2,1646.4h0M2080.6,1614.9h0M1987.4,1706.6h0M1979.1,1679.6h0M1992.4,1685.2h0M2050.1,1645.0h0M2008.6,1665.7h0M2052.4,1615.9h0M2066.8,1601.2h0M2046.7,1632.3h0M2096.2,1587.3h0M2017.3,1659.8h0M2022.1,1649.2h0M1998.8,1683.5h0M2019.6,1659.3h0M1999.0,1676.2h0M2070.0,1611.9h0M2044.7,1640.4h0M2042.9,1642.1h0M2094.7,1594.2h0M2139.8,1549.1h0M2052.0,1633.7h0M2039.4,1654.9h0M2048.1,1639.2h0M2072.6,1612.8h0M2002.6,1687.3h0M1991.6,1689.4h0M2101.3,1580.9h0M2019.0,1683.9h0M2093.1,1597.2h0M2015.0,1666.0h0M2056.3,1629.3h0M2027.6,1654.7h0M2064.1,1608.5h0M2041.2,1646.3h0M2021.7,1658.5h0M2131.9,1541.3h0M2026.5,1657.1h0M2040.8,1642.2h0M1994.5,1687.4h0M2044.3,1638.9h0M2006.6,1670.1h0M2082.2,1606.5h0M2155.0,1533.3h0M2048.1,1628.9h0M2082.4,1603.9h0M2160.3,1536.5h0M2116.2,1562.7h0M2080.6,1605.7h0M2029.0,1660.4h0M2042.0,1649.5h0M1996.1,1686.1h0M2093.7,1587.0h0M2085.5,1591.6h0M2019.4,1669.9h0M2006.6,1668.7h0M2060.4,1612.7h0M2017.8,1654.3h0M2109.6,1591.1h0M2069.6,1605.7h0M2028.8,1657.6h0M1970.5,1707.4h0M2016.6,1667.2h0M2146.9,1532.3h0M1992.0,1672.3h0M2038.9,1652.1h0M2115.3,1572.6h0M2028.9,1661.3h0M2094.3,1590.6h0M2061.1,1625.8h0M2066.9,1640.5h0M1975.9,1688.1h0M2147.4,1551.6h0M2072.1,1616.8h0M2048.0,1634.0h0M2046.0,1648.9h0M1995.8,1681.6h0M2017.9,1670.0h0M2008.2,1658.6h0M2032.5,1645.6h0M2038.9,1654.5h0M2001.2,1671.4h0M2027.6,1645.4h0M1961.5,1713.9h0M2017.3,1638.9h0M1992.1,1676.3h0M2070.2,1616.3h0M2050.5,1644.3h0M2013.4,1671.1h0M2015.9,1649.4h0M2106.5,1570.5h0M2056.1,1629.9h0M2040.8,1641.6h0M2007.3,1666.9h0M2027.4,1661.5h0M2128.6,1558.9h0M2010.5,1675.9h0M2074.4,1594.3h0M1993.0,1686.0h0M2058.9,1610.1h0M2060.2,1630.6h0M2132.3,1563.7h0M2085.0,1591.0h0M2007.5,1671.1h0M2117.7,1584.2h0M2015.5,1660.5h0M2090.8,1605.6h0M2029.2,1657.4h0M2050.9,1591.2h0M2129.0,1570.8h0M2079.6,1608.4h0M2059.1,1619.2h0M2015.9,1657.6h0M2138.2,1547.9h0M2045.0,1632.4h0M1983.7,1695.2h0M2067.3,1618.8h0M2001.4,1664.4h0M2150.0,1543.3h0M1990.5,1685.1h0M1965.0,1688.2h0M2036.9,1650.9h0M1959.5,1705.7h0M2111.2,1595.2h0M2077.7,1619.0h0M2050.2,1630.0h0M2074.2,1594.3h0M2135.9,1545.9h0M2094.9,1592.6h0M1987.0,1682.9h0M2039.5,1630.6h0M2107.8,1569.2h0M2029.4,1655.4h0M2073.2,1623.5h0M2050.2,1634.0h0M2048.8,1613.5h0M1960.7,1707.2h0M2014.6,1658.4h0M1984.7,1689.0h0M2001.0,1675.8h0M2018.4,1643.0h0M1958.7,1712.4h0M2034.8,1639.9h0M2036.6,1631.2h0M2019.4,1671.3h0M2033.1,1656.8h0M2095.8,1593.5h0M2000.5,1674.1h0M2075.6,1628.4h0M2135.8,1557.0h0M2066.7,1618.3h0M2081.8,1620.3h0M2001.9,1678.8h0M2010.8,1667.8h0M2057.2,1620.3h0M2065.3,1633.3h0M1987.3,1698.0h0M1998.3,1673.3h0M2117.0,1574.9h0M2140.8,1550.1h0M2092.2,1609.3h0M2056.2,1626.9h0M2020.2,1669.5h0M2136.1,1534.1h0M2140.8,1551.0h0M2017.6,1653.4h0M1983.6,1688.2h0M2072.2,1613.9h0M2150.9,1552.7h0M2071.1,1614.7h0M2052.0,1624.1h0M2008.7,1664.9h0M2082.5,1606.6h0M2163.4,1522.5h0M2087.9,1601.6h0M1993.3,1672.6h0M2045.2,1635.2h0M2107.7,1594.5h0M2074.3,1618.9h0M2014.5,1666.6h0M2118.3,1575.9h0M2012.3,1664.8h0M2028.5,1643.7h0M2056.8,1622.6h0M2090.4,1592.7h0M2051.1,1633.4h0M1969.3,1700.6h0M2094.7,1586.7h0M2038.6,1654.7h0M1981.1,1685.9h0M2015.8,1666.2h0M2000.2,1674.8h0M2013.3,1667.9h0M2019.9,1657.8h0M2019.1,1653.2h0M2025.9,1652.4h0M2120.3,1564.4h0M2016.7,1668.7h0M2041.0,1626.3h0M2075.7,1618.4h0M2012.9,1669.3h0M2133.8,1558.3h0M2010.0,1665.0h0M2031.8,1645.8h0M2035.2,1646.5h0M2027.8,1655.9h0M2051.3,1612.7h0M2028.7,1653.0h0M2026.3,1648.8h0M2090.9,1596.8h0M2039.7,1649.7h0M2149.3,1535.0h0M2023.4,1653.6h0M2071.9,1611.2h0M2115.1,1558.0h0M2072.9,1606.7h0M2040.9,1627.7h0M2013.7,1666.7h0M2011.0,1664.9h0M2102.7,1578.1h0M1998.9,1689.0h0M2109.5,1570.0h0M2086.9,1606.4h0M2089.0,1615.7h0M2070.6,1617.3h0M2007.9,1666.0h0M1967.9,1705.6h0M1996.8,1667.5h0M1980.7,1683.4h0M2029.0,1649.9h0M1982.4,1683.7h0M2058.1,1608.6h0M2096.8,1589.4h0M1959.0,1719.9h0M2018.3,1657.9h0M2136.9,1574.8h0M2014.2,1669.3h0M2027.9,1653.3h0M2029.4,1639.9h0M2044.4,1645.9h0M2071.4,1612.0h0M2071.3,1622.2h0M1985.8,1695.5h0M1982.5,1684.2h0M2030.3,1654.8h0M1976.2,1696.7h0M2062.1,1601.2h0M1976.4,1703.2h0M2063.5,1620.0h0M2143.0,1559.0h0M2102.2,1581.1h0M2099.5,1571.4h0M2085.9,1604.8h0M2064.8,1619.2h0M2064.3,1607.2h0M2129.2,1564.2h0M1974.2,1697.3h0M2018.8,1665.2h0M2099.9,1587.4h0M1995.1,1681.7h0M1965.0,1716.1h0M1983.0,1684.5h0M2075.7,1613.5h0M2006.5,1671.2h0M2034.4,1635.9h0M2042.2,1636.8h0M2069.6,1610.1h0M2065.5,1619.7h0M2028.1,1653.9h0M1983.6,1688.7h0M2040.4,1630.1h0M1984.2,1700.9h0M2092.4,1600.9h0M2074.7,1601.6h0M1962.0,1696.9h0M2019.4,1652.6h0M2016.5,1670.4h0M2007.8,1668.6h0M2065.2,1615.1h0M2118.8,1558.4h0M1990.2,1679.0h0M2049.1,1640.6h0M2091.3,1596.6h0M2043.9,1638.6h0M2038.2,1639.6h0M2072.5,1609.9h0M2035.8,1643.6h0M1996.9,1677.2h0M2150.2,1537.8h0M2050.0,1621.9h0M2014.7,1655.5h0M1996.6,1668.5h0M2132.7,1554.9h0M2014.3,1672.1h0M2072.8,1605.0h0M1969.2,1696.1h0M2054.8,1630.9h0M2020.2,1683.7h0M2157.1,1534.7h0M2098.6,1594.2h0M1999.7,1678.5h0M2087.8,1589.5h0M2019.4,1665.0h0M2041.0,1641.9h0M1974.4,1696.3h0M2071.8,1620.3h0M2101.7,1594.4h0M2011.7,1669.6h0M2014.9,1655.2h0M2014.2,1630.5h0M2052.0,1625.2h0M2065.6,1613.8h0M2014.1,1664.8h0M2008.2,1668.4h0M1982.0,1698.6h0M2035.5,1651.3h0M2074.7,1613.6h0M2050.6,1624.1h0M2044.8,1639.2h0M2019.7,1667.7h0M2045.4,1637.2h0M2102.6,1582.7h0M2042.9,1634.7h0M2014.2,1660.0h0M2000.1,1679.5h0M2056.8,1622.3h0M2011.7,1670.6h0M1986.9,1685.6h0M2042.4,1606.1h0M2076.1,1588.0h0M2004.8,1680.2h0M2053.9,1624.9h0M1968.3,1711.3h0M2133.5,1554.0h0M2014.6,1664.4h0M2000.7,1683.8h0M2015.1,1672.2h0M2062.0,1623.4h0M2109.6,1580.6h0M2066.6,1623.7h0M1997.8,1677.2h0M1973.8,1694.4h0M2065.7,1616.8h0M2117.1,1572.8h0M2065.9,1622.2h0M2032.9,1643.7h0M2008.1,1674.1h0M1991.0,1701.3h0M2018.9,1654.0h0M2100.4,1592.4h0M2037.2,1633.1h0M2134.2,1567.8h0M2021.7,1666.5h0M2143.9,1533.6h0M2055.6,1630.9h0M2031.8,1650.5h0M2031.8,1661.4h0M2052.8,1636.1h0M2018.2,1641.8h0M1971.3,1703.6h0M2035.4,1642.6h0M1981.1,1682.8h0M2018.1,1676.1h0M2073.3,1587.6h0M1994.7,1663.7h0M2008.4,1663.7h0M2024.6,1661.9h0M2107.9,1580.0h0M2045.2,1651.5h0M2104.0,1585.3h0M2060.2,1619.9h0M2015.4,1663.1h0M2036.5,1647.3h0M1947.2,1718.4h0M2063.0,1627.8h0M2073.6,1611.9h0M2115.4,1568.8h0M2027.7,1648.4h0M2027.5,1662.3h0M2133.4,1557.3h0M2019.9,1654.6h0M2144.6,1541.6h0M2004.4,1672.8h0M1961.8,1711.0h0M1984.7,1702.9h0M1989.5,1688.9h0M2087.6,1592.3h0M2040.0,1643.9h0M2072.2,1603.9h0M2112.3,1585.6h0M2085.9,1587.6h0M2141.1,1547.4h0M2099.2,1608.1h0M2054.6,1620.4h0M2020.7,1670.4h0M2033.2,1647.6h0M2084.1,1607.4h0M2053.8,1635.2h0M2004.2,1669.1h0M2038.0,1635.2h0M2008.1,1669.8h0M1977.0,1698.2h0M1996.3,1640.4h0M2017.3,1662.6h0M2141.8,1556.9h0M2089.8,1597.2h0M2037.8,1642.2h0M2108.3,1581.2h0M2114.8,1568.2h0M2031.5,1641.9h0M2053.7,1629.3h0M2062.8,1610.9h0M1966.7,1679.9h0M2009.0,1676.0h0M2035.0,1642.6h0M1990.1,1690.4h0M2014.2,1667.7h0M2136.1,1541.0h0M1980.6,1695.4h0M2100.6,1580.2h0M1970.5,1700.2h0M2027.8,1657.4h0M2063.6,1601.5h0M2056.4,1632.5h0M2084.7,1607.7h0M2052.1,1643.8h0M2013.3,1655.0h0M1969.1,1699.5h0M2003.3,1661.4h0M2077.5,1607.9h0M2038.7,1636.2h0M2077.7,1604.5h0M1951.7,1725.3h0M2094.7,1585.4h0M2006.5,1680.8h0M2012.0,1677.1h0M2078.3,1640.5h0M2136.7,1553.4h0M2054.7,1623.1h0M2025.8,1651.7h0M1995.9,1677.3h0M2018.1,1666.1h0M1998.5,1673.0h0M1999.0,1675.8h0M2007.5,1671.6h0M2043.8,1639.0h0M2146.0,1541.7h0M2100.3,1579.5h0M2087.3,1607.3h0M2088.9,1602.9h0M2005.9,1659.3h0M1949.5,1718.0h0M2053.9,1635.6h0M2033.4,1634.6h0M2128.4,1572.9h0M2033.0,1660.5h0M2146.2,1565.0h0M2025.5,1657.5h0M2082.3,1595.8h0M2131.1,1552.2h0M2015.9,1662.8h0M1959.0,1707.7h0M2073.8,1611.2h0M2004.1,1676.3h0M2110.2,1573.5h0M2002.2,1686.2h0M2008.0,1656.1h0M2054.6,1627.8h0M2009.7,1658.5h0M2076.6,1605.6h0M2018.8,1666.9h0M2159.6,1544.0h0M2108.0,1568.7h0M2025.9,1649.7h0M2041.3,1609.1h0M1993.4,1687.4h0M2113.4,1564.4h0M2044.0,1645.3h0M2041.2,1635.6h0M2003.1,1678.9h0M2020.1,1662.2h0M2015.0,1674.6h0M1985.2,1695.5h0M2115.3,1589.7h0M2042.2,1641.0h0M1997.3,1672.0h0M2032.5,1639.2h0M1992.4,1676.0h0M2014.2,1656.0h0M2029.2,1660.8h0M2023.6,1641.3h0M2024.9,1651.0h0M2014.8,1674.4h0M2033.8,1650.3h0M2098.4,1602.4h0M2099.7,1607.2h0M2015.0,1669.9h0M2033.6,1635.6h0M2057.8,1637.4h0M2054.0,1622.0h0M2140.0,1548.8h0M2058.6,1620.3h0M2088.6,1593.2h0M2098.1,1594.0h0M2000.9,1678.6h0M1957.3,1715.6h0M2039.0,1628.9h0M1987.4,1684.6h0M2041.9,1649.0h0M1981.8,1692.6h0M2045.1,1626.0h0M2086.2,1604.6h0M2112.9,1573.5h0M2033.8,1662.4h0M2014.9,1659.4h0M2018.1,1654.0h0M2043.7,1641.2h0M2154.8,1545.3h0M2127.3,1571.4h0M2074.7,1613.2h0M2075.3,1596.9h0M2031.8,1646.6h0M1980.3,1689.6h0M2015.6,1677.2h0M2000.6,1673.6h0M1993.1,1667.0h0M2033.3,1651.7h0M1984.3,1696.5h0M2112.4,1569.9h0M2002.8,1663.4h0M2076.1,1612.4h0M2004.9,1671.2h0M2013.8,1673.4h0M2011.1,1676.9h0M2003.9,1673.2h0M1983.8,1658.5h0M2145.9,1546.2h0M2003.1,1672.8h0M2079.4,1601.3h0M2089.9,1597.0h0M1989.8,1698.6h0M2045.5,1645.3h0M2011.5,1669.8h0M2032.7,1650.6h0M2019.5,1661.9h0M2154.4,1527.5h0M2020.3,1674.7h0M1971.1,1716.2h0M2003.2,1680.9h0M2071.8,1606.3h0M2100.0,1555.7h0M1997.2,1674.5h0M2134.2,1556.2h0M2060.3,1624.8h0M2026.1,1668.3h0M2019.1,1621.7h0M1994.5,1684.3h0M2033.3,1658.2h0M1962.8,1722.4h0M2149.0,1551.7h0M2137.1,1552.8h0M2039.4,1638.4h0M2162.1,1539.7h0M2008.6,1675.3h0M2051.4,1616.1h0M2001.5,1671.0h0M2025.3,1646.2h0M2074.3,1613.7h0M2020.8,1664.2h0M1968.1,1711.1h0M2121.0,1564.7h0M2044.7,1631.4h0M1990.7,1688.6h0M2103.9,1574.0h0M2124.1,1539.4h0M2017.1,1658.3h0M2142.3,1560.3h0M2054.7,1622.5h0M2123.6,1568.2h0M2076.8,1594.8h0M1960.0,1713.3h0M2069.9,1617.3h0M1998.1,1707.8h0M2078.7,1603.7h0M1984.4,1699.8h0M2127.7,1559.7h0M2002.3,1666.7h0M2050.3,1627.2h0M1977.9,1707.9h0M1976.2,1698.4h0M2007.1,1666.6h0M2007.1,1672.9h0M2144.3,1539.2h0M2065.2,1624.5h0M2069.4,1613.0h0M2015.3,1663.7h0M2016.7,1649.6h0M1986.0,1687.7h0M2109.8,1577.2h0M2006.0,1673.1h0M2001.7,1674.8h0M2035.1,1662.8h0M2116.8,1559.7h0M2043.3,1622.6h0M2025.9,1650.8h0M2015.3,1662.0h0M2088.6,1599.9h0M2091.2,1605.6h0M2058.2,1632.4h0M1964.3,1705.3h0M2059.1,1620.3h0M2045.8,1653.7h0M1990.3,1693.3h0M1988.2,1687.4h0M2038.5,1645.0h0M2042.6,1636.3h0M2132.1,1573.9h0M2064.2,1608.3h0M2115.2,1580.5h0M2063.5,1623.3h0M2100.3,1569.8h0M2062.5,1609.0h0M2020.5,1669.8h0M1999.4,1679.1h0M2028.5,1643.6h0M2115.2,1585.2h0M2126.3,1578.1h0M2107.6,1581.4h0M1985.8,1679.6h0M2116.0,1581.0h0M2022.6,1661.0h0M1974.0,1699.1h0M2055.2,1629.3h0M2015.9,1670.0h0M2117.5,1559.2h0M2070.9,1611.9h0M2103.5,1589.3h0M2022.0,1647.8h0M2082.4,1601.0h0M2124.2,1553.5h0M2042.2,1651.5h0M2010.0,1661.1h0M2056.7,1639.3h0M2037.2,1633.3h0M2078.8,1615.9h0M2010.4,1660.4h0M2017.9,1657.8h0M2043.1,1644.2h0M2117.7,1574.4h0M2021.6,1660.3h0M2042.6,1644.1h0M2001.7,1675.6h0M2035.5,1639.6h0M2139.3,1544.3h0M2041.7,1649.0h0M2019.8,1662.4h0M2033.5,1637.3h0M2143.2,1536.3h0M2001.3,1678.2h0M2072.4,1607.4h0M2035.9,1646.8h0M2117.2,1567.9h0M1999.4,1677.9h0M1986.1,1688.3h0M2043.4,1642.8h0M2173.6,1567.6h0M1988.3,1686.9h0M2064.3,1620.9h0M2067.4,1615.8h0M2013.8,1663.1h0M2015.2,1655.5h0M2150.0,1519.5h0M2027.6,1644.0h0M2046.5,1634.5h0M2120.4,1570.2h0M2016.6,1673.8h0M2110.0,1574.0h0M2055.3,1629.4h0M2122.9,1573.5h0M2073.1,1624.8h0M2048.4,1643.6h0M2041.9,1643.2h0M2105.0,1574.3h0M2050.3,1629.0h0M2003.9,1663.5h0M2131.7,1567.5h0M2050.6,1630.9h0M2005.7,1673.1h0M2009.7,1668.0h0M1969.0,1713.0h0M2031.4,1656.3h0M2087.1,1602.8h0M2083.6,1609.0h0M2004.6,1662.9h0M2132.4,1550.0h0M2065.9,1615.4h0M2045.6,1647.2h0M2088.6,1596.0h0M1968.4,1710.3h0M2161.4,1536.3h0M2006.7,1661.4h0M2115.0,1581.6h0M2006.0,1664.6h0M2065.5,1632.0h0M2040.1,1647.2h0M2101.6,1574.0h0M2013.0,1680.2h0M2006.3,1666.8h0M2086.8,1597.3h0M1972.4,1716.3h0M1962.2,1707.4h0M2071.8,1611.6h0M1985.7,1695.1h0M2098.1,1590.1h0M2023.4,1662.5h0M2017.2,1666.6h0M2059.8,1621.3h0M1958.2,1713.5h0M2049.0,1635.1h0M2136.4,1541.6h0M2127.2,1555.5h0M2089.5,1605.3h0M2082.6,1590.4h0M2129.8,1560.7h0M2048.1,1634.5h0M2067.9,1603.8h0M1996.7,1680.4h0M2031.3,1655.9h0M2117.7,1563.2h0M2033.9,1654.9h0M1997.4,1676.2h0M2060.7,1619.5h0M2052.4,1630.6h0M2094.7,1596.7h0M2065.5,1618.9h0M2080.3,1612.1h0M2029.9,1646.4h0M2071.4,1615.1h0M2105.2,1559.7h0M2049.3,1642.9h0M2002.7,1680.1h0M2020.4,1663.1h0M2081.9,1606.0h0M1980.7,1693.4h0M2089.4,1595.0h0M2118.0,1555.0h0M2038.8,1653.7h0M2040.7,1639.6h0M2000.1,1676.1h0M1997.0,1684.0h0M2041.7,1633.6h0M2027.2,1648.6h0M2004.3,1675.1h0M2019.8,1659.9h0M1996.0,1685.1h0M1986.6,1681.1h0M2077.9,1606.4h0M2092.1,1607.2h0M2101.1,1574.8h0M1974.3,1691.6h0M2007.8,1665.7h0M2108.9,1606.3h0M2003.4,1667.0h0M2032.5,1635.4h0M2121.0,1591.9h0M2039.0,1648.2h0M2049.9,1632.7h0M2075.1,1608.2h0M2027.8,1665.2h0M2039.9,1644.1h0M2101.8,1584.1h0M2074.5,1614.7h0M2040.1,1647.9h0M2062.5,1642.0h0M2003.2,1663.4h0M2079.2,1612.5h0M2006.7,1669.8h0M1982.0,1675.8h0M2104.0,1567.4h0M2009.3,1660.0h0M2031.2,1643.6h0M2048.4,1633.8h0M2003.6,1685.0h0M2057.9,1617.7h0M2088.9,1574.8h0M1993.1,1678.3h0M2047.2,1630.1h0M2118.6,1568.4h0M2035.6,1635.7h0M2082.9,1609.5h0M1958.1,1711.0h0M2105.0,1574.2h0M2057.1,1610.4h0M2033.0,1648.5h0M1992.8,1679.3h0M2041.2,1655.6h0M2137.4,1538.3h0M2047.8,1636.9h0M2155.5,1547.6h0M2054.6,1616.8h0M2065.0,1607.9h0M2066.7,1619.5h0M2093.1,1599.4h0M2092.0,1600.5h0M2006.5,1662.9h0M2010.1,1656.4h0M1956.9,1724.5h0M1983.1,1693.7h0M2056.5,1631.5h0M2145.8,1554.0h0M2065.4,1626.0h0M2101.5,1582.7h0M2026.9,1659.0h0M2129.1,1562.9h0M2114.6,1565.6h0M2140.3,1542.0h0M2075.3,1609.7h0M1960.5,1711.1h0M2013.8,1682.1h0M2141.4,1551.7h0M2031.8,1642.1h0M1995.7,1683.1h0M1972.4,1698.5h0M2009.8,1676.7h0M2140.8,1537.9h0M2083.0,1610.5h0M2056.7,1626.0h0M1996.8,1688.9h0M2154.2,1543.7h0M1995.9,1675.6h0M2091.5,1596.1h0M2143.2,1539.8h0M1973.0,1684.8h0M2013.2,1641.0h0M2064.2,1631.2h0M2081.0,1600.1h0M2115.1,1583.6h0M2052.3,1616.5h0M2108.4,1576.8h0M2003.0,1681.5h0M2165.8,1538.6h0M2128.5,1560.5h0M2088.3,1600.1h0M2115.5,1576.8h0M2083.6,1609.3h0M2020.2,1653.6h0M2148.3,1537.1h0M2010.7,1664.0h0M1982.9,1691.5h0M2041.5,1639.6h0M2044.2,1625.3h0M1949.6,1710.6h0M2048.9,1628.3h0M1967.4,1714.4h0M2050.7,1631.6h0M2110.0,1593.7h0M2032.3,1627.3h0M2116.0,1567.1h0M2154.6,1535.5h0M2138.4,1565.2h0M2039.5,1648.8h0M2065.0,1613.7h0M2002.4,1664.2h0M2073.0,1606.8h0M1998.1,1669.8h0M2056.1,1618.8h0M2066.8,1619.7h0M2026.8,1659.0h0M2032.2,1655.9h0M1990.4,1696.3h0M2058.5,1608.8h0M2096.4,1568.2h0M2093.9,1602.0h0M2078.9,1612.6h0M2035.6,1648.5h0M2117.0,1567.1h0M2150.7,1538.8h0M2064.8,1612.7h0M2024.0,1656.8h0M2062.2,1625.4h0M2072.6,1606.9h0M2018.6,1661.4h0M2036.1,1650.8h0M2029.7,1658.5h0M2009.5,1674.0h0M2079.7,1598.8h0M2009.4,1659.6h0M2115.1,1570.2h0M2021.3,1669.5h0M2058.0,1623.6h0M2046.9,1646.0h0M2027.2,1647.5h0M2051.4,1639.9h0M2011.4,1663.7h0M2039.0,1648.3h0M2071.4,1599.9h0M2139.8,1549.9h0M1956.9,1719.3h0M2145.3,1550.3h0M2016.7,1658.8h0M2107.8,1589.1h0M2119.8,1549.8h0M2017.4,1651.7h0M2013.6,1655.1h0M2047.2,1641.1h0M2093.1,1599.8h0M1975.9,1689.7h0M1988.7,1693.9h0M2008.7,1687.0h0M1987.7,1697.6h0M1990.4,1692.6h0M2028.5,1645.2h0M2105.4,1582.8h0M2060.1,1611.8h0M2017.7,1659.1h0M2018.3,1669.8h0M2014.9,1675.1h0M2041.7,1632.2h0M2072.6,1611.2h0M2106.3,1593.0h0M2059.5,1637.6h0M2090.9,1589.5h0M2144.4,1575.1h0M2051.5,1628.0h0M2043.7,1640.2h0M2107.2,1579.2h0M2025.9,1652.1h0M2032.3,1653.3h0M1996.7,1685.2h0M2049.3,1647.7h0M2053.6,1631.1h0M2019.0,1663.0h0M2058.0,1618.8h0M2041.4,1634.2h0M2002.7,1658.1h0M2054.1,1618.4h0M2101.3,1585.7h0M2049.9,1628.8h0M2077.8,1615.0h0M1985.8,1693.3h0M2069.2,1612.2h0M2100.1,1589.7h0M2003.1,1675.4h0M2067.1,1612.1h0M2038.8,1649.4h0M1985.5,1699.6h0M2116.7,1572.1h0M2087.6,1598.0h0M2110.7,1567.7h0M1993.9,1685.9h0M2113.6,1580.2h0M2011.9,1659.3h0M2016.0,1665.5h0M2080.9,1589.2h0M2007.1,1683.6h0M2047.6,1629.2h0M2017.5,1658.2h0M2058.4,1623.7h0M2089.5,1603.0h0M2140.5,1548.0h0M2078.6,1597.6h0M1979.9,1696.3h0M1988.1,1686.5h0M2020.0,1645.0h0M2035.1,1642.7h0M2103.9,1574.8h0M2062.5,1637.9h0M2016.9,1653.6h0M2009.7,1661.6h0M2092.1,1600.4h0M1963.2,1716.3h0M2002.1,1672.8h0M2119.2,1572.0h0M2045.7,1619.3h0M1980.1,1698.8h0M2085.0,1600.4h0M2031.4,1655.6h0M2004.2,1670.7h0M2049.6,1646.2h0M2026.7,1657.2h0M2044.4,1648.8h0M2085.3,1601.9h0M2120.3,1553.4h0M2139.3,1558.0h0M2013.0,1674.7h0M2064.9,1621.5h0M2008.4,1664.5h0M2140.2,1546.0h0M2017.7,1656.2h0M2018.0,1664.7h0M2060.0,1625.2h0M1999.6,1670.4h0M2059.3,1621.9h0M2022.6,1656.7h0M2048.4,1630.7h0M2015.6,1670.7h0M2093.7,1591.4h0M2013.0,1681.1h0M1986.1,1689.2h0M1986.4,1686.9h0M2039.7,1640.8h0M2040.1,1640.4h0M2141.8,1537.0h0M2069.6,1612.5h0M2078.5,1601.1h0M2119.4,1573.7h0M2083.5,1600.7h0M2008.6,1664.1h0M2001.9,1662.2h0M2036.5,1656.4h0M2012.6,1665.4h0M2057.7,1623.9h0M2043.9,1639.6h0M2002.6,1682.1h0M2119.3,1587.0h0M2085.8,1602.8h0M2054.8,1633.3h0M2024.8,1666.3h0M2079.8,1606.3h0M1982.3,1687.8h0M2108.6,1579.2h0M2103.2,1587.3h0M2004.1,1672.1h0M2060.2,1627.9h0M2017.5,1665.2h0M2146.4,1545.0h0M2076.5,1603.1h0M2062.3,1621.1h0M2025.6,1676.0h0M2019.3,1662.6h0M2115.6,1576.0h0M2040.1,1646.3h0M2047.3,1646.0h0M2071.3,1624.1h0M2111.9,1566.2h0M2033.0,1648.4h0M2071.3,1614.0h0M2027.2,1649.3h0M2035.5,1633.9h0M2065.1,1613.4h0M2067.2,1626.1h0M2071.5,1618.0h0M2061.9,1621.5h0M2002.8,1681.3h0M2051.2,1632.4h0M2141.0,1550.4h0M2027.6,1662.7h0M2060.5,1625.1h0M1991.5,1683.6h0M2022.2,1659.6h0M2139.0,1556.0h0M2058.6,1609.4h0M2074.2,1605.6h0M2087.8,1596.6h0M2015.5,1656.1h0M2015.1,1650.8h0M2033.6,1651.3h0M1989.7,1686.4h0M2038.1,1652.1h0M1986.3,1679.7h0M2056.6,1627.9h0M1992.8,1679.1h0M2031.7,1654.1h0M1992.3,1689.0h0M2086.8,1588.4h0M2058.7,1621.6h0M2042.3,1642.3h0M2057.1,1630.4h0M2160.7,1544.0h0M2029.3,1641.5h0M2060.7,1580.2h0M2015.6,1666.9h0M2011.2,1662.9h0M2055.4,1628.8h0M1955.1,1713.0h0M2052.4,1634.9h0M2108.4,1586.0h0M1998.4,1671.7h0M2011.6,1670.2h0M2085.3,1598.3h0M2108.3,1585.4h0M2015.8,1667.8h0M2029.5,1657.6h0M2011.1,1665.2h0M2000.4,1673.3h0M2023.8,1664.4h0M2011.3,1679.7h0M2023.3,1641.8h0M2014.8,1657.7h0M2002.1,1676.1h0M2002.4,1682.8h0M2030.4,1644.6h0M2053.8,1623.5h0M2043.5,1652.3h0M2004.3,1682.3h0M2023.8,1626.7h0M2036.7,1640.4h0M2149.8,1538.4h0M2153.5,1538.1h0M2050.8,1635.1h0M2020.5,1665.4h0M2037.7,1645.8h0M2094.9,1584.6h0M2024.3,1656.9h0M1957.6,1714.6h0M2063.8,1616.8h0M1982.6,1708.3h0M1980.7,1694.9h0M1995.9,1672.3h0M2102.0,1593.9h0M1990.8,1671.4h0M2100.4,1581.6h0M2026.4,1655.5h0M2138.5,1605.0h0M2147.8,1548.9h0M2147.8,1542.4h0M1997.4,1690.2h0M1989.5,1674.4h0M2006.0,1669.1h0M1965.5,1719.5h0M2116.9,1571.6h0M2009.6,1674.1h0M2077.9,1606.6h0M2118.9,1584.9h0M2016.6,1666.2h0M1963.5,1713.0h0M2082.9,1607.8h0M2036.5,1646.9h0M1980.3,1710.9h0M2021.9,1655.2h0M2013.4,1662.0h0M2047.1,1641.8h0M2136.7,1560.2h0M1991.7,1681.6h0M2028.9,1653.1h0M1982.6,1697.1h0M2050.6,1621.0h0M1997.4,1690.2h0M2069.8,1615.3h0M1993.8,1689.1h0M2011.0,1653.8h0M2023.7,1670.2h0M1990.0,1689.5h0M2042.9,1627.3h0M2072.7,1617.8h0M2057.5,1631.1h0M2023.8,1662.6h0M2072.8,1621.9h0M2102.8,1574.0h0M2075.2,1602.6h0M2064.5,1626.5h0M2005.9,1668.9h0M2022.0,1657.8h0M2023.5,1642.7h0M2077.4,1606.5h0M2033.9,1655.0h0M1955.3,1707.7h0M1997.4,1664.6h0M2123.2,1576.2h0M1969.3,1710.1h0M1996.0,1699.7h0M1986.9,1684.3h0M2130.2,1561.9h0M2035.2,1650.6h0M2129.6,1556.0h0M1998.1,1662.0h0M2027.6,1663.1h0M1977.5,1698.3h0M2052.6,1637.4h0M2007.4,1671.0h0M2041.7,1657.5h0M2035.8,1652.7h0M2013.5,1678.9h0M1957.0,1711.6h0M2104.5,1585.0h0M2022.5,1661.0h0M2068.3,1618.9h0M2111.5,1577.0h0M2040.8,1640.9h0M2138.4,1559.2h0M1974.9,1684.8h0M2062.3,1626.5h0M2036.4,1636.0h0M1982.6,1688.3h0M2065.9,1607.0h0M2043.5,1641.2h0M2184.2,1515.4h0M2115.1,1574.2h0M2046.3,1636.8h0M2031.9,1655.9h0M2065.3,1600.8h0M2142.4,1546.5h0M2017.9,1664.4h0M2085.7,1594.3h0M2054.3,1621.1h0M2014.2,1664.0h0M2032.8,1655.2h0M2013.2,1645.6h0M2057.6,1616.5h0M2076.2,1618.7h0M2101.0,1566.5h0M2035.6,1645.0h0M2022.8,1650.3h0M2083.7,1607.5h0M2054.6,1621.3h0M2112.2,1560.5h0M2041.9,1646.1h0M1990.3,1684.7h0M2002.4,1666.8h0M2140.3,1549.5h0M2053.3,1632.7h0M2070.1,1607.3h0M2073.1,1615.6h0M2007.6,1678.3h0M2079.8,1609.7h0M2019.5,1662.8h0M1967.3,1705.9h0M2112.8,1579.5h0M2028.1,1650.4h0M1998.4,1686.3h0M2035.7,1633.5h0M2115.3,1561.9h0M2064.9,1622.1h0M2137.4,1545.7h0M2112.3,1591.8h0M2048.5,1639.3h0M2033.2,1647.0h0M2137.3,1554.8h0M1996.8,1678.1h0M2054.8,1626.9h0M2054.4,1635.7h0M2048.8,1631.3h0M2076.0,1613.0h0M1966.6,1705.0h0M2008.7,1679.0h0M2074.4,1602.7h0M2003.5,1676.5h0M1992.1,1678.9h0M2008.8,1676.0h0M2105.4,1585.8h0M2018.5,1653.3h0M1954.8,1721.0h0M2006.7,1669.0h0M2033.3,1613.6h0M2125.7,1569.0h0M2012.0,1668.9h0M2118.8,1573.3h0M1973.8,1707.7h0M2095.5,1600.8h0M2046.7,1611.0h0M2079.7,1604.9h0M2071.5,1599.0h0M2085.5,1592.1h0M2062.8,1623.2h0M2024.0,1657.8h0M1977.4,1696.2h0M2037.2,1647.5h0M2105.6,1574.4h0M2145.0,1552.1h0M1999.4,1678.6h0M2010.1,1667.4h0M2003.8,1674.1h0M1991.9,1679.0h0M2019.9,1659.9h0M2132.7,1599.9h0M2070.2,1607.9h0M2039.9,1635.9h0M2014.7,1671.5h0M1987.3,1691.3h0M2145.2,1553.9h0M1984.3,1687.8h0M2059.8,1631.0h0M2119.7,1587.0h0M2151.7,1538.6h0M2036.3,1643.0h0M2008.7,1665.7h0M2101.9,1579.2h0M2092.9,1586.0h0M2053.2,1642.0h0M2074.3,1600.5h0M1986.7,1693.8h0M2037.2,1637.3h0M2016.3,1652.9h0M1995.3,1677.5h0M1988.3,1685.3h0M2089.2,1600.0h0M2127.0,1560.3h0M1998.6,1683.9h0M2019.3,1646.3h0M1998.9,1676.6h0M2118.0,1557.1h0M2080.1,1608.4h0M1998.9,1680.1h0M2076.2,1600.5h0M2057.7,1612.3h0M2016.6,1668.1h0M2117.4,1568.4h0M1997.1,1689.8h0M2055.1,1626.2h0M2040.1,1637.3h0M2020.5,1666.1h0M2067.7,1617.6h0M2026.5,1661.8h0M2098.7,1581.4h0M2035.9,1638.7h0M1974.9,1704.2h0M2046.7,1638.9h0M2052.9,1628.7h0M2035.2,1642.8h0M1975.1,1704.3h0M2049.5,1641.6h0M1956.5,1724.8h0M2014.2,1670.0h0M2019.8,1663.6h0M2146.6,1543.8h0M2081.1,1607.1h0M2015.5,1663.0h0M2038.5,1640.9h0M1991.9,1681.0h0M2074.2,1605.5h0M2021.0,1652.2h0M2041.2,1635.5h0M2050.4,1629.8h0M1975.5,1697.2h0M2072.1,1622.2h0M2026.7,1653.9h0M2011.0,1666.9h0M2011.3,1670.9h0M1969.4,1698.0h0M2097.4,1591.5h0M2062.8,1634.3h0M2022.9,1669.1h0M2060.0,1619.7h0M2051.5,1641.3h0M2058.5,1611.1h0M2031.4,1642.3h0M2049.0,1640.3h0M1962.0,1720.6h0M2094.3,1606.7h0M2046.4,1639.0h0M2032.5,1633.9h0M2054.7,1630.9h0M2026.6,1653.4h0M2135.3,1559.0h0M2101.9,1580.7h0M2055.8,1628.9h0M1963.0,1709.0h0M2042.9,1642.4h0M2144.3,1541.5h0M2077.1,1617.9h0M1980.2,1702.9h0M2076.7,1595.9h0M2007.2,1674.5h0M2019.4,1679.6h0M2064.2,1604.9h0M2045.8,1632.1h0M2045.6,1627.9h0M1989.2,1684.1h0M2073.7,1603.1h0M2060.6,1630.6h0M2056.8,1638.5h0M2116.7,1568.0h0M2022.5,1661.6h0M2038.6,1647.2h0M2004.6,1672.4h0M2112.5,1568.1h0M1992.9,1689.9h0M2004.9,1656.6h0M1990.1,1686.8h0M2028.8,1643.9h0M2064.1,1615.6h0M2090.5,1602.5h0M2076.8,1614.7h0M2003.8,1681.3h0M2113.2,1588.7h0M2118.9,1559.4h0M1990.8,1696.8h0M2110.9,1576.1h0M2116.4,1583.4h0M2100.4,1596.1h0M1990.1,1700.2h0M2080.9,1604.9h0M1972.3,1702.7h0M2080.7,1604.1h0M2043.9,1628.2h0M2064.4,1594.2h0M2019.9,1661.7h0M1987.1,1682.9h0M1995.7,1685.5h0M2042.0,1638.3h0M2058.4,1632.8h0M2046.1,1636.7h0M2034.8,1662.0h0M2037.3,1652.7h0M2005.2,1669.7h0M2126.2,1567.5h0M2135.5,1564.1h0M2076.1,1617.2h0M2031.2,1648.4h0M2127.4,1575.8h0M2037.2,1636.3h0M2101.5,1582.1h0M2149.2,1540.1h0M2022.3,1656.7h0M2146.9,1534.3h0M2142.4,1557.8h0M2014.5,1651.4h0M2032.6,1652.4h0M2048.5,1628.2h0M1992.8,1688.1h0M1973.2,1697.3h0M2101.0,1566.7h0M2111.9,1550.3h0M2071.8,1612.7h0M2055.3,1622.7h0M2115.2,1577.4h0M2144.0,1535.9h0M2103.6,1583.6h0M2078.4,1597.9h0M2130.3,1557.8h0M2059.7,1608.9h0M2153.0,1534.8h0M2038.2,1648.6h0M1988.3,1684.6h0M1994.0,1678.9h0M2063.4,1621.3h0M1987.5,1690.3h0M2056.6,1635.0h0M2080.0,1603.8h0M2083.3,1599.1h0M2089.2,1598.5h0M2000.0,1676.1h0M2025.6,1648.1h0M2084.7,1616.4h0M1959.3,1714.5h0M2000.5,1672.2h0M2142.0,1537.5h0M2016.9,1650.7h0M2023.9,1649.3h0M2111.9,1581.3h0M2043.9,1640.6h0M2018.8,1660.2h0M2103.3,1585.6h0M1992.7,1686.3h0M2128.2,1561.3h0M2130.0,1566.8h0M1993.1,1646.0h0M2088.4,1597.4h0M2020.2,1657.4h0M2074.3,1596.5h0M1998.6,1683.6h0M2099.1,1588.3h0M2045.3,1631.2h0M2118.1,1565.1h0M1974.7,1701.1h0M2163.8,1542.8h0M2034.2,1646.9h0M2091.5,1594.9h0M2051.5,1646.7h0M2077.7,1605.4h0M2012.4,1658.8h0M2061.9,1612.5h0M1979.4,1691.6h0M2013.7,1661.4h0M1957.3,1720.3h0M1969.3,1705.2h0M2048.1,1645.3h0M2148.2,1540.5h0M1978.8,1685.4h0M2062.5,1614.2h0M2026.3,1638.6h0M2022.2,1674.4h0M2038.3,1634.0h0M2087.2,1590.4h0M2036.0,1645.0h0M2036.4,1661.1h0M2055.7,1634.2h0M2063.0,1616.7h0M2064.6,1624.8h0M2093.7,1578.1h0M2034.9,1642.1h0M2124.1,1549.9h0M1957.8,1722.3h0M2063.7,1620.2h0M2055.7,1631.4h0M2085.9,1603.3h0M2062.2,1603.6h0M2032.5,1649.0h0M2066.9,1618.9h0M2107.0,1574.0h0M1986.1,1684.6h0M2020.9,1669.0h0M2049.2,1633.8h0M2123.0,1551.9h0M2093.7,1603.1h0M2122.2,1571.8h0M1976.4,1697.2h0M2092.3,1597.1h0M2036.4,1646.1h0M2099.1,1579.6h0M1999.8,1674.7h0M2098.5,1573.6h0M2052.3,1624.8h0M2013.9,1651.0h0M2084.3,1591.3h0M2115.6,1576.4h0M1992.4,1692.3h0M2116.1,1584.6h0M2068.4,1619.7h0M2030.7,1658.2h0M2130.5,1551.9h0M2031.5,1642.1h0M2028.1,1635.1h0M1972.4,1697.3h0M2124.3,1552.2h0M1990.5,1687.9h0M2070.3,1622.0h0M2029.8,1658.3h0M2082.2,1604.6h0M2056.5,1631.2h0M2024.5,1655.1h0M1993.5,1674.0h0M2164.0,1549.7h0M2041.0,1644.3h0M2077.5,1601.0h0M2014.1,1669.1h0M2050.3,1611.0h0M2008.1,1671.6h0M2143.4,1546.6h0M2062.8,1619.6h0M2118.8,1571.5h0M2005.1,1658.9h0M1969.7,1700.2h0M1967.5,1706.7h0M2028.1,1642.9h0M1968.6,1707.9h0M2030.3,1646.7h0M2100.8,1583.0h0M2025.6,1654.9h0M2098.7,1600.2h0M1950.7,1721.5h0M2100.2,1587.3h0M2076.3,1614.4h0M2044.9,1636.5h0M2057.5,1635.4h0M2067.3,1612.8h0M2078.4,1601.4h0M2062.1,1610.7h0M2016.7,1641.9h0M2067.9,1611.0h0M2078.8,1580.0h0M2104.9,1584.5h0M2049.9,1644.9h0M2046.0,1629.0h0M1988.5,1679.8h0M2042.5,1631.8h0M2008.5,1672.8h0M2008.0,1676.2h0M2082.4,1589.0h0M1968.0,1708.3h0M2095.6,1592.4h0M2040.6,1628.6h0M2043.6,1640.9h0M2121.0,1572.0h0M2035.2,1654.0h0M2025.9,1661.6h0M2021.1,1699.7h0M2060.2,1625.0h0M2119.2,1577.0h0M2091.3,1592.8h0M2007.8,1668.8h0M1954.5,1718.0h0M1973.4,1700.7h0M2084.5,1597.3h0M2049.6,1628.4h0M2032.0,1658.1h0M2039.1,1641.4h0M2067.8,1608.1h0M2003.2,1684.1h0M2067.5,1617.0h0M2057.4,1631.4h0M2025.3,1644.9h0M2011.2,1677.1h0M2066.7,1603.9h0M2058.0,1612.6h0M2034.8,1652.0h0M2104.0,1576.8h0M2089.5,1606.5h0M1992.1,1689.2h0M2006.7,1661.5h0M2013.8,1682.5h0M2067.4,1611.5h0M2129.5,1557.1h0M2012.1,1661.6h0M1993.9,1684.8h0M2041.9,1623.3h0M2125.9,1573.2h0M2007.4,1671.1h0M2116.8,1586.7h0M2077.8,1610.1h0M1995.0,1681.1h0M2006.6,1679.3h0M1975.1,1690.0h0M2052.4,1647.7h0M2065.6,1619.5h0M2146.1,1542.0h0M2043.4,1640.0h0M1960.9,1703.4h0M2015.1,1674.4h0M2105.7,1573.4h0M2014.2,1677.6h0M2043.5,1648.7h0M2049.2,1632.5h0M2084.4,1588.7h0M2051.1,1633.1h0M2025.4,1650.9h0M2027.9,1648.9h0M2050.6,1623.3h0M2029.1,1657.5h0M2024.8,1647.2h0M1980.9,1697.5h0M2014.9,1652.2h0M2041.6,1656.1h0M2021.2,1642.0h0M2010.8,1677.2h0M2082.6,1607.7h0M2020.0,1654.4h0M2080.7,1554.7h0M2054.6,1627.6h0M2051.1,1617.8h0M2074.4,1607.0h0M2107.8,1583.2h0M2007.2,1660.2h0M2031.8,1633.0h0M2141.7,1561.0h0M2040.5,1627.9h0M2039.7,1636.3h0M1956.0,1701.4h0M2071.6,1615.6h0M2114.0,1570.0h0M1984.4,1692.7h0M2107.5,1569.4h0M2032.6,1647.8h0M2114.8,1563.6h0M2108.2,1569.7h0M2037.8,1647.3h0M2081.3,1590.7h0M2065.4,1601.4h0M2012.4,1662.6h0M2037.8,1639.9h0M2030.3,1643.1h0M1993.6,1677.8h0M2024.1,1651.5h0M2136.9,1543.5h0M2089.6,1582.6h0M1953.3,1715.3h0M2069.9,1614.0h0M2039.3,1646.0h0M2049.7,1629.0h0M2010.3,1679.5h0M2135.7,1546.9h0M2049.5,1648.3h0M2002.1,1677.9h0M2083.3,1591.1h0M2085.4,1594.8h0M2160.3,1554.9h0M2075.8,1605.0h0M2029.8,1641.3h0M2077.5,1602.6h0M2141.4,1546.7h0M2035.1,1648.6h0" stroke="#fbb612" stroke-width="3.8" stroke-linecap="round" fill="none"/>
<g clip-path="url(#cp3)"><line x1="1872.3" y1="1777.9" x2="2242.6" y2="1435.5" stroke="#3243a8" stroke-width="2.4" stroke-dasharray="8.5 6.5"/><line x1="1872.3" y1="1814.3" x2="2242.6" y2="1471.9" stroke="#3243a8" stroke-width="2.4" stroke-dasharray="8.5 6.5"/></g>
<line x1="1872.3" y1="1796.1" x2="2242.6" y2="1453.7" stroke="#e0352b" stroke-width="2.6"/>
<rect x="1872.3" y="1453.7" width="370.3" height="342.4" fill="none" stroke="#666" stroke-width="1.8"/>
<text x="1866.3" y="1802.4" font-size="18.8" font-weight="bold" text-anchor="end" fill="#222" >0</text>
<text x="1872.3" y="1821.2" font-size="18.8" font-weight="bold" text-anchor="middle" fill="#222" >0</text>
<text x="1866.3" y="1759.6" font-size="18.8" font-weight="bold" text-anchor="end" fill="#222" >2</text>
<text x="1918.6" y="1821.2" font-size="18.8" font-weight="bold" text-anchor="middle" fill="#222" >2</text>
<text x="1866.3" y="1716.8" font-size="18.8" font-weight="bold" text-anchor="end" fill="#222" >4</text>
<text x="1964.9" y="1821.2" font-size="18.8" font-weight="bold" text-anchor="middle" fill="#222" >4</text>
<text x="1866.3" y="1674.0" font-size="18.8" font-weight="bold" text-anchor="end" fill="#222" >6</text>
<text x="2011.2" y="1821.2" font-size="18.8" font-weight="bold" text-anchor="middle" fill="#222" >6</text>
<text x="1866.3" y="1631.2" font-size="18.8" font-weight="bold" text-anchor="end" fill="#222" >8</text>
<text x="2057.4" y="1821.2" font-size="18.8" font-weight="bold" text-anchor="middle" fill="#222" >8</text>
<text x="1866.3" y="1588.4" font-size="18.8" font-weight="bold" text-anchor="end" fill="#222" >10</text>
<text x="2103.7" y="1821.2" font-size="18.8" font-weight="bold" text-anchor="middle" fill="#222" >10</text>
<text x="1866.3" y="1545.6" font-size="18.8" font-weight="bold" text-anchor="end" fill="#222" >12</text>
<text x="2150.0" y="1821.2" font-size="18.8" font-weight="bold" text-anchor="middle" fill="#222" >12</text>
<text x="1866.3" y="1502.8" font-size="18.8" font-weight="bold" text-anchor="end" fill="#222" >14</text>
<text x="2196.3" y="1821.2" font-size="18.8" font-weight="bold" text-anchor="middle" fill="#222" >14</text>
<text x="1866.3" y="1460.0" font-size="18.8" font-weight="bold" text-anchor="end" fill="#222" >16</text>
<text x="2242.6" y="1821.2" font-size="18.8" font-weight="bold" text-anchor="middle" fill="#222" >16</text>
<text x="2057.4" y="1448.0" font-size="21.2" font-weight="bold" text-anchor="middle" fill="#222" >R-square: 0.9045</text>
<text x="2057.4" y="1846.0" font-size="21.2" font-weight="bold" text-anchor="middle" fill="#222" >BPNN</text>
<text x="0" y="0" transform="translate(1836.0,1624.9) rotate(-90)" font-size="20.8" font-weight="bold" text-anchor="middle" fill="#222" >Actual Data</text>
<circle cx="1916" cy="1482" r="2.4" fill="#fbb612"/>
<line x1="1894" y1="1503" x2="1936" y2="1503" stroke="#e0352b" stroke-width="2.6"/>
<line x1="1894" y1="1524" x2="1936" y2="1524" stroke="#3a4fbf" stroke-width="2.2" stroke-dasharray="8 6"/>
<text x="1942.0" y="1487.0" font-size="16.4" font-weight="bold" text-anchor="start" fill="#222" >Actual Data vs. BPNN</text>
<text x="1942.0" y="1508.0" font-size="16.4" font-weight="bold" text-anchor="start" fill="#222" >Actual Data</text>
<text x="1942.0" y="1529.0" font-size="16.4" font-weight="bold" text-anchor="start" fill="#222" >Pred bnds (95%)</text>
<rect x="1873.3" y="1887.7" width="377.7" height="346.8" fill="#fff"/>
<path d="M1920.5,1887.7V2234.5M1873.3,2191.2H2251M1967.7,1887.7V2234.5M1873.3,2147.8H2251M2014.9,1887.7V2234.5M1873.3,2104.4H2251M2062.2,1887.7V2234.5M1873.3,2061.1H2251M2109.4,1887.7V2234.5M1873.3,2017.8H2251M2156.6,1887.7V2234.5M1873.3,1974.4H2251M2203.8,1887.7V2234.5M1873.3,1931.1H2251" stroke="#c6c6c6" stroke-width="1.8"/>
<clipPath id="cp4"><rect x="1873.3" y="1887.7" width="377.7" height="346.8"/></clipPath>
<path d="M1992.4,2114.9h0M2165.5,2005.5h0M2049.8,2069.8h0M2033.4,2079.0h0M1999.8,2112.6h0M2127.3,1996.1h0M2084.2,2041.1h0M2072.3,2034.6h0M2134.9,2006.0h0M2099.0,2041.0h0M2071.7,2051.9h0M2029.9,2088.1h0M2044.6,2074.7h0M2122.5,2018.4h0M2126.7,1977.6h0M2035.7,2070.2h0M2065.9,2060.2h0M2082.8,2047.7h0M2010.7,2104.7h0M2063.4,2044.7h0M2068.7,2040.9h0M2080.3,2060.7h0M2125.2,1982.0h0M2087.1,2045.0h0M2143.2,1979.8h0M2045.5,2086.6h0M2026.2,2102.4h0M1997.5,2123.8h0M2093.9,2047.7h0M1998.9,2124.3h0M2034.0,2102.9h0M2021.0,2086.5h0M2138.3,1979.0h0M2030.6,2083.4h0M2033.8,2090.6h0M1959.6,2125.4h0M2086.9,2019.0h0M2065.2,2063.6h0M2124.3,1980.3h0M2010.0,2118.0h0M2158.7,1980.4h0M2067.7,2079.0h0M2048.2,2070.2h0M2067.6,2057.2h0M2113.0,2017.8h0M2105.5,2039.8h0M2128.4,2001.9h0M2011.9,2088.7h0M2040.5,2075.8h0M2059.6,2050.6h0M2016.9,2100.9h0M2048.7,2074.6h0M2046.9,2102.4h0M2104.7,2031.9h0M2076.8,2046.8h0M2067.2,2065.9h0M2038.5,2079.8h0M2107.3,2058.2h0M2009.8,2101.1h0M2030.8,2093.5h0M1972.9,2147.3h0M2049.8,2063.6h0M2002.4,2129.3h0M2008.8,2121.3h0M2016.6,2106.4h0M1971.9,2152.8h0M2044.9,2079.6h0M2071.4,2051.7h0M1986.3,2126.6h0M2020.3,2099.9h0M2000.6,2115.5h0M1943.5,2135.7h0M1991.6,2134.1h0M2012.3,2118.1h0M1970.8,2138.0h0M2054.2,2061.3h0M2059.5,2075.9h0M2002.2,2137.1h0M2064.5,2059.6h0M2042.9,2085.9h0M2128.7,2003.1h0M2027.2,2107.0h0M2100.0,2051.2h0M1962.4,2158.9h0M2083.7,2035.7h0M2010.1,2111.3h0M2081.6,2046.3h0M2060.8,2053.6h0M2133.5,2003.9h0M2094.5,2048.7h0M1975.0,2135.9h0M2038.1,2084.4h0M2042.1,2085.4h0M1998.5,2141.4h0M1978.9,2137.5h0M2034.3,2089.3h0M2116.6,2020.0h0M1993.6,2156.5h0M2028.7,2087.4h0M2012.6,2119.5h0M2008.4,2097.5h0M1989.5,2115.7h0M2028.2,2092.8h0M2119.0,2005.7h0M2052.3,2086.0h0M1983.6,2143.8h0M2061.1,2062.8h0M2036.9,2070.4h0M2043.9,2092.8h0M2125.9,1991.5h0M1980.5,2128.3h0M2101.1,2012.5h0M2072.0,2016.0h0M2055.9,2070.6h0M1992.9,2130.3h0M2071.0,2020.8h0M2042.5,2086.9h0M2130.6,2005.9h0M2003.7,2123.3h0M2065.8,2068.5h0M2006.5,2087.5h0M2028.3,2096.1h0M2094.0,2023.0h0M1983.5,2138.2h0M2097.3,2015.0h0M2159.7,1973.0h0M2095.0,2041.3h0M2144.4,1961.0h0M2129.8,1978.4h0M2035.3,2088.1h0M2018.4,2116.4h0M2119.1,1981.6h0M2103.6,2024.0h0M2058.3,2068.6h0M2106.9,2012.3h0M2109.5,1989.9h0M2094.0,2042.5h0M2056.3,2055.2h0M2086.7,2048.3h0M2068.2,2051.5h0M2052.9,2069.5h0M1963.1,2139.5h0M2082.8,2050.0h0M2133.6,1998.1h0M2019.2,2096.8h0M1982.4,2122.9h0M2053.2,2076.5h0M1955.3,2139.6h0M1986.8,2120.4h0M2009.7,2099.8h0M2011.6,2111.5h0M2014.7,2125.5h0M2099.2,2034.7h0M2067.0,2051.7h0M2082.4,2045.5h0M2145.4,1969.7h0M1998.1,2119.7h0M2007.1,2131.2h0M2061.3,2057.6h0M2027.0,2086.3h0M2035.6,2085.2h0M2152.8,1988.9h0M1969.9,2144.8h0M2018.7,2111.8h0M2146.1,1976.1h0M2125.7,2012.4h0M1992.3,2139.8h0M1959.9,2150.0h0M2032.5,2068.7h0M2024.8,2099.2h0M2112.9,2009.9h0M2147.4,1971.1h0M2043.1,2083.6h0M2033.0,2091.5h0M2048.5,2066.7h0M2111.2,2001.6h0M2030.2,2099.1h0M2021.2,2106.4h0M2005.1,2121.4h0M2011.2,2107.0h0M1945.5,2157.7h0M2011.4,2124.4h0M2074.1,2050.9h0M1990.3,2127.5h0M2014.4,2107.8h0M2128.1,1994.5h0M2065.9,2062.2h0M2003.9,2118.8h0M1966.5,2152.5h0M2003.0,2110.0h0M2018.9,2112.7h0M2105.9,2014.6h0M1982.8,2123.6h0M1993.5,2116.0h0M2031.3,2086.9h0M2120.7,1970.2h0M2084.0,2049.9h0M1985.2,2125.7h0M2017.5,2127.8h0M1996.8,2126.9h0M1993.7,2127.7h0M2077.9,2048.8h0M1991.0,2091.4h0M2065.0,2063.4h0M2033.8,2091.3h0M2020.0,2101.1h0M2141.4,1974.9h0M1996.7,2132.7h0M2070.5,2055.3h0M2043.3,2085.4h0M2085.7,2035.1h0M2073.0,2049.7h0M2114.2,2005.7h0M2051.6,2084.2h0M2006.6,2128.1h0M2038.2,2092.0h0M2087.4,2028.0h0M2022.3,2101.8h0M2052.3,2073.7h0M2069.7,2048.0h0M2036.2,2077.8h0M2003.2,2093.3h0M2013.1,2105.3h0M2063.0,2055.6h0M2086.4,2042.1h0M2005.4,2123.1h0M2062.8,2064.9h0M2161.9,1965.0h0M2038.3,2099.8h0M2026.4,2091.5h0M2110.4,2013.9h0M2137.1,2015.1h0M2123.5,1992.1h0M2028.4,2089.5h0M2040.4,2076.9h0M2086.3,2040.8h0M2111.5,1999.9h0M1956.2,2157.0h0M2072.4,2047.9h0M2156.8,1981.8h0M2037.7,2096.9h0M2054.6,2072.2h0M2007.5,2112.3h0M1982.2,2126.4h0M2034.7,2097.1h0M2032.5,2069.2h0M2109.4,2045.0h0M1982.0,2133.5h0M2040.8,2075.6h0M2128.0,2007.1h0M2061.4,2075.1h0M2094.6,2037.9h0M1979.1,2143.1h0M2112.4,2009.8h0M2028.0,2086.7h0M2030.9,2087.7h0M2036.5,2078.8h0M2000.1,2124.2h0M2018.3,2110.1h0M2051.1,2052.2h0M2013.2,2118.4h0M2020.8,2101.8h0M2062.2,2069.9h0M2155.1,1991.6h0M2019.8,2108.9h0M2149.1,1992.2h0M2061.5,2061.7h0M2094.1,2044.4h0M2041.5,2071.1h0M2039.8,2092.4h0M2007.7,2107.5h0M1985.8,2123.2h0M2149.5,1962.1h0M2006.1,2113.8h0M2021.6,2088.3h0M2124.2,2005.4h0M2086.8,2051.4h0M1996.3,2117.4h0M2042.1,2081.2h0M2026.8,2096.2h0M2094.4,2037.3h0M2033.6,2085.9h0M2115.0,2006.2h0M2071.0,2039.9h0M2012.0,2081.9h0M2147.0,1995.0h0M2061.9,2049.8h0M2149.0,2001.2h0M2028.6,2083.5h0M2033.8,2097.0h0M2053.7,2073.8h0M2048.4,2052.0h0M2031.6,2079.9h0M2042.3,2081.0h0M2026.4,2090.7h0M2095.3,2041.5h0M1961.4,2148.7h0M2023.4,2099.4h0M2095.1,2041.4h0M1996.9,2121.0h0M1999.8,2108.2h0M2004.9,2122.3h0M2039.0,2082.6h0M2098.1,2029.4h0M2040.0,2091.4h0M2078.9,2031.0h0M2026.6,2101.2h0M2038.5,2083.8h0M2109.9,2013.0h0M2113.7,2015.3h0M2019.1,2110.7h0M2100.4,2019.4h0M2114.1,2000.8h0M2040.8,2083.7h0M2022.9,2104.8h0M2138.7,2012.7h0M2157.6,2001.4h0M1999.1,2130.7h0M2006.2,2105.3h0M2017.6,2096.5h0M2071.4,2040.7h0M2038.6,2072.6h0M2122.1,2005.5h0M2009.4,2121.1h0M2135.5,1982.4h0M2012.9,2115.5h0M2062.1,2077.8h0M2066.1,2040.5h0M2021.5,2130.7h0M1986.6,2119.6h0M2037.4,2071.6h0M2039.1,2081.3h0M2016.7,2119.7h0M2013.0,2114.1h0M2068.4,2035.4h0M2048.1,2055.0h0M2077.7,2078.4h0M2032.0,2096.8h0M2022.1,2092.7h0M2101.0,2016.8h0M2130.5,2002.5h0M2128.2,2009.1h0M2056.5,2069.5h0M1962.7,2158.7h0M2129.9,2016.2h0M2062.0,2055.6h0M2017.5,2101.5h0M2157.1,1988.3h0M2111.5,2013.7h0M1993.7,2118.3h0M1966.0,2132.4h0M2004.7,2123.5h0M2002.6,2127.2h0M2004.2,2113.1h0M2054.2,2072.0h0M2124.6,2004.1h0M2086.6,2030.7h0M2024.0,2103.8h0M2091.6,1999.1h0M2022.0,2087.6h0M2048.9,2076.3h0M2091.8,2027.7h0M2097.6,2036.4h0M2057.8,2067.2h0M2050.0,2085.1h0M2106.9,2014.6h0M2007.9,2090.3h0M2059.1,2052.4h0M2052.2,2072.0h0M2044.8,2063.4h0M2011.2,2102.0h0M2049.6,2087.8h0M2053.9,2097.7h0M2106.0,2019.5h0M1966.3,2149.1h0M2021.1,2087.5h0M2116.4,2013.7h0M2003.3,2114.7h0M2000.0,2106.9h0M2002.7,2121.2h0M2065.7,2060.0h0M2060.1,2084.2h0M2071.1,2043.2h0M2083.7,2054.9h0M2111.4,2018.2h0M2018.6,2097.5h0M2017.0,2088.6h0M2045.7,1943.4h0M2127.3,1997.6h0M2005.4,2115.8h0M2013.6,2113.0h0M2022.9,2097.0h0M1980.3,2119.9h0M2091.6,2019.6h0M2125.7,2020.2h0M2110.6,1999.4h0M2036.7,2079.0h0M2127.1,1973.8h0M2019.4,2098.6h0M1987.4,2124.1h0M1989.4,2126.2h0M2029.2,2098.1h0M2089.4,2038.2h0M2122.1,2027.1h0M2107.2,2015.3h0M2090.4,2044.9h0M2151.2,1991.9h0M1993.8,2132.9h0M2056.4,2067.4h0M1987.8,2110.9h0M2008.9,2103.7h0M2055.7,2053.0h0M2103.1,2033.2h0M2037.8,2095.2h0M2096.2,2020.8h0M2038.8,2072.2h0M1986.4,2143.7h0M2019.0,2109.2h0M2059.4,2079.8h0M1989.7,2128.5h0M2049.6,2061.6h0M2145.5,2007.1h0M2135.4,1991.1h0M2046.3,2070.1h0M2073.0,2043.4h0M1975.9,2128.6h0M2038.9,2082.0h0M1994.0,2134.6h0M2060.8,2072.7h0M1978.8,2125.1h0M1962.6,2146.4h0M2021.9,2100.3h0M2037.1,2088.8h0M2086.9,2028.3h0M2029.6,2096.2h0M2017.4,2098.3h0M2041.0,2070.4h0M2121.9,1995.1h0M1995.5,2114.7h0M2067.0,2046.7h0M2101.2,2030.2h0M2114.6,1996.7h0M1987.0,2136.6h0M1998.4,2124.8h0M1983.2,2141.7h0M2108.8,2033.4h0M2023.9,2096.2h0M2029.0,2105.6h0M2050.3,2079.6h0M2019.2,2104.9h0M2015.9,2097.2h0M2123.8,2019.4h0M2098.4,2037.4h0M2115.4,2019.0h0M2103.3,2021.3h0M2070.9,2049.8h0M2139.9,2003.8h0M1992.2,2130.6h0M2079.7,2030.5h0M2100.1,2039.2h0M2108.3,2010.2h0M2053.4,2057.7h0M2030.4,2084.7h0M2043.0,2052.5h0M2028.8,2093.1h0M2000.5,2104.8h0M2079.9,2060.8h0M2018.5,2114.5h0M2033.7,2087.2h0M2150.0,1982.2h0M2076.7,2063.0h0M2105.8,2022.7h0M2142.6,2025.2h0M2136.0,1988.0h0M2029.1,2083.0h0M2020.6,2093.9h0M2043.7,2081.8h0M2003.6,2098.9h0M2078.2,2041.7h0M2057.6,2090.7h0M2028.9,2072.1h0M2005.2,2108.1h0M2002.5,2108.5h0M2024.7,2104.2h0M2049.0,2071.3h0M2053.7,2074.9h0M2033.4,2070.5h0M2009.1,2109.3h0M2019.5,2092.5h0M2033.1,2093.1h0M2090.6,2033.2h0M2075.8,2069.8h0M2110.7,2013.0h0M2125.2,2032.8h0M1978.3,2152.9h0M1980.6,2108.8h0M2091.9,2037.2h0M2008.0,2129.3h0M2128.6,2010.4h0M2103.8,2024.2h0M1995.4,2122.5h0M2045.4,2070.3h0M1945.7,2150.4h0M2143.9,1968.7h0M1949.1,2150.2h0M2071.3,2070.3h0M2075.0,2035.5h0M2026.7,2090.4h0M2100.1,2040.5h0M2157.9,1986.8h0M2120.5,2015.9h0M2092.6,2036.0h0M2080.7,2004.8h0M2040.9,2106.5h0M2030.6,2076.3h0M2069.5,2067.7h0M2157.3,1991.4h0M2105.8,2019.4h0M2032.6,2081.7h0M2048.8,2091.5h0M2092.1,2061.6h0M2059.7,2053.5h0M2101.6,2053.8h0M1985.7,2136.4h0M2088.2,2043.2h0M2024.8,2081.1h0M2032.7,2077.9h0M2088.9,2039.7h0M1959.9,2139.8h0M2031.3,2087.1h0M1996.5,2112.3h0M2140.9,1992.8h0M2117.6,2036.7h0M2104.8,2036.3h0M2134.7,1988.1h0M2040.6,2065.5h0M2055.1,2046.0h0M2003.8,2113.7h0M2026.7,2088.9h0M2051.6,2059.8h0M2093.5,2027.1h0M2027.3,2097.2h0M2024.6,2086.6h0M2076.8,2057.7h0M1996.4,2135.5h0M1965.8,2145.1h0M2123.8,2003.0h0M2106.3,2016.3h0M1979.3,2140.7h0M2027.4,2090.8h0M2034.1,2106.8h0M2134.3,1985.5h0M2184.3,1957.2h0M2152.8,1993.8h0M2010.3,2101.4h0M1980.4,2136.9h0M1954.7,2155.0h0M2041.9,2080.1h0M2072.6,2038.9h0M1995.0,2125.7h0M2019.9,2099.8h0M2004.4,2115.9h0M1972.2,2153.7h0M2033.6,2079.1h0M2115.7,2028.0h0M2085.4,2040.7h0M2031.1,2074.5h0M2106.6,2027.0h0M2029.0,2089.4h0M2113.1,2010.8h0M2092.2,2037.9h0M2044.6,2087.9h0M2035.7,2086.0h0M2021.7,2085.3h0M2030.4,2093.3h0M2107.8,2014.2h0M2073.9,2057.7h0M2128.8,2000.4h0M1991.7,2127.6h0M2003.3,2100.8h0M2088.4,2034.0h0M1983.5,2141.1h0M2078.0,2061.4h0M2132.6,1988.4h0M2131.7,2005.3h0M2027.4,2100.8h0M2076.4,2045.9h0M1988.1,2106.4h0M1982.6,2128.2h0M2071.8,2053.4h0M2116.9,2030.5h0M2042.2,2083.5h0M2017.5,2080.8h0M2006.9,2117.3h0M2022.3,2053.7h0M2007.6,2109.8h0M2154.4,1976.6h0M2022.6,2087.6h0M2150.7,1993.8h0M2057.6,2063.2h0M2051.1,2066.9h0M2167.7,1963.8h0M2115.8,1992.8h0M2021.1,2116.6h0M2100.4,2007.9h0M2027.6,2102.7h0M2003.8,2116.6h0M2091.2,2017.8h0M2132.2,2001.6h0M2115.0,2023.9h0M2095.0,2034.0h0M2144.4,1974.3h0M2080.1,2015.6h0M2132.2,2009.3h0M2136.8,2003.2h0M2020.2,2096.5h0M2009.2,2108.3h0M2081.0,2042.1h0M2136.2,1976.6h0M1962.6,2140.4h0M2107.1,2030.6h0M2110.5,2006.8h0M2146.7,1972.6h0M2147.9,1984.4h0M2100.4,2028.9h0M2146.1,1978.1h0M2047.5,2090.6h0M1958.6,2143.2h0M2071.3,2024.6h0M2140.8,1999.5h0M2013.6,2103.6h0M2004.8,2125.6h0M2009.7,2106.7h0M2009.3,2120.0h0M2155.0,1981.8h0M2055.2,2092.4h0M2026.7,2086.3h0M1985.4,2128.4h0M2082.2,2098.4h0M2135.1,1996.7h0M2020.6,2133.1h0M2023.3,2096.9h0M2109.3,2017.9h0M2110.4,2042.6h0M2010.8,2100.6h0M2045.8,2060.0h0M2047.8,2084.0h0M2010.9,2105.5h0M2057.8,2079.0h0M2152.1,1988.6h0M2010.2,2108.5h0M2017.5,2113.7h0M2058.5,2088.0h0M2039.4,2075.2h0M1998.1,2109.7h0M2016.8,2082.0h0M1958.6,2164.3h0M2126.9,1998.5h0M1982.7,2147.1h0M2059.3,2046.1h0M2090.0,2041.9h0M2081.7,2030.6h0M2112.0,2007.7h0M2014.7,2109.6h0M2054.9,2082.9h0M2069.9,2060.4h0M2146.0,1971.5h0M2112.3,2031.3h0M1980.7,2140.9h0M2051.1,2068.7h0M2043.2,2088.1h0M2053.9,2081.9h0M2010.4,2131.8h0M2088.4,2036.3h0M2059.4,2059.6h0M2036.4,2093.8h0M2135.2,1981.0h0M2156.3,1984.7h0M2040.5,2052.1h0M1985.2,2130.7h0M2027.2,2070.7h0M2046.0,2075.3h0M2056.4,2027.8h0M2017.4,2103.2h0M2006.2,2110.3h0M2020.7,2092.5h0M2109.3,1991.1h0M2113.9,2004.4h0M2067.2,2081.8h0M2060.7,2055.7h0M2029.0,2110.1h0M2029.8,2078.2h0M2017.0,2112.7h0M2081.5,2062.2h0M2038.7,2071.7h0M2011.0,2103.3h0M2005.8,2117.2h0M2080.4,2052.3h0M2030.1,2085.1h0M2035.7,2075.1h0M1956.7,2153.0h0M2039.2,2081.8h0M2118.7,2001.9h0M2119.1,1999.2h0M2028.8,2077.2h0M2051.5,2073.5h0M2122.6,2001.5h0M2101.2,2036.3h0M2019.0,2111.8h0M2035.9,2083.9h0M2086.9,2050.0h0M2028.4,2088.5h0M1994.4,2130.6h0M2061.1,2063.8h0M2011.2,2112.0h0M2122.2,1989.3h0M1978.0,2117.1h0M2002.9,2105.1h0M2028.1,2092.9h0M2009.7,2109.1h0M2016.0,2108.4h0M2004.9,2107.2h0M2040.6,2082.8h0M2077.7,2064.9h0M2032.9,2092.2h0M2085.9,2029.5h0M2077.4,2050.5h0M2070.4,2055.1h0M2036.1,2073.2h0M2155.7,1967.9h0M2075.8,2055.6h0M2022.0,2093.2h0M2011.5,2106.7h0M2157.4,1979.7h0M2087.9,2038.3h0M2003.0,2100.9h0M2034.1,2099.4h0M2020.2,2085.7h0M2125.8,2007.3h0M2043.1,2070.2h0M2029.8,2094.0h0M2102.6,2026.0h0M1991.5,2145.2h0M2007.4,2113.4h0M2008.4,2099.7h0M2037.5,2080.0h0M2045.8,2066.0h0M2146.1,1997.9h0M2072.0,2055.6h0M2037.3,2093.2h0M2064.0,2037.9h0M2112.4,2001.3h0M2162.8,1984.4h0M2033.8,2088.6h0M1998.2,2114.1h0M2092.4,2038.2h0M2090.3,2026.5h0M2040.2,2058.3h0M2019.6,2094.9h0M2027.9,2081.0h0M2054.7,2065.4h0M2019.4,2101.2h0M2016.5,2111.5h0M2040.3,2098.2h0M2123.2,2011.1h0M2099.5,2019.4h0M1967.3,2151.4h0M2091.9,2021.6h0M2045.4,2066.4h0M2056.8,2054.3h0M2138.0,1961.0h0M2014.2,2109.0h0M2054.1,2075.5h0M1968.1,2134.1h0M2113.5,2032.7h0M2080.2,2047.3h0M2172.3,1994.2h0M2028.0,2096.1h0M2161.1,1982.9h0M2085.3,2046.2h0M2038.1,2108.4h0M2042.2,2080.2h0M2110.9,2000.2h0M2064.9,2080.5h0M2041.7,2080.8h0M2021.4,2103.2h0M2124.5,1990.9h0M2069.9,2077.0h0M2121.4,1988.4h0M2113.4,2017.4h0M1994.1,2121.3h0M2072.2,2047.7h0M2046.4,2061.2h0M2069.2,2053.8h0M2118.5,1998.1h0M1997.3,2130.8h0M2053.4,2067.2h0M2090.2,2026.1h0M2010.0,2098.1h0M2026.0,2105.8h0M2078.7,2053.1h0M2013.8,2130.1h0M2010.8,2108.9h0M2029.3,2085.5h0M2008.2,2112.2h0M1993.4,2117.6h0M2026.4,2102.8h0M2119.3,2002.6h0M1984.7,2144.5h0M2043.3,2069.1h0M2096.4,2020.5h0M2129.5,2003.2h0M2065.0,2062.1h0M2055.5,2083.3h0M2085.2,2026.1h0M2030.1,2088.1h0M2130.9,2007.5h0M2146.6,2016.2h0M2048.3,2069.2h0M2060.7,2063.3h0M2011.8,2123.2h0M2072.8,2075.5h0M2022.2,2109.2h0M2134.4,1994.9h0M2123.3,1985.4h0M2147.2,1956.9h0M2043.3,2085.5h0M2112.6,2024.6h0M2076.4,2037.7h0M2010.7,2111.6h0M2051.7,2052.9h0M2016.6,2100.0h0M2068.3,2050.5h0M2025.6,2111.2h0M2136.9,1972.1h0M2060.7,2068.0h0M2084.1,1966.7h0M2093.0,2009.2h0M2103.5,2017.6h0M2073.6,2038.5h0M2055.7,2082.4h0M2112.9,2012.5h0M2120.2,1986.4h0M2153.2,1983.0h0M2135.3,1985.3h0M2154.9,1970.4h0M2026.3,2101.4h0M2122.4,1991.6h0M2075.7,2041.2h0M2056.6,2070.8h0M2149.7,1981.0h0M2022.2,2112.8h0M2064.0,2056.9h0M2043.5,2083.1h0M2016.3,2096.4h0M2131.6,2005.2h0M2089.4,2046.2h0M2004.2,2175.8h0M2145.1,2010.6h0M2005.4,2127.9h0M2093.2,2023.1h0M2080.0,2047.1h0M2022.3,2096.5h0M2022.4,2097.7h0M1972.9,2096.1h0M2012.0,2114.8h0M2098.3,1961.0h0M2061.8,2062.9h0M1999.4,2116.8h0M2024.0,2092.4h0M1987.8,2127.5h0M2069.3,2062.6h0M2059.3,2054.2h0M2102.3,2015.8h0M2012.6,2112.8h0M2049.2,2070.5h0M2092.7,2030.2h0M2055.8,2075.9h0M2024.0,2098.1h0M1953.8,2144.0h0M1979.4,2073.2h0M1992.2,2139.0h0M1956.8,2152.2h0M2002.0,2109.6h0M2062.2,2064.4h0M2132.0,1991.6h0M2019.4,2096.9h0M2121.2,1998.7h0M2007.7,2086.3h0M2026.8,2089.1h0M2085.4,2046.7h0M2036.9,2084.2h0M2141.4,1987.1h0M2120.0,1995.2h0M2084.6,2042.8h0M2076.5,2052.6h0M2051.5,2039.8h0M2041.0,2085.9h0M2054.8,2049.6h0M2018.6,2122.7h0M2020.8,2113.2h0M2050.4,2093.0h0M2082.0,2059.1h0M1988.4,2127.3h0M1980.7,2093.7h0M2151.8,1984.4h0M2139.8,1994.6h0M2028.3,2067.6h0M2013.7,2121.4h0M2062.4,2066.1h0M2128.5,2001.0h0M2029.9,2091.3h0M2097.6,2022.0h0M2031.5,2075.8h0M2133.2,2055.4h0M2072.5,2015.2h0M2117.7,2008.2h0M2072.1,2052.9h0M2029.3,2044.7h0M2031.9,2091.1h0M2046.8,2071.2h0M2129.2,2011.0h0M2111.1,2017.5h0M2019.2,2101.4h0M2016.4,2104.1h0M2166.5,1955.3h0M2073.3,2054.3h0M2020.5,2120.1h0M1995.7,2126.1h0M2002.8,2126.6h0M1989.8,2116.6h0M2152.2,1970.3h0M2082.3,2032.9h0M2015.1,2119.9h0M1986.5,2139.4h0M2012.2,2133.9h0M2051.7,2078.3h0M1990.2,2121.2h0M2114.0,2026.2h0M2185.3,1978.6h0M2105.3,2029.8h0M2050.0,2045.4h0M2039.6,2086.5h0M2043.7,2081.4h0M2003.3,2109.9h0M2045.9,2082.9h0M2130.2,2007.5h0M2045.8,2067.5h0M2034.0,2063.7h0M2120.5,2003.9h0M2005.8,2113.1h0M2002.4,2114.1h0M2077.5,2038.1h0M2070.0,2048.1h0M1984.5,2117.6h0M1948.4,2159.2h0M2042.8,2059.3h0M2012.2,2082.7h0M2056.4,2081.2h0M2160.4,1982.1h0M2015.2,2081.2h0M2043.4,2080.4h0M2094.3,2018.4h0M2086.6,2040.1h0M2039.1,2079.9h0M2123.9,1978.1h0M2110.6,2025.5h0M2020.8,2114.2h0M1989.1,2129.3h0M2079.8,2045.5h0M2128.7,1989.9h0M2137.1,1986.0h0M2105.1,2050.6h0M2071.9,2058.2h0M2005.1,2094.1h0M2054.8,2063.6h0M2010.9,2105.3h0M2136.5,1987.3h0M2020.7,2092.9h0M2073.0,2062.5h0M2071.9,2059.6h0M1962.2,2156.5h0M1968.9,2142.8h0M2139.3,1965.4h0M2104.3,2032.6h0M2057.5,2057.1h0M2179.3,2005.2h0M2048.6,2065.9h0M1989.5,2121.4h0M2126.6,2009.8h0M2059.3,2069.7h0M2137.7,1980.3h0M1986.0,2124.1h0M2036.2,2086.3h0M2093.5,2030.7h0M2096.1,2015.1h0M2041.1,2085.2h0M2103.4,2030.8h0M2051.9,2081.1h0M2056.2,2061.3h0M2022.6,2090.2h0M2082.0,2045.3h0M2130.6,1996.1h0M2016.3,2105.3h0M2036.3,2084.2h0M2002.0,2120.9h0M2084.9,2043.4h0M2071.1,2068.3h0M1980.0,2139.8h0M1988.8,2105.0h0M2120.4,1997.7h0M2100.9,2041.6h0M2015.6,2096.7h0M2038.1,2072.5h0M2078.6,2045.0h0M2027.2,2082.2h0M2026.0,2099.0h0M2003.0,2095.6h0M2101.2,2037.0h0M2041.2,2077.2h0M2062.9,2077.5h0M2022.6,2105.6h0M2088.0,2045.5h0M2137.3,1972.7h0M2008.2,2079.5h0M2129.3,1992.0h0M2107.6,2025.5h0M2009.9,2098.1h0M2061.4,2061.7h0M2051.8,2059.6h0M2048.4,2084.2h0M2102.9,2028.6h0M2075.8,2029.8h0M2079.0,2106.7h0M2008.6,2129.3h0M2056.0,2057.4h0M2075.8,2036.8h0M2127.0,1974.6h0M2081.7,2034.8h0M2051.3,2060.5h0M2122.4,1996.0h0M2066.7,2059.2h0M2066.8,2103.5h0M2090.2,2028.2h0M2044.1,2081.9h0M2114.6,2028.8h0M2057.3,2070.7h0M2142.9,2009.7h0M2074.5,2067.3h0M2125.2,2011.5h0M2026.4,2083.1h0M2125.0,1998.9h0M2028.2,2092.8h0M1997.0,2119.4h0M2176.5,1970.1h0M2066.6,2059.0h0M2128.1,1989.0h0M2046.9,2087.1h0M2076.8,2055.6h0M2152.7,1966.6h0M2000.8,2111.4h0M2000.7,2120.1h0M2064.9,2043.8h0M2020.1,2104.7h0M1997.9,2112.9h0M1974.5,2139.2h0M1993.4,2124.6h0M2070.5,2056.3h0M2072.1,2045.9h0M1975.2,2142.3h0M1980.0,2140.2h0M1995.8,2108.4h0M2032.4,2071.8h0M2088.4,2038.1h0M2145.4,1984.0h0M2078.7,2040.5h0M2154.4,1963.4h0M2123.6,2001.8h0M2104.9,2017.2h0M2101.3,2016.9h0M2142.8,2000.7h0M2000.9,2099.9h0M2049.4,2063.6h0M2111.7,2033.2h0M2022.0,2096.0h0M2072.0,2017.6h0M2035.7,2095.8h0M2075.7,2041.1h0M2136.9,1966.4h0M2105.9,2019.6h0M2021.6,2087.5h0M2061.4,2068.4h0M1994.1,2132.0h0M1964.3,2149.1h0M2095.8,2028.4h0M2004.3,2122.8h0M2112.4,2015.4h0M2029.9,2095.4h0M2078.1,2035.7h0M2009.2,2112.1h0M2043.5,2075.2h0M2026.0,2101.2h0M2115.7,2033.2h0M2012.6,2114.6h0M1995.6,2114.3h0M2059.4,2066.4h0M2087.8,2029.6h0M2020.5,2105.0h0M2083.2,2041.6h0M2159.8,2008.3h0M2103.0,2039.2h0M2045.8,2063.4h0M2061.6,2063.3h0M2053.2,2057.4h0M2044.2,2064.9h0M2108.1,2012.5h0M2050.8,2081.2h0M1983.9,2137.9h0M2049.3,2083.9h0M2062.5,2050.2h0M2016.6,2101.8h0M2095.8,2009.0h0M2066.7,2065.7h0M2034.0,2076.3h0M2154.5,1975.9h0M2039.9,2051.1h0M2044.5,2071.7h0M2019.9,2120.3h0M2035.2,2096.6h0M2127.1,2020.6h0M2018.5,2114.7h0M2006.3,2131.6h0M2009.5,2083.6h0M2029.4,2083.4h0M1997.8,2108.5h0M2111.7,2024.3h0M2009.0,2098.8h0M2107.7,2022.1h0M2043.5,2081.7h0M2061.0,2047.6h0M2082.9,2050.7h0M2128.9,2019.1h0M2103.7,2032.9h0M2062.5,2066.1h0M2003.3,2118.5h0M2011.6,2114.7h0M2025.1,2089.1h0M2000.1,2113.0h0M2133.4,2055.5h0M2006.4,2112.0h0M2139.8,1975.5h0M2036.4,2088.3h0M2112.6,2039.3h0M2016.6,2099.9h0M2028.7,2107.5h0M2053.6,2101.3h0M2052.0,2079.5h0M1997.7,2108.5h0M1986.0,2135.8h0M2024.3,2099.6h0M2065.6,2064.7h0M2011.2,2114.2h0M2026.2,2088.4h0M2018.6,2102.4h0M2049.0,2085.7h0M2018.8,2113.5h0M2034.0,2083.6h0M2126.3,2000.9h0M1977.4,2143.9h0M2156.8,1991.1h0M2081.2,2054.3h0M2052.4,2098.4h0M2099.0,2031.8h0M2016.6,2099.8h0M2021.0,2067.6h0M1969.0,2153.5h0M2009.5,2118.9h0M2134.9,1996.6h0M2088.8,2041.6h0M1989.0,2136.1h0M2045.1,2078.4h0M2075.2,2047.9h0M2050.6,2064.8h0M2015.6,2089.1h0M2084.0,2064.6h0M2023.6,2099.0h0M2098.6,2031.1h0M2031.9,2092.8h0M1963.5,2152.7h0M2024.6,2091.5h0M2023.2,2096.7h0M2080.8,2039.2h0M2072.5,2076.4h0M2057.5,2080.2h0M2016.7,2105.1h0M2079.1,2055.4h0M2090.5,2030.2h0M2130.1,1996.0h0M2022.6,2106.5h0M2024.8,2096.2h0M2007.5,2094.3h0M2079.0,2053.5h0M2081.6,2050.8h0M2006.7,2124.5h0M2060.9,2054.8h0M2132.7,1979.4h0M1971.9,2130.9h0M2024.8,2110.7h0M2045.8,2077.5h0M2032.3,2090.2h0M2074.2,2049.8h0M1986.1,2124.8h0M2072.6,2034.9h0M1976.6,2125.9h0M2072.9,2037.7h0M1984.6,2126.0h0M2023.0,2114.6h0M2066.6,2060.4h0M2086.8,2040.9h0M2022.1,2085.2h0M2097.1,2021.4h0M2095.6,2048.9h0M1981.2,2116.2h0M2100.0,2032.2h0M2034.7,2093.0h0M2147.3,1990.1h0M2131.2,1991.8h0M2025.2,2089.0h0M2134.8,1960.8h0M2042.4,2106.5h0M2048.8,2084.4h0M2039.9,2072.3h0M2035.9,2102.2h0M2082.0,2047.2h0M1996.8,2102.2h0M2093.4,2041.4h0M2029.1,2095.1h0M2149.3,1976.6h0M1991.6,2131.9h0M2077.8,2036.5h0M2090.9,2030.6h0M2094.3,2043.9h0M2040.0,2076.1h0M2017.8,2107.9h0M2025.4,2090.3h0M2115.7,1997.3h0M2099.2,2020.9h0M2015.1,2108.8h0M2023.4,2092.0h0M2086.8,2024.6h0M2159.3,1976.7h0M1989.1,2125.2h0M2014.1,2091.6h0M2035.0,2064.9h0M2119.6,2059.4h0M2012.4,2099.4h0M2164.0,1998.5h0M2134.0,1979.0h0M1961.8,2150.2h0M2020.7,2099.3h0M2109.7,2024.9h0M1987.6,2132.7h0M2005.8,2104.9h0M2126.9,1978.2h0M2010.4,2109.4h0M2138.5,1973.7h0M2074.0,2051.5h0M2096.2,2038.5h0M2130.7,1999.1h0M1961.5,2094.0h0M1982.2,2123.2h0M2041.5,2074.6h0M2012.8,2149.0h0M1971.0,2149.7h0M2018.1,2089.8h0M2116.6,2022.4h0M2061.5,2070.8h0M2070.5,2042.6h0M2114.4,2023.4h0M2113.4,2011.5h0M2097.0,2023.5h0M2036.4,2078.3h0M2089.5,2016.8h0M2136.4,1998.7h0M2063.0,2082.2h0M2008.6,2107.3h0M2131.3,2006.4h0M2074.9,2044.8h0M2042.7,2084.0h0M1978.9,2128.3h0M2048.8,2086.8h0M2097.8,2035.9h0M2111.6,2011.3h0M2062.8,2049.1h0M2054.4,2070.7h0M2152.4,1977.0h0M1996.5,2138.4h0M2145.0,1976.9h0M2003.3,2123.2h0M2002.6,2129.9h0M1995.7,2114.6h0M2040.2,2087.7h0M2166.6,1972.3h0M2061.2,2053.6h0M1995.9,2099.3h0M2038.9,2061.1h0M2028.8,2060.6h0M2010.8,2112.5h0M2039.6,2081.7h0M2046.6,2063.4h0M2051.4,2067.3h0M2043.1,2082.9h0M1980.4,2125.3h0M2080.4,2048.5h0M2128.6,2006.3h0M2022.8,2087.0h0M2155.4,1971.6h0M2024.0,2088.4h0M1986.3,2121.8h0M1995.9,2100.2h0M1973.0,2143.8h0M1998.0,2121.6h0M2010.9,2068.6h0M2097.4,2026.1h0M1971.2,2143.1h0M2027.6,2081.7h0M2022.8,2106.1h0M2120.9,1991.4h0M2083.4,2047.4h0M2099.3,2038.4h0M2090.4,2084.1h0M2013.8,2099.5h0M2000.7,2135.5h0M2019.3,2104.4h0M1990.1,2091.5h0M2047.2,2065.1h0M1974.1,2150.7h0M2046.0,2072.3h0M1996.9,2107.5h0M2085.6,2037.6h0M2147.8,1994.5h0M2146.2,1995.8h0M2040.0,2045.4h0M2015.7,2094.7h0M2118.0,2011.0h0M2002.4,2101.3h0M2109.3,2010.7h0M2140.6,1971.2h0M2095.5,2031.8h0M2054.5,2050.3h0M1980.9,2130.1h0M2074.3,2040.3h0M2093.4,2033.0h0M2090.2,2046.8h0M1979.6,2133.1h0M2142.7,1987.2h0M2022.8,2082.1h0M1998.8,2115.5h0M2130.2,1991.8h0M2105.2,2040.1h0M2010.9,2103.5h0M2111.8,2002.2h0M2148.8,1993.3h0M2000.2,2125.5h0M1977.4,2133.8h0M2000.6,2128.0h0M2171.9,1982.7h0M1991.7,2108.4h0M2094.9,2035.9h0M2031.4,2092.3h0M2044.8,2120.4h0M2014.1,2099.3h0M2020.4,2094.8h0M2072.1,2047.9h0M2125.7,2020.6h0M2080.4,2058.4h0M2034.4,2070.7h0M2151.1,1999.2h0M1988.9,2134.1h0M2094.3,2023.4h0M2004.6,2110.9h0M1978.4,2126.9h0M1992.8,2125.8h0M2067.8,2057.6h0M2080.9,2052.1h0M2018.2,2094.5h0M2008.8,2101.2h0M2002.0,2111.9h0M2073.6,2048.2h0M2004.2,2108.0h0M2093.2,2052.8h0M2020.1,2080.8h0M1990.9,2108.4h0M2060.6,2073.5h0M2106.3,2039.9h0M2066.8,2059.6h0M2003.9,2141.7h0M2023.2,2089.4h0M2042.9,2090.0h0M2043.7,2078.1h0M2020.4,2113.0h0M2035.9,2090.9h0M2075.4,2065.2h0M2104.0,1993.5h0M2094.5,2018.4h0M2076.5,2049.0h0M2127.0,2041.6h0M2118.3,1993.4h0M2028.3,2091.3h0M1982.2,2133.4h0M2080.9,2041.2h0M2019.1,2094.5h0M1999.6,2113.2h0M2096.9,2022.7h0M2084.7,2020.7h0M2042.1,2064.2h0M2093.6,2038.2h0M1985.0,2142.8h0M2090.4,2018.9h0M2120.2,2010.3h0M2009.5,2093.4h0M2052.3,2066.2h0M2135.3,1999.0h0M2024.7,2085.2h0M2056.6,2062.3h0M2099.3,2031.0h0M2139.3,1984.1h0M2153.5,1985.1h0M1965.1,2141.9h0M1960.9,2158.6h0M2094.7,2031.9h0M2030.2,2106.0h0M2119.1,1988.6h0M2053.1,2085.6h0M2116.4,2020.3h0M2012.3,2128.5h0M2053.9,2066.7h0M2034.8,2072.8h0M2083.3,2022.1h0M2122.1,2002.5h0M2081.9,2061.1h0M2050.3,2080.2h0M2072.5,2059.2h0M2121.2,2029.7h0M2057.8,2061.6h0M2040.7,2080.7h0M2029.7,2085.1h0M2105.2,2003.1h0M2068.8,2057.1h0M2105.3,2034.2h0M2114.4,2004.6h0M2109.6,2025.8h0M2046.5,2080.3h0M1982.8,2130.5h0M2038.0,2079.2h0M2106.1,2021.0h0M1982.6,2153.9h0M1985.4,2134.8h0M2137.9,1991.3h0M2035.5,2092.8h0M2031.2,2084.3h0M2012.8,2111.0h0M2064.4,2050.8h0M2053.9,2071.1h0M2061.7,2066.1h0M2052.9,2077.7h0M2012.7,2099.9h0M2071.6,2070.0h0M2064.5,2056.7h0M2004.3,2106.2h0M2025.5,2106.1h0M2098.7,2015.6h0M1978.0,2130.2h0M2069.9,2051.8h0M2059.5,2057.1h0M2134.6,2010.2h0M2090.8,2046.0h0M2051.3,2080.4h0M2133.5,2005.6h0M2003.3,2109.6h0M1979.3,2125.7h0M2017.0,2095.0h0M2021.7,2103.8h0M2069.4,2061.2h0M2085.6,2035.8h0M2051.6,2069.5h0M2099.6,2021.4h0M2039.6,2083.9h0M2002.3,2115.3h0M2098.9,2017.1h0M2033.5,2079.6h0M2103.1,2044.1h0M2041.6,2081.2h0M2027.7,2102.7h0M1984.0,2146.2h0M2059.7,2061.1h0M2052.9,2079.5h0M2109.1,2037.6h0M2130.6,2004.2h0M2060.4,2055.4h0M1995.0,2124.3h0M1969.5,2132.3h0M1989.2,2108.3h0M2146.6,1973.0h0M2010.8,2092.2h0M2090.5,2031.3h0M2126.3,2015.1h0M2076.0,2060.3h0M2164.9,1998.1h0M2084.4,2046.3h0M2041.6,2082.9h0M1960.5,2152.0h0M2059.7,2064.3h0M2037.8,2073.8h0M2087.8,2033.9h0M2148.7,1956.0h0M2137.0,2001.9h0M2075.2,2061.5h0M2014.8,2102.5h0M2016.1,2114.2h0M2038.8,2093.6h0M1990.6,2130.6h0M2030.0,2094.1h0M2090.5,1999.2h0M2011.1,2109.9h0M2059.0,2072.7h0M2105.4,2021.6h0M2146.2,1968.9h0M1981.8,2132.3h0M2002.9,2105.2h0M2046.9,2077.8h0M2131.1,2009.2h0M1960.7,2151.6h0M2030.8,2094.4h0M2041.1,2069.5h0M2109.0,2027.3h0M2061.6,2065.8h0M2039.4,2093.6h0M2022.8,2112.2h0M2001.4,2120.2h0M2063.1,2066.3h0M2117.9,2022.4h0M2112.0,2035.4h0M1994.5,2126.6h0M2124.8,1993.0h0M2148.6,1974.1h0M2017.5,2094.0h0M2036.8,2081.5h0M1981.3,2129.4h0M2061.3,2063.6h0M2099.6,2025.5h0M2080.8,2045.7h0M2086.5,2045.5h0M2005.1,2133.6h0M2011.5,2110.9h0M2040.9,2071.4h0M2055.8,2069.9h0M2019.3,2085.1h0M2021.9,2106.6h0M2053.0,2076.6h0M1970.5,2143.5h0M1974.7,2137.1h0M2001.1,2114.6h0M1993.7,2134.2h0M2027.8,2083.4h0M2098.9,2010.4h0M2031.9,2096.0h0M2090.6,2051.1h0M1996.5,2114.8h0M2140.0,1988.3h0M1958.2,2160.7h0M2026.3,2111.0h0M1964.9,2149.9h0M2101.6,2000.9h0M1992.5,2129.4h0M2004.0,2110.3h0M2029.7,2056.5h0M1994.0,2122.6h0M2047.3,2047.6h0M2091.5,2031.6h0M2025.4,2092.0h0M2038.9,2081.9h0M2062.3,2043.5h0M2057.6,2051.7h0M2040.9,2080.7h0M2103.7,2000.6h0M2021.9,2057.7h0M2066.6,2058.3h0M1984.3,2138.8h0M2063.2,2058.9h0M2065.5,2081.7h0M2050.6,2106.5h0M2073.1,2063.7h0M2030.1,2104.3h0M2089.9,2041.3h0M2049.1,2080.4h0M1993.8,2108.4h0M2139.2,1987.5h0M2033.3,2084.4h0M2102.0,2027.4h0M2032.3,2076.4h0M2053.6,2072.9h0M2033.0,2096.5h0M2112.0,2010.9h0M2005.6,2111.6h0M2004.6,2106.9h0M2122.9,2014.3h0M2050.3,2071.9h0M2003.4,2121.5h0M1994.1,2119.1h0M1966.8,2142.3h0M2012.6,2103.7h0M2020.3,2105.8h0M2039.8,2080.1h0M2073.6,2043.8h0M2080.7,2042.0h0M2087.2,2040.8h0M1950.6,2157.0h0M2050.1,2079.5h0M2000.6,2122.4h0M2081.5,2040.3h0M2048.7,2056.2h0M2021.3,2100.9h0M2115.8,2002.3h0M1999.8,2095.8h0M2010.4,2091.7h0M2035.4,2078.3h0M2017.1,2099.9h0M2050.8,2075.4h0M2062.5,2065.8h0M1991.1,2129.5h0M2007.6,2107.3h0M2064.2,2056.6h0M2062.8,2040.2h0M2059.1,2049.5h0M2126.3,2015.4h0M2000.4,2112.7h0M2023.9,2063.2h0M2056.6,2066.7h0M2035.0,2084.2h0M2032.8,2076.3h0M2018.6,2099.9h0M2083.3,2041.7h0M2048.2,2076.8h0M1998.1,2130.4h0M2090.6,2040.2h0M2013.6,2109.6h0M2078.0,2071.4h0M1989.3,2131.4h0M2087.7,2031.8h0M2067.2,2060.7h0M2040.6,2071.2h0M2075.2,2045.0h0M2084.3,2044.3h0M2173.8,1972.9h0M1992.5,2134.9h0M2142.3,1976.5h0M1998.9,2115.5h0M2062.4,2060.8h0M2009.6,2106.9h0M2169.5,1990.0h0M2013.8,2109.7h0M1957.7,2124.7h0M2117.1,1986.3h0M2033.7,2095.0h0M2073.1,2065.6h0M2063.9,2043.7h0M2000.3,2109.5h0M2085.9,2036.6h0M2122.8,2005.6h0M2056.8,2057.9h0M2141.7,1980.7h0M2041.0,2069.7h0M1976.6,2139.0h0M2098.6,2036.3h0M2055.8,2076.8h0M2065.5,2049.0h0M2132.6,2000.1h0M2056.8,2056.7h0M2146.1,1977.0h0M1962.8,2158.5h0M1990.5,2131.6h0M2086.9,2033.2h0M2065.5,2051.3h0M1993.2,2126.7h0M2027.5,2142.1h0M2078.9,2045.7h0M2065.5,2034.6h0M2103.3,2032.5h0M2149.3,1979.1h0M2089.7,2034.9h0M2020.9,2100.5h0M2013.6,2106.9h0M2074.3,2057.7h0M2001.5,2136.2h0M2178.0,1958.5h0M2068.7,2062.9h0M2058.2,2053.3h0M2013.9,2105.8h0M2029.4,2087.1h0M2146.0,2002.8h0M2038.2,2081.8h0M2060.2,2073.6h0M1966.7,2152.4h0M2070.6,2049.4h0M1995.0,2124.5h0M2098.3,2026.3h0M2032.7,2094.1h0M2039.4,2067.6h0M2011.4,2100.1h0M2098.3,2041.2h0M2047.6,2083.7h0M2029.8,2073.6h0M2117.5,2010.3h0M2125.4,2007.4h0M1993.0,2110.2h0M2022.2,2092.4h0M2014.7,2105.4h0M2017.1,2110.0h0M2029.2,2086.4h0M2079.2,2061.7h0M2080.8,2046.5h0M2077.7,2052.5h0M2125.9,1993.9h0M2016.4,2098.3h0M2089.1,2025.6h0M2068.8,2064.2h0M2034.2,2106.7h0M1959.8,2141.1h0M2149.0,1988.5h0M2046.0,2069.8h0M2068.0,2046.4h0M2139.9,1995.4h0M2069.8,2049.3h0M2088.7,2034.9h0M2068.5,2053.0h0M2069.4,2047.9h0M2009.8,2094.3h0M1989.7,2132.8h0M2108.4,1992.0h0M2073.5,2053.4h0M2016.7,2079.5h0M2113.4,2027.4h0M2031.7,2096.4h0M2087.9,2057.1h0M1988.4,2134.2h0M2053.0,2072.8h0M1984.6,2125.7h0M2043.9,2079.6h0M2109.6,2024.4h0M2081.9,2044.9h0M2032.6,2082.0h0M2007.2,2096.9h0M2095.2,2032.1h0M2064.9,2077.0h0M2010.8,2114.9h0M2053.1,2045.6h0M2099.0,2022.9h0M1983.6,2119.0h0M1981.9,2122.8h0M2129.7,2002.4h0M2038.4,2082.9h0M1954.9,2118.9h0M2002.0,2118.1h0M2039.0,2090.4h0M1998.8,2133.9h0M2095.0,2048.8h0M2155.9,1964.2h0M2024.2,2098.7h0M2052.5,2071.5h0M2115.7,2016.2h0M2090.4,2047.7h0M1989.3,2118.6h0M2040.9,2095.2h0M2140.1,1982.1h0M2023.5,2123.0h0M1977.7,2137.2h0M2058.2,2085.6h0M2162.6,1947.9h0M1967.8,2156.1h0M2077.3,2033.3h0M2121.3,2008.7h0M2057.2,2064.9h0M2093.9,2050.3h0M2059.6,2070.1h0M2033.8,2091.4h0M1976.1,2138.9h0M2109.1,2025.1h0M2135.6,1996.1h0M2094.1,2033.2h0M2040.2,2073.7h0M2119.8,2002.2h0M2121.1,1991.5h0M2103.4,2048.1h0M2121.2,2005.2h0M2026.2,2099.7h0M2025.2,2078.5h0M2015.7,2106.7h0M2050.4,2079.5h0M2043.0,2074.9h0M2042.8,2083.1h0M2034.9,2083.7h0M2047.8,2074.6h0M2083.4,2027.7h0M2017.8,2091.0h0M2018.5,2101.5h0M2031.3,2089.6h0M2148.1,1974.2h0M2145.8,1987.4h0M2030.7,2076.5h0M2054.7,2028.2h0M2122.3,2013.3h0M2047.5,2087.9h0M2107.1,2028.8h0M2066.7,2051.3h0M2006.3,2121.9h0M1955.8,2148.7h0M2054.8,2059.1h0M1946.8,2147.0h0M2103.5,2004.6h0M1981.7,2130.8h0M2018.8,2082.3h0M1972.8,2141.4h0M2037.1,2090.3h0M1990.4,2136.3h0M2020.0,2097.5h0M2078.5,2038.0h0M2155.6,1979.0h0M2047.4,2085.9h0M2026.1,2076.0h0M2138.1,1997.4h0M2083.7,2038.9h0M2076.8,2051.1h0M2149.5,1999.0h0M2086.6,2045.9h0M2083.6,2045.9h0M2045.8,2080.5h0M2040.8,2097.7h0M2066.6,2062.2h0M2043.1,2076.3h0M2140.7,1980.7h0M2133.0,1970.6h0M2026.3,2098.6h0M2036.9,2087.4h0M2085.3,2053.6h0M2096.9,2031.9h0M2096.7,2046.8h0M2061.1,2068.4h0M2123.4,1999.7h0M2020.2,2082.2h0M2009.2,2110.5h0M2067.9,2055.9h0M1999.6,2114.7h0M1998.5,2104.0h0M1972.5,2153.3h0M2043.0,2077.5h0M2080.2,2069.7h0M2052.4,2064.6h0M2031.8,2102.3h0M2006.8,2116.7h0M2037.7,2101.8h0M2131.0,1983.4h0M2121.2,1997.6h0M2089.6,2040.9h0M2144.3,1997.7h0M2060.5,2028.8h0M2090.4,2058.1h0M2111.1,2008.4h0M2053.2,2086.3h0M2140.9,1967.5h0M2036.0,2090.7h0M2092.2,2047.2h0M2060.8,2075.8h0M2030.4,2094.7h0M2029.8,2074.0h0M2060.8,2067.5h0M2104.3,2030.6h0M2022.1,2093.5h0M2010.3,2103.3h0M2094.6,2027.6h0M2040.4,2081.2h0M1965.8,2148.3h0M2123.3,2007.8h0M2052.2,2087.6h0M2012.6,2109.6h0M2055.9,2072.7h0M2112.7,2010.9h0M2038.3,2075.3h0M2104.5,2030.2h0M1994.9,2125.4h0M2146.0,1977.3h0M2025.3,2100.4h0M1993.4,2134.5h0M2031.8,2098.8h0M2096.7,2030.5h0M2042.0,2103.8h0M2041.1,2093.6h0M2058.8,2068.3h0M2073.6,2041.4h0M2059.2,2037.7h0M2168.1,1978.9h0M1988.7,2114.0h0M2109.7,2018.1h0M2068.0,2067.9h0M1984.5,2128.2h0M2023.8,2082.6h0M2125.8,1991.2h0M2071.3,2041.2h0M2139.8,1995.7h0M2095.5,2016.6h0M2038.8,2102.8h0M2144.9,1990.0h0M2004.6,2071.7h0M2122.3,1992.7h0M2157.0,1985.6h0M2026.0,2074.3h0M2018.4,2120.1h0M2136.5,2005.8h0M2085.4,2035.4h0M2064.0,2053.7h0M2022.9,2079.7h0M2059.4,2061.5h0M2056.3,2086.1h0M2149.8,1986.2h0M2135.8,2003.4h0M2151.9,1988.6h0M1997.8,2116.9h0M1995.1,2123.1h0M2038.7,2095.8h0M2065.8,2034.7h0M2136.8,1973.9h0M2041.9,2090.4h0M2107.4,2014.9h0M2060.0,2072.6h0M2071.3,2065.6h0M2121.0,2018.0h0M2143.1,1997.8h0M2109.1,2023.7h0M2128.4,2022.4h0M2156.4,2000.1h0M1986.0,2135.6h0M2054.6,2064.9h0M2066.8,2041.1h0M2063.2,2060.7h0M1995.5,2110.6h0M2030.1,2105.8h0M2077.4,2066.6h0M2118.5,2020.8h0M2129.3,2022.3h0M2042.8,2081.2h0M1968.7,2124.2h0M2047.4,2070.4h0M1975.1,2135.7h0M2112.0,2024.9h0M2050.7,2080.0h0M1996.5,2137.2h0M2076.3,2045.9h0M2064.2,2063.0h0M2152.7,1977.5h0M2080.0,2056.6h0M1973.6,2129.9h0M2014.6,2121.4h0M2027.9,2089.8h0M1954.7,2159.3h0M2025.3,2098.3h0M2007.8,2133.4h0M2036.3,2086.2h0M2015.6,2119.1h0M2075.2,2051.3h0M1959.2,2155.0h0M2117.6,2008.3h0M1989.8,2115.0h0M2068.3,2054.7h0M1976.7,2126.1h0M2095.6,2026.3h0M2107.5,2027.5h0M1987.1,2117.4h0M2043.2,2094.0h0M1970.8,2152.4h0M2031.1,2090.2h0M2093.9,2048.8h0M2112.6,2004.3h0M2111.7,2018.2h0M2150.3,1989.6h0M2030.0,2077.7h0M2044.1,2072.5h0M2071.2,2077.6h0M2040.3,2060.2h0M2140.9,1969.4h0M2041.9,2050.5h0M2058.1,2071.7h0M2112.5,2019.9h0M2059.1,2068.5h0M2066.4,2066.3h0M2128.7,1981.6h0M2035.7,2068.2h0M2099.9,2041.0h0M2023.5,2100.1h0M2058.3,2063.4h0M2053.9,2056.8h0M2065.9,2060.3h0M1984.4,2134.3h0M2010.9,2110.9h0M2097.7,2028.5h0M2081.5,2018.7h0M2018.1,2102.7h0M2128.1,1970.3h0M2148.6,1967.6h0M2056.9,2050.0h0M1983.0,2132.6h0M2038.3,2066.2h0M2012.0,2122.7h0M2085.5,2043.7h0M1989.4,2122.5h0M2012.6,2114.5h0M2079.7,2045.4h0M2060.8,2004.8h0M2140.5,1988.4h0M1991.4,2141.3h0M2164.6,1969.3h0M1992.9,2122.5h0M2078.2,2056.7h0M2049.9,2068.8h0M2062.5,2068.2h0M2037.8,2090.7h0M2146.2,1993.5h0M2016.2,2105.2h0M2052.4,2060.7h0M2037.4,2085.4h0M2116.0,1992.7h0M1973.3,2132.6h0M2019.7,2099.0h0M2056.9,2057.9h0M2102.6,2029.0h0M2057.8,2064.7h0M2059.2,2055.3h0M2049.9,2074.4h0M1974.1,2135.8h0M2068.1,2034.6h0M2051.8,2071.3h0M2013.1,2100.1h0M2135.0,1995.4h0M2001.2,2116.6h0M2105.4,1980.4h0M2099.6,2031.8h0M2122.7,2008.2h0M2051.6,2124.2h0M2035.0,2097.5h0M2108.3,2036.2h0M2023.1,2097.7h0M1986.8,2122.0h0M2116.8,2002.7h0M2045.5,2097.3h0M2081.6,2036.1h0M1983.0,2137.9h0M2005.6,2126.5h0M2030.3,2090.4h0M2034.5,2091.9h0M2054.2,2066.0h0M2114.6,2018.4h0M2016.9,2098.2h0M2039.8,2075.0h0M2079.6,2060.4h0M2014.5,2130.2h0M1981.7,2113.3h0M2120.4,1973.8h0M2075.1,2063.7h0M2102.4,2022.7h0M2041.5,2087.6h0M2068.8,2057.5h0M2097.9,2057.6h0M2031.0,2099.0h0M2064.9,2041.4h0M2073.6,2048.3h0M2064.2,2089.0h0M2057.9,2063.3h0M2036.9,2088.7h0M2010.9,2107.1h0M2025.0,2090.0h0M2002.3,2106.9h0M2113.8,2017.2h0M1993.4,2105.7h0M2024.4,2087.2h0M2075.6,2038.3h0M2034.9,2093.9h0M2021.4,2098.9h0M1988.4,2122.4h0M2054.5,2062.5h0M1975.5,2124.6h0M2014.3,2093.3h0M2094.1,2038.6h0M2137.1,1993.2h0M1987.0,2131.5h0M2027.2,2077.6h0M2061.3,2059.4h0M2042.2,2100.1h0M2051.6,2087.5h0M2021.1,2114.3h0M2082.9,2034.9h0M1991.1,2138.3h0M2101.6,2043.1h0M2144.0,2003.0h0M2070.0,2050.1h0M2057.5,2073.1h0M2023.9,2091.8h0M2086.0,2042.0h0M2047.1,2074.1h0M2130.0,2020.0h0M2039.1,2075.3h0M2083.1,2042.7h0M2064.3,2050.9h0M2133.4,2010.4h0M2096.0,2022.4h0M2013.1,2121.1h0M2044.7,2075.0h0M2070.2,2048.9h0M2014.5,2104.1h0M2011.3,2116.3h0M2036.9,2061.6h0M2139.2,1995.8h0M2129.0,1998.0h0M2039.3,2088.2h0M2050.5,2079.6h0M2071.5,2051.7h0M2044.0,2072.3h0M2070.4,2058.1h0M2134.4,2003.1h0M2056.2,2092.3h0M2032.6,2100.7h0M2024.3,2079.6h0M2047.3,2065.4h0M2036.6,2070.4h0M2056.3,2054.1h0M1990.3,2116.7h0M2153.1,1982.7h0M2057.0,2069.5h0M2060.9,2063.6h0M2016.6,2099.2h0M2017.1,2089.4h0M1996.5,2123.1h0M2100.0,2035.6h0M1985.9,2140.4h0M2035.3,2105.2h0M2048.5,2068.3h0M1988.8,2131.8h0M2163.1,1981.7h0M2100.7,2020.4h0M1963.8,2161.8h0M2082.1,2029.7h0M2135.0,1991.2h0M2028.9,2099.6h0M2054.8,2073.6h0M2074.7,2053.3h0M2057.1,2086.4h0M2005.1,2126.1h0M2001.0,2114.2h0M1961.9,2166.5h0M2027.7,2098.0h0M2041.4,2074.9h0M2068.4,2071.7h0M2095.3,2023.2h0M2045.3,2061.4h0M2140.1,2014.8h0M2176.9,1969.9h0M1992.5,2119.2h0M2034.9,2090.1h0M2140.3,1997.8h0M2150.8,1987.7h0M2054.8,2055.8h0M2024.4,2091.7h0M2043.4,2073.2h0M2087.0,2025.7h0M2052.2,2090.9h0M2144.2,2056.0h0M2001.6,2104.4h0M2038.2,2081.7h0M2108.7,2055.2h0M2004.2,2107.5h0M2101.4,2050.2h0" stroke="#8cb014" stroke-width="3.8" stroke-linecap="round" fill="none"/>
<g clip-path="url(#cp4)"><line x1="1873.3" y1="2206.3" x2="2251" y2="1859.5" stroke="#3243a8" stroke-width="2.4" stroke-dasharray="8.5 6.5"/><line x1="1873.3" y1="2262.7" x2="2251" y2="1915.9" stroke="#3243a8" stroke-width="2.4" stroke-dasharray="8.5 6.5"/></g>
<line x1="1873.3" y1="2234.5" x2="2251" y2="1887.7" stroke="#e0352b" stroke-width="2.6"/>
<rect x="1873.3" y="1887.7" width="377.7" height="346.8" fill="none" stroke="#666" stroke-width="1.8"/>
<text x="1867.3" y="2240.8" font-size="18.8" font-weight="bold" text-anchor="end" fill="#222" >0</text>
<text x="1873.3" y="2260.7" font-size="18.8" font-weight="bold" text-anchor="middle" fill="#222" >0</text>
<text x="1867.3" y="2197.5" font-size="18.8" font-weight="bold" text-anchor="end" fill="#222" >2</text>
<text x="1920.5" y="2260.7" font-size="18.8" font-weight="bold" text-anchor="middle" fill="#222" >2</text>
<text x="1867.3" y="2154.1" font-size="18.8" font-weight="bold" text-anchor="end" fill="#222" >4</text>
<text x="1967.7" y="2260.7" font-size="18.8" font-weight="bold" text-anchor="middle" fill="#222" >4</text>
<text x="1867.3" y="2110.8" font-size="18.8" font-weight="bold" text-anchor="end" fill="#222" >6</text>
<text x="2014.9" y="2260.7" font-size="18.8" font-weight="bold" text-anchor="middle" fill="#222" >6</text>
<text x="1867.3" y="2067.4" font-size="18.8" font-weight="bold" text-anchor="end" fill="#222" >8</text>
<text x="2062.2" y="2260.7" font-size="18.8" font-weight="bold" text-anchor="middle" fill="#222" >8</text>
<text x="1867.3" y="2024.0" font-size="18.8" font-weight="bold" text-anchor="end" fill="#222" >10</text>
<text x="2109.4" y="2260.7" font-size="18.8" font-weight="bold" text-anchor="middle" fill="#222" >10</text>
<text x="1867.3" y="1980.7" font-size="18.8" font-weight="bold" text-anchor="end" fill="#222" >12</text>
<text x="2156.6" y="2260.7" font-size="18.8" font-weight="bold" text-anchor="middle" fill="#222" >12</text>
<text x="1867.3" y="1937.4" font-size="18.8" font-weight="bold" text-anchor="end" fill="#222" >14</text>
<text x="2203.8" y="2260.7" font-size="18.8" font-weight="bold" text-anchor="middle" fill="#222" >14</text>
<text x="1867.3" y="1894.0" font-size="18.8" font-weight="bold" text-anchor="end" fill="#222" >16</text>
<text x="2251.0" y="2260.7" font-size="18.8" font-weight="bold" text-anchor="middle" fill="#222" >16</text>
<text x="2062.2" y="1882.5" font-size="21.2" font-weight="bold" text-anchor="middle" fill="#222" >R-square: 0.8894</text>
<text x="2062.2" y="2288.0" font-size="21.2" font-weight="bold" text-anchor="middle" fill="#222" >WNN</text>
<text x="0" y="0" transform="translate(1836.0,2061.1) rotate(-90)" font-size="20.8" font-weight="bold" text-anchor="middle" fill="#222" >Actual Data</text>
<circle cx="1919.3" cy="1917" r="2.4" fill="#8cb014"/>
<line x1="1897.3" y1="1939" x2="1939.3" y2="1939" stroke="#e0352b" stroke-width="2.6"/>
<line x1="1897.3" y1="1960.6" x2="1939.3" y2="1960.6" stroke="#3a4fbf" stroke-width="2.2" stroke-dasharray="8 6"/>
<text x="1945.0" y="1922.0" font-size="16.4" font-weight="bold" text-anchor="start" fill="#222" >Actual Data vs. WNN</text>
<text x="1945.0" y="1944.0" font-size="16.4" font-weight="bold" text-anchor="start" fill="#222" >Actual Data</text>
<text x="1945.0" y="1965.6" font-size="16.4" font-weight="bold" text-anchor="start" fill="#222" >Pred bnds (95%)</text>
</svg></body></html>
